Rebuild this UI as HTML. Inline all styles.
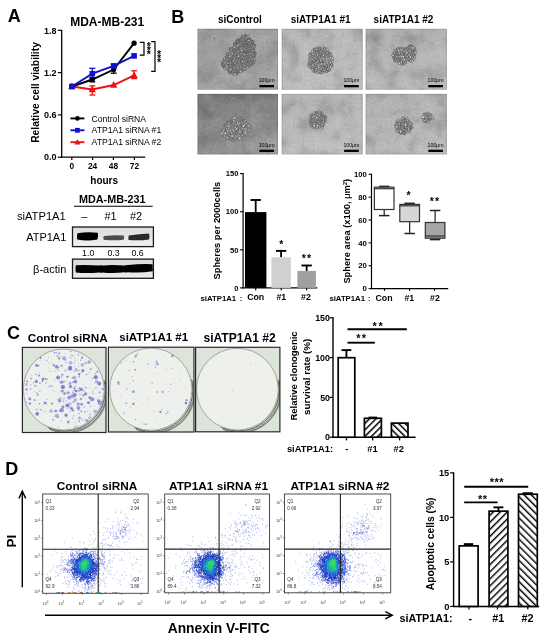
<!DOCTYPE html>
<html><head><meta charset="utf-8"><style>html,body{margin:0;padding:0;background:#fff}svg{display:block}text{font-family:"Liberation Sans",Arial,sans-serif}</style></head>
<body><svg width="550" height="642" viewBox="0 0 550 642">
<rect width="550" height="642" fill="#fff"/>
<defs>
<filter id="blur1" x="-30%" y="-60%" width="160%" height="220%"><feGaussianBlur stdDeviation="0.7"/></filter>
<linearGradient id="blotg" x1="0" y1="0" x2="0" y2="1"><stop offset="0" stop-color="#dedede"/><stop offset="0.5" stop-color="#e6e6e6"/><stop offset="1" stop-color="#f2f2f2"/></linearGradient>
<linearGradient id="blotg2" x1="0" y1="0" x2="0" y2="1"><stop offset="0" stop-color="#dadada"/><stop offset="0.5" stop-color="#e2e2e2"/><stop offset="1" stop-color="#eeeeee"/></linearGradient>
<filter id="blur05" x="-30%" y="-30%" width="160%" height="160%"><feGaussianBlur stdDeviation="1.2"/></filter>
<filter id="blur08" x="-30%" y="-60%" width="160%" height="220%"><feGaussianBlur stdDeviation="0.75"/></filter>
<filter id="blur03" x="-30%" y="-30%" width="160%" height="160%"><feGaussianBlur stdDeviation="0.5"/></filter>
<pattern id="hatchF" patternUnits="userSpaceOnUse" width="4.6" height="4.6" patternTransform="rotate(45)"><rect width="4.6" height="4.6" fill="#fff"/><rect x="0" y="0" width="1.5" height="4.6" fill="#000"/></pattern>
<pattern id="hatchB" patternUnits="userSpaceOnUse" width="4.6" height="4.6" patternTransform="rotate(-45)"><rect width="4.6" height="4.6" fill="#fff"/><rect x="0" y="0" width="1.5" height="4.6" fill="#000"/></pattern>
<pattern id="hatchF2" patternUnits="userSpaceOnUse" width="5.0" height="5.0" patternTransform="rotate(45)"><rect width="5" height="5" fill="#fff"/><rect x="0" y="0" width="1.45" height="5" fill="#000"/></pattern>
<pattern id="hatchB2" patternUnits="userSpaceOnUse" width="5.0" height="5.0" patternTransform="rotate(-45)"><rect width="5" height="5" fill="#fff"/><rect x="0" y="0" width="1.45" height="5" fill="#000"/></pattern>
<filter id="noise00" x="0" y="0" width="100%" height="100%"><feTurbulence type="fractalNoise" baseFrequency="0.06" numOctaves="3" seed="1" result="t"/><feColorMatrix in="t" type="matrix" values="0 0 0 0 1  0 0 0 0 1  0 0 0 0 1  0.4 0 0 0 -0.2" result="w"/><feColorMatrix in="t" type="matrix" values="0 0 0 0 0  0 0 0 0 0  0 0 0 0 0  -0.4 0 0 0 0.2" result="b"/><feMerge><feMergeNode in="w"/><feMergeNode in="b"/></feMerge><feComposite in2="SourceGraphic" operator="in"/></filter>
<filter id="noise01" x="0" y="0" width="100%" height="100%"><feTurbulence type="fractalNoise" baseFrequency="0.06" numOctaves="3" seed="2" result="t"/><feColorMatrix in="t" type="matrix" values="0 0 0 0 1  0 0 0 0 1  0 0 0 0 1  0.4 0 0 0 -0.2" result="w"/><feColorMatrix in="t" type="matrix" values="0 0 0 0 0  0 0 0 0 0  0 0 0 0 0  -0.4 0 0 0 0.2" result="b"/><feMerge><feMergeNode in="w"/><feMergeNode in="b"/></feMerge><feComposite in2="SourceGraphic" operator="in"/></filter>
<filter id="noise02" x="0" y="0" width="100%" height="100%"><feTurbulence type="fractalNoise" baseFrequency="0.06" numOctaves="3" seed="3" result="t"/><feColorMatrix in="t" type="matrix" values="0 0 0 0 1  0 0 0 0 1  0 0 0 0 1  0.4 0 0 0 -0.2" result="w"/><feColorMatrix in="t" type="matrix" values="0 0 0 0 0  0 0 0 0 0  0 0 0 0 0  -0.4 0 0 0 0.2" result="b"/><feMerge><feMergeNode in="w"/><feMergeNode in="b"/></feMerge><feComposite in2="SourceGraphic" operator="in"/></filter>
<filter id="noise10" x="0" y="0" width="100%" height="100%"><feTurbulence type="fractalNoise" baseFrequency="0.06" numOctaves="3" seed="4" result="t"/><feColorMatrix in="t" type="matrix" values="0 0 0 0 1  0 0 0 0 1  0 0 0 0 1  0.4 0 0 0 -0.2" result="w"/><feColorMatrix in="t" type="matrix" values="0 0 0 0 0  0 0 0 0 0  0 0 0 0 0  -0.4 0 0 0 0.2" result="b"/><feMerge><feMergeNode in="w"/><feMergeNode in="b"/></feMerge><feComposite in2="SourceGraphic" operator="in"/></filter>
<filter id="noise11" x="0" y="0" width="100%" height="100%"><feTurbulence type="fractalNoise" baseFrequency="0.06" numOctaves="3" seed="5" result="t"/><feColorMatrix in="t" type="matrix" values="0 0 0 0 1  0 0 0 0 1  0 0 0 0 1  0.4 0 0 0 -0.2" result="w"/><feColorMatrix in="t" type="matrix" values="0 0 0 0 0  0 0 0 0 0  0 0 0 0 0  -0.4 0 0 0 0.2" result="b"/><feMerge><feMergeNode in="w"/><feMergeNode in="b"/></feMerge><feComposite in2="SourceGraphic" operator="in"/></filter>
<filter id="noise12" x="0" y="0" width="100%" height="100%"><feTurbulence type="fractalNoise" baseFrequency="0.06" numOctaves="3" seed="6" result="t"/><feColorMatrix in="t" type="matrix" values="0 0 0 0 1  0 0 0 0 1  0 0 0 0 1  0.4 0 0 0 -0.2" result="w"/><feColorMatrix in="t" type="matrix" values="0 0 0 0 0  0 0 0 0 0  0 0 0 0 0  -0.4 0 0 0 0.2" result="b"/><feMerge><feMergeNode in="w"/><feMergeNode in="b"/></feMerge><feComposite in2="SourceGraphic" operator="in"/></filter>
<linearGradient id="grad00" x1="0" y1="0" x2="0.3" y2="1"><stop offset="0" stop-color="#fff" stop-opacity="0"/><stop offset="1" stop-color="#fff" stop-opacity="0.05"/></linearGradient>
<linearGradient id="grad01" x1="0" y1="0" x2="0.3" y2="1"><stop offset="0" stop-color="#000" stop-opacity="0.03"/><stop offset="1" stop-color="#fff" stop-opacity="0.03"/></linearGradient>
<linearGradient id="grad02" x1="0" y1="0" x2="0.3" y2="1"><stop offset="0" stop-color="#000" stop-opacity="0.05"/><stop offset="1" stop-color="#fff" stop-opacity="0.03"/></linearGradient>
<linearGradient id="grad10" x1="0" y1="0" x2="0.3" y2="1"><stop offset="0" stop-color="#000" stop-opacity="0.15"/><stop offset="0.55" stop-color="#000" stop-opacity="0.0"/><stop offset="1" stop-color="#fff" stop-opacity="0.12"/></linearGradient>
<linearGradient id="grad11" x1="0" y1="0" x2="0.3" y2="1"><stop offset="0" stop-color="#000" stop-opacity="0.02"/><stop offset="1" stop-color="#fff" stop-opacity="0.08"/></linearGradient>
<linearGradient id="grad12" x1="0" y1="0" x2="0.3" y2="1"><stop offset="0" stop-color="#000" stop-opacity="0.03"/><stop offset="1" stop-color="#fff" stop-opacity="0.06"/></linearGradient>
<filter id="grain" x="0" y="0" width="100%" height="100%"><feTurbulence type="fractalNoise" baseFrequency="0.45" numOctaves="2" seed="11" result="t"/><feColorMatrix in="t" type="matrix" values="0 0 0 0 1  0 0 0 0 1  0 0 0 0 1  0.18 0 0 0 -0.09" result="w"/><feColorMatrix in="t" type="matrix" values="0 0 0 0 0  0 0 0 0 0  0 0 0 0 0  -0.18 0 0 0 0.09" result="b"/><feMerge><feMergeNode in="w"/><feMergeNode in="b"/></feMerge><feComposite in2="SourceGraphic" operator="in"/></filter></defs>
<text x="7.7" y="21.9" font-size="18" font-weight="bold" text-anchor="start" fill="#000" >A</text>
<text x="107.2" y="25.5" font-size="12" font-weight="bold" text-anchor="middle" fill="#000" >MDA-MB-231</text>
<line x1="61.7" y1="29.75" x2="61.7" y2="157.8" stroke="#000" stroke-width="1.3" />
<line x1="61.1" y1="157.2" x2="145.2" y2="157.2" stroke="#000" stroke-width="1.3" />
<line x1="57.8" y1="157.2" x2="61.7" y2="157.2" stroke="#000" stroke-width="1.2" />
<text x="56.6" y="160.4" font-size="9" font-weight="bold" text-anchor="end" fill="#000" >0.0</text>
<line x1="57.8" y1="114.92" x2="61.7" y2="114.92" stroke="#000" stroke-width="1.2" />
<text x="56.6" y="118.12" font-size="9" font-weight="bold" text-anchor="end" fill="#000" >0.6</text>
<line x1="57.8" y1="72.64" x2="61.7" y2="72.64" stroke="#000" stroke-width="1.2" />
<text x="56.6" y="75.84" font-size="9" font-weight="bold" text-anchor="end" fill="#000" >1.2</text>
<line x1="57.8" y1="30.35" x2="61.7" y2="30.35" stroke="#000" stroke-width="1.2" />
<text x="56.6" y="33.55" font-size="9" font-weight="bold" text-anchor="end" fill="#000" >1.8</text>
<line x1="71.8" y1="157.2" x2="71.8" y2="160" stroke="#000" stroke-width="1.2" />
<text x="71.8" y="169.3" font-size="8.4" font-weight="bold" text-anchor="middle" fill="#000" >0</text>
<line x1="92.6" y1="157.2" x2="92.6" y2="160" stroke="#000" stroke-width="1.2" />
<text x="92.6" y="169.3" font-size="8.4" font-weight="bold" text-anchor="middle" fill="#000" >24</text>
<line x1="113.4" y1="157.2" x2="113.4" y2="160" stroke="#000" stroke-width="1.2" />
<text x="113.4" y="169.3" font-size="8.4" font-weight="bold" text-anchor="middle" fill="#000" >48</text>
<line x1="134.4" y1="157.2" x2="134.4" y2="160" stroke="#000" stroke-width="1.2" />
<text x="134.4" y="169.3" font-size="8.4" font-weight="bold" text-anchor="middle" fill="#000" >72</text>
<text x="104.2" y="183.7" font-size="10" font-weight="bold" text-anchor="middle" fill="#000" >hours</text>
<text transform="translate(39,92.5) rotate(-90)" font-size="10.3" font-weight="bold" text-anchor="middle" fill="#000">Relative cell viability</text>
<line x1="92.3" y1="77.7" x2="92.3" y2="81.9" stroke="#000" stroke-width="1.3" />
<line x1="89.3" y1="77.7" x2="95.3" y2="77.7" stroke="#000" stroke-width="1.3" />
<line x1="89.3" y1="81.9" x2="95.3" y2="81.9" stroke="#000" stroke-width="1.3" />
<line x1="113.7" y1="66.8" x2="113.7" y2="73.2" stroke="#000" stroke-width="1.3" />
<line x1="110.7" y1="66.8" x2="116.7" y2="66.8" stroke="#000" stroke-width="1.3" />
<line x1="110.7" y1="73.2" x2="116.7" y2="73.2" stroke="#000" stroke-width="1.3" />
<line x1="92.3" y1="68.3" x2="92.3" y2="78.6" stroke="#1010d0" stroke-width="1.3" />
<line x1="89.3" y1="68.3" x2="95.3" y2="68.3" stroke="#1010d0" stroke-width="1.3" />
<line x1="89.3" y1="78.6" x2="95.3" y2="78.6" stroke="#1010d0" stroke-width="1.3" />
<line x1="113.7" y1="64.2" x2="113.7" y2="67.6" stroke="#1010d0" stroke-width="1.3" />
<line x1="110.7" y1="64.2" x2="116.7" y2="64.2" stroke="#1010d0" stroke-width="1.3" />
<line x1="110.7" y1="67.6" x2="116.7" y2="67.6" stroke="#1010d0" stroke-width="1.3" />
<line x1="92.3" y1="85.9" x2="92.3" y2="95" stroke="#f01010" stroke-width="1.3" />
<line x1="89.3" y1="85.9" x2="95.3" y2="85.9" stroke="#f01010" stroke-width="1.3" />
<line x1="89.3" y1="95" x2="95.3" y2="95" stroke="#f01010" stroke-width="1.3" />
<line x1="134.1" y1="70.8" x2="134.1" y2="78.6" stroke="#f01010" stroke-width="1.3" />
<line x1="131.1" y1="70.8" x2="137.1" y2="70.8" stroke="#f01010" stroke-width="1.3" />
<line x1="131.1" y1="78.6" x2="137.1" y2="78.6" stroke="#f01010" stroke-width="1.3" />
<polyline points="71.9,86.5 92.3,89.5 113.7,85 134.1,75.4" stroke="#f01010" stroke-width="1.9" fill="none" />
<polyline points="71.9,86.5 92.3,79.5 113.7,69.5 134.1,43.2" stroke="#000" stroke-width="1.9" fill="none" />
<polyline points="71.9,86.5 92.3,73.7 113.7,65.9 134.1,55.9" stroke="#1010d0" stroke-width="1.9" fill="none" />
<polygon points="71.9,82.54 75.53,89.14 68.27,89.14" fill="#f01010"/>
<polygon points="92.3,85.54 95.93,92.14 88.67,92.14" fill="#f01010"/>
<polygon points="113.7,81.04 117.33,87.64 110.07,87.64" fill="#f01010"/>
<polygon points="134.1,71.44 137.73,78.04 130.47,78.04" fill="#f01010"/>
<circle cx="71.9" cy="86.5" r="2.6" fill="#000" stroke="none" stroke-width="1" />
<circle cx="92.3" cy="79.5" r="2.6" fill="#000" stroke="none" stroke-width="1" />
<circle cx="113.7" cy="69.5" r="2.6" fill="#000" stroke="none" stroke-width="1" />
<circle cx="134.1" cy="43.2" r="2.6" fill="#000" stroke="none" stroke-width="1" />
<rect x="69.1" y="83.7" width="5.6" height="5.6" fill="#1010d0" stroke="none" stroke-width="1" />
<rect x="89.5" y="70.9" width="5.6" height="5.6" fill="#1010d0" stroke="none" stroke-width="1" />
<rect x="110.9" y="63.1" width="5.6" height="5.6" fill="#1010d0" stroke="none" stroke-width="1" />
<rect x="131.3" y="53.1" width="5.6" height="5.6" fill="#1010d0" stroke="none" stroke-width="1" />
<polyline points="139.7,42.3 144,42.3 144,55.2 139.7,55.2" stroke="#000" stroke-width="1.2" fill="none" />
<polyline points="151.2,41.6 155,41.6 155,71.4 151.2,71.4" stroke="#000" stroke-width="1.2" fill="none" />
<text x="148.75" y="49.86" font-size="10.5" font-weight="bold" text-anchor="middle" fill="#000" >*</text>
<text x="148.75" y="53.75" font-size="10.5" font-weight="bold" text-anchor="middle" fill="#000" >*</text>
<text x="148.75" y="57.66" font-size="10.5" font-weight="bold" text-anchor="middle" fill="#000" >*</text>
<text x="159.05" y="57.81" font-size="10.5" font-weight="bold" text-anchor="middle" fill="#000" >*</text>
<text x="159.05" y="61.7" font-size="10.5" font-weight="bold" text-anchor="middle" fill="#000" >*</text>
<text x="159.05" y="65.61" font-size="10.5" font-weight="bold" text-anchor="middle" fill="#000" >*</text>
<line x1="70.4" y1="118.4" x2="84.4" y2="118.4" stroke="#000" stroke-width="1.9" />
<circle cx="77.4" cy="118.4" r="2.3" fill="#000" stroke="none" stroke-width="1" />
<text x="91.6" y="121.5" font-size="8.6" font-weight="normal" text-anchor="start" fill="#000" >Control siRNA</text>
<line x1="70.4" y1="130.3" x2="84.4" y2="130.3" stroke="#1010d0" stroke-width="1.9" />
<rect x="75" y="127.9" width="4.8" height="4.8" fill="#1010d0" stroke="none" stroke-width="1" />
<text x="91.6" y="133.4" font-size="8.6" font-weight="normal" text-anchor="start" fill="#000" >ATP1A1 siRNA #1</text>
<line x1="70.4" y1="142.2" x2="84.4" y2="142.2" stroke="#f01010" stroke-width="1.9" />
<polygon points="77.4,138.9 80.43,144.4 74.38,144.4" fill="#f01010"/>
<text x="91.6" y="145.3" font-size="8.6" font-weight="normal" text-anchor="start" fill="#000" >ATP1A1 siRNA #2</text>
<text x="112.3" y="203" font-size="10.8" font-weight="bold" text-anchor="middle" fill="#000" >MDA-MB-231</text>
<line x1="74" y1="206.2" x2="152.7" y2="206.2" stroke="#000" stroke-width="1.1" />
<text x="16.9" y="220" font-size="11.2" font-weight="normal" text-anchor="start" fill="#000" >siATP1A1</text>
<text x="84.3" y="220" font-size="11" font-weight="normal" text-anchor="middle" fill="#000" >–</text>
<text x="110.5" y="220" font-size="11" font-weight="normal" text-anchor="middle" fill="#000" >#1</text>
<text x="136" y="220" font-size="11" font-weight="normal" text-anchor="middle" fill="#000" >#2</text>
<text x="66.3" y="240.8" font-size="11" font-weight="normal" text-anchor="end" fill="#000" >ATP1A1</text>
<text x="66.3" y="272.7" font-size="11" font-weight="normal" text-anchor="end" fill="#000" >β-actin</text>
<text x="88.2" y="256.3" font-size="8.8" font-weight="normal" text-anchor="middle" fill="#000" >1.0</text>
<text x="113.6" y="256.3" font-size="8.8" font-weight="normal" text-anchor="middle" fill="#000" >0.3</text>
<text x="137.6" y="256.3" font-size="8.8" font-weight="normal" text-anchor="middle" fill="#000" >0.6</text>
<rect x="72.5" y="227" width="80.9" height="19.6" fill="url(#blotg)" stroke="none" stroke-width="1" />
<rect x="72.5" y="259.1" width="80.9" height="19.2" fill="url(#blotg2)" stroke="none" stroke-width="1" />
<g filter="url(#blur1)">
<path d="M77.5,233.2 Q87.5,231.6 97.8,232.8 Q98.6,236 97.4,239.6 Q87.5,241.6 77.2,239.6 Q76.4,236 77.5,233.2Z" fill="#050505"/>
<path d="M103.8,236.0 Q113.5,234.8 123.8,235.4 Q124.4,237.6 123.6,239.8 Q113.5,240.8 103.6,239.8 Q103.0,237.8 103.8,236.0Z" fill="#4e4e4e" filter="url(#blur08)"/>
<path d="M128.8,235.4 Q139,234.0 149.2,233.4 Q149.8,236.4 149,239.4 Q139,240.8 128.6,240.0 Q128.0,237.6 128.8,235.4Z" fill="#2a2a2a" filter="url(#blur03)"/>
<path d="M75.8,265.2 Q87,264.6 98.8,265.6 Q101,265 103,265.4 Q113,264.6 124.8,265.6 Q126.5,264.6 128,265.0 Q140,263.8 152.6,264.2 L152.8,271.2 Q140,273.4 127.5,272.2 Q126,272.8 124.5,272.2 Q113,273.6 102.5,272.4 Q101,273 99,272.4 Q87,273.6 75.8,272.4 Q75.2,268.8 75.8,265.2Z" fill="#050505"/>
</g>
<rect x="72.5" y="227" width="80.9" height="19.6" fill="none" stroke="#1a1a1a" stroke-width="1.3" />
<rect x="72.5" y="259.1" width="80.9" height="19.2" fill="none" stroke="#1a1a1a" stroke-width="1.3" />
<text x="171.2" y="23.2" font-size="18" font-weight="bold" text-anchor="start" fill="#000" >B</text>
<text x="239.85" y="23.2" font-size="10" font-weight="bold" text-anchor="middle" fill="#000" >siControl</text>
<text x="320.6" y="23.2" font-size="10" font-weight="bold" text-anchor="middle" fill="#000" >siATP1A1 #1</text>
<text x="403.5" y="23.2" font-size="10" font-weight="bold" text-anchor="middle" fill="#000" >siATP1A1 #2</text>
<rect x="197.5" y="28.8" width="80.5" height="60.9" fill="#9d9d9d" stroke="none" stroke-width="1" />
<rect x="197.5" y="28.8" width="80.5" height="60.9" fill="#fff" stroke="none" stroke-width="1" filter="url(#noise00)" opacity="1"/>
<rect x="197.5" y="28.8" width="80.5" height="60.9" fill="url(#grad00)" stroke="none" stroke-width="1" />
<rect x="197.5" y="28.8" width="80.5" height="60.9" fill="#fff" stroke="none" stroke-width="1" filter="url(#grain)"/>
<rect x="198" y="29.3" width="79.5" height="59.9" fill="none" stroke="#000" stroke-width="1" stroke-opacity="0.10"/>
<polygon points="246.4,34.6 254.8,42.3 255.5,54.5 254,65.2 241.8,71.3 232.6,75.9 223.5,68.2 221.2,62.9 226.5,54.5 232.6,46.8 237.2,39.2 241.8,36.2" fill="#858585" filter="url(#blur03)"/>
<circle cx="243.53" cy="37.59" r="1.09" fill="#b8b8b8" stroke="#4a4a4a" stroke-width="0.55"/>
<circle cx="235.54" cy="44.54" r="1.1" fill="#909090" stroke="#4a4a4a" stroke-width="0.55"/>
<circle cx="249.56" cy="39.71" r="0.92" fill="#909090" stroke="#4a4a4a" stroke-width="0.55"/>
<circle cx="240.99" cy="50.98" r="1.34" fill="#909090" stroke="#4a4a4a" stroke-width="0.55"/>
<circle cx="240.29" cy="40.1" r="1.03" fill="#909090" stroke="#4a4a4a" stroke-width="0.55"/>
<circle cx="240.78" cy="57.74" r="1.18" fill="#909090" stroke="#4a4a4a" stroke-width="0.55"/>
<circle cx="241.15" cy="60.99" r="1" fill="#909090" stroke="#4a4a4a" stroke-width="0.55"/>
<circle cx="240.56" cy="60.17" r="1.07" fill="#c8c8c8" stroke="#4a4a4a" stroke-width="0.55"/>
<circle cx="247.86" cy="53.83" r="1.31" fill="#b8b8b8" stroke="#4a4a4a" stroke-width="0.55"/>
<circle cx="231.48" cy="67.41" r="1.18" fill="#a4a4a4" stroke="#4a4a4a" stroke-width="0.55"/>
<circle cx="238.18" cy="48.79" r="1.05" fill="#909090" stroke="#4a4a4a" stroke-width="0.55"/>
<circle cx="247.17" cy="40.88" r="1.07" fill="#909090" stroke="#4a4a4a" stroke-width="0.55"/>
<circle cx="240.34" cy="67.19" r="1.25" fill="#b8b8b8" stroke="#4a4a4a" stroke-width="0.55"/>
<circle cx="245.05" cy="59.15" r="1.12" fill="#c8c8c8" stroke="#4a4a4a" stroke-width="0.55"/>
<circle cx="230.46" cy="63.39" r="0.84" fill="#b8b8b8" stroke="#4a4a4a" stroke-width="0.55"/>
<circle cx="249.39" cy="46.35" r="1.01" fill="#b8b8b8" stroke="#4a4a4a" stroke-width="0.55"/>
<circle cx="223.22" cy="66.33" r="0.87" fill="#a4a4a4" stroke="#4a4a4a" stroke-width="0.55"/>
<circle cx="234.85" cy="72.46" r="1.07" fill="#a4a4a4" stroke="#4a4a4a" stroke-width="0.55"/>
<circle cx="236.61" cy="57.29" r="1.29" fill="#c8c8c8" stroke="#4a4a4a" stroke-width="0.55"/>
<circle cx="250.83" cy="46.1" r="1.03" fill="#b8b8b8" stroke="#4a4a4a" stroke-width="0.55"/>
<circle cx="244.62" cy="50.31" r="0.93" fill="#909090" stroke="#4a4a4a" stroke-width="0.55"/>
<circle cx="229.2" cy="54.63" r="1.12" fill="#b8b8b8" stroke="#4a4a4a" stroke-width="0.55"/>
<circle cx="239.54" cy="59.79" r="0.98" fill="#a4a4a4" stroke="#4a4a4a" stroke-width="0.55"/>
<circle cx="244.88" cy="55.89" r="1.14" fill="#909090" stroke="#4a4a4a" stroke-width="0.55"/>
<circle cx="236.86" cy="70.57" r="1.32" fill="#c8c8c8" stroke="#4a4a4a" stroke-width="0.55"/>
<circle cx="234.85" cy="50.88" r="1.06" fill="#c8c8c8" stroke="#4a4a4a" stroke-width="0.55"/>
<circle cx="242.26" cy="40.74" r="0.94" fill="#b8b8b8" stroke="#4a4a4a" stroke-width="0.55"/>
<circle cx="241.86" cy="54.18" r="0.86" fill="#c8c8c8" stroke="#4a4a4a" stroke-width="0.55"/>
<circle cx="255.26" cy="53.85" r="1.07" fill="#909090" stroke="#4a4a4a" stroke-width="0.55"/>
<circle cx="226.14" cy="65.56" r="1.21" fill="#c8c8c8" stroke="#4a4a4a" stroke-width="0.55"/>
<circle cx="249.63" cy="41.27" r="0.81" fill="#b8b8b8" stroke="#4a4a4a" stroke-width="0.55"/>
<circle cx="226.23" cy="57.03" r="0.81" fill="#b8b8b8" stroke="#4a4a4a" stroke-width="0.55"/>
<circle cx="245.08" cy="45.38" r="1" fill="#a4a4a4" stroke="#4a4a4a" stroke-width="0.55"/>
<circle cx="239.78" cy="55.36" r="1.15" fill="#a4a4a4" stroke="#4a4a4a" stroke-width="0.55"/>
<circle cx="246.58" cy="43.96" r="1.08" fill="#b8b8b8" stroke="#4a4a4a" stroke-width="0.55"/>
<circle cx="248.3" cy="54.1" r="0.91" fill="#b8b8b8" stroke="#4a4a4a" stroke-width="0.55"/>
<circle cx="236.54" cy="73.3" r="1.34" fill="#b8b8b8" stroke="#4a4a4a" stroke-width="0.55"/>
<circle cx="237.32" cy="48.55" r="1.07" fill="#909090" stroke="#4a4a4a" stroke-width="0.55"/>
<circle cx="237.65" cy="61.57" r="1.24" fill="#909090" stroke="#4a4a4a" stroke-width="0.55"/>
<circle cx="249.83" cy="39.55" r="1.01" fill="#a4a4a4" stroke="#4a4a4a" stroke-width="0.55"/>
<circle cx="237.6" cy="41.97" r="1.23" fill="#b8b8b8" stroke="#4a4a4a" stroke-width="0.55"/>
<circle cx="245.96" cy="53.73" r="1.21" fill="#909090" stroke="#4a4a4a" stroke-width="0.55"/>
<circle cx="246.06" cy="41.62" r="0.87" fill="#a4a4a4" stroke="#4a4a4a" stroke-width="0.55"/>
<circle cx="241.46" cy="53.82" r="1.16" fill="#c8c8c8" stroke="#4a4a4a" stroke-width="0.55"/>
<circle cx="243.74" cy="49.07" r="1.1" fill="#a4a4a4" stroke="#4a4a4a" stroke-width="0.55"/>
<circle cx="246.11" cy="38.84" r="1.21" fill="#a4a4a4" stroke="#4a4a4a" stroke-width="0.55"/>
<circle cx="236.08" cy="70.6" r="1.25" fill="#a4a4a4" stroke="#4a4a4a" stroke-width="0.55"/>
<circle cx="238.39" cy="66.14" r="0.98" fill="#c8c8c8" stroke="#4a4a4a" stroke-width="0.55"/>
<circle cx="243.92" cy="68.26" r="1.08" fill="#a4a4a4" stroke="#4a4a4a" stroke-width="0.55"/>
<circle cx="239.44" cy="56.22" r="0.81" fill="#c8c8c8" stroke="#4a4a4a" stroke-width="0.55"/>
<circle cx="247.83" cy="59.73" r="1.23" fill="#a4a4a4" stroke="#4a4a4a" stroke-width="0.55"/>
<circle cx="227.11" cy="54.16" r="1.2" fill="#909090" stroke="#4a4a4a" stroke-width="0.55"/>
<circle cx="232.38" cy="56.01" r="1.11" fill="#909090" stroke="#4a4a4a" stroke-width="0.55"/>
<circle cx="254.59" cy="59.63" r="0.91" fill="#b8b8b8" stroke="#4a4a4a" stroke-width="0.55"/>
<circle cx="236.72" cy="56.62" r="1.06" fill="#a4a4a4" stroke="#4a4a4a" stroke-width="0.55"/>
<circle cx="253.52" cy="45.32" r="1.11" fill="#a4a4a4" stroke="#4a4a4a" stroke-width="0.55"/>
<circle cx="250.01" cy="40.26" r="0.87" fill="#c8c8c8" stroke="#4a4a4a" stroke-width="0.55"/>
<circle cx="232.04" cy="62.32" r="1.04" fill="#a4a4a4" stroke="#4a4a4a" stroke-width="0.55"/>
<circle cx="244.16" cy="66.98" r="1.29" fill="#a4a4a4" stroke="#4a4a4a" stroke-width="0.55"/>
<circle cx="253.43" cy="61.17" r="1" fill="#b8b8b8" stroke="#4a4a4a" stroke-width="0.55"/>
<circle cx="234.86" cy="54.72" r="1.34" fill="#a4a4a4" stroke="#4a4a4a" stroke-width="0.55"/>
<circle cx="238.89" cy="48.61" r="0.91" fill="#b8b8b8" stroke="#4a4a4a" stroke-width="0.55"/>
<circle cx="232.79" cy="53.54" r="1.19" fill="#c8c8c8" stroke="#4a4a4a" stroke-width="0.55"/>
<circle cx="232.57" cy="60.37" r="1.08" fill="#909090" stroke="#4a4a4a" stroke-width="0.55"/>
<circle cx="229.04" cy="70.79" r="0.85" fill="#b8b8b8" stroke="#4a4a4a" stroke-width="0.55"/>
<circle cx="235.68" cy="72.24" r="1.25" fill="#b8b8b8" stroke="#4a4a4a" stroke-width="0.55"/>
<circle cx="235.12" cy="56.76" r="1.08" fill="#c8c8c8" stroke="#4a4a4a" stroke-width="0.55"/>
<circle cx="245.22" cy="38.29" r="0.83" fill="#a4a4a4" stroke="#4a4a4a" stroke-width="0.55"/>
<circle cx="253.39" cy="60.8" r="1.24" fill="#909090" stroke="#4a4a4a" stroke-width="0.55"/>
<circle cx="242.06" cy="43.79" r="0.95" fill="#909090" stroke="#4a4a4a" stroke-width="0.55"/>
<circle cx="236.76" cy="48.61" r="1.1" fill="#b8b8b8" stroke="#4a4a4a" stroke-width="0.55"/>
<circle cx="242.52" cy="36.38" r="1.19" fill="#909090" stroke="#4a4a4a" stroke-width="0.55"/>
<circle cx="254.44" cy="45.42" r="0.9" fill="#b8b8b8" stroke="#4a4a4a" stroke-width="0.55"/>
<circle cx="242.76" cy="56.53" r="0.91" fill="#c8c8c8" stroke="#4a4a4a" stroke-width="0.55"/>
<circle cx="238.35" cy="41.95" r="0.99" fill="#909090" stroke="#4a4a4a" stroke-width="0.55"/>
<circle cx="254.75" cy="55.84" r="0.94" fill="#c8c8c8" stroke="#4a4a4a" stroke-width="0.55"/>
<circle cx="224.85" cy="68.42" r="1.04" fill="#c8c8c8" stroke="#4a4a4a" stroke-width="0.55"/>
<circle cx="239.92" cy="71.3" r="1.33" fill="#b8b8b8" stroke="#4a4a4a" stroke-width="0.55"/>
<circle cx="232.95" cy="68.97" r="1.19" fill="#a4a4a4" stroke="#4a4a4a" stroke-width="0.55"/>
<circle cx="235.08" cy="48.95" r="0.83" fill="#a4a4a4" stroke="#4a4a4a" stroke-width="0.55"/>
<circle cx="251.38" cy="52.39" r="0.83" fill="#c8c8c8" stroke="#4a4a4a" stroke-width="0.55"/>
<circle cx="251.06" cy="62.29" r="0.96" fill="#a4a4a4" stroke="#4a4a4a" stroke-width="0.55"/>
<circle cx="244.96" cy="36.47" r="0.9" fill="#b8b8b8" stroke="#4a4a4a" stroke-width="0.55"/>
<circle cx="236.49" cy="45.47" r="1.33" fill="#b8b8b8" stroke="#4a4a4a" stroke-width="0.55"/>
<circle cx="231.82" cy="49.33" r="0.8" fill="#c8c8c8" stroke="#4a4a4a" stroke-width="0.55"/>
<circle cx="243.7" cy="44.85" r="1.23" fill="#909090" stroke="#4a4a4a" stroke-width="0.55"/>
<circle cx="229.19" cy="58.78" r="1.09" fill="#a4a4a4" stroke="#4a4a4a" stroke-width="0.55"/>
<circle cx="243.75" cy="64.17" r="1.28" fill="#c8c8c8" stroke="#4a4a4a" stroke-width="0.55"/>
<circle cx="247.42" cy="64.36" r="1.07" fill="#b8b8b8" stroke="#4a4a4a" stroke-width="0.55"/>
<circle cx="246.04" cy="61.16" r="0.82" fill="#c8c8c8" stroke="#4a4a4a" stroke-width="0.55"/>
<circle cx="246.37" cy="68.14" r="0.88" fill="#909090" stroke="#4a4a4a" stroke-width="0.55"/>
<circle cx="249.55" cy="58.72" r="1.29" fill="#a4a4a4" stroke="#4a4a4a" stroke-width="0.55"/>
<circle cx="234.12" cy="53.24" r="0.83" fill="#909090" stroke="#4a4a4a" stroke-width="0.55"/>
<circle cx="242.68" cy="62.71" r="1.07" fill="#909090" stroke="#4a4a4a" stroke-width="0.55"/>
<circle cx="246.78" cy="54.17" r="1.25" fill="#b8b8b8" stroke="#4a4a4a" stroke-width="0.55"/>
<circle cx="229.25" cy="65.84" r="0.93" fill="#c8c8c8" stroke="#4a4a4a" stroke-width="0.55"/>
<circle cx="238.14" cy="50.4" r="1.06" fill="#b8b8b8" stroke="#4a4a4a" stroke-width="0.55"/>
<circle cx="247.51" cy="60.08" r="1.15" fill="#909090" stroke="#4a4a4a" stroke-width="0.55"/>
<circle cx="241.77" cy="48.3" r="1.16" fill="#b8b8b8" stroke="#4a4a4a" stroke-width="0.55"/>
<circle cx="242.51" cy="40.11" r="1.07" fill="#c8c8c8" stroke="#4a4a4a" stroke-width="0.55"/>
<circle cx="230.42" cy="62.35" r="1.18" fill="#c8c8c8" stroke="#4a4a4a" stroke-width="0.55"/>
<circle cx="231.18" cy="55.93" r="1.06" fill="#c8c8c8" stroke="#4a4a4a" stroke-width="0.55"/>
<circle cx="240.03" cy="47.47" r="0.85" fill="#c8c8c8" stroke="#4a4a4a" stroke-width="0.55"/>
<circle cx="236.62" cy="45.7" r="0.92" fill="#a4a4a4" stroke="#4a4a4a" stroke-width="0.55"/>
<circle cx="246.84" cy="45.41" r="1" fill="#b8b8b8" stroke="#4a4a4a" stroke-width="0.55"/>
<circle cx="251.62" cy="63.65" r="0.93" fill="#c8c8c8" stroke="#4a4a4a" stroke-width="0.55"/>
<circle cx="253.78" cy="62.75" r="1.02" fill="#a4a4a4" stroke="#4a4a4a" stroke-width="0.55"/>
<circle cx="235.48" cy="50.13" r="0.87" fill="#b8b8b8" stroke="#4a4a4a" stroke-width="0.55"/>
<circle cx="249.98" cy="39.56" r="1.31" fill="#909090" stroke="#4a4a4a" stroke-width="0.55"/>
<circle cx="252.12" cy="46.57" r="1" fill="#c8c8c8" stroke="#4a4a4a" stroke-width="0.55"/>
<circle cx="234.58" cy="70.53" r="0.84" fill="#c8c8c8" stroke="#4a4a4a" stroke-width="0.55"/>
<circle cx="243.91" cy="60.82" r="0.88" fill="#b8b8b8" stroke="#4a4a4a" stroke-width="0.55"/>
<circle cx="236.16" cy="47.63" r="1.23" fill="#c8c8c8" stroke="#4a4a4a" stroke-width="0.55"/>
<circle cx="253.47" cy="57.28" r="1.2" fill="#909090" stroke="#4a4a4a" stroke-width="0.55"/>
<circle cx="253.22" cy="51.57" r="1.14" fill="#a4a4a4" stroke="#4a4a4a" stroke-width="0.55"/>
<circle cx="243.31" cy="46.42" r="0.83" fill="#a4a4a4" stroke="#4a4a4a" stroke-width="0.55"/>
<circle cx="246.54" cy="61.56" r="1.02" fill="#a4a4a4" stroke="#4a4a4a" stroke-width="0.55"/>
<circle cx="231.52" cy="57.62" r="1.02" fill="#a4a4a4" stroke="#4a4a4a" stroke-width="0.55"/>
<circle cx="243.26" cy="37.7" r="1.08" fill="#c8c8c8" stroke="#4a4a4a" stroke-width="0.55"/>
<circle cx="240.08" cy="53.31" r="0.98" fill="#c8c8c8" stroke="#4a4a4a" stroke-width="0.55"/>
<circle cx="235.86" cy="57.22" r="0.93" fill="#a4a4a4" stroke="#4a4a4a" stroke-width="0.55"/>
<circle cx="240.74" cy="71.24" r="1.21" fill="#c8c8c8" stroke="#4a4a4a" stroke-width="0.55"/>
<circle cx="234.33" cy="65.4" r="0.92" fill="#b8b8b8" stroke="#4a4a4a" stroke-width="0.55"/>
<circle cx="242.8" cy="70.24" r="0.92" fill="#b8b8b8" stroke="#4a4a4a" stroke-width="0.55"/>
<circle cx="251.96" cy="50.48" r="1.16" fill="#c8c8c8" stroke="#4a4a4a" stroke-width="0.55"/>
<circle cx="222.31" cy="63.9" r="1.29" fill="#c8c8c8" stroke="#4a4a4a" stroke-width="0.55"/>
<circle cx="254.41" cy="54.83" r="0.84" fill="#c8c8c8" stroke="#4a4a4a" stroke-width="0.55"/>
<circle cx="254.55" cy="44.86" r="0.86" fill="#a4a4a4" stroke="#4a4a4a" stroke-width="0.55"/>
<circle cx="224.93" cy="68.69" r="1.19" fill="#c8c8c8" stroke="#4a4a4a" stroke-width="0.55"/>
<circle cx="224.12" cy="66.68" r="0.8" fill="#a4a4a4" stroke="#4a4a4a" stroke-width="0.55"/>
<circle cx="229.18" cy="72.59" r="1.16" fill="#b8b8b8" stroke="#4a4a4a" stroke-width="0.55"/>
<circle cx="254.21" cy="60.47" r="1.09" fill="#c8c8c8" stroke="#4a4a4a" stroke-width="0.55"/>
<circle cx="245.16" cy="39.23" r="0.84" fill="#a4a4a4" stroke="#4a4a4a" stroke-width="0.55"/>
<circle cx="234.51" cy="43.83" r="1.13" fill="#909090" stroke="#4a4a4a" stroke-width="0.55"/>
<circle cx="249.99" cy="44.61" r="1.09" fill="#a4a4a4" stroke="#4a4a4a" stroke-width="0.55"/>
<circle cx="243.48" cy="36.88" r="0.91" fill="#c8c8c8" stroke="#4a4a4a" stroke-width="0.55"/>
<circle cx="235.75" cy="49.89" r="1.07" fill="#b8b8b8" stroke="#4a4a4a" stroke-width="0.55"/>
<circle cx="245.84" cy="49.56" r="1.02" fill="#909090" stroke="#4a4a4a" stroke-width="0.55"/>
<circle cx="248.54" cy="65.13" r="1.08" fill="#a4a4a4" stroke="#4a4a4a" stroke-width="0.55"/>
<circle cx="238.2" cy="42.88" r="1.22" fill="#a4a4a4" stroke="#4a4a4a" stroke-width="0.55"/>
<circle cx="247.28" cy="46.78" r="1.32" fill="#c8c8c8" stroke="#4a4a4a" stroke-width="0.55"/>
<circle cx="237.84" cy="72.2" r="0.83" fill="#a4a4a4" stroke="#4a4a4a" stroke-width="0.55"/>
<circle cx="235.45" cy="63.92" r="0.9" fill="#c8c8c8" stroke="#4a4a4a" stroke-width="0.55"/>
<circle cx="253.15" cy="48.2" r="0.9" fill="#c8c8c8" stroke="#4a4a4a" stroke-width="0.55"/>
<circle cx="222.29" cy="62.04" r="1.01" fill="#b8b8b8" stroke="#4a4a4a" stroke-width="0.55"/>
<circle cx="254.98" cy="52.87" r="0.86" fill="#909090" stroke="#4a4a4a" stroke-width="0.55"/>
<circle cx="230.8" cy="49.12" r="1.33" fill="#909090" stroke="#4a4a4a" stroke-width="0.55"/>
<circle cx="240.45" cy="65.94" r="1.01" fill="#b8b8b8" stroke="#4a4a4a" stroke-width="0.55"/>
<circle cx="249.39" cy="52.46" r="0.83" fill="#c8c8c8" stroke="#4a4a4a" stroke-width="0.55"/>
<circle cx="227.91" cy="56.97" r="1.05" fill="#b8b8b8" stroke="#4a4a4a" stroke-width="0.55"/>
<circle cx="233.69" cy="71.65" r="0.82" fill="#c8c8c8" stroke="#4a4a4a" stroke-width="0.55"/>
<circle cx="229.71" cy="60.43" r="1.02" fill="#c8c8c8" stroke="#4a4a4a" stroke-width="0.55"/>
<circle cx="252.76" cy="45.21" r="1.21" fill="#b8b8b8" stroke="#4a4a4a" stroke-width="0.55"/>
<circle cx="233.65" cy="48.43" r="1.32" fill="#909090" stroke="#4a4a4a" stroke-width="0.55"/>
<circle cx="230.19" cy="64.2" r="0.97" fill="#b8b8b8" stroke="#4a4a4a" stroke-width="0.55"/>
<circle cx="231.4" cy="64.4" r="1.13" fill="#909090" stroke="#4a4a4a" stroke-width="0.55"/>
<circle cx="253.92" cy="50.56" r="0.94" fill="#c8c8c8" stroke="#4a4a4a" stroke-width="0.55"/>
<circle cx="249.15" cy="40.08" r="1.07" fill="#909090" stroke="#4a4a4a" stroke-width="0.55"/>
<circle cx="248.73" cy="65.1" r="1.25" fill="#a4a4a4" stroke="#4a4a4a" stroke-width="0.55"/>
<circle cx="242.03" cy="48.14" r="0.98" fill="#b8b8b8" stroke="#4a4a4a" stroke-width="0.55"/>
<circle cx="248.09" cy="59.2" r="1.08" fill="#c8c8c8" stroke="#4a4a4a" stroke-width="0.55"/>
<circle cx="247.02" cy="44.81" r="0.84" fill="#909090" stroke="#4a4a4a" stroke-width="0.55"/>
<circle cx="237.72" cy="57.09" r="0.89" fill="#c8c8c8" stroke="#4a4a4a" stroke-width="0.55"/>
<circle cx="245.55" cy="53.06" r="0.93" fill="#c8c8c8" stroke="#4a4a4a" stroke-width="0.55"/>
<circle cx="237.01" cy="71.41" r="0.93" fill="#909090" stroke="#4a4a4a" stroke-width="0.55"/>
<circle cx="247.95" cy="46.74" r="0.95" fill="#b8b8b8" stroke="#4a4a4a" stroke-width="0.55"/>
<circle cx="233.99" cy="65.08" r="0.91" fill="#a4a4a4" stroke="#4a4a4a" stroke-width="0.55"/>
<circle cx="230.85" cy="72.08" r="0.9" fill="#909090" stroke="#4a4a4a" stroke-width="0.55"/>
<circle cx="238.6" cy="44.16" r="1.24" fill="#c8c8c8" stroke="#4a4a4a" stroke-width="0.55"/>
<circle cx="237.48" cy="68.43" r="1.26" fill="#b8b8b8" stroke="#4a4a4a" stroke-width="0.55"/>
<circle cx="254.57" cy="58.69" r="1.31" fill="#b8b8b8" stroke="#4a4a4a" stroke-width="0.55"/>
<circle cx="238.78" cy="41.94" r="1.13" fill="#909090" stroke="#4a4a4a" stroke-width="0.55"/>
<circle cx="224.83" cy="59.22" r="1.14" fill="#a4a4a4" stroke="#4a4a4a" stroke-width="0.55"/>
<circle cx="222.51" cy="64.84" r="1.3" fill="#909090" stroke="#4a4a4a" stroke-width="0.55"/>
<circle cx="249.29" cy="51.49" r="1" fill="#b8b8b8" stroke="#4a4a4a" stroke-width="0.55"/>
<circle cx="238.2" cy="54.57" r="1.02" fill="#c8c8c8" stroke="#4a4a4a" stroke-width="0.55"/>
<circle cx="243.98" cy="40.98" r="1.09" fill="#a4a4a4" stroke="#4a4a4a" stroke-width="0.55"/>
<circle cx="234.84" cy="45.8" r="1.34" fill="#b8b8b8" stroke="#4a4a4a" stroke-width="0.55"/>
<circle cx="247.5" cy="67.73" r="1.15" fill="#c8c8c8" stroke="#4a4a4a" stroke-width="0.55"/>
<circle cx="246.17" cy="43.01" r="0.8" fill="#a4a4a4" stroke="#4a4a4a" stroke-width="0.55"/>
<circle cx="235.73" cy="68.48" r="1.02" fill="#b8b8b8" stroke="#4a4a4a" stroke-width="0.55"/>
<circle cx="237.01" cy="41.31" r="0.81" fill="#a4a4a4" stroke="#4a4a4a" stroke-width="0.55"/>
<circle cx="224.25" cy="60.3" r="1" fill="#a4a4a4" stroke="#4a4a4a" stroke-width="0.55"/>
<circle cx="252.97" cy="50.62" r="1.3" fill="#a4a4a4" stroke="#4a4a4a" stroke-width="0.55"/>
<circle cx="243.16" cy="69.98" r="1.14" fill="#a4a4a4" stroke="#4a4a4a" stroke-width="0.55"/>
<circle cx="249.64" cy="42.16" r="0.92" fill="#c8c8c8" stroke="#4a4a4a" stroke-width="0.55"/>
<circle cx="253.39" cy="41.06" r="1" fill="#a4a4a4" stroke="#4a4a4a" stroke-width="0.55"/>
<circle cx="229.67" cy="64.54" r="1.29" fill="#909090" stroke="#4a4a4a" stroke-width="0.55"/>
<circle cx="244.26" cy="62.18" r="0.98" fill="#c8c8c8" stroke="#4a4a4a" stroke-width="0.55"/>
<circle cx="241.76" cy="57.32" r="1.14" fill="#b8b8b8" stroke="#4a4a4a" stroke-width="0.55"/>
<circle cx="243.46" cy="47.33" r="0.94" fill="#c8c8c8" stroke="#4a4a4a" stroke-width="0.55"/>
<circle cx="243.8" cy="53.05" r="1.04" fill="#909090" stroke="#4a4a4a" stroke-width="0.55"/>
<circle cx="237.16" cy="53.05" r="1.14" fill="#c8c8c8" stroke="#4a4a4a" stroke-width="0.55"/>
<circle cx="233.5" cy="49.69" r="1.24" fill="#909090" stroke="#4a4a4a" stroke-width="0.55"/>
<circle cx="252.83" cy="47.56" r="1.2" fill="#909090" stroke="#4a4a4a" stroke-width="0.55"/>
<circle cx="234.16" cy="73.87" r="0.87" fill="#909090" stroke="#4a4a4a" stroke-width="0.55"/>
<circle cx="249.15" cy="42.6" r="1.34" fill="#c8c8c8" stroke="#4a4a4a" stroke-width="0.55"/>
<circle cx="231.07" cy="68.09" r="1.24" fill="#a4a4a4" stroke="#4a4a4a" stroke-width="0.55"/>
<circle cx="247.14" cy="41.16" r="1.29" fill="#b8b8b8" stroke="#4a4a4a" stroke-width="0.55"/>
<circle cx="252.24" cy="53.45" r="0.94" fill="#c8c8c8" stroke="#4a4a4a" stroke-width="0.55"/>
<circle cx="238.56" cy="47.78" r="0.82" fill="#a4a4a4" stroke="#4a4a4a" stroke-width="0.55"/>
<circle cx="235.04" cy="60.89" r="0.95" fill="#b8b8b8" stroke="#4a4a4a" stroke-width="0.55"/>
<circle cx="251.91" cy="41.57" r="1.23" fill="#909090" stroke="#4a4a4a" stroke-width="0.55"/>
<circle cx="247.55" cy="36.61" r="1.27" fill="#c8c8c8" stroke="#4a4a4a" stroke-width="0.55"/>
<circle cx="240.24" cy="58.56" r="1.29" fill="#909090" stroke="#4a4a4a" stroke-width="0.55"/>
<circle cx="229.84" cy="56.72" r="1.27" fill="#b8b8b8" stroke="#4a4a4a" stroke-width="0.55"/>
<circle cx="241" cy="49.48" r="1.22" fill="#c8c8c8" stroke="#4a4a4a" stroke-width="0.55"/>
<circle cx="229.09" cy="60.01" r="1.33" fill="#b8b8b8" stroke="#4a4a4a" stroke-width="0.55"/>
<circle cx="249.32" cy="45.08" r="1.15" fill="#b8b8b8" stroke="#4a4a4a" stroke-width="0.55"/>
<circle cx="246.34" cy="65.46" r="0.92" fill="#b8b8b8" stroke="#4a4a4a" stroke-width="0.55"/>
<circle cx="242.33" cy="52.45" r="1.08" fill="#909090" stroke="#4a4a4a" stroke-width="0.55"/>
<circle cx="228.89" cy="58.7" r="1.12" fill="#a4a4a4" stroke="#4a4a4a" stroke-width="0.55"/>
<circle cx="233.76" cy="68.82" r="0.89" fill="#909090" stroke="#4a4a4a" stroke-width="0.55"/>
<circle cx="253.33" cy="44.66" r="0.88" fill="#909090" stroke="#4a4a4a" stroke-width="0.55"/>
<circle cx="244.03" cy="45.74" r="1.25" fill="#909090" stroke="#4a4a4a" stroke-width="0.55"/>
<circle cx="251.82" cy="59.16" r="1.12" fill="#c8c8c8" stroke="#4a4a4a" stroke-width="0.55"/>
<circle cx="229.72" cy="71.91" r="0.82" fill="#909090" stroke="#4a4a4a" stroke-width="0.55"/>
<circle cx="235.13" cy="44.42" r="0.83" fill="#909090" stroke="#4a4a4a" stroke-width="0.55"/>
<circle cx="228.04" cy="59.71" r="1.08" fill="#c8c8c8" stroke="#4a4a4a" stroke-width="0.55"/>
<circle cx="249.1" cy="41.81" r="0.97" fill="#b8b8b8" stroke="#4a4a4a" stroke-width="0.55"/>
<circle cx="246.04" cy="54.34" r="1.1" fill="#c8c8c8" stroke="#4a4a4a" stroke-width="0.55"/>
<circle cx="250.16" cy="65.38" r="1.06" fill="#c8c8c8" stroke="#4a4a4a" stroke-width="0.55"/>
<circle cx="230.17" cy="61.2" r="0.87" fill="#b8b8b8" stroke="#4a4a4a" stroke-width="0.55"/>
<circle cx="245.61" cy="45.59" r="1.1" fill="#c8c8c8" stroke="#4a4a4a" stroke-width="0.55"/>
<circle cx="254.54" cy="46.81" r="1.31" fill="#a4a4a4" stroke="#4a4a4a" stroke-width="0.55"/>
<circle cx="250.07" cy="42.97" r="0.89" fill="#b8b8b8" stroke="#4a4a4a" stroke-width="0.55"/>
<circle cx="241.82" cy="50.27" r="1.27" fill="#c8c8c8" stroke="#4a4a4a" stroke-width="0.55"/>
<circle cx="237.39" cy="56.51" r="0.8" fill="#909090" stroke="#4a4a4a" stroke-width="0.55"/>
<circle cx="236.2" cy="64.53" r="1.11" fill="#b8b8b8" stroke="#4a4a4a" stroke-width="0.55"/>
<circle cx="248.27" cy="50.77" r="1.12" fill="#a4a4a4" stroke="#4a4a4a" stroke-width="0.55"/>
<circle cx="244.96" cy="60.78" r="1.18" fill="#909090" stroke="#4a4a4a" stroke-width="0.55"/>
<circle cx="233.66" cy="68.37" r="1.25" fill="#909090" stroke="#4a4a4a" stroke-width="0.55"/>
<circle cx="251.37" cy="65.81" r="1.19" fill="#c8c8c8" stroke="#4a4a4a" stroke-width="0.55"/>
<circle cx="242.95" cy="68.67" r="1.15" fill="#b8b8b8" stroke="#4a4a4a" stroke-width="0.55"/>
<circle cx="237.57" cy="40.08" r="1.24" fill="#a4a4a4" stroke="#4a4a4a" stroke-width="0.55"/>
<circle cx="231.3" cy="48.5" r="0.94" fill="#b8b8b8" stroke="#4a4a4a" stroke-width="0.55"/>
<circle cx="245.75" cy="49.8" r="0.98" fill="#c8c8c8" stroke="#4a4a4a" stroke-width="0.55"/>
<circle cx="250.4" cy="60.13" r="0.82" fill="#c8c8c8" stroke="#4a4a4a" stroke-width="0.55"/>
<circle cx="245.7" cy="68.79" r="1.12" fill="#b8b8b8" stroke="#4a4a4a" stroke-width="0.55"/>
<circle cx="228.13" cy="66.08" r="1.34" fill="#909090" stroke="#4a4a4a" stroke-width="0.55"/>
<circle cx="245.05" cy="68.69" r="1.33" fill="#b8b8b8" stroke="#4a4a4a" stroke-width="0.55"/>
<circle cx="254.03" cy="55.88" r="1.12" fill="#a4a4a4" stroke="#4a4a4a" stroke-width="0.55"/>
<circle cx="245.19" cy="55.18" r="0.86" fill="#909090" stroke="#4a4a4a" stroke-width="0.55"/>
<circle cx="240.45" cy="38.92" r="0.98" fill="#909090" stroke="#4a4a4a" stroke-width="0.55"/>
<circle cx="234.96" cy="50.9" r="1.29" fill="#909090" stroke="#4a4a4a" stroke-width="0.55"/>
<circle cx="235.68" cy="61.27" r="1" fill="#b8b8b8" stroke="#4a4a4a" stroke-width="0.55"/>
<circle cx="230.23" cy="71.82" r="1.08" fill="#c8c8c8" stroke="#4a4a4a" stroke-width="0.55"/>
<circle cx="241.58" cy="63.07" r="1.13" fill="#909090" stroke="#4a4a4a" stroke-width="0.55"/>
<circle cx="233.15" cy="48.09" r="0.89" fill="#c8c8c8" stroke="#4a4a4a" stroke-width="0.55"/>
<circle cx="243.91" cy="65.24" r="0.89" fill="#c8c8c8" stroke="#4a4a4a" stroke-width="0.55"/>
<circle cx="244.83" cy="45.22" r="0.93" fill="#b8b8b8" stroke="#4a4a4a" stroke-width="0.55"/>
<circle cx="237.05" cy="71.16" r="0.93" fill="#a4a4a4" stroke="#4a4a4a" stroke-width="0.55"/>
<circle cx="230.37" cy="65.77" r="1.25" fill="#a4a4a4" stroke="#4a4a4a" stroke-width="0.55"/>
<circle cx="246" cy="59.5" r="0.99" fill="#a4a4a4" stroke="#4a4a4a" stroke-width="0.55"/>
<circle cx="246.35" cy="52.56" r="0.91" fill="#909090" stroke="#4a4a4a" stroke-width="0.55"/>
<circle cx="230.83" cy="71.16" r="1.06" fill="#909090" stroke="#4a4a4a" stroke-width="0.55"/>
<circle cx="234.89" cy="67.27" r="1.18" fill="#b8b8b8" stroke="#4a4a4a" stroke-width="0.55"/>
<circle cx="237.09" cy="40.46" r="1.13" fill="#c8c8c8" stroke="#4a4a4a" stroke-width="0.55"/>
<circle cx="250.45" cy="63.56" r="1.12" fill="#c8c8c8" stroke="#4a4a4a" stroke-width="0.55"/>
<circle cx="250.22" cy="62.18" r="1.16" fill="#a4a4a4" stroke="#4a4a4a" stroke-width="0.55"/>
<circle cx="244.51" cy="61.1" r="1.05" fill="#b8b8b8" stroke="#4a4a4a" stroke-width="0.55"/>
<circle cx="230.11" cy="63.54" r="1.29" fill="#a4a4a4" stroke="#4a4a4a" stroke-width="0.55"/>
<circle cx="248.04" cy="64.05" r="1.15" fill="#b8b8b8" stroke="#4a4a4a" stroke-width="0.55"/>
<circle cx="250.34" cy="54.54" r="0.81" fill="#c8c8c8" stroke="#4a4a4a" stroke-width="0.55"/>
<circle cx="238.98" cy="61.9" r="1.28" fill="#b8b8b8" stroke="#4a4a4a" stroke-width="0.55"/>
<circle cx="247.89" cy="50.65" r="1.07" fill="#909090" stroke="#4a4a4a" stroke-width="0.55"/>
<circle cx="226.72" cy="66.89" r="1.32" fill="#b8b8b8" stroke="#4a4a4a" stroke-width="0.55"/>
<circle cx="224.67" cy="58.33" r="1.1" fill="#c8c8c8" stroke="#4a4a4a" stroke-width="0.55"/>
<circle cx="238.77" cy="61" r="1.26" fill="#b8b8b8" stroke="#4a4a4a" stroke-width="0.55"/>
<circle cx="235.27" cy="73.75" r="0.92" fill="#a4a4a4" stroke="#4a4a4a" stroke-width="0.55"/>
<circle cx="234.66" cy="66.1" r="0.87" fill="#b8b8b8" stroke="#4a4a4a" stroke-width="0.55"/>
<circle cx="243.07" cy="45.03" r="1.01" fill="#909090" stroke="#4a4a4a" stroke-width="0.55"/>
<circle cx="235.62" cy="63.44" r="0.99" fill="#b8b8b8" stroke="#4a4a4a" stroke-width="0.55"/>
<circle cx="234.94" cy="73.98" r="1.33" fill="#c8c8c8" stroke="#4a4a4a" stroke-width="0.55"/>
<circle cx="237.05" cy="41.4" r="1.31" fill="#909090" stroke="#4a4a4a" stroke-width="0.55"/>
<circle cx="248.97" cy="60.8" r="1.06" fill="#a4a4a4" stroke="#4a4a4a" stroke-width="0.55"/>
<circle cx="249.14" cy="40.64" r="1.17" fill="#c8c8c8" stroke="#4a4a4a" stroke-width="0.55"/>
<circle cx="237.26" cy="46.76" r="1.1" fill="#a4a4a4" stroke="#4a4a4a" stroke-width="0.55"/>
<circle cx="247.95" cy="53.99" r="1.23" fill="#a4a4a4" stroke="#4a4a4a" stroke-width="0.55"/>
<circle cx="230.37" cy="50.13" r="0.94" fill="#c8c8c8" stroke="#4a4a4a" stroke-width="0.55"/>
<circle cx="244.48" cy="54.49" r="1.24" fill="#b8b8b8" stroke="#4a4a4a" stroke-width="0.55"/>
<circle cx="233.48" cy="61.63" r="0.98" fill="#c8c8c8" stroke="#4a4a4a" stroke-width="0.55"/>
<circle cx="235.9" cy="60.92" r="1.16" fill="#b8b8b8" stroke="#4a4a4a" stroke-width="0.55"/>
<circle cx="240.57" cy="48.01" r="1.32" fill="#b8b8b8" stroke="#4a4a4a" stroke-width="0.55"/>
<circle cx="243.7" cy="44.93" r="0.86" fill="#a4a4a4" stroke="#4a4a4a" stroke-width="0.55"/>
<circle cx="250.5" cy="42.27" r="1.05" fill="#a4a4a4" stroke="#4a4a4a" stroke-width="0.55"/>
<circle cx="239.53" cy="59.77" r="1.18" fill="#909090" stroke="#4a4a4a" stroke-width="0.55"/>
<circle cx="227.97" cy="63.21" r="1.09" fill="#c8c8c8" stroke="#4a4a4a" stroke-width="0.55"/>
<circle cx="244.22" cy="39.43" r="0.87" fill="#c8c8c8" stroke="#4a4a4a" stroke-width="0.55"/>
<circle cx="237.22" cy="40.56" r="1.07" fill="#c8c8c8" stroke="#4a4a4a" stroke-width="0.55"/>
<circle cx="226.85" cy="59.36" r="1.2" fill="#a4a4a4" stroke="#4a4a4a" stroke-width="0.55"/>
<circle cx="250.04" cy="53.93" r="1.11" fill="#b8b8b8" stroke="#4a4a4a" stroke-width="0.55"/>
<circle cx="250.03" cy="50.09" r="1.03" fill="#909090" stroke="#4a4a4a" stroke-width="0.55"/>
<circle cx="222.77" cy="65.02" r="1.35" fill="#909090" stroke="#4a4a4a" stroke-width="0.55"/>
<circle cx="238.71" cy="54.62" r="1.29" fill="#909090" stroke="#4a4a4a" stroke-width="0.55"/>
<circle cx="243.8" cy="48.7" r="1.23" fill="#a4a4a4" stroke="#4a4a4a" stroke-width="0.55"/>
<circle cx="231.12" cy="49.27" r="1.07" fill="#b8b8b8" stroke="#4a4a4a" stroke-width="0.55"/>
<circle cx="238.48" cy="45.82" r="1.08" fill="#a4a4a4" stroke="#4a4a4a" stroke-width="0.55"/>
<circle cx="243.65" cy="67.31" r="0.98" fill="#b8b8b8" stroke="#4a4a4a" stroke-width="0.55"/>
<circle cx="245.66" cy="39.87" r="1.34" fill="#909090" stroke="#4a4a4a" stroke-width="0.55"/>
<circle cx="248.1" cy="36.25" r="1.2" fill="#c8c8c8" stroke="#4a4a4a" stroke-width="0.55"/>
<circle cx="242.08" cy="61.78" r="1.23" fill="#c8c8c8" stroke="#4a4a4a" stroke-width="0.55"/>
<circle cx="242.35" cy="60.49" r="1.18" fill="#909090" stroke="#4a4a4a" stroke-width="0.55"/>
<circle cx="228.49" cy="62.15" r="1.05" fill="#a4a4a4" stroke="#4a4a4a" stroke-width="0.55"/>
<circle cx="252.55" cy="61.68" r="1" fill="#a4a4a4" stroke="#4a4a4a" stroke-width="0.55"/>
<circle cx="248.18" cy="57.81" r="0.94" fill="#b8b8b8" stroke="#4a4a4a" stroke-width="0.55"/>
<circle cx="238.27" cy="56.16" r="1.25" fill="#c8c8c8" stroke="#4a4a4a" stroke-width="0.55"/>
<circle cx="234.48" cy="59.05" r="1.32" fill="#a4a4a4" stroke="#4a4a4a" stroke-width="0.55"/>
<circle cx="237.51" cy="51.63" r="0.86" fill="#c8c8c8" stroke="#4a4a4a" stroke-width="0.55"/>
<circle cx="244.65" cy="39.63" r="1.33" fill="#909090" stroke="#4a4a4a" stroke-width="0.55"/>
<circle cx="237.4" cy="45.98" r="1.11" fill="#c8c8c8" stroke="#4a4a4a" stroke-width="0.55"/>
<circle cx="246.36" cy="42.34" r="0.83" fill="#a4a4a4" stroke="#4a4a4a" stroke-width="0.55"/>
<circle cx="246.23" cy="38.08" r="1.15" fill="#c8c8c8" stroke="#4a4a4a" stroke-width="0.55"/>
<circle cx="237" cy="73.11" r="0.94" fill="#909090" stroke="#4a4a4a" stroke-width="0.55"/>
<circle cx="245.8" cy="35.07" r="0.81" fill="#909090" stroke="#4a4a4a" stroke-width="0.55"/>
<circle cx="234.54" cy="47.51" r="1.13" fill="#c8c8c8" stroke="#4a4a4a" stroke-width="0.55"/>
<circle cx="242.09" cy="47.66" r="1.32" fill="#c8c8c8" stroke="#4a4a4a" stroke-width="0.55"/>
<circle cx="237.31" cy="41.48" r="1.33" fill="#909090" stroke="#4a4a4a" stroke-width="0.55"/>
<circle cx="233.66" cy="61.23" r="1.15" fill="#c8c8c8" stroke="#4a4a4a" stroke-width="0.55"/>
<circle cx="237.56" cy="66.74" r="1.05" fill="#b8b8b8" stroke="#4a4a4a" stroke-width="0.55"/>
<circle cx="248.11" cy="58.01" r="0.96" fill="#909090" stroke="#4a4a4a" stroke-width="0.55"/>
<circle cx="242.53" cy="61.48" r="1.24" fill="#b8b8b8" stroke="#4a4a4a" stroke-width="0.55"/>
<circle cx="251.03" cy="64.57" r="0.81" fill="#a4a4a4" stroke="#4a4a4a" stroke-width="0.55"/>
<circle cx="241.82" cy="47.35" r="1.04" fill="#a4a4a4" stroke="#4a4a4a" stroke-width="0.55"/>
<circle cx="234.12" cy="62.88" r="1.13" fill="#a4a4a4" stroke="#4a4a4a" stroke-width="0.55"/>
<circle cx="248.9" cy="46.3" r="0.8" fill="#b8b8b8" stroke="#4a4a4a" stroke-width="0.55"/>
<circle cx="248.06" cy="46.52" r="0.88" fill="#a4a4a4" stroke="#4a4a4a" stroke-width="0.55"/>
<circle cx="230.59" cy="69.75" r="1.24" fill="#c8c8c8" stroke="#4a4a4a" stroke-width="0.55"/>
<circle cx="214.5" cy="38.6" r="1" fill="#666" stroke="none" stroke-width="1" opacity="0.8"/>
<rect x="259.4" y="85" width="14.6" height="2.3" fill="#000" stroke="none" stroke-width="1" />
<text x="266.7" y="82.3" font-size="5.2" font-weight="normal" text-anchor="middle" fill="#000" >100μm</text>
<rect x="281.7" y="28.8" width="81" height="60.9" fill="#bababa" stroke="none" stroke-width="1" />
<rect x="281.7" y="28.8" width="81" height="60.9" fill="#fff" stroke="none" stroke-width="1" filter="url(#noise01)" opacity="1"/>
<rect x="281.7" y="28.8" width="81" height="60.9" fill="url(#grad01)" stroke="none" stroke-width="1" />
<rect x="281.7" y="28.8" width="81" height="60.9" fill="#fff" stroke="none" stroke-width="1" filter="url(#grain)"/>
<rect x="282.2" y="29.3" width="80" height="59.9" fill="none" stroke="#000" stroke-width="1" stroke-opacity="0.10"/>
<polygon points="333.5,60.5 333.06,63.99 331.79,67.25 329.75,70.05 327.1,72.19 324.01,73.54 320.7,74 317.39,73.54 314.3,72.19 311.65,70.05 309.61,67.25 308.34,63.99 307.9,60.5 308.34,57.01 309.61,53.75 311.65,50.95 314.3,48.81 317.39,47.46 320.7,47 324.01,47.46 327.1,48.81 329.75,50.95 331.79,53.75 333.06,57.01" fill="#9a9a9a" filter="url(#blur03)"/>
<circle cx="316.78" cy="49.3" r="1.1" fill="#a8a8a8" stroke="#4a4a4a" stroke-width="0.55"/>
<circle cx="313.03" cy="67.25" r="1.31" fill="#d0d0d0" stroke="#4a4a4a" stroke-width="0.55"/>
<circle cx="315.82" cy="48.55" r="1.02" fill="#d0d0d0" stroke="#4a4a4a" stroke-width="0.55"/>
<circle cx="331.61" cy="62.83" r="0.81" fill="#a8a8a8" stroke="#4a4a4a" stroke-width="0.55"/>
<circle cx="319.67" cy="49.37" r="1.24" fill="#b8b8b8" stroke="#4a4a4a" stroke-width="0.55"/>
<circle cx="313.86" cy="62.65" r="1.29" fill="#e0e0e0" stroke="#4a4a4a" stroke-width="0.55"/>
<circle cx="320.1" cy="62.91" r="0.9" fill="#d0d0d0" stroke="#4a4a4a" stroke-width="0.55"/>
<circle cx="315.32" cy="62.6" r="1" fill="#d0d0d0" stroke="#4a4a4a" stroke-width="0.55"/>
<circle cx="314.21" cy="71.91" r="1.07" fill="#b8b8b8" stroke="#4a4a4a" stroke-width="0.55"/>
<circle cx="317.41" cy="59.51" r="0.84" fill="#e0e0e0" stroke="#4a4a4a" stroke-width="0.55"/>
<circle cx="323.19" cy="56.31" r="1.09" fill="#b8b8b8" stroke="#4a4a4a" stroke-width="0.55"/>
<circle cx="330.19" cy="62.27" r="1.12" fill="#d0d0d0" stroke="#4a4a4a" stroke-width="0.55"/>
<circle cx="314.6" cy="68.04" r="1.03" fill="#a8a8a8" stroke="#4a4a4a" stroke-width="0.55"/>
<circle cx="327.54" cy="69.11" r="1.33" fill="#e0e0e0" stroke="#4a4a4a" stroke-width="0.55"/>
<circle cx="329.5" cy="56.15" r="1.35" fill="#a8a8a8" stroke="#4a4a4a" stroke-width="0.55"/>
<circle cx="322.17" cy="70.51" r="1.05" fill="#b8b8b8" stroke="#4a4a4a" stroke-width="0.55"/>
<circle cx="329.99" cy="64.28" r="1.31" fill="#b8b8b8" stroke="#4a4a4a" stroke-width="0.55"/>
<circle cx="314.48" cy="62.24" r="1.15" fill="#a8a8a8" stroke="#4a4a4a" stroke-width="0.55"/>
<circle cx="312.58" cy="69.94" r="1" fill="#d0d0d0" stroke="#4a4a4a" stroke-width="0.55"/>
<circle cx="316.91" cy="71.37" r="1.3" fill="#b8b8b8" stroke="#4a4a4a" stroke-width="0.55"/>
<circle cx="314.5" cy="60.86" r="1.21" fill="#a8a8a8" stroke="#4a4a4a" stroke-width="0.55"/>
<circle cx="325.23" cy="55.07" r="1.13" fill="#b8b8b8" stroke="#4a4a4a" stroke-width="0.55"/>
<circle cx="319.95" cy="57.04" r="1.01" fill="#e0e0e0" stroke="#4a4a4a" stroke-width="0.55"/>
<circle cx="320.22" cy="51.55" r="0.93" fill="#d0d0d0" stroke="#4a4a4a" stroke-width="0.55"/>
<circle cx="319.88" cy="71.64" r="1.24" fill="#d0d0d0" stroke="#4a4a4a" stroke-width="0.55"/>
<circle cx="319.35" cy="49.62" r="1.31" fill="#b8b8b8" stroke="#4a4a4a" stroke-width="0.55"/>
<circle cx="323.99" cy="59.21" r="0.99" fill="#d0d0d0" stroke="#4a4a4a" stroke-width="0.55"/>
<circle cx="320.12" cy="63.96" r="0.88" fill="#d0d0d0" stroke="#4a4a4a" stroke-width="0.55"/>
<circle cx="326.74" cy="51.87" r="1.05" fill="#d0d0d0" stroke="#4a4a4a" stroke-width="0.55"/>
<circle cx="319.14" cy="51.03" r="1.03" fill="#d0d0d0" stroke="#4a4a4a" stroke-width="0.55"/>
<circle cx="311.89" cy="54.32" r="1.26" fill="#e0e0e0" stroke="#4a4a4a" stroke-width="0.55"/>
<circle cx="328.49" cy="54.04" r="0.86" fill="#a8a8a8" stroke="#4a4a4a" stroke-width="0.55"/>
<circle cx="330.81" cy="65.04" r="0.92" fill="#a8a8a8" stroke="#4a4a4a" stroke-width="0.55"/>
<circle cx="318.96" cy="54.06" r="0.93" fill="#d0d0d0" stroke="#4a4a4a" stroke-width="0.55"/>
<circle cx="310.4" cy="54.81" r="1.29" fill="#b8b8b8" stroke="#4a4a4a" stroke-width="0.55"/>
<circle cx="311.6" cy="64.27" r="1.04" fill="#e0e0e0" stroke="#4a4a4a" stroke-width="0.55"/>
<circle cx="320.98" cy="58.96" r="1.23" fill="#e0e0e0" stroke="#4a4a4a" stroke-width="0.55"/>
<circle cx="312.66" cy="58.75" r="1.3" fill="#d0d0d0" stroke="#4a4a4a" stroke-width="0.55"/>
<circle cx="314.99" cy="51.88" r="1.26" fill="#d0d0d0" stroke="#4a4a4a" stroke-width="0.55"/>
<circle cx="326.12" cy="52.31" r="0.84" fill="#b8b8b8" stroke="#4a4a4a" stroke-width="0.55"/>
<circle cx="330.67" cy="66.73" r="1.22" fill="#d0d0d0" stroke="#4a4a4a" stroke-width="0.55"/>
<circle cx="313.17" cy="63.54" r="1.19" fill="#d0d0d0" stroke="#4a4a4a" stroke-width="0.55"/>
<circle cx="322.82" cy="52.46" r="0.84" fill="#a8a8a8" stroke="#4a4a4a" stroke-width="0.55"/>
<circle cx="321.17" cy="56.39" r="0.95" fill="#a8a8a8" stroke="#4a4a4a" stroke-width="0.55"/>
<circle cx="310.21" cy="58.06" r="1.22" fill="#d0d0d0" stroke="#4a4a4a" stroke-width="0.55"/>
<circle cx="330.22" cy="54.19" r="0.9" fill="#e0e0e0" stroke="#4a4a4a" stroke-width="0.55"/>
<circle cx="322.62" cy="70.17" r="1" fill="#a8a8a8" stroke="#4a4a4a" stroke-width="0.55"/>
<circle cx="317.03" cy="53.61" r="1.26" fill="#e0e0e0" stroke="#4a4a4a" stroke-width="0.55"/>
<circle cx="327.85" cy="70.44" r="1.12" fill="#b8b8b8" stroke="#4a4a4a" stroke-width="0.55"/>
<circle cx="315.36" cy="49.91" r="1.2" fill="#a8a8a8" stroke="#4a4a4a" stroke-width="0.55"/>
<circle cx="321.04" cy="61.32" r="1.1" fill="#b8b8b8" stroke="#4a4a4a" stroke-width="0.55"/>
<circle cx="314.13" cy="49.39" r="1.14" fill="#d0d0d0" stroke="#4a4a4a" stroke-width="0.55"/>
<circle cx="310.53" cy="53.76" r="1.25" fill="#b8b8b8" stroke="#4a4a4a" stroke-width="0.55"/>
<circle cx="326.81" cy="54.06" r="1.26" fill="#a8a8a8" stroke="#4a4a4a" stroke-width="0.55"/>
<circle cx="321.29" cy="65.97" r="0.86" fill="#b8b8b8" stroke="#4a4a4a" stroke-width="0.55"/>
<circle cx="311.05" cy="60.33" r="1.08" fill="#e0e0e0" stroke="#4a4a4a" stroke-width="0.55"/>
<circle cx="330.54" cy="61.62" r="0.93" fill="#d0d0d0" stroke="#4a4a4a" stroke-width="0.55"/>
<circle cx="311.67" cy="62.47" r="1.21" fill="#d0d0d0" stroke="#4a4a4a" stroke-width="0.55"/>
<circle cx="324.16" cy="65.73" r="1.13" fill="#b8b8b8" stroke="#4a4a4a" stroke-width="0.55"/>
<circle cx="318.03" cy="72.41" r="1.23" fill="#e0e0e0" stroke="#4a4a4a" stroke-width="0.55"/>
<circle cx="318.16" cy="69.64" r="1.19" fill="#e0e0e0" stroke="#4a4a4a" stroke-width="0.55"/>
<circle cx="328.77" cy="69.89" r="0.83" fill="#d0d0d0" stroke="#4a4a4a" stroke-width="0.55"/>
<circle cx="314.28" cy="58.4" r="1.15" fill="#e0e0e0" stroke="#4a4a4a" stroke-width="0.55"/>
<circle cx="316.2" cy="52.42" r="1.17" fill="#d0d0d0" stroke="#4a4a4a" stroke-width="0.55"/>
<circle cx="324.11" cy="68.85" r="1.29" fill="#b8b8b8" stroke="#4a4a4a" stroke-width="0.55"/>
<circle cx="308.78" cy="64.32" r="0.95" fill="#e0e0e0" stroke="#4a4a4a" stroke-width="0.55"/>
<circle cx="323.98" cy="68.77" r="0.82" fill="#b8b8b8" stroke="#4a4a4a" stroke-width="0.55"/>
<circle cx="314.31" cy="61.05" r="1.04" fill="#b8b8b8" stroke="#4a4a4a" stroke-width="0.55"/>
<circle cx="315.26" cy="55.25" r="1.16" fill="#b8b8b8" stroke="#4a4a4a" stroke-width="0.55"/>
<circle cx="310.06" cy="62.94" r="1.31" fill="#a8a8a8" stroke="#4a4a4a" stroke-width="0.55"/>
<circle cx="315.42" cy="57.98" r="0.96" fill="#d0d0d0" stroke="#4a4a4a" stroke-width="0.55"/>
<circle cx="326.74" cy="66.99" r="0.96" fill="#a8a8a8" stroke="#4a4a4a" stroke-width="0.55"/>
<circle cx="323.51" cy="62.39" r="1.16" fill="#d0d0d0" stroke="#4a4a4a" stroke-width="0.55"/>
<circle cx="321.94" cy="56.9" r="1.29" fill="#e0e0e0" stroke="#4a4a4a" stroke-width="0.55"/>
<circle cx="323.59" cy="59.66" r="0.97" fill="#d0d0d0" stroke="#4a4a4a" stroke-width="0.55"/>
<circle cx="316.44" cy="52.1" r="1.1" fill="#a8a8a8" stroke="#4a4a4a" stroke-width="0.55"/>
<circle cx="329.96" cy="53.44" r="1.11" fill="#a8a8a8" stroke="#4a4a4a" stroke-width="0.55"/>
<circle cx="314.81" cy="70.72" r="0.92" fill="#b8b8b8" stroke="#4a4a4a" stroke-width="0.55"/>
<circle cx="327.67" cy="51.28" r="0.84" fill="#e0e0e0" stroke="#4a4a4a" stroke-width="0.55"/>
<circle cx="319.16" cy="48.67" r="1.01" fill="#a8a8a8" stroke="#4a4a4a" stroke-width="0.55"/>
<circle cx="316.97" cy="67.6" r="1.09" fill="#d0d0d0" stroke="#4a4a4a" stroke-width="0.55"/>
<circle cx="318.57" cy="65.04" r="0.88" fill="#d0d0d0" stroke="#4a4a4a" stroke-width="0.55"/>
<circle cx="323.68" cy="69.95" r="1.25" fill="#b8b8b8" stroke="#4a4a4a" stroke-width="0.55"/>
<circle cx="326.81" cy="67.07" r="1.22" fill="#a8a8a8" stroke="#4a4a4a" stroke-width="0.55"/>
<circle cx="314.78" cy="64.03" r="1.15" fill="#d0d0d0" stroke="#4a4a4a" stroke-width="0.55"/>
<circle cx="318.47" cy="49.79" r="1.03" fill="#b8b8b8" stroke="#4a4a4a" stroke-width="0.55"/>
<circle cx="320.65" cy="72.99" r="1.11" fill="#a8a8a8" stroke="#4a4a4a" stroke-width="0.55"/>
<circle cx="329.66" cy="54.54" r="1.14" fill="#b8b8b8" stroke="#4a4a4a" stroke-width="0.55"/>
<circle cx="317.62" cy="59.21" r="1.05" fill="#e0e0e0" stroke="#4a4a4a" stroke-width="0.55"/>
<circle cx="315.4" cy="57.55" r="1.11" fill="#a8a8a8" stroke="#4a4a4a" stroke-width="0.55"/>
<circle cx="317.65" cy="55.1" r="1.1" fill="#d0d0d0" stroke="#4a4a4a" stroke-width="0.55"/>
<circle cx="319.05" cy="57.18" r="0.93" fill="#e0e0e0" stroke="#4a4a4a" stroke-width="0.55"/>
<circle cx="316.19" cy="69.77" r="1.26" fill="#e0e0e0" stroke="#4a4a4a" stroke-width="0.55"/>
<circle cx="313.13" cy="58.51" r="1.3" fill="#b8b8b8" stroke="#4a4a4a" stroke-width="0.55"/>
<circle cx="330.83" cy="55.1" r="1.1" fill="#e0e0e0" stroke="#4a4a4a" stroke-width="0.55"/>
<circle cx="321.15" cy="60.97" r="1.18" fill="#a8a8a8" stroke="#4a4a4a" stroke-width="0.55"/>
<circle cx="319.78" cy="48.1" r="1.17" fill="#a8a8a8" stroke="#4a4a4a" stroke-width="0.55"/>
<circle cx="332.17" cy="65.26" r="1.09" fill="#b8b8b8" stroke="#4a4a4a" stroke-width="0.55"/>
<circle cx="318.38" cy="60.52" r="1.16" fill="#d0d0d0" stroke="#4a4a4a" stroke-width="0.55"/>
<circle cx="320.36" cy="58.88" r="1.14" fill="#e0e0e0" stroke="#4a4a4a" stroke-width="0.55"/>
<circle cx="325.6" cy="67.15" r="0.85" fill="#e0e0e0" stroke="#4a4a4a" stroke-width="0.55"/>
<circle cx="329.05" cy="60.84" r="0.86" fill="#e0e0e0" stroke="#4a4a4a" stroke-width="0.55"/>
<circle cx="325.56" cy="69.15" r="1.34" fill="#a8a8a8" stroke="#4a4a4a" stroke-width="0.55"/>
<circle cx="324.06" cy="61.15" r="1.25" fill="#d0d0d0" stroke="#4a4a4a" stroke-width="0.55"/>
<circle cx="320.83" cy="52.08" r="0.9" fill="#b8b8b8" stroke="#4a4a4a" stroke-width="0.55"/>
<circle cx="324.19" cy="48.14" r="1.03" fill="#b8b8b8" stroke="#4a4a4a" stroke-width="0.55"/>
<circle cx="315.75" cy="65.65" r="0.8" fill="#e0e0e0" stroke="#4a4a4a" stroke-width="0.55"/>
<circle cx="318.08" cy="49.66" r="0.81" fill="#b8b8b8" stroke="#4a4a4a" stroke-width="0.55"/>
<circle cx="312.93" cy="60.44" r="1.1" fill="#e0e0e0" stroke="#4a4a4a" stroke-width="0.55"/>
<circle cx="321.07" cy="50.88" r="0.91" fill="#b8b8b8" stroke="#4a4a4a" stroke-width="0.55"/>
<circle cx="311.62" cy="61" r="1.08" fill="#b8b8b8" stroke="#4a4a4a" stroke-width="0.55"/>
<circle cx="321.28" cy="69.22" r="1.14" fill="#b8b8b8" stroke="#4a4a4a" stroke-width="0.55"/>
<circle cx="324.54" cy="65.48" r="1.12" fill="#d0d0d0" stroke="#4a4a4a" stroke-width="0.55"/>
<circle cx="326.22" cy="56.55" r="0.89" fill="#e0e0e0" stroke="#4a4a4a" stroke-width="0.55"/>
<circle cx="323.99" cy="70.2" r="1.32" fill="#b8b8b8" stroke="#4a4a4a" stroke-width="0.55"/>
<circle cx="316.83" cy="59.15" r="1.01" fill="#b8b8b8" stroke="#4a4a4a" stroke-width="0.55"/>
<circle cx="313.53" cy="57.69" r="1.22" fill="#b8b8b8" stroke="#4a4a4a" stroke-width="0.55"/>
<circle cx="319.15" cy="63.74" r="0.94" fill="#b8b8b8" stroke="#4a4a4a" stroke-width="0.55"/>
<circle cx="311.98" cy="62.85" r="0.9" fill="#b8b8b8" stroke="#4a4a4a" stroke-width="0.55"/>
<circle cx="315.67" cy="63.27" r="1.33" fill="#a8a8a8" stroke="#4a4a4a" stroke-width="0.55"/>
<circle cx="325.24" cy="65.22" r="1.12" fill="#a8a8a8" stroke="#4a4a4a" stroke-width="0.55"/>
<circle cx="315.81" cy="70.63" r="1.07" fill="#d0d0d0" stroke="#4a4a4a" stroke-width="0.55"/>
<circle cx="330.49" cy="57.69" r="1" fill="#e0e0e0" stroke="#4a4a4a" stroke-width="0.55"/>
<circle cx="321.56" cy="57.41" r="1.02" fill="#b8b8b8" stroke="#4a4a4a" stroke-width="0.55"/>
<circle cx="332.51" cy="58.4" r="1.3" fill="#d0d0d0" stroke="#4a4a4a" stroke-width="0.55"/>
<circle cx="317.82" cy="59.61" r="0.99" fill="#a8a8a8" stroke="#4a4a4a" stroke-width="0.55"/>
<circle cx="308.79" cy="64.94" r="0.99" fill="#d0d0d0" stroke="#4a4a4a" stroke-width="0.55"/>
<circle cx="314.09" cy="50.51" r="0.91" fill="#d0d0d0" stroke="#4a4a4a" stroke-width="0.55"/>
<circle cx="322.11" cy="59.61" r="1.24" fill="#d0d0d0" stroke="#4a4a4a" stroke-width="0.55"/>
<circle cx="311.98" cy="56.53" r="1.2" fill="#a8a8a8" stroke="#4a4a4a" stroke-width="0.55"/>
<circle cx="324.01" cy="62.68" r="0.96" fill="#a8a8a8" stroke="#4a4a4a" stroke-width="0.55"/>
<circle cx="320.82" cy="53.14" r="1.05" fill="#d0d0d0" stroke="#4a4a4a" stroke-width="0.55"/>
<circle cx="323.16" cy="58.89" r="1.34" fill="#d0d0d0" stroke="#4a4a4a" stroke-width="0.55"/>
<circle cx="318.25" cy="60.78" r="0.87" fill="#b8b8b8" stroke="#4a4a4a" stroke-width="0.55"/>
<circle cx="325.25" cy="49.47" r="1.27" fill="#a8a8a8" stroke="#4a4a4a" stroke-width="0.55"/>
<circle cx="326.09" cy="65.76" r="1.23" fill="#d0d0d0" stroke="#4a4a4a" stroke-width="0.55"/>
<circle cx="316.12" cy="64.89" r="0.86" fill="#e0e0e0" stroke="#4a4a4a" stroke-width="0.55"/>
<circle cx="328.51" cy="67.48" r="0.91" fill="#e0e0e0" stroke="#4a4a4a" stroke-width="0.55"/>
<circle cx="310.15" cy="54.79" r="1.25" fill="#a8a8a8" stroke="#4a4a4a" stroke-width="0.55"/>
<circle cx="315.13" cy="57.89" r="1.3" fill="#d0d0d0" stroke="#4a4a4a" stroke-width="0.55"/>
<circle cx="317.28" cy="68.58" r="1.18" fill="#a8a8a8" stroke="#4a4a4a" stroke-width="0.55"/>
<circle cx="318.15" cy="71.46" r="0.85" fill="#e0e0e0" stroke="#4a4a4a" stroke-width="0.55"/>
<circle cx="326.69" cy="66.24" r="0.82" fill="#b8b8b8" stroke="#4a4a4a" stroke-width="0.55"/>
<circle cx="323.48" cy="58.63" r="1.22" fill="#d0d0d0" stroke="#4a4a4a" stroke-width="0.55"/>
<circle cx="317.65" cy="48.06" r="0.97" fill="#d0d0d0" stroke="#4a4a4a" stroke-width="0.55"/>
<circle cx="322.35" cy="53.15" r="1.07" fill="#e0e0e0" stroke="#4a4a4a" stroke-width="0.55"/>
<circle cx="331.6" cy="65.09" r="1.12" fill="#b8b8b8" stroke="#4a4a4a" stroke-width="0.55"/>
<circle cx="310.76" cy="67.62" r="1.16" fill="#b8b8b8" stroke="#4a4a4a" stroke-width="0.55"/>
<circle cx="330.3" cy="62.8" r="1.18" fill="#d0d0d0" stroke="#4a4a4a" stroke-width="0.55"/>
<circle cx="316.05" cy="67.98" r="0.99" fill="#b8b8b8" stroke="#4a4a4a" stroke-width="0.55"/>
<circle cx="318.58" cy="67.09" r="1.35" fill="#d0d0d0" stroke="#4a4a4a" stroke-width="0.55"/>
<circle cx="315.1" cy="49.43" r="1.32" fill="#a8a8a8" stroke="#4a4a4a" stroke-width="0.55"/>
<circle cx="319.23" cy="56.19" r="1.08" fill="#a8a8a8" stroke="#4a4a4a" stroke-width="0.55"/>
<circle cx="320.92" cy="65.27" r="0.91" fill="#d0d0d0" stroke="#4a4a4a" stroke-width="0.55"/>
<circle cx="320.43" cy="52.11" r="1.32" fill="#e0e0e0" stroke="#4a4a4a" stroke-width="0.55"/>
<circle cx="312.37" cy="51.42" r="1.23" fill="#d0d0d0" stroke="#4a4a4a" stroke-width="0.55"/>
<circle cx="321.82" cy="53.74" r="0.83" fill="#e0e0e0" stroke="#4a4a4a" stroke-width="0.55"/>
<circle cx="316.79" cy="49.5" r="1.15" fill="#d0d0d0" stroke="#4a4a4a" stroke-width="0.55"/>
<circle cx="311.4" cy="66.09" r="1.17" fill="#d0d0d0" stroke="#4a4a4a" stroke-width="0.55"/>
<circle cx="325.6" cy="50.59" r="1.15" fill="#e0e0e0" stroke="#4a4a4a" stroke-width="0.55"/>
<circle cx="311.32" cy="66.11" r="1.12" fill="#d0d0d0" stroke="#4a4a4a" stroke-width="0.55"/>
<circle cx="316.44" cy="69.02" r="1.1" fill="#d0d0d0" stroke="#4a4a4a" stroke-width="0.55"/>
<circle cx="325.23" cy="51.18" r="1.34" fill="#a8a8a8" stroke="#4a4a4a" stroke-width="0.55"/>
<circle cx="315.31" cy="56.73" r="0.91" fill="#b8b8b8" stroke="#4a4a4a" stroke-width="0.55"/>
<circle cx="330.83" cy="55.21" r="0.86" fill="#e0e0e0" stroke="#4a4a4a" stroke-width="0.55"/>
<circle cx="319.37" cy="50.05" r="0.98" fill="#a8a8a8" stroke="#4a4a4a" stroke-width="0.55"/>
<circle cx="322.47" cy="54.82" r="1.11" fill="#b8b8b8" stroke="#4a4a4a" stroke-width="0.55"/>
<circle cx="327.11" cy="49.27" r="1.19" fill="#e0e0e0" stroke="#4a4a4a" stroke-width="0.55"/>
<circle cx="310.69" cy="60.2" r="1.04" fill="#d0d0d0" stroke="#4a4a4a" stroke-width="0.55"/>
<circle cx="327.97" cy="55.69" r="1" fill="#b8b8b8" stroke="#4a4a4a" stroke-width="0.55"/>
<circle cx="324.4" cy="63.95" r="1.31" fill="#e0e0e0" stroke="#4a4a4a" stroke-width="0.55"/>
<circle cx="324.62" cy="49.11" r="1.21" fill="#b8b8b8" stroke="#4a4a4a" stroke-width="0.55"/>
<circle cx="327.73" cy="69.67" r="0.96" fill="#d0d0d0" stroke="#4a4a4a" stroke-width="0.55"/>
<circle cx="332.53" cy="61.19" r="1.29" fill="#d0d0d0" stroke="#4a4a4a" stroke-width="0.55"/>
<circle cx="310.52" cy="66.41" r="0.97" fill="#e0e0e0" stroke="#4a4a4a" stroke-width="0.55"/>
<circle cx="317.61" cy="64.48" r="1" fill="#d0d0d0" stroke="#4a4a4a" stroke-width="0.55"/>
<circle cx="317.33" cy="61.88" r="1" fill="#e0e0e0" stroke="#4a4a4a" stroke-width="0.55"/>
<circle cx="322.41" cy="63.96" r="1.25" fill="#a8a8a8" stroke="#4a4a4a" stroke-width="0.55"/>
<circle cx="320.56" cy="60.49" r="0.89" fill="#e0e0e0" stroke="#4a4a4a" stroke-width="0.55"/>
<circle cx="323.33" cy="63.92" r="0.88" fill="#d0d0d0" stroke="#4a4a4a" stroke-width="0.55"/>
<circle cx="312.09" cy="58.97" r="1.33" fill="#b8b8b8" stroke="#4a4a4a" stroke-width="0.55"/>
<circle cx="320.17" cy="52.89" r="1" fill="#b8b8b8" stroke="#4a4a4a" stroke-width="0.55"/>
<circle cx="329.43" cy="70.09" r="1.23" fill="#a8a8a8" stroke="#4a4a4a" stroke-width="0.55"/>
<circle cx="309.32" cy="66.19" r="1.29" fill="#b8b8b8" stroke="#4a4a4a" stroke-width="0.55"/>
<circle cx="319.13" cy="64.98" r="1.25" fill="#d0d0d0" stroke="#4a4a4a" stroke-width="0.55"/>
<circle cx="328.49" cy="65.23" r="1.11" fill="#a8a8a8" stroke="#4a4a4a" stroke-width="0.55"/>
<circle cx="310.08" cy="55.74" r="1.05" fill="#d0d0d0" stroke="#4a4a4a" stroke-width="0.55"/>
<circle cx="323.77" cy="68.9" r="0.83" fill="#e0e0e0" stroke="#4a4a4a" stroke-width="0.55"/>
<circle cx="323.49" cy="55.02" r="1.11" fill="#e0e0e0" stroke="#4a4a4a" stroke-width="0.55"/>
<circle cx="320.21" cy="64.48" r="0.96" fill="#e0e0e0" stroke="#4a4a4a" stroke-width="0.55"/>
<circle cx="321.48" cy="64.11" r="1.27" fill="#d0d0d0" stroke="#4a4a4a" stroke-width="0.55"/>
<circle cx="325.27" cy="59.08" r="0.85" fill="#e0e0e0" stroke="#4a4a4a" stroke-width="0.55"/>
<circle cx="322.1" cy="72.47" r="1" fill="#d0d0d0" stroke="#4a4a4a" stroke-width="0.55"/>
<circle cx="322.36" cy="57.7" r="0.86" fill="#d0d0d0" stroke="#4a4a4a" stroke-width="0.55"/>
<circle cx="327.1" cy="52.97" r="1.26" fill="#b8b8b8" stroke="#4a4a4a" stroke-width="0.55"/>
<circle cx="312.7" cy="65.1" r="1.19" fill="#d0d0d0" stroke="#4a4a4a" stroke-width="0.55"/>
<circle cx="322.08" cy="53.12" r="1.11" fill="#b8b8b8" stroke="#4a4a4a" stroke-width="0.55"/>
<circle cx="326.73" cy="71.55" r="1.11" fill="#a8a8a8" stroke="#4a4a4a" stroke-width="0.55"/>
<circle cx="325.3" cy="68.61" r="0.87" fill="#b8b8b8" stroke="#4a4a4a" stroke-width="0.55"/>
<rect x="344.1" y="85" width="14.6" height="2.3" fill="#000" stroke="none" stroke-width="1" />
<text x="351.4" y="82.3" font-size="5.2" font-weight="normal" text-anchor="middle" fill="#000" >100μm</text>
<rect x="365.6" y="28.8" width="81.3" height="60.9" fill="#b5b5b5" stroke="none" stroke-width="1" />
<rect x="365.6" y="28.8" width="81.3" height="60.9" fill="#fff" stroke="none" stroke-width="1" filter="url(#noise02)" opacity="1"/>
<rect x="365.6" y="28.8" width="81.3" height="60.9" fill="url(#grad02)" stroke="none" stroke-width="1" />
<rect x="365.6" y="28.8" width="81.3" height="60.9" fill="#fff" stroke="none" stroke-width="1" filter="url(#grain)"/>
<rect x="366.1" y="29.3" width="80.3" height="59.9" fill="none" stroke="#000" stroke-width="1" stroke-opacity="0.10"/>
<polygon points="409.2,55.8 408.92,58.13 408.1,60.3 406.8,62.16 405.1,63.59 403.12,64.49 401,64.8 398.88,64.49 396.9,63.59 395.2,62.16 393.9,60.3 393.08,58.13 392.8,55.8 393.08,53.47 393.9,51.3 395.2,49.44 396.9,48.01 398.88,47.11 401,46.8 403.12,47.11 405.1,48.01 406.8,49.44 408.1,51.3 408.92,53.47" fill="#9a9a9a" filter="url(#blur03)"/>
<circle cx="403.08" cy="64.09" r="1.08" fill="#a8a8a8" stroke="#4a4a4a" stroke-width="0.55"/>
<circle cx="406.42" cy="53.86" r="0.89" fill="#d0d0d0" stroke="#4a4a4a" stroke-width="0.55"/>
<circle cx="402.03" cy="60.75" r="0.88" fill="#b8b8b8" stroke="#4a4a4a" stroke-width="0.55"/>
<circle cx="399.43" cy="47.65" r="0.82" fill="#d0d0d0" stroke="#4a4a4a" stroke-width="0.55"/>
<circle cx="400.34" cy="48.97" r="0.87" fill="#b8b8b8" stroke="#4a4a4a" stroke-width="0.55"/>
<circle cx="402.99" cy="62.5" r="1.11" fill="#e0e0e0" stroke="#4a4a4a" stroke-width="0.55"/>
<circle cx="395.56" cy="60.22" r="0.99" fill="#b8b8b8" stroke="#4a4a4a" stroke-width="0.55"/>
<circle cx="398.92" cy="60.07" r="1.32" fill="#a8a8a8" stroke="#4a4a4a" stroke-width="0.55"/>
<circle cx="393.51" cy="57.67" r="0.85" fill="#e0e0e0" stroke="#4a4a4a" stroke-width="0.55"/>
<circle cx="405.97" cy="48.83" r="1.31" fill="#d0d0d0" stroke="#4a4a4a" stroke-width="0.55"/>
<circle cx="396.98" cy="50.28" r="1.05" fill="#a8a8a8" stroke="#4a4a4a" stroke-width="0.55"/>
<circle cx="394.61" cy="61.21" r="0.9" fill="#e0e0e0" stroke="#4a4a4a" stroke-width="0.55"/>
<circle cx="407.13" cy="58.85" r="1.26" fill="#e0e0e0" stroke="#4a4a4a" stroke-width="0.55"/>
<circle cx="401.63" cy="59.21" r="1.24" fill="#a8a8a8" stroke="#4a4a4a" stroke-width="0.55"/>
<circle cx="395.28" cy="55.83" r="1.28" fill="#b8b8b8" stroke="#4a4a4a" stroke-width="0.55"/>
<circle cx="394.02" cy="57.97" r="1.15" fill="#a8a8a8" stroke="#4a4a4a" stroke-width="0.55"/>
<circle cx="404.16" cy="54.87" r="0.93" fill="#b8b8b8" stroke="#4a4a4a" stroke-width="0.55"/>
<circle cx="398.72" cy="56.31" r="0.97" fill="#d0d0d0" stroke="#4a4a4a" stroke-width="0.55"/>
<circle cx="402.46" cy="47.59" r="0.89" fill="#e0e0e0" stroke="#4a4a4a" stroke-width="0.55"/>
<circle cx="404.73" cy="52.76" r="1.06" fill="#e0e0e0" stroke="#4a4a4a" stroke-width="0.55"/>
<circle cx="397.96" cy="52.84" r="1.07" fill="#d0d0d0" stroke="#4a4a4a" stroke-width="0.55"/>
<circle cx="393.14" cy="55.07" r="1.34" fill="#b8b8b8" stroke="#4a4a4a" stroke-width="0.55"/>
<circle cx="403.15" cy="59.89" r="0.88" fill="#a8a8a8" stroke="#4a4a4a" stroke-width="0.55"/>
<circle cx="397.28" cy="55.8" r="0.94" fill="#d0d0d0" stroke="#4a4a4a" stroke-width="0.55"/>
<circle cx="401.99" cy="60.68" r="1.28" fill="#a8a8a8" stroke="#4a4a4a" stroke-width="0.55"/>
<circle cx="403.18" cy="58.22" r="1" fill="#e0e0e0" stroke="#4a4a4a" stroke-width="0.55"/>
<circle cx="405.81" cy="51.08" r="1.24" fill="#d0d0d0" stroke="#4a4a4a" stroke-width="0.55"/>
<circle cx="403.97" cy="52.27" r="1.22" fill="#e0e0e0" stroke="#4a4a4a" stroke-width="0.55"/>
<circle cx="401.15" cy="58.23" r="0.99" fill="#a8a8a8" stroke="#4a4a4a" stroke-width="0.55"/>
<circle cx="398.28" cy="59.48" r="1.17" fill="#a8a8a8" stroke="#4a4a4a" stroke-width="0.55"/>
<circle cx="401.06" cy="62.9" r="1.25" fill="#e0e0e0" stroke="#4a4a4a" stroke-width="0.55"/>
<circle cx="395.27" cy="50.5" r="1.29" fill="#a8a8a8" stroke="#4a4a4a" stroke-width="0.55"/>
<circle cx="399.44" cy="53.93" r="1.22" fill="#d0d0d0" stroke="#4a4a4a" stroke-width="0.55"/>
<circle cx="402.42" cy="49.39" r="1.2" fill="#e0e0e0" stroke="#4a4a4a" stroke-width="0.55"/>
<circle cx="404.72" cy="56.72" r="1.32" fill="#e0e0e0" stroke="#4a4a4a" stroke-width="0.55"/>
<circle cx="407.97" cy="57.33" r="0.97" fill="#e0e0e0" stroke="#4a4a4a" stroke-width="0.55"/>
<circle cx="405.5" cy="54.51" r="1.28" fill="#b8b8b8" stroke="#4a4a4a" stroke-width="0.55"/>
<circle cx="406.55" cy="52.55" r="0.9" fill="#e0e0e0" stroke="#4a4a4a" stroke-width="0.55"/>
<circle cx="401.76" cy="60.45" r="1.14" fill="#d0d0d0" stroke="#4a4a4a" stroke-width="0.55"/>
<circle cx="404.35" cy="50.73" r="1.02" fill="#d0d0d0" stroke="#4a4a4a" stroke-width="0.55"/>
<circle cx="407.44" cy="51.89" r="1.08" fill="#b8b8b8" stroke="#4a4a4a" stroke-width="0.55"/>
<circle cx="396.03" cy="60.01" r="1.33" fill="#b8b8b8" stroke="#4a4a4a" stroke-width="0.55"/>
<circle cx="407.16" cy="52.94" r="0.88" fill="#d0d0d0" stroke="#4a4a4a" stroke-width="0.55"/>
<circle cx="397.24" cy="58.36" r="0.81" fill="#e0e0e0" stroke="#4a4a4a" stroke-width="0.55"/>
<circle cx="398.16" cy="60.29" r="1.16" fill="#a8a8a8" stroke="#4a4a4a" stroke-width="0.55"/>
<circle cx="402.8" cy="61.21" r="0.9" fill="#a8a8a8" stroke="#4a4a4a" stroke-width="0.55"/>
<circle cx="402.85" cy="60.77" r="1.34" fill="#a8a8a8" stroke="#4a4a4a" stroke-width="0.55"/>
<circle cx="397.02" cy="55.14" r="0.81" fill="#e0e0e0" stroke="#4a4a4a" stroke-width="0.55"/>
<circle cx="402.05" cy="64.58" r="0.83" fill="#e0e0e0" stroke="#4a4a4a" stroke-width="0.55"/>
<circle cx="396.25" cy="56.33" r="1.26" fill="#e0e0e0" stroke="#4a4a4a" stroke-width="0.55"/>
<circle cx="406.15" cy="54.42" r="1.1" fill="#d0d0d0" stroke="#4a4a4a" stroke-width="0.55"/>
<circle cx="403.58" cy="57.63" r="0.98" fill="#e0e0e0" stroke="#4a4a4a" stroke-width="0.55"/>
<circle cx="406.14" cy="55.4" r="0.82" fill="#e0e0e0" stroke="#4a4a4a" stroke-width="0.55"/>
<circle cx="403.49" cy="56.69" r="1.19" fill="#e0e0e0" stroke="#4a4a4a" stroke-width="0.55"/>
<circle cx="398.73" cy="56.33" r="0.95" fill="#e0e0e0" stroke="#4a4a4a" stroke-width="0.55"/>
<circle cx="392.95" cy="55.36" r="1.16" fill="#e0e0e0" stroke="#4a4a4a" stroke-width="0.55"/>
<circle cx="395.27" cy="58.12" r="1.02" fill="#b8b8b8" stroke="#4a4a4a" stroke-width="0.55"/>
<circle cx="408.17" cy="58.04" r="0.87" fill="#d0d0d0" stroke="#4a4a4a" stroke-width="0.55"/>
<circle cx="401.91" cy="50.07" r="1.32" fill="#e0e0e0" stroke="#4a4a4a" stroke-width="0.55"/>
<circle cx="404.9" cy="63.05" r="1.28" fill="#d0d0d0" stroke="#4a4a4a" stroke-width="0.55"/>
<circle cx="401.47" cy="53.11" r="1.19" fill="#a8a8a8" stroke="#4a4a4a" stroke-width="0.55"/>
<circle cx="408.91" cy="55.78" r="1.15" fill="#e0e0e0" stroke="#4a4a4a" stroke-width="0.55"/>
<circle cx="407.58" cy="53.8" r="0.92" fill="#b8b8b8" stroke="#4a4a4a" stroke-width="0.55"/>
<circle cx="394.57" cy="60" r="0.84" fill="#a8a8a8" stroke="#4a4a4a" stroke-width="0.55"/>
<circle cx="403.86" cy="53.11" r="0.93" fill="#a8a8a8" stroke="#4a4a4a" stroke-width="0.55"/>
<circle cx="399.52" cy="63.34" r="1.32" fill="#d0d0d0" stroke="#4a4a4a" stroke-width="0.55"/>
<circle cx="404.43" cy="51.15" r="0.99" fill="#e0e0e0" stroke="#4a4a4a" stroke-width="0.55"/>
<circle cx="405.25" cy="58.37" r="0.96" fill="#a8a8a8" stroke="#4a4a4a" stroke-width="0.55"/>
<circle cx="396.35" cy="57.05" r="0.89" fill="#e0e0e0" stroke="#4a4a4a" stroke-width="0.55"/>
<circle cx="397.72" cy="48.39" r="0.8" fill="#d0d0d0" stroke="#4a4a4a" stroke-width="0.55"/>
<circle cx="395.45" cy="59.09" r="1.13" fill="#a8a8a8" stroke="#4a4a4a" stroke-width="0.55"/>
<circle cx="405.63" cy="62.12" r="1.2" fill="#b8b8b8" stroke="#4a4a4a" stroke-width="0.55"/>
<circle cx="405.59" cy="62.34" r="0.9" fill="#d0d0d0" stroke="#4a4a4a" stroke-width="0.55"/>
<circle cx="404.87" cy="48.56" r="0.89" fill="#a8a8a8" stroke="#4a4a4a" stroke-width="0.55"/>
<circle cx="394.28" cy="52.91" r="1.31" fill="#a8a8a8" stroke="#4a4a4a" stroke-width="0.55"/>
<circle cx="405.79" cy="59.21" r="0.82" fill="#d0d0d0" stroke="#4a4a4a" stroke-width="0.55"/>
<circle cx="402.23" cy="59.37" r="1.2" fill="#b8b8b8" stroke="#4a4a4a" stroke-width="0.55"/>
<circle cx="400.79" cy="49.24" r="1.04" fill="#d0d0d0" stroke="#4a4a4a" stroke-width="0.55"/>
<circle cx="396.47" cy="56.53" r="1.15" fill="#b8b8b8" stroke="#4a4a4a" stroke-width="0.55"/>
<circle cx="401.49" cy="61.91" r="1.33" fill="#b8b8b8" stroke="#4a4a4a" stroke-width="0.55"/>
<circle cx="398.53" cy="50.67" r="1.33" fill="#d0d0d0" stroke="#4a4a4a" stroke-width="0.55"/>
<circle cx="404.79" cy="51.71" r="0.9" fill="#e0e0e0" stroke="#4a4a4a" stroke-width="0.55"/>
<circle cx="397.18" cy="52.66" r="0.82" fill="#a8a8a8" stroke="#4a4a4a" stroke-width="0.55"/>
<circle cx="401.72" cy="56.68" r="1.18" fill="#e0e0e0" stroke="#4a4a4a" stroke-width="0.55"/>
<circle cx="399.35" cy="52.53" r="1.03" fill="#d0d0d0" stroke="#4a4a4a" stroke-width="0.55"/>
<circle cx="399.15" cy="53.74" r="1.03" fill="#d0d0d0" stroke="#4a4a4a" stroke-width="0.55"/>
<circle cx="407.53" cy="58.23" r="0.93" fill="#e0e0e0" stroke="#4a4a4a" stroke-width="0.55"/>
<circle cx="404.18" cy="59.94" r="1.35" fill="#d0d0d0" stroke="#4a4a4a" stroke-width="0.55"/>
<polygon points="416,54 415.81,56.2 415.26,58.25 414.39,60.01 413.25,61.36 411.92,62.21 410.5,62.5 409.08,62.21 407.75,61.36 406.61,60.01 405.74,58.25 405.19,56.2 405,54 405.19,51.8 405.74,49.75 406.61,47.99 407.75,46.64 409.08,45.79 410.5,45.5 411.92,45.79 413.25,46.64 414.39,47.99 415.26,49.75 415.81,51.8" fill="#9a9a9a" filter="url(#blur03)"/>
<circle cx="412.3" cy="46.98" r="1.14" fill="#b8b8b8" stroke="#4a4a4a" stroke-width="0.55"/>
<circle cx="412.64" cy="51.01" r="1.16" fill="#e0e0e0" stroke="#4a4a4a" stroke-width="0.55"/>
<circle cx="410.01" cy="55.32" r="1.06" fill="#a8a8a8" stroke="#4a4a4a" stroke-width="0.55"/>
<circle cx="410.61" cy="55.57" r="1.35" fill="#d0d0d0" stroke="#4a4a4a" stroke-width="0.55"/>
<circle cx="414.07" cy="58.95" r="1.28" fill="#e0e0e0" stroke="#4a4a4a" stroke-width="0.55"/>
<circle cx="412.83" cy="52.19" r="1.09" fill="#e0e0e0" stroke="#4a4a4a" stroke-width="0.55"/>
<circle cx="412.31" cy="61.21" r="1.22" fill="#e0e0e0" stroke="#4a4a4a" stroke-width="0.55"/>
<circle cx="415" cy="53.55" r="1.2" fill="#a8a8a8" stroke="#4a4a4a" stroke-width="0.55"/>
<circle cx="409.01" cy="48.98" r="0.89" fill="#e0e0e0" stroke="#4a4a4a" stroke-width="0.55"/>
<circle cx="407.63" cy="48.43" r="1.25" fill="#a8a8a8" stroke="#4a4a4a" stroke-width="0.55"/>
<circle cx="414.41" cy="56.59" r="1.3" fill="#e0e0e0" stroke="#4a4a4a" stroke-width="0.55"/>
<circle cx="409.19" cy="59.65" r="1.25" fill="#b8b8b8" stroke="#4a4a4a" stroke-width="0.55"/>
<circle cx="409.51" cy="57.44" r="1.01" fill="#e0e0e0" stroke="#4a4a4a" stroke-width="0.55"/>
<circle cx="408.92" cy="59.15" r="1.09" fill="#a8a8a8" stroke="#4a4a4a" stroke-width="0.55"/>
<circle cx="412.28" cy="50.18" r="0.96" fill="#a8a8a8" stroke="#4a4a4a" stroke-width="0.55"/>
<circle cx="412.65" cy="53.14" r="1.06" fill="#d0d0d0" stroke="#4a4a4a" stroke-width="0.55"/>
<circle cx="413.35" cy="48.05" r="1.17" fill="#e0e0e0" stroke="#4a4a4a" stroke-width="0.55"/>
<circle cx="410.38" cy="56.72" r="1.14" fill="#e0e0e0" stroke="#4a4a4a" stroke-width="0.55"/>
<circle cx="413.82" cy="49.8" r="1.11" fill="#b8b8b8" stroke="#4a4a4a" stroke-width="0.55"/>
<circle cx="411.28" cy="46.48" r="0.9" fill="#e0e0e0" stroke="#4a4a4a" stroke-width="0.55"/>
<circle cx="415.09" cy="49.85" r="0.95" fill="#a8a8a8" stroke="#4a4a4a" stroke-width="0.55"/>
<circle cx="406" cy="56.31" r="1.27" fill="#d0d0d0" stroke="#4a4a4a" stroke-width="0.55"/>
<circle cx="408.19" cy="58.78" r="1.31" fill="#a8a8a8" stroke="#4a4a4a" stroke-width="0.55"/>
<circle cx="409.13" cy="46.21" r="1.21" fill="#a8a8a8" stroke="#4a4a4a" stroke-width="0.55"/>
<circle cx="409.74" cy="55.83" r="0.94" fill="#d0d0d0" stroke="#4a4a4a" stroke-width="0.55"/>
<circle cx="409.24" cy="55.34" r="1.31" fill="#d0d0d0" stroke="#4a4a4a" stroke-width="0.55"/>
<circle cx="411.38" cy="46.58" r="0.91" fill="#b8b8b8" stroke="#4a4a4a" stroke-width="0.55"/>
<circle cx="405.88" cy="53.07" r="1.02" fill="#a8a8a8" stroke="#4a4a4a" stroke-width="0.55"/>
<circle cx="410.46" cy="60.82" r="1.22" fill="#b8b8b8" stroke="#4a4a4a" stroke-width="0.55"/>
<circle cx="406.19" cy="55.08" r="1.31" fill="#a8a8a8" stroke="#4a4a4a" stroke-width="0.55"/>
<circle cx="409.56" cy="53.55" r="1.29" fill="#a8a8a8" stroke="#4a4a4a" stroke-width="0.55"/>
<circle cx="409.37" cy="47.8" r="1.21" fill="#b8b8b8" stroke="#4a4a4a" stroke-width="0.55"/>
<circle cx="412.37" cy="58.09" r="1.02" fill="#b8b8b8" stroke="#4a4a4a" stroke-width="0.55"/>
<circle cx="415.18" cy="50.5" r="0.98" fill="#a8a8a8" stroke="#4a4a4a" stroke-width="0.55"/>
<circle cx="413.47" cy="47.51" r="0.92" fill="#b8b8b8" stroke="#4a4a4a" stroke-width="0.55"/>
<circle cx="411.28" cy="45.76" r="1.07" fill="#d0d0d0" stroke="#4a4a4a" stroke-width="0.55"/>
<circle cx="411.21" cy="46.44" r="1.17" fill="#e0e0e0" stroke="#4a4a4a" stroke-width="0.55"/>
<circle cx="410.31" cy="46.43" r="1.18" fill="#a8a8a8" stroke="#4a4a4a" stroke-width="0.55"/>
<circle cx="414.28" cy="47.88" r="1.02" fill="#b8b8b8" stroke="#4a4a4a" stroke-width="0.55"/>
<circle cx="408.68" cy="54.31" r="0.8" fill="#e0e0e0" stroke="#4a4a4a" stroke-width="0.55"/>
<circle cx="410.72" cy="46.97" r="1.01" fill="#e0e0e0" stroke="#4a4a4a" stroke-width="0.55"/>
<circle cx="411.11" cy="54.19" r="1.03" fill="#b8b8b8" stroke="#4a4a4a" stroke-width="0.55"/>
<circle cx="408.38" cy="49.72" r="1.01" fill="#a8a8a8" stroke="#4a4a4a" stroke-width="0.55"/>
<circle cx="414.42" cy="49.87" r="0.91" fill="#b8b8b8" stroke="#4a4a4a" stroke-width="0.55"/>
<circle cx="407.28" cy="56.59" r="1.31" fill="#a8a8a8" stroke="#4a4a4a" stroke-width="0.55"/>
<circle cx="412.81" cy="47.9" r="1.31" fill="#e0e0e0" stroke="#4a4a4a" stroke-width="0.55"/>
<circle cx="411.12" cy="46.37" r="0.97" fill="#b8b8b8" stroke="#4a4a4a" stroke-width="0.55"/>
<circle cx="409.5" cy="55.1" r="0.98" fill="#e0e0e0" stroke="#4a4a4a" stroke-width="0.55"/>
<circle cx="407.42" cy="52.96" r="0.91" fill="#d0d0d0" stroke="#4a4a4a" stroke-width="0.55"/>
<circle cx="413.83" cy="55.57" r="1.05" fill="#a8a8a8" stroke="#4a4a4a" stroke-width="0.55"/>
<circle cx="407.24" cy="48.95" r="0.9" fill="#b8b8b8" stroke="#4a4a4a" stroke-width="0.55"/>
<circle cx="405.79" cy="55.64" r="0.9" fill="#d0d0d0" stroke="#4a4a4a" stroke-width="0.55"/>
<circle cx="410.48" cy="56.96" r="1.17" fill="#e0e0e0" stroke="#4a4a4a" stroke-width="0.55"/>
<circle cx="413.82" cy="54.59" r="0.89" fill="#d0d0d0" stroke="#4a4a4a" stroke-width="0.55"/>
<circle cx="410.68" cy="53.42" r="0.91" fill="#b8b8b8" stroke="#4a4a4a" stroke-width="0.55"/>
<circle cx="415.46" cy="52.55" r="1.16" fill="#e0e0e0" stroke="#4a4a4a" stroke-width="0.55"/>
<circle cx="412.77" cy="53.02" r="1.03" fill="#b8b8b8" stroke="#4a4a4a" stroke-width="0.55"/>
<circle cx="406.76" cy="53.09" r="1.22" fill="#e0e0e0" stroke="#4a4a4a" stroke-width="0.55"/>
<rect x="428.3" y="85" width="14.6" height="2.3" fill="#000" stroke="none" stroke-width="1" />
<text x="435.6" y="82.3" font-size="5.2" font-weight="normal" text-anchor="middle" fill="#000" >100μm</text>
<rect x="197.5" y="93.9" width="80.5" height="60.5" fill="#8a8a8a" stroke="none" stroke-width="1" />
<rect x="197.5" y="93.9" width="80.5" height="60.5" fill="#fff" stroke="none" stroke-width="1" filter="url(#noise10)" opacity="1"/>
<rect x="197.5" y="93.9" width="80.5" height="60.5" fill="url(#grad10)" stroke="none" stroke-width="1" />
<rect x="197.5" y="93.9" width="80.5" height="60.5" fill="#fff" stroke="none" stroke-width="1" filter="url(#grain)"/>
<rect x="198" y="94.4" width="79.5" height="59.5" fill="none" stroke="#000" stroke-width="1" stroke-opacity="0.10"/>
<polygon points="234.2,118 241.8,118.7 247.9,122.5 250.2,127.9 244.9,134 238.7,139.3 231.1,140.9 223.5,136.3 220.4,132.5 224.2,125.6 228.8,120.2" fill="#8a8a8a" filter="url(#blur03)"/>
<circle cx="241.47" cy="134.47" r="0.97" fill="#f0f0f0" stroke="#4a4a4a" stroke-width="0.55"/>
<circle cx="230.07" cy="137.27" r="0.88" fill="#e0e0e0" stroke="#4a4a4a" stroke-width="0.55"/>
<circle cx="231.72" cy="132.67" r="0.92" fill="#c8c8c8" stroke="#4a4a4a" stroke-width="0.55"/>
<circle cx="225.88" cy="125.63" r="1.02" fill="#c8c8c8" stroke="#4a4a4a" stroke-width="0.55"/>
<circle cx="245.09" cy="120.8" r="1.31" fill="#c8c8c8" stroke="#4a4a4a" stroke-width="0.55"/>
<circle cx="229.06" cy="125.97" r="1.21" fill="#a8a8a8" stroke="#4a4a4a" stroke-width="0.55"/>
<circle cx="226.38" cy="124.41" r="0.97" fill="#c8c8c8" stroke="#4a4a4a" stroke-width="0.55"/>
<circle cx="226.4" cy="128.77" r="1.22" fill="#e0e0e0" stroke="#4a4a4a" stroke-width="0.55"/>
<circle cx="237.65" cy="124.87" r="1.12" fill="#c8c8c8" stroke="#4a4a4a" stroke-width="0.55"/>
<circle cx="249.23" cy="125.88" r="1.32" fill="#f0f0f0" stroke="#4a4a4a" stroke-width="0.55"/>
<circle cx="233.8" cy="123.67" r="1.21" fill="#e0e0e0" stroke="#4a4a4a" stroke-width="0.55"/>
<circle cx="233.96" cy="135.11" r="0.86" fill="#e0e0e0" stroke="#4a4a4a" stroke-width="0.55"/>
<circle cx="238.15" cy="128.57" r="0.82" fill="#c8c8c8" stroke="#4a4a4a" stroke-width="0.55"/>
<circle cx="232.71" cy="133.95" r="1.03" fill="#f0f0f0" stroke="#4a4a4a" stroke-width="0.55"/>
<circle cx="222.67" cy="134.66" r="1.2" fill="#f0f0f0" stroke="#4a4a4a" stroke-width="0.55"/>
<circle cx="230.28" cy="137.29" r="1.28" fill="#a8a8a8" stroke="#4a4a4a" stroke-width="0.55"/>
<circle cx="229.44" cy="123.98" r="0.86" fill="#e0e0e0" stroke="#4a4a4a" stroke-width="0.55"/>
<circle cx="223.89" cy="129.36" r="1.09" fill="#c8c8c8" stroke="#4a4a4a" stroke-width="0.55"/>
<circle cx="230.06" cy="123.63" r="1.11" fill="#c8c8c8" stroke="#4a4a4a" stroke-width="0.55"/>
<circle cx="235.5" cy="126.4" r="0.91" fill="#a8a8a8" stroke="#4a4a4a" stroke-width="0.55"/>
<circle cx="236.34" cy="123.49" r="0.85" fill="#c8c8c8" stroke="#4a4a4a" stroke-width="0.55"/>
<circle cx="248.51" cy="129.18" r="1.24" fill="#e0e0e0" stroke="#4a4a4a" stroke-width="0.55"/>
<circle cx="240.93" cy="123.25" r="1.21" fill="#e0e0e0" stroke="#4a4a4a" stroke-width="0.55"/>
<circle cx="233.04" cy="132.3" r="0.86" fill="#c8c8c8" stroke="#4a4a4a" stroke-width="0.55"/>
<circle cx="222.91" cy="131.25" r="0.93" fill="#c8c8c8" stroke="#4a4a4a" stroke-width="0.55"/>
<circle cx="230.45" cy="120.25" r="0.92" fill="#e0e0e0" stroke="#4a4a4a" stroke-width="0.55"/>
<circle cx="244.68" cy="125.83" r="1.25" fill="#a8a8a8" stroke="#4a4a4a" stroke-width="0.55"/>
<circle cx="238.04" cy="122.19" r="0.97" fill="#a8a8a8" stroke="#4a4a4a" stroke-width="0.55"/>
<circle cx="243.9" cy="121.39" r="1.08" fill="#e0e0e0" stroke="#4a4a4a" stroke-width="0.55"/>
<circle cx="224.91" cy="125.88" r="0.88" fill="#e0e0e0" stroke="#4a4a4a" stroke-width="0.55"/>
<circle cx="241.52" cy="119.53" r="0.8" fill="#a8a8a8" stroke="#4a4a4a" stroke-width="0.55"/>
<circle cx="238.38" cy="119.43" r="1.28" fill="#c8c8c8" stroke="#4a4a4a" stroke-width="0.55"/>
<circle cx="223.15" cy="134.43" r="0.99" fill="#e0e0e0" stroke="#4a4a4a" stroke-width="0.55"/>
<circle cx="244.34" cy="129.28" r="1.22" fill="#a8a8a8" stroke="#4a4a4a" stroke-width="0.55"/>
<circle cx="244.3" cy="131.52" r="1.04" fill="#f0f0f0" stroke="#4a4a4a" stroke-width="0.55"/>
<circle cx="242.69" cy="131.59" r="1.16" fill="#c8c8c8" stroke="#4a4a4a" stroke-width="0.55"/>
<circle cx="245.65" cy="123.5" r="1.12" fill="#e0e0e0" stroke="#4a4a4a" stroke-width="0.55"/>
<circle cx="246.55" cy="131.17" r="1.31" fill="#c8c8c8" stroke="#4a4a4a" stroke-width="0.55"/>
<circle cx="232.08" cy="135.95" r="1.24" fill="#f0f0f0" stroke="#4a4a4a" stroke-width="0.55"/>
<circle cx="245.01" cy="127.3" r="0.85" fill="#f0f0f0" stroke="#4a4a4a" stroke-width="0.55"/>
<circle cx="233.11" cy="124.98" r="0.97" fill="#c8c8c8" stroke="#4a4a4a" stroke-width="0.55"/>
<circle cx="234.57" cy="127.41" r="0.96" fill="#e0e0e0" stroke="#4a4a4a" stroke-width="0.55"/>
<circle cx="230.4" cy="122.89" r="0.99" fill="#a8a8a8" stroke="#4a4a4a" stroke-width="0.55"/>
<circle cx="238.85" cy="124.69" r="0.85" fill="#f0f0f0" stroke="#4a4a4a" stroke-width="0.55"/>
<circle cx="232.54" cy="130.32" r="0.93" fill="#e0e0e0" stroke="#4a4a4a" stroke-width="0.55"/>
<circle cx="240.75" cy="118.95" r="1.25" fill="#e0e0e0" stroke="#4a4a4a" stroke-width="0.55"/>
<circle cx="232.01" cy="125.62" r="0.88" fill="#e0e0e0" stroke="#4a4a4a" stroke-width="0.55"/>
<circle cx="227.08" cy="138.38" r="1.14" fill="#a8a8a8" stroke="#4a4a4a" stroke-width="0.55"/>
<circle cx="229.6" cy="125.29" r="1.28" fill="#e0e0e0" stroke="#4a4a4a" stroke-width="0.55"/>
<circle cx="227.73" cy="130.94" r="1.16" fill="#f0f0f0" stroke="#4a4a4a" stroke-width="0.55"/>
<circle cx="242.29" cy="135.25" r="1.17" fill="#e0e0e0" stroke="#4a4a4a" stroke-width="0.55"/>
<circle cx="240.26" cy="119.74" r="1.14" fill="#a8a8a8" stroke="#4a4a4a" stroke-width="0.55"/>
<circle cx="228.34" cy="124.77" r="0.97" fill="#a8a8a8" stroke="#4a4a4a" stroke-width="0.55"/>
<circle cx="222.18" cy="132.99" r="1.07" fill="#c8c8c8" stroke="#4a4a4a" stroke-width="0.55"/>
<circle cx="240.77" cy="130.76" r="1.05" fill="#e0e0e0" stroke="#4a4a4a" stroke-width="0.55"/>
<circle cx="242.12" cy="135.17" r="0.82" fill="#f0f0f0" stroke="#4a4a4a" stroke-width="0.55"/>
<circle cx="234.78" cy="118.16" r="1.32" fill="#f0f0f0" stroke="#4a4a4a" stroke-width="0.55"/>
<circle cx="224.71" cy="131.45" r="1.12" fill="#c8c8c8" stroke="#4a4a4a" stroke-width="0.55"/>
<circle cx="239.09" cy="123.54" r="1.23" fill="#c8c8c8" stroke="#4a4a4a" stroke-width="0.55"/>
<circle cx="232.94" cy="140.4" r="1.16" fill="#a8a8a8" stroke="#4a4a4a" stroke-width="0.55"/>
<circle cx="231.14" cy="138.68" r="0.98" fill="#a8a8a8" stroke="#4a4a4a" stroke-width="0.55"/>
<circle cx="230.75" cy="121.2" r="1.08" fill="#c8c8c8" stroke="#4a4a4a" stroke-width="0.55"/>
<circle cx="225.23" cy="134.91" r="0.89" fill="#f0f0f0" stroke="#4a4a4a" stroke-width="0.55"/>
<circle cx="231.13" cy="133.88" r="0.95" fill="#a8a8a8" stroke="#4a4a4a" stroke-width="0.55"/>
<circle cx="226.28" cy="125.35" r="1.04" fill="#c8c8c8" stroke="#4a4a4a" stroke-width="0.55"/>
<circle cx="240.71" cy="126.29" r="0.98" fill="#a8a8a8" stroke="#4a4a4a" stroke-width="0.55"/>
<circle cx="228.35" cy="122.67" r="1.3" fill="#a8a8a8" stroke="#4a4a4a" stroke-width="0.55"/>
<circle cx="235.34" cy="127.35" r="0.89" fill="#f0f0f0" stroke="#4a4a4a" stroke-width="0.55"/>
<circle cx="236.36" cy="133.15" r="1.27" fill="#a8a8a8" stroke="#4a4a4a" stroke-width="0.55"/>
<circle cx="242.83" cy="124.31" r="1" fill="#a8a8a8" stroke="#4a4a4a" stroke-width="0.55"/>
<circle cx="236.17" cy="124.6" r="1.15" fill="#f0f0f0" stroke="#4a4a4a" stroke-width="0.55"/>
<circle cx="233.8" cy="118.27" r="1.09" fill="#f0f0f0" stroke="#4a4a4a" stroke-width="0.55"/>
<circle cx="230.94" cy="139.52" r="0.95" fill="#e0e0e0" stroke="#4a4a4a" stroke-width="0.55"/>
<circle cx="223.27" cy="131.8" r="1.26" fill="#c8c8c8" stroke="#4a4a4a" stroke-width="0.55"/>
<circle cx="225.66" cy="134.55" r="1.21" fill="#c8c8c8" stroke="#4a4a4a" stroke-width="0.55"/>
<circle cx="243.48" cy="127.03" r="1.32" fill="#f0f0f0" stroke="#4a4a4a" stroke-width="0.55"/>
<circle cx="232.32" cy="129.45" r="0.99" fill="#e0e0e0" stroke="#4a4a4a" stroke-width="0.55"/>
<circle cx="241.62" cy="121.28" r="1.2" fill="#a8a8a8" stroke="#4a4a4a" stroke-width="0.55"/>
<circle cx="224.38" cy="125.76" r="0.84" fill="#a8a8a8" stroke="#4a4a4a" stroke-width="0.55"/>
<circle cx="237.5" cy="123.39" r="1.04" fill="#e0e0e0" stroke="#4a4a4a" stroke-width="0.55"/>
<circle cx="237.5" cy="124.27" r="1.26" fill="#e0e0e0" stroke="#4a4a4a" stroke-width="0.55"/>
<circle cx="224.9" cy="133.38" r="1.21" fill="#c8c8c8" stroke="#4a4a4a" stroke-width="0.55"/>
<circle cx="239.74" cy="138.12" r="0.87" fill="#a8a8a8" stroke="#4a4a4a" stroke-width="0.55"/>
<circle cx="238.65" cy="124.3" r="0.84" fill="#f0f0f0" stroke="#4a4a4a" stroke-width="0.55"/>
<circle cx="238.51" cy="138.7" r="0.97" fill="#f0f0f0" stroke="#4a4a4a" stroke-width="0.55"/>
<circle cx="244.3" cy="126.24" r="1.18" fill="#c8c8c8" stroke="#4a4a4a" stroke-width="0.55"/>
<circle cx="226.91" cy="128.48" r="1.22" fill="#a8a8a8" stroke="#4a4a4a" stroke-width="0.55"/>
<circle cx="233.68" cy="130.71" r="1.24" fill="#c8c8c8" stroke="#4a4a4a" stroke-width="0.55"/>
<circle cx="236.43" cy="128.71" r="1.07" fill="#f0f0f0" stroke="#4a4a4a" stroke-width="0.55"/>
<circle cx="239.16" cy="125.79" r="0.98" fill="#e0e0e0" stroke="#4a4a4a" stroke-width="0.55"/>
<circle cx="226.89" cy="136.17" r="0.91" fill="#c8c8c8" stroke="#4a4a4a" stroke-width="0.55"/>
<circle cx="244.56" cy="124.14" r="1.01" fill="#f0f0f0" stroke="#4a4a4a" stroke-width="0.55"/>
<circle cx="241.99" cy="131.39" r="1.02" fill="#a8a8a8" stroke="#4a4a4a" stroke-width="0.55"/>
<circle cx="227.14" cy="137.87" r="1.35" fill="#f0f0f0" stroke="#4a4a4a" stroke-width="0.55"/>
<circle cx="249.05" cy="125.54" r="1.34" fill="#c8c8c8" stroke="#4a4a4a" stroke-width="0.55"/>
<circle cx="239.52" cy="131.18" r="1.04" fill="#a8a8a8" stroke="#4a4a4a" stroke-width="0.55"/>
<circle cx="226.08" cy="132.1" r="0.86" fill="#e0e0e0" stroke="#4a4a4a" stroke-width="0.55"/>
<circle cx="228.82" cy="122.45" r="1.2" fill="#c8c8c8" stroke="#4a4a4a" stroke-width="0.55"/>
<circle cx="233.47" cy="122.53" r="1.19" fill="#e0e0e0" stroke="#4a4a4a" stroke-width="0.55"/>
<circle cx="243.44" cy="122.61" r="1.22" fill="#f0f0f0" stroke="#4a4a4a" stroke-width="0.55"/>
<circle cx="241.84" cy="119.44" r="0.91" fill="#c8c8c8" stroke="#4a4a4a" stroke-width="0.55"/>
<circle cx="245.3" cy="132.69" r="1.21" fill="#f0f0f0" stroke="#4a4a4a" stroke-width="0.55"/>
<circle cx="237.02" cy="132.37" r="1.11" fill="#f0f0f0" stroke="#4a4a4a" stroke-width="0.55"/>
<circle cx="230.99" cy="138.59" r="1.24" fill="#a8a8a8" stroke="#4a4a4a" stroke-width="0.55"/>
<circle cx="243.43" cy="125.85" r="1.27" fill="#f0f0f0" stroke="#4a4a4a" stroke-width="0.55"/>
<circle cx="243.57" cy="128.79" r="1.34" fill="#f0f0f0" stroke="#4a4a4a" stroke-width="0.55"/>
<circle cx="244.08" cy="128.91" r="1.25" fill="#e0e0e0" stroke="#4a4a4a" stroke-width="0.55"/>
<circle cx="245.73" cy="130.1" r="0.94" fill="#a8a8a8" stroke="#4a4a4a" stroke-width="0.55"/>
<circle cx="226.64" cy="123.77" r="0.81" fill="#e0e0e0" stroke="#4a4a4a" stroke-width="0.55"/>
<circle cx="249.62" cy="128" r="1.2" fill="#a8a8a8" stroke="#4a4a4a" stroke-width="0.55"/>
<circle cx="233.41" cy="121.17" r="0.86" fill="#a8a8a8" stroke="#4a4a4a" stroke-width="0.55"/>
<circle cx="243.65" cy="122.67" r="1.12" fill="#c8c8c8" stroke="#4a4a4a" stroke-width="0.55"/>
<circle cx="245.98" cy="125.75" r="1.11" fill="#a8a8a8" stroke="#4a4a4a" stroke-width="0.55"/>
<circle cx="234.84" cy="132.64" r="0.91" fill="#e0e0e0" stroke="#4a4a4a" stroke-width="0.55"/>
<circle cx="226.49" cy="126.12" r="1.28" fill="#c8c8c8" stroke="#4a4a4a" stroke-width="0.55"/>
<circle cx="238.02" cy="120.89" r="0.91" fill="#a8a8a8" stroke="#4a4a4a" stroke-width="0.55"/>
<circle cx="237.45" cy="139.08" r="1.18" fill="#a8a8a8" stroke="#4a4a4a" stroke-width="0.55"/>
<circle cx="243.1" cy="131.06" r="1.2" fill="#a8a8a8" stroke="#4a4a4a" stroke-width="0.55"/>
<circle cx="225.44" cy="132.93" r="1.27" fill="#e0e0e0" stroke="#4a4a4a" stroke-width="0.55"/>
<circle cx="241.76" cy="128.75" r="1.28" fill="#e0e0e0" stroke="#4a4a4a" stroke-width="0.55"/>
<circle cx="223.93" cy="129.4" r="1.01" fill="#e0e0e0" stroke="#4a4a4a" stroke-width="0.55"/>
<circle cx="242.61" cy="123.13" r="1.21" fill="#c8c8c8" stroke="#4a4a4a" stroke-width="0.55"/>
<circle cx="227.63" cy="138.79" r="0.91" fill="#c8c8c8" stroke="#4a4a4a" stroke-width="0.55"/>
<circle cx="226.94" cy="133.39" r="1.31" fill="#a8a8a8" stroke="#4a4a4a" stroke-width="0.55"/>
<circle cx="228.24" cy="121.51" r="0.81" fill="#c8c8c8" stroke="#4a4a4a" stroke-width="0.55"/>
<circle cx="236.17" cy="132.1" r="0.98" fill="#a8a8a8" stroke="#4a4a4a" stroke-width="0.55"/>
<circle cx="245.77" cy="130.73" r="1.25" fill="#c8c8c8" stroke="#4a4a4a" stroke-width="0.55"/>
<circle cx="241.44" cy="133.15" r="1.14" fill="#a8a8a8" stroke="#4a4a4a" stroke-width="0.55"/>
<circle cx="234.05" cy="120.8" r="1.16" fill="#e0e0e0" stroke="#4a4a4a" stroke-width="0.55"/>
<circle cx="238.66" cy="119.98" r="1.09" fill="#c8c8c8" stroke="#4a4a4a" stroke-width="0.55"/>
<circle cx="229.61" cy="124.77" r="1.07" fill="#f0f0f0" stroke="#4a4a4a" stroke-width="0.55"/>
<circle cx="241.04" cy="131.71" r="1.09" fill="#a8a8a8" stroke="#4a4a4a" stroke-width="0.55"/>
<circle cx="237.52" cy="122.83" r="1.22" fill="#c8c8c8" stroke="#4a4a4a" stroke-width="0.55"/>
<circle cx="241.76" cy="118.7" r="1.17" fill="#a8a8a8" stroke="#4a4a4a" stroke-width="0.55"/>
<circle cx="238.84" cy="124.72" r="0.94" fill="#e0e0e0" stroke="#4a4a4a" stroke-width="0.55"/>
<circle cx="227.93" cy="124.88" r="0.99" fill="#f0f0f0" stroke="#4a4a4a" stroke-width="0.55"/>
<circle cx="231.79" cy="121.71" r="0.89" fill="#a8a8a8" stroke="#4a4a4a" stroke-width="0.55"/>
<circle cx="228.57" cy="123.72" r="1.03" fill="#c8c8c8" stroke="#4a4a4a" stroke-width="0.55"/>
<circle cx="230.55" cy="130.46" r="1" fill="#f0f0f0" stroke="#4a4a4a" stroke-width="0.55"/>
<circle cx="227.52" cy="125.85" r="0.84" fill="#e0e0e0" stroke="#4a4a4a" stroke-width="0.55"/>
<circle cx="229.75" cy="132.36" r="1" fill="#c8c8c8" stroke="#4a4a4a" stroke-width="0.55"/>
<circle cx="236.22" cy="132.88" r="1.1" fill="#a8a8a8" stroke="#4a4a4a" stroke-width="0.55"/>
<circle cx="248.16" cy="129.88" r="1.23" fill="#c8c8c8" stroke="#4a4a4a" stroke-width="0.55"/>
<circle cx="239.7" cy="122.99" r="1.22" fill="#c8c8c8" stroke="#4a4a4a" stroke-width="0.55"/>
<circle cx="241.69" cy="127.88" r="0.87" fill="#e0e0e0" stroke="#4a4a4a" stroke-width="0.55"/>
<circle cx="238.6" cy="132.07" r="0.89" fill="#f0f0f0" stroke="#4a4a4a" stroke-width="0.55"/>
<circle cx="242.84" cy="123.69" r="0.94" fill="#c8c8c8" stroke="#4a4a4a" stroke-width="0.55"/>
<circle cx="239.51" cy="132.16" r="1.16" fill="#e0e0e0" stroke="#4a4a4a" stroke-width="0.55"/>
<circle cx="239.95" cy="131.69" r="1.18" fill="#f0f0f0" stroke="#4a4a4a" stroke-width="0.55"/>
<circle cx="222.72" cy="134.71" r="1.09" fill="#c8c8c8" stroke="#4a4a4a" stroke-width="0.55"/>
<circle cx="231.17" cy="121.26" r="0.86" fill="#a8a8a8" stroke="#4a4a4a" stroke-width="0.55"/>
<circle cx="239.72" cy="129.69" r="1.28" fill="#a8a8a8" stroke="#4a4a4a" stroke-width="0.55"/>
<circle cx="229.43" cy="127.36" r="1.18" fill="#a8a8a8" stroke="#4a4a4a" stroke-width="0.55"/>
<circle cx="246.07" cy="128.55" r="0.98" fill="#e0e0e0" stroke="#4a4a4a" stroke-width="0.55"/>
<circle cx="227.14" cy="137.58" r="1.24" fill="#f0f0f0" stroke="#4a4a4a" stroke-width="0.55"/>
<circle cx="225.11" cy="133.1" r="1.12" fill="#f0f0f0" stroke="#4a4a4a" stroke-width="0.55"/>
<circle cx="231.81" cy="132.94" r="1.11" fill="#e0e0e0" stroke="#4a4a4a" stroke-width="0.55"/>
<circle cx="248.29" cy="126.14" r="1.1" fill="#e0e0e0" stroke="#4a4a4a" stroke-width="0.55"/>
<circle cx="224.52" cy="136.04" r="0.94" fill="#f0f0f0" stroke="#4a4a4a" stroke-width="0.55"/>
<circle cx="225.35" cy="133.19" r="1.28" fill="#e0e0e0" stroke="#4a4a4a" stroke-width="0.55"/>
<circle cx="228.9" cy="126.72" r="1.22" fill="#e0e0e0" stroke="#4a4a4a" stroke-width="0.55"/>
<circle cx="239.73" cy="138.3" r="1.22" fill="#f0f0f0" stroke="#4a4a4a" stroke-width="0.55"/>
<circle cx="227.58" cy="138.45" r="0.94" fill="#c8c8c8" stroke="#4a4a4a" stroke-width="0.55"/>
<circle cx="221.91" cy="133.2" r="1.26" fill="#e0e0e0" stroke="#4a4a4a" stroke-width="0.55"/>
<circle cx="228.8" cy="128.82" r="1.07" fill="#c8c8c8" stroke="#4a4a4a" stroke-width="0.55"/>
<circle cx="234.11" cy="134.29" r="0.85" fill="#c8c8c8" stroke="#4a4a4a" stroke-width="0.55"/>
<circle cx="234.85" cy="139.14" r="1.3" fill="#a8a8a8" stroke="#4a4a4a" stroke-width="0.55"/>
<circle cx="233.52" cy="120.71" r="0.84" fill="#f0f0f0" stroke="#4a4a4a" stroke-width="0.55"/>
<circle cx="233.63" cy="123.47" r="0.99" fill="#c8c8c8" stroke="#4a4a4a" stroke-width="0.55"/>
<rect x="259.4" y="149.7" width="14.6" height="2.3" fill="#000" stroke="none" stroke-width="1" />
<text x="266.7" y="147" font-size="5.2" font-weight="normal" text-anchor="middle" fill="#000" >100μm</text>
<rect x="281.7" y="93.9" width="81" height="60.5" fill="#b8b8b8" stroke="none" stroke-width="1" />
<rect x="281.7" y="93.9" width="81" height="60.5" fill="#fff" stroke="none" stroke-width="1" filter="url(#noise11)" opacity="1"/>
<rect x="281.7" y="93.9" width="81" height="60.5" fill="url(#grad11)" stroke="none" stroke-width="1" />
<rect x="281.7" y="93.9" width="81" height="60.5" fill="#fff" stroke="none" stroke-width="1" filter="url(#grain)"/>
<rect x="282.2" y="94.4" width="80" height="59.5" fill="none" stroke="#000" stroke-width="1" stroke-opacity="0.10"/>
<polygon points="326.5,120.2 326.19,122.37 325.29,124.4 323.86,126.14 322,127.47 319.83,128.31 317.5,128.6 315.17,128.31 313,127.47 311.14,126.14 309.71,124.4 308.81,122.37 308.5,120.2 308.81,118.03 309.71,116 311.14,114.26 313,112.93 315.17,112.09 317.5,111.8 319.83,112.09 322,112.93 323.86,114.26 325.29,116 326.19,118.03" fill="#989898" filter="url(#blur03)"/>
<circle cx="321.9" cy="121.26" r="1.28" fill="#a8a8a8" stroke="#4a4a4a" stroke-width="0.55"/>
<circle cx="317.95" cy="115.83" r="0.89" fill="#e0e0e0" stroke="#4a4a4a" stroke-width="0.55"/>
<circle cx="313.28" cy="127.32" r="1.05" fill="#d0d0d0" stroke="#4a4a4a" stroke-width="0.55"/>
<circle cx="309.84" cy="119.41" r="0.97" fill="#d0d0d0" stroke="#4a4a4a" stroke-width="0.55"/>
<circle cx="313.55" cy="125.06" r="0.84" fill="#a8a8a8" stroke="#4a4a4a" stroke-width="0.55"/>
<circle cx="317.17" cy="114.82" r="0.81" fill="#b8b8b8" stroke="#4a4a4a" stroke-width="0.55"/>
<circle cx="320.08" cy="123.34" r="0.82" fill="#d0d0d0" stroke="#4a4a4a" stroke-width="0.55"/>
<circle cx="322.41" cy="122.96" r="0.88" fill="#e0e0e0" stroke="#4a4a4a" stroke-width="0.55"/>
<circle cx="311.11" cy="125.3" r="1.32" fill="#b8b8b8" stroke="#4a4a4a" stroke-width="0.55"/>
<circle cx="323.93" cy="117.98" r="1.3" fill="#d0d0d0" stroke="#4a4a4a" stroke-width="0.55"/>
<circle cx="316.75" cy="123.96" r="1.05" fill="#b8b8b8" stroke="#4a4a4a" stroke-width="0.55"/>
<circle cx="323.61" cy="116.91" r="0.97" fill="#d0d0d0" stroke="#4a4a4a" stroke-width="0.55"/>
<circle cx="325.41" cy="118.55" r="1.17" fill="#b8b8b8" stroke="#4a4a4a" stroke-width="0.55"/>
<circle cx="314.98" cy="119.93" r="0.84" fill="#e0e0e0" stroke="#4a4a4a" stroke-width="0.55"/>
<circle cx="317.71" cy="127.73" r="1.07" fill="#d0d0d0" stroke="#4a4a4a" stroke-width="0.55"/>
<circle cx="319.68" cy="115.44" r="1.26" fill="#d0d0d0" stroke="#4a4a4a" stroke-width="0.55"/>
<circle cx="314.08" cy="124.98" r="0.95" fill="#e0e0e0" stroke="#4a4a4a" stroke-width="0.55"/>
<circle cx="315.94" cy="123.71" r="1.11" fill="#d0d0d0" stroke="#4a4a4a" stroke-width="0.55"/>
<circle cx="312.79" cy="125.86" r="0.89" fill="#e0e0e0" stroke="#4a4a4a" stroke-width="0.55"/>
<circle cx="319.42" cy="119.78" r="1.1" fill="#a8a8a8" stroke="#4a4a4a" stroke-width="0.55"/>
<circle cx="310.98" cy="115.84" r="0.87" fill="#a8a8a8" stroke="#4a4a4a" stroke-width="0.55"/>
<circle cx="317.9" cy="121.57" r="1.29" fill="#b8b8b8" stroke="#4a4a4a" stroke-width="0.55"/>
<circle cx="311.52" cy="118.9" r="0.84" fill="#a8a8a8" stroke="#4a4a4a" stroke-width="0.55"/>
<circle cx="322.72" cy="116.05" r="1.11" fill="#d0d0d0" stroke="#4a4a4a" stroke-width="0.55"/>
<circle cx="315.84" cy="112.67" r="1.3" fill="#b8b8b8" stroke="#4a4a4a" stroke-width="0.55"/>
<circle cx="309.77" cy="124.46" r="0.9" fill="#d0d0d0" stroke="#4a4a4a" stroke-width="0.55"/>
<circle cx="316.06" cy="120.69" r="1.27" fill="#b8b8b8" stroke="#4a4a4a" stroke-width="0.55"/>
<circle cx="316.53" cy="120.19" r="1.09" fill="#e0e0e0" stroke="#4a4a4a" stroke-width="0.55"/>
<circle cx="324.66" cy="121.38" r="0.9" fill="#e0e0e0" stroke="#4a4a4a" stroke-width="0.55"/>
<circle cx="320.08" cy="118.72" r="1.33" fill="#e0e0e0" stroke="#4a4a4a" stroke-width="0.55"/>
<circle cx="320.69" cy="113.03" r="1.21" fill="#a8a8a8" stroke="#4a4a4a" stroke-width="0.55"/>
<circle cx="312.32" cy="117.31" r="1.31" fill="#a8a8a8" stroke="#4a4a4a" stroke-width="0.55"/>
<circle cx="317.06" cy="123.19" r="1.19" fill="#d0d0d0" stroke="#4a4a4a" stroke-width="0.55"/>
<circle cx="316.88" cy="117.25" r="1.33" fill="#a8a8a8" stroke="#4a4a4a" stroke-width="0.55"/>
<circle cx="318.27" cy="118.54" r="0.87" fill="#d0d0d0" stroke="#4a4a4a" stroke-width="0.55"/>
<circle cx="315.17" cy="123.7" r="1.01" fill="#a8a8a8" stroke="#4a4a4a" stroke-width="0.55"/>
<circle cx="322.3" cy="113.94" r="0.92" fill="#d0d0d0" stroke="#4a4a4a" stroke-width="0.55"/>
<circle cx="317.68" cy="126.66" r="1.14" fill="#b8b8b8" stroke="#4a4a4a" stroke-width="0.55"/>
<circle cx="316.95" cy="119.43" r="0.98" fill="#e0e0e0" stroke="#4a4a4a" stroke-width="0.55"/>
<circle cx="314.71" cy="124.54" r="0.97" fill="#a8a8a8" stroke="#4a4a4a" stroke-width="0.55"/>
<circle cx="320.98" cy="123.16" r="1.23" fill="#a8a8a8" stroke="#4a4a4a" stroke-width="0.55"/>
<circle cx="315.15" cy="127.97" r="1.22" fill="#d0d0d0" stroke="#4a4a4a" stroke-width="0.55"/>
<circle cx="319.92" cy="123.64" r="1.33" fill="#d0d0d0" stroke="#4a4a4a" stroke-width="0.55"/>
<circle cx="315.15" cy="126.08" r="1.16" fill="#d0d0d0" stroke="#4a4a4a" stroke-width="0.55"/>
<circle cx="323.29" cy="121.9" r="1.27" fill="#b8b8b8" stroke="#4a4a4a" stroke-width="0.55"/>
<circle cx="318.13" cy="123.99" r="0.95" fill="#b8b8b8" stroke="#4a4a4a" stroke-width="0.55"/>
<circle cx="322.87" cy="125.86" r="0.85" fill="#d0d0d0" stroke="#4a4a4a" stroke-width="0.55"/>
<circle cx="313.27" cy="123.75" r="1.34" fill="#b8b8b8" stroke="#4a4a4a" stroke-width="0.55"/>
<circle cx="316.96" cy="113.03" r="0.99" fill="#e0e0e0" stroke="#4a4a4a" stroke-width="0.55"/>
<circle cx="316.01" cy="119.84" r="0.94" fill="#b8b8b8" stroke="#4a4a4a" stroke-width="0.55"/>
<circle cx="325.19" cy="116.23" r="0.95" fill="#b8b8b8" stroke="#4a4a4a" stroke-width="0.55"/>
<circle cx="319.73" cy="123.5" r="0.94" fill="#e0e0e0" stroke="#4a4a4a" stroke-width="0.55"/>
<circle cx="314.65" cy="120.06" r="0.9" fill="#b8b8b8" stroke="#4a4a4a" stroke-width="0.55"/>
<circle cx="322.02" cy="125.89" r="1.03" fill="#e0e0e0" stroke="#4a4a4a" stroke-width="0.55"/>
<circle cx="321.41" cy="115.65" r="1.24" fill="#a8a8a8" stroke="#4a4a4a" stroke-width="0.55"/>
<circle cx="310.2" cy="121.65" r="0.91" fill="#a8a8a8" stroke="#4a4a4a" stroke-width="0.55"/>
<circle cx="322.97" cy="125.09" r="0.93" fill="#b8b8b8" stroke="#4a4a4a" stroke-width="0.55"/>
<circle cx="323.35" cy="119.73" r="1.04" fill="#b8b8b8" stroke="#4a4a4a" stroke-width="0.55"/>
<circle cx="311.97" cy="121.59" r="0.86" fill="#a8a8a8" stroke="#4a4a4a" stroke-width="0.55"/>
<circle cx="312.84" cy="116.14" r="1.03" fill="#e0e0e0" stroke="#4a4a4a" stroke-width="0.55"/>
<circle cx="321.54" cy="115.51" r="0.96" fill="#a8a8a8" stroke="#4a4a4a" stroke-width="0.55"/>
<circle cx="319.56" cy="126.95" r="0.91" fill="#e0e0e0" stroke="#4a4a4a" stroke-width="0.55"/>
<circle cx="316.83" cy="117.49" r="1.19" fill="#e0e0e0" stroke="#4a4a4a" stroke-width="0.55"/>
<circle cx="315.64" cy="120.58" r="0.97" fill="#e0e0e0" stroke="#4a4a4a" stroke-width="0.55"/>
<circle cx="317.75" cy="114.34" r="1.31" fill="#d0d0d0" stroke="#4a4a4a" stroke-width="0.55"/>
<circle cx="316.81" cy="115.12" r="0.87" fill="#e0e0e0" stroke="#4a4a4a" stroke-width="0.55"/>
<circle cx="320.84" cy="119.8" r="0.97" fill="#b8b8b8" stroke="#4a4a4a" stroke-width="0.55"/>
<circle cx="315.47" cy="119.92" r="0.94" fill="#d0d0d0" stroke="#4a4a4a" stroke-width="0.55"/>
<circle cx="316.59" cy="126.12" r="1.32" fill="#a8a8a8" stroke="#4a4a4a" stroke-width="0.55"/>
<circle cx="322.37" cy="118.04" r="1.05" fill="#e0e0e0" stroke="#4a4a4a" stroke-width="0.55"/>
<circle cx="319.64" cy="113.56" r="1.05" fill="#e0e0e0" stroke="#4a4a4a" stroke-width="0.55"/>
<circle cx="325.48" cy="121.17" r="0.83" fill="#b8b8b8" stroke="#4a4a4a" stroke-width="0.55"/>
<circle cx="313.9" cy="112.95" r="1.21" fill="#e0e0e0" stroke="#4a4a4a" stroke-width="0.55"/>
<circle cx="316.37" cy="113.24" r="1.02" fill="#b8b8b8" stroke="#4a4a4a" stroke-width="0.55"/>
<circle cx="321.39" cy="124.16" r="0.82" fill="#d0d0d0" stroke="#4a4a4a" stroke-width="0.55"/>
<circle cx="318.04" cy="123.56" r="0.97" fill="#a8a8a8" stroke="#4a4a4a" stroke-width="0.55"/>
<circle cx="311.54" cy="114.72" r="1.22" fill="#a8a8a8" stroke="#4a4a4a" stroke-width="0.55"/>
<circle cx="321.24" cy="117.89" r="1.29" fill="#a8a8a8" stroke="#4a4a4a" stroke-width="0.55"/>
<circle cx="313.17" cy="124.24" r="1.29" fill="#a8a8a8" stroke="#4a4a4a" stroke-width="0.55"/>
<circle cx="317.01" cy="127.87" r="1.13" fill="#e0e0e0" stroke="#4a4a4a" stroke-width="0.55"/>
<circle cx="322.16" cy="118.41" r="0.91" fill="#d0d0d0" stroke="#4a4a4a" stroke-width="0.55"/>
<circle cx="321.98" cy="127.18" r="1.07" fill="#e0e0e0" stroke="#4a4a4a" stroke-width="0.55"/>
<circle cx="317.73" cy="125.48" r="1.18" fill="#e0e0e0" stroke="#4a4a4a" stroke-width="0.55"/>
<circle cx="314.14" cy="124.05" r="1.27" fill="#d0d0d0" stroke="#4a4a4a" stroke-width="0.55"/>
<circle cx="320.37" cy="112.75" r="0.8" fill="#d0d0d0" stroke="#4a4a4a" stroke-width="0.55"/>
<circle cx="318.85" cy="111.97" r="1.22" fill="#b8b8b8" stroke="#4a4a4a" stroke-width="0.55"/>
<circle cx="314.39" cy="126.05" r="1.25" fill="#e0e0e0" stroke="#4a4a4a" stroke-width="0.55"/>
<circle cx="325.59" cy="116.87" r="1.14" fill="#a8a8a8" stroke="#4a4a4a" stroke-width="0.55"/>
<circle cx="315.31" cy="113.65" r="0.92" fill="#a8a8a8" stroke="#4a4a4a" stroke-width="0.55"/>
<circle cx="322.11" cy="124.73" r="1.11" fill="#d0d0d0" stroke="#4a4a4a" stroke-width="0.55"/>
<rect x="344.1" y="149.7" width="14.6" height="2.3" fill="#000" stroke="none" stroke-width="1" />
<text x="351.4" y="147" font-size="5.2" font-weight="normal" text-anchor="middle" fill="#000" >100μm</text>
<rect x="365.6" y="93.9" width="81.3" height="60.5" fill="#b6b6b6" stroke="none" stroke-width="1" />
<rect x="365.6" y="93.9" width="81.3" height="60.5" fill="#fff" stroke="none" stroke-width="1" filter="url(#noise12)" opacity="1"/>
<rect x="365.6" y="93.9" width="81.3" height="60.5" fill="url(#grad12)" stroke="none" stroke-width="1" />
<rect x="365.6" y="93.9" width="81.3" height="60.5" fill="#fff" stroke="none" stroke-width="1" filter="url(#grain)"/>
<rect x="366.1" y="94.4" width="80.3" height="59.5" fill="none" stroke="#000" stroke-width="1" stroke-opacity="0.10"/>
<polygon points="413,126 412.68,128.07 411.73,130 410.22,131.66 408.25,132.93 405.96,133.73 403.5,134 401.04,133.73 398.75,132.93 396.78,131.66 395.27,130 394.32,128.07 394,126 394.32,123.93 395.27,122 396.78,120.34 398.75,119.07 401.04,118.27 403.5,118 405.96,118.27 408.25,119.07 410.22,120.34 411.73,122 412.68,123.93" fill="#989898" filter="url(#blur03)"/>
<circle cx="409.52" cy="128.31" r="0.83" fill="#d0d0d0" stroke="#4a4a4a" stroke-width="0.55"/>
<circle cx="408.34" cy="131.01" r="0.94" fill="#e0e0e0" stroke="#4a4a4a" stroke-width="0.55"/>
<circle cx="401.23" cy="131.44" r="0.87" fill="#e0e0e0" stroke="#4a4a4a" stroke-width="0.55"/>
<circle cx="406.75" cy="118.88" r="1.29" fill="#d0d0d0" stroke="#4a4a4a" stroke-width="0.55"/>
<circle cx="408.14" cy="128.83" r="1.16" fill="#b8b8b8" stroke="#4a4a4a" stroke-width="0.55"/>
<circle cx="409.08" cy="131.48" r="1.34" fill="#e0e0e0" stroke="#4a4a4a" stroke-width="0.55"/>
<circle cx="402.93" cy="125.39" r="1.21" fill="#d0d0d0" stroke="#4a4a4a" stroke-width="0.55"/>
<circle cx="407.86" cy="123.77" r="0.84" fill="#b8b8b8" stroke="#4a4a4a" stroke-width="0.55"/>
<circle cx="409.13" cy="121.63" r="0.84" fill="#b8b8b8" stroke="#4a4a4a" stroke-width="0.55"/>
<circle cx="403.46" cy="118.84" r="1.27" fill="#a8a8a8" stroke="#4a4a4a" stroke-width="0.55"/>
<circle cx="399.91" cy="125.63" r="1.01" fill="#a8a8a8" stroke="#4a4a4a" stroke-width="0.55"/>
<circle cx="400.05" cy="123.52" r="1.26" fill="#e0e0e0" stroke="#4a4a4a" stroke-width="0.55"/>
<circle cx="404.89" cy="119.69" r="1.12" fill="#b8b8b8" stroke="#4a4a4a" stroke-width="0.55"/>
<circle cx="403.2" cy="124.66" r="1.28" fill="#d0d0d0" stroke="#4a4a4a" stroke-width="0.55"/>
<circle cx="397.95" cy="123.8" r="1" fill="#b8b8b8" stroke="#4a4a4a" stroke-width="0.55"/>
<circle cx="406.44" cy="127.09" r="1.05" fill="#a8a8a8" stroke="#4a4a4a" stroke-width="0.55"/>
<circle cx="399.53" cy="126.24" r="1.21" fill="#b8b8b8" stroke="#4a4a4a" stroke-width="0.55"/>
<circle cx="398.22" cy="129.92" r="1.24" fill="#d0d0d0" stroke="#4a4a4a" stroke-width="0.55"/>
<circle cx="400.97" cy="133.07" r="1.21" fill="#d0d0d0" stroke="#4a4a4a" stroke-width="0.55"/>
<circle cx="401.23" cy="129.36" r="1.31" fill="#d0d0d0" stroke="#4a4a4a" stroke-width="0.55"/>
<circle cx="403.8" cy="133.56" r="1.07" fill="#b8b8b8" stroke="#4a4a4a" stroke-width="0.55"/>
<circle cx="406.7" cy="120.29" r="1.33" fill="#d0d0d0" stroke="#4a4a4a" stroke-width="0.55"/>
<circle cx="404.48" cy="130.15" r="1.28" fill="#e0e0e0" stroke="#4a4a4a" stroke-width="0.55"/>
<circle cx="403.59" cy="132.42" r="1.27" fill="#d0d0d0" stroke="#4a4a4a" stroke-width="0.55"/>
<circle cx="403.71" cy="132.92" r="1.11" fill="#d0d0d0" stroke="#4a4a4a" stroke-width="0.55"/>
<circle cx="396.91" cy="125.01" r="0.82" fill="#d0d0d0" stroke="#4a4a4a" stroke-width="0.55"/>
<circle cx="405.44" cy="122.15" r="0.95" fill="#a8a8a8" stroke="#4a4a4a" stroke-width="0.55"/>
<circle cx="398.11" cy="128.06" r="0.83" fill="#b8b8b8" stroke="#4a4a4a" stroke-width="0.55"/>
<circle cx="397.14" cy="130.52" r="1.1" fill="#d0d0d0" stroke="#4a4a4a" stroke-width="0.55"/>
<circle cx="403.82" cy="120.81" r="1.13" fill="#d0d0d0" stroke="#4a4a4a" stroke-width="0.55"/>
<circle cx="396.09" cy="125.4" r="1.13" fill="#d0d0d0" stroke="#4a4a4a" stroke-width="0.55"/>
<circle cx="399.18" cy="131.41" r="1.31" fill="#b8b8b8" stroke="#4a4a4a" stroke-width="0.55"/>
<circle cx="403.28" cy="118.03" r="1.28" fill="#b8b8b8" stroke="#4a4a4a" stroke-width="0.55"/>
<circle cx="411.06" cy="126.95" r="1.03" fill="#e0e0e0" stroke="#4a4a4a" stroke-width="0.55"/>
<circle cx="402.74" cy="128.22" r="1.35" fill="#e0e0e0" stroke="#4a4a4a" stroke-width="0.55"/>
<circle cx="401.76" cy="129.55" r="1.35" fill="#d0d0d0" stroke="#4a4a4a" stroke-width="0.55"/>
<circle cx="397.06" cy="124.56" r="1.14" fill="#e0e0e0" stroke="#4a4a4a" stroke-width="0.55"/>
<circle cx="399.89" cy="128.16" r="1.05" fill="#d0d0d0" stroke="#4a4a4a" stroke-width="0.55"/>
<circle cx="397.67" cy="123.05" r="1.08" fill="#d0d0d0" stroke="#4a4a4a" stroke-width="0.55"/>
<circle cx="401.94" cy="131.44" r="1.22" fill="#a8a8a8" stroke="#4a4a4a" stroke-width="0.55"/>
<circle cx="402.99" cy="122.43" r="1.09" fill="#a8a8a8" stroke="#4a4a4a" stroke-width="0.55"/>
<circle cx="405.25" cy="120.31" r="0.89" fill="#b8b8b8" stroke="#4a4a4a" stroke-width="0.55"/>
<circle cx="400.68" cy="124.14" r="0.84" fill="#b8b8b8" stroke="#4a4a4a" stroke-width="0.55"/>
<circle cx="400.73" cy="124.8" r="0.99" fill="#a8a8a8" stroke="#4a4a4a" stroke-width="0.55"/>
<circle cx="406.26" cy="125.44" r="1.26" fill="#b8b8b8" stroke="#4a4a4a" stroke-width="0.55"/>
<circle cx="403.06" cy="126.14" r="1.19" fill="#a8a8a8" stroke="#4a4a4a" stroke-width="0.55"/>
<circle cx="412.09" cy="127.92" r="0.89" fill="#b8b8b8" stroke="#4a4a4a" stroke-width="0.55"/>
<circle cx="400.95" cy="131.63" r="1.24" fill="#d0d0d0" stroke="#4a4a4a" stroke-width="0.55"/>
<circle cx="400.46" cy="133.12" r="1.1" fill="#a8a8a8" stroke="#4a4a4a" stroke-width="0.55"/>
<circle cx="406.37" cy="122.57" r="0.87" fill="#b8b8b8" stroke="#4a4a4a" stroke-width="0.55"/>
<circle cx="405.71" cy="130.9" r="1.04" fill="#e0e0e0" stroke="#4a4a4a" stroke-width="0.55"/>
<circle cx="400.91" cy="132.32" r="0.99" fill="#e0e0e0" stroke="#4a4a4a" stroke-width="0.55"/>
<circle cx="406.14" cy="125.63" r="0.98" fill="#a8a8a8" stroke="#4a4a4a" stroke-width="0.55"/>
<circle cx="405.58" cy="127.04" r="1.27" fill="#b8b8b8" stroke="#4a4a4a" stroke-width="0.55"/>
<circle cx="401.04" cy="124.2" r="1" fill="#b8b8b8" stroke="#4a4a4a" stroke-width="0.55"/>
<circle cx="399.24" cy="123.32" r="1.25" fill="#d0d0d0" stroke="#4a4a4a" stroke-width="0.55"/>
<circle cx="411.85" cy="124.04" r="0.84" fill="#d0d0d0" stroke="#4a4a4a" stroke-width="0.55"/>
<circle cx="396.79" cy="121.65" r="0.83" fill="#e0e0e0" stroke="#4a4a4a" stroke-width="0.55"/>
<circle cx="396.73" cy="126.81" r="1.34" fill="#d0d0d0" stroke="#4a4a4a" stroke-width="0.55"/>
<circle cx="402.25" cy="121.09" r="1.21" fill="#a8a8a8" stroke="#4a4a4a" stroke-width="0.55"/>
<circle cx="402.02" cy="128.07" r="1.19" fill="#d0d0d0" stroke="#4a4a4a" stroke-width="0.55"/>
<circle cx="405.34" cy="133.63" r="0.82" fill="#b8b8b8" stroke="#4a4a4a" stroke-width="0.55"/>
<circle cx="400.23" cy="129.11" r="0.89" fill="#a8a8a8" stroke="#4a4a4a" stroke-width="0.55"/>
<circle cx="397.08" cy="120.89" r="1.14" fill="#d0d0d0" stroke="#4a4a4a" stroke-width="0.55"/>
<circle cx="402.25" cy="124.25" r="0.94" fill="#d0d0d0" stroke="#4a4a4a" stroke-width="0.55"/>
<circle cx="403.18" cy="118.39" r="1.17" fill="#d0d0d0" stroke="#4a4a4a" stroke-width="0.55"/>
<circle cx="409.08" cy="128.02" r="1.16" fill="#a8a8a8" stroke="#4a4a4a" stroke-width="0.55"/>
<circle cx="404.07" cy="128.89" r="0.82" fill="#a8a8a8" stroke="#4a4a4a" stroke-width="0.55"/>
<circle cx="404.4" cy="132.15" r="0.81" fill="#a8a8a8" stroke="#4a4a4a" stroke-width="0.55"/>
<circle cx="410.75" cy="127.62" r="0.99" fill="#a8a8a8" stroke="#4a4a4a" stroke-width="0.55"/>
<circle cx="403.72" cy="120.36" r="0.83" fill="#d0d0d0" stroke="#4a4a4a" stroke-width="0.55"/>
<circle cx="403.44" cy="129.01" r="0.89" fill="#b8b8b8" stroke="#4a4a4a" stroke-width="0.55"/>
<circle cx="403.51" cy="132.76" r="1.19" fill="#b8b8b8" stroke="#4a4a4a" stroke-width="0.55"/>
<circle cx="410.04" cy="123.79" r="1.19" fill="#d0d0d0" stroke="#4a4a4a" stroke-width="0.55"/>
<circle cx="404.83" cy="129.65" r="1.02" fill="#a8a8a8" stroke="#4a4a4a" stroke-width="0.55"/>
<circle cx="405.69" cy="123.06" r="1.01" fill="#e0e0e0" stroke="#4a4a4a" stroke-width="0.55"/>
<circle cx="406.62" cy="127.83" r="0.8" fill="#e0e0e0" stroke="#4a4a4a" stroke-width="0.55"/>
<circle cx="400.05" cy="130.12" r="0.94" fill="#e0e0e0" stroke="#4a4a4a" stroke-width="0.55"/>
<circle cx="397.01" cy="131.72" r="1.07" fill="#e0e0e0" stroke="#4a4a4a" stroke-width="0.55"/>
<circle cx="403.35" cy="131.26" r="0.83" fill="#a8a8a8" stroke="#4a4a4a" stroke-width="0.55"/>
<circle cx="408.46" cy="127.17" r="1.3" fill="#a8a8a8" stroke="#4a4a4a" stroke-width="0.55"/>
<circle cx="405.19" cy="120.14" r="1.01" fill="#b8b8b8" stroke="#4a4a4a" stroke-width="0.55"/>
<circle cx="405.52" cy="124.97" r="1.29" fill="#e0e0e0" stroke="#4a4a4a" stroke-width="0.55"/>
<circle cx="395.55" cy="125.18" r="1" fill="#b8b8b8" stroke="#4a4a4a" stroke-width="0.55"/>
<circle cx="403.38" cy="129.55" r="0.92" fill="#e0e0e0" stroke="#4a4a4a" stroke-width="0.55"/>
<circle cx="399.28" cy="123.93" r="1.31" fill="#a8a8a8" stroke="#4a4a4a" stroke-width="0.55"/>
<circle cx="408.61" cy="129.08" r="1.16" fill="#e0e0e0" stroke="#4a4a4a" stroke-width="0.55"/>
<circle cx="402.67" cy="131.82" r="1.02" fill="#a8a8a8" stroke="#4a4a4a" stroke-width="0.55"/>
<circle cx="409.89" cy="130.98" r="0.96" fill="#d0d0d0" stroke="#4a4a4a" stroke-width="0.55"/>
<circle cx="400.68" cy="131.62" r="1.27" fill="#e0e0e0" stroke="#4a4a4a" stroke-width="0.55"/>
<polygon points="433.1,117.2 432.91,118.39 432.36,119.5 431.49,120.45 430.35,121.18 429.02,121.64 427.6,121.8 426.18,121.64 424.85,121.18 423.71,120.45 422.84,119.5 422.29,118.39 422.1,117.2 422.29,116.01 422.84,114.9 423.71,113.95 424.85,113.22 426.18,112.76 427.6,112.6 429.02,112.76 430.35,113.22 431.49,113.95 432.36,114.9 432.91,116.01" fill="#989898" filter="url(#blur03)"/>
<circle cx="427.36" cy="113.4" r="1.27" fill="#b8b8b8" stroke="#4a4a4a" stroke-width="0.55"/>
<circle cx="424.47" cy="118.13" r="1.28" fill="#b8b8b8" stroke="#4a4a4a" stroke-width="0.55"/>
<circle cx="430.12" cy="115.76" r="1.31" fill="#d0d0d0" stroke="#4a4a4a" stroke-width="0.55"/>
<circle cx="432.62" cy="118.54" r="1.22" fill="#d0d0d0" stroke="#4a4a4a" stroke-width="0.55"/>
<circle cx="431.32" cy="114.99" r="0.89" fill="#d0d0d0" stroke="#4a4a4a" stroke-width="0.55"/>
<circle cx="427.31" cy="119.83" r="0.94" fill="#b8b8b8" stroke="#4a4a4a" stroke-width="0.55"/>
<circle cx="424.53" cy="120.94" r="1.14" fill="#b8b8b8" stroke="#4a4a4a" stroke-width="0.55"/>
<circle cx="429.04" cy="117.5" r="1.27" fill="#a8a8a8" stroke="#4a4a4a" stroke-width="0.55"/>
<circle cx="424.43" cy="116.43" r="1.06" fill="#e0e0e0" stroke="#4a4a4a" stroke-width="0.55"/>
<circle cx="429.6" cy="119.45" r="0.93" fill="#a8a8a8" stroke="#4a4a4a" stroke-width="0.55"/>
<circle cx="427.39" cy="117.48" r="0.91" fill="#e0e0e0" stroke="#4a4a4a" stroke-width="0.55"/>
<circle cx="423.87" cy="118.89" r="1.1" fill="#a8a8a8" stroke="#4a4a4a" stroke-width="0.55"/>
<circle cx="431.99" cy="116.92" r="1.31" fill="#e0e0e0" stroke="#4a4a4a" stroke-width="0.55"/>
<circle cx="423.19" cy="117.18" r="1.34" fill="#e0e0e0" stroke="#4a4a4a" stroke-width="0.55"/>
<circle cx="426.14" cy="121.43" r="1.34" fill="#d0d0d0" stroke="#4a4a4a" stroke-width="0.55"/>
<circle cx="427.59" cy="115.2" r="0.98" fill="#d0d0d0" stroke="#4a4a4a" stroke-width="0.55"/>
<circle cx="424.35" cy="113.74" r="0.96" fill="#e0e0e0" stroke="#4a4a4a" stroke-width="0.55"/>
<circle cx="428.29" cy="121.32" r="1.18" fill="#e0e0e0" stroke="#4a4a4a" stroke-width="0.55"/>
<circle cx="427.39" cy="121.15" r="0.91" fill="#d0d0d0" stroke="#4a4a4a" stroke-width="0.55"/>
<circle cx="426.06" cy="118.16" r="0.97" fill="#d0d0d0" stroke="#4a4a4a" stroke-width="0.55"/>
<circle cx="429.9" cy="118" r="1.03" fill="#d0d0d0" stroke="#4a4a4a" stroke-width="0.55"/>
<circle cx="428.18" cy="114.49" r="1.08" fill="#b8b8b8" stroke="#4a4a4a" stroke-width="0.55"/>
<circle cx="430.39" cy="114.78" r="0.86" fill="#e0e0e0" stroke="#4a4a4a" stroke-width="0.55"/>
<circle cx="429.56" cy="119.16" r="0.8" fill="#b8b8b8" stroke="#4a4a4a" stroke-width="0.55"/>
<circle cx="425.19" cy="120.84" r="1.18" fill="#a8a8a8" stroke="#4a4a4a" stroke-width="0.55"/>
<circle cx="425.95" cy="119.13" r="1.09" fill="#d0d0d0" stroke="#4a4a4a" stroke-width="0.55"/>
<circle cx="424.07" cy="120.26" r="0.86" fill="#b8b8b8" stroke="#4a4a4a" stroke-width="0.55"/>
<circle cx="425.04" cy="120.7" r="1.08" fill="#e0e0e0" stroke="#4a4a4a" stroke-width="0.55"/>
<circle cx="429.52" cy="116.13" r="1.35" fill="#b8b8b8" stroke="#4a4a4a" stroke-width="0.55"/>
<circle cx="430.31" cy="115.09" r="0.88" fill="#e0e0e0" stroke="#4a4a4a" stroke-width="0.55"/>
<circle cx="426.8" cy="117.49" r="1.01" fill="#e0e0e0" stroke="#4a4a4a" stroke-width="0.55"/>
<circle cx="430.09" cy="117.67" r="1" fill="#e0e0e0" stroke="#4a4a4a" stroke-width="0.55"/>
<circle cx="424.91" cy="113.9" r="0.89" fill="#d0d0d0" stroke="#4a4a4a" stroke-width="0.55"/>
<circle cx="423.31" cy="119.93" r="0.87" fill="#e0e0e0" stroke="#4a4a4a" stroke-width="0.55"/>
<rect x="428.3" y="149.7" width="14.6" height="2.3" fill="#000" stroke="none" stroke-width="1" />
<text x="435.6" y="147" font-size="5.2" font-weight="normal" text-anchor="middle" fill="#000" >100μm</text>
<line x1="243.1" y1="173" x2="243.1" y2="288.5" stroke="#000" stroke-width="1.2" />
<line x1="242.5" y1="287.9" x2="317.3" y2="287.9" stroke="#000" stroke-width="1.2" />
<line x1="240" y1="287.9" x2="243.1" y2="287.9" stroke="#000" stroke-width="1.1" />
<text x="238.4" y="290.6" font-size="7.6" font-weight="bold" text-anchor="end" fill="#000" >0</text>
<line x1="240" y1="249.8" x2="243.1" y2="249.8" stroke="#000" stroke-width="1.1" />
<text x="238.4" y="252.5" font-size="7.6" font-weight="bold" text-anchor="end" fill="#000" >50</text>
<line x1="240" y1="211.7" x2="243.1" y2="211.7" stroke="#000" stroke-width="1.1" />
<text x="238.4" y="214.4" font-size="7.6" font-weight="bold" text-anchor="end" fill="#000" >100</text>
<line x1="240" y1="173.6" x2="243.1" y2="173.6" stroke="#000" stroke-width="1.1" />
<text x="238.4" y="176.3" font-size="7.6" font-weight="bold" text-anchor="end" fill="#000" >150</text>
<line x1="255.7" y1="287.9" x2="255.7" y2="290.6" stroke="#000" stroke-width="1.1" />
<line x1="281.2" y1="287.9" x2="281.2" y2="290.6" stroke="#000" stroke-width="1.1" />
<line x1="306.7" y1="287.9" x2="306.7" y2="290.6" stroke="#000" stroke-width="1.1" />
<line x1="255.7" y1="212.1" x2="255.7" y2="200" stroke="#000" stroke-width="1.8" />
<line x1="250.5" y1="200" x2="260.9" y2="200" stroke="#000" stroke-width="1.9" />
<rect x="245" y="212.1" width="21.4" height="75.8" fill="#000" stroke="none" stroke-width="1" />
<line x1="281.1" y1="257.3" x2="281.1" y2="250.9" stroke="#000" stroke-width="1.8" />
<line x1="275.9" y1="250.9" x2="286.3" y2="250.9" stroke="#000" stroke-width="1.9" />
<rect x="271.4" y="257.3" width="19.4" height="30.6" fill="#d0d0d0" stroke="none" stroke-width="1" />
<line x1="306.65" y1="270.9" x2="306.65" y2="265.5" stroke="#000" stroke-width="1.8" />
<line x1="301.45" y1="265.5" x2="311.85" y2="265.5" stroke="#000" stroke-width="1.9" />
<rect x="297.4" y="270.9" width="18.5" height="17" fill="#a0a0a0" stroke="none" stroke-width="1" />
<text x="281.4" y="247.66" font-size="10.5" font-weight="bold" text-anchor="middle" fill="#000" >*</text>
<text x="303.85" y="262.36" font-size="10.5" font-weight="bold" text-anchor="middle" fill="#000" >*</text>
<text x="308.95" y="262.36" font-size="10.5" font-weight="bold" text-anchor="middle" fill="#000" >*</text>
<text transform="translate(220.2,230.6) rotate(-90)" font-size="9.3" font-weight="bold" text-anchor="middle" fill="#000">Spheres per 2000cells</text>
<text x="200.5" y="300.5" font-size="7.75" font-weight="bold" text-anchor="start" fill="#000" >siATP1A1</text>
<text x="239.7" y="300.5" font-size="7.45" font-weight="bold" text-anchor="start" fill="#000" >:</text>
<text x="255.7" y="300.4" font-size="8.8" font-weight="bold" text-anchor="middle" fill="#000" >Con</text>
<text x="281.3" y="300.4" font-size="8.8" font-weight="bold" text-anchor="middle" fill="#000" >#1</text>
<text x="305.9" y="300.4" font-size="8.8" font-weight="bold" text-anchor="middle" fill="#000" >#2</text>
<line x1="371.5" y1="173.7" x2="371.5" y2="289.2" stroke="#000" stroke-width="1.2" />
<line x1="370.9" y1="288.6" x2="448.2" y2="288.6" stroke="#000" stroke-width="1.2" />
<line x1="368.6" y1="288.6" x2="371.5" y2="288.6" stroke="#000" stroke-width="1.1" />
<text x="366.8" y="291.3" font-size="7.7" font-weight="bold" text-anchor="end" fill="#000" >0</text>
<line x1="368.6" y1="265.74" x2="371.5" y2="265.74" stroke="#000" stroke-width="1.1" />
<text x="366.8" y="268.44" font-size="7.7" font-weight="bold" text-anchor="end" fill="#000" >20</text>
<line x1="368.6" y1="242.88" x2="371.5" y2="242.88" stroke="#000" stroke-width="1.1" />
<text x="366.8" y="245.58" font-size="7.7" font-weight="bold" text-anchor="end" fill="#000" >40</text>
<line x1="368.6" y1="220.02" x2="371.5" y2="220.02" stroke="#000" stroke-width="1.1" />
<text x="366.8" y="222.72" font-size="7.7" font-weight="bold" text-anchor="end" fill="#000" >60</text>
<line x1="368.6" y1="197.16" x2="371.5" y2="197.16" stroke="#000" stroke-width="1.1" />
<text x="366.8" y="199.86" font-size="7.7" font-weight="bold" text-anchor="end" fill="#000" >80</text>
<line x1="368.6" y1="174.3" x2="371.5" y2="174.3" stroke="#000" stroke-width="1.1" />
<text x="366.8" y="177" font-size="7.7" font-weight="bold" text-anchor="end" fill="#000" >100</text>
<line x1="384.5" y1="288.6" x2="384.5" y2="290.9" stroke="#000" stroke-width="1.1" />
<line x1="409.6" y1="288.6" x2="409.6" y2="290.9" stroke="#000" stroke-width="1.1" />
<line x1="434.5" y1="288.6" x2="434.5" y2="290.9" stroke="#000" stroke-width="1.1" />
<line x1="384.2" y1="186.4" x2="384.2" y2="187.2" stroke="#222" stroke-width="1.2" />
<line x1="384.2" y1="209.5" x2="384.2" y2="215.6" stroke="#222" stroke-width="1.2" />
<line x1="379" y1="186.4" x2="389.4" y2="186.4" stroke="#222" stroke-width="1.5" />
<line x1="379" y1="215.6" x2="389.4" y2="215.6" stroke="#222" stroke-width="1.5" />
<rect x="374.4" y="187.2" width="19.6" height="22.3" fill="#fff" stroke="#333" stroke-width="1.2" />
<line x1="374.4" y1="188.7" x2="394" y2="188.7" stroke="#333" stroke-width="1.2" />
<line x1="409.65" y1="203.3" x2="409.65" y2="204.4" stroke="#222" stroke-width="1.2" />
<line x1="409.65" y1="221.7" x2="409.65" y2="233.5" stroke="#222" stroke-width="1.2" />
<line x1="404.45" y1="203.3" x2="414.85" y2="203.3" stroke="#222" stroke-width="1.5" />
<line x1="404.45" y1="233.5" x2="414.85" y2="233.5" stroke="#222" stroke-width="1.5" />
<rect x="399.8" y="204.4" width="19.7" height="17.3" fill="#d6d6d6" stroke="#333" stroke-width="1.2" />
<line x1="399.8" y1="205.8" x2="419.5" y2="205.8" stroke="#333" stroke-width="1.2" />
<line x1="435.1" y1="210.5" x2="435.1" y2="222.5" stroke="#222" stroke-width="1.2" />
<line x1="435.1" y1="238.2" x2="435.1" y2="239.6" stroke="#222" stroke-width="1.2" />
<line x1="429.9" y1="210.5" x2="440.3" y2="210.5" stroke="#222" stroke-width="1.5" />
<line x1="429.9" y1="239.6" x2="440.3" y2="239.6" stroke="#222" stroke-width="1.5" />
<rect x="425.3" y="222.5" width="19.6" height="15.7" fill="#a6a6a6" stroke="#333" stroke-width="1.2" />
<line x1="425.3" y1="236" x2="444.9" y2="236" stroke="#333" stroke-width="1.2" />
<text x="408.5" y="198.75" font-size="10.5" font-weight="bold" text-anchor="middle" fill="#000" >*</text>
<text x="431.85" y="204.66" font-size="10.5" font-weight="bold" text-anchor="middle" fill="#000" >*</text>
<text x="436.95" y="204.66" font-size="10.5" font-weight="bold" text-anchor="middle" fill="#000" >*</text>
<text transform="translate(350,231.2) rotate(-90)" font-size="9.3" font-weight="bold" text-anchor="middle">Sphere area (x100, <tspan font-weight="normal">μ</tspan>m<tspan font-size="6" dy="-3.5">2</tspan><tspan dy="3.5">)</tspan></text>
<text x="329.4" y="300.5" font-size="7.75" font-weight="bold" text-anchor="start" fill="#000" >siATP1A1</text>
<text x="367.9" y="300.5" font-size="7.45" font-weight="bold" text-anchor="start" fill="#000" >:</text>
<text x="384" y="300.5" font-size="8.8" font-weight="bold" text-anchor="middle" fill="#000" >Con</text>
<text x="409.3" y="300.5" font-size="8.8" font-weight="bold" text-anchor="middle" fill="#000" >#1</text>
<text x="435" y="300.5" font-size="8.8" font-weight="bold" text-anchor="middle" fill="#000" >#2</text>
<text x="7" y="338.6" font-size="18" font-weight="bold" text-anchor="start" fill="#000" >C</text>
<text x="67.7" y="341.8" font-size="11.7" font-weight="bold" text-anchor="middle" fill="#000" >Control siRNA</text>
<text x="153.7" y="341.3" font-size="11.5" font-weight="bold" text-anchor="middle" fill="#000" >siATP1A1 #1</text>
<text x="239.6" y="341.6" font-size="12.1" font-weight="bold" text-anchor="middle" fill="#000" >siATP1A1 #2</text>
<clipPath id="pc0"><rect x="22.4" y="347.4" width="83.6" height="85.1"/></clipPath><g clip-path="url(#pc0)">
<rect x="22.4" y="347.4" width="83.6" height="85.1" fill="#dde4da" stroke="none" stroke-width="1" />
<path d="M105.89,382.04 A40.5,40.5 0 0 1 49.65,429.22" fill="none" stroke="#7a827a" stroke-width="0.9"/>
<path d="M105.25,381.4 A40.5,40.5 0 0 1 49.02,428.59" fill="none" stroke="#5a625a" stroke-width="0.9"/>
<path d="M104.55,380.69 A40.5,40.5 0 0 1 48.31,427.88" fill="none" stroke="#98a298" stroke-width="0.8"/>
<path d="M103.84,379.99 A40.5,40.5 0 0 1 47.6,427.17" fill="none" stroke="#5e665e" stroke-width="1.0"/>
<circle cx="63.8" cy="389.55" r="40.5" fill="#edf0eb" stroke="#858d85" stroke-width="0.7" />
<circle cx="35.1" cy="385.9" r="1.05" fill="#a8a8e2" stroke="none" stroke-width="1" opacity="0.8"/>
<circle cx="76.66" cy="401.5" r="0.46" fill="#7a78d2" stroke="none" stroke-width="1" opacity="0.8"/>
<circle cx="74.03" cy="427.08" r="0.47" fill="#6262c6" stroke="none" stroke-width="1" opacity="0.8"/>
<circle cx="68.29" cy="422.04" r="1.38" fill="#7a78d2" stroke="none" stroke-width="1" opacity="0.8"/>
<circle cx="92.68" cy="400.76" r="0.46" fill="#9a9ade" stroke="none" stroke-width="1" opacity="0.8"/>
<circle cx="55.34" cy="411.7" r="0.46" fill="#6f6fd0" stroke="none" stroke-width="1" opacity="0.8"/>
<circle cx="59.6" cy="400.71" r="1.7" fill="#7a78d2" stroke="none" stroke-width="1" opacity="0.8"/>
<circle cx="73.83" cy="410.36" r="0.45" fill="#7a78d2" stroke="none" stroke-width="1" opacity="0.8"/>
<circle cx="81.4" cy="411.82" r="0.67" fill="#8686d8" stroke="none" stroke-width="1" opacity="0.8"/>
<circle cx="79.17" cy="376.49" r="0.99" fill="#9a9ade" stroke="none" stroke-width="1" opacity="0.8"/>
<circle cx="92.49" cy="378.45" r="0.64" fill="#6f6fd0" stroke="none" stroke-width="1" opacity="0.8"/>
<circle cx="76.07" cy="369.51" r="1.48" fill="#a8a8e2" stroke="none" stroke-width="1" opacity="0.8"/>
<circle cx="81.19" cy="411.17" r="0.68" fill="#6262c6" stroke="none" stroke-width="1" opacity="0.8"/>
<circle cx="96.34" cy="369.64" r="0.45" fill="#9a9ade" stroke="none" stroke-width="1" opacity="0.8"/>
<circle cx="84.36" cy="406.25" r="0.45" fill="#6f6fd0" stroke="none" stroke-width="1" opacity="0.8"/>
<circle cx="86.65" cy="420.85" r="1.63" fill="#9a9ade" stroke="none" stroke-width="1" opacity="0.8"/>
<circle cx="73.62" cy="401.77" r="1.16" fill="#9a9ade" stroke="none" stroke-width="1" opacity="0.8"/>
<circle cx="52.24" cy="385.96" r="0.63" fill="#9a9ade" stroke="none" stroke-width="1" opacity="0.8"/>
<circle cx="82.01" cy="357.48" r="0.98" fill="#7a78d2" stroke="none" stroke-width="1" opacity="0.8"/>
<circle cx="73.4" cy="402.49" r="0.63" fill="#9a9ade" stroke="none" stroke-width="1" opacity="0.8"/>
<circle cx="61.68" cy="410.22" r="2.13" fill="#7a78d2" stroke="none" stroke-width="1" opacity="0.8"/>
<circle cx="43.68" cy="404.74" r="0.45" fill="#6262c6" stroke="none" stroke-width="1" opacity="0.8"/>
<circle cx="61.7" cy="376.89" r="0.61" fill="#7a78d2" stroke="none" stroke-width="1" opacity="0.8"/>
<circle cx="72.42" cy="418.46" r="0.57" fill="#7a78d2" stroke="none" stroke-width="1" opacity="0.8"/>
<circle cx="47.16" cy="381.67" r="0.47" fill="#a8a8e2" stroke="none" stroke-width="1" opacity="0.8"/>
<circle cx="75.36" cy="399.79" r="1.51" fill="#9a9ade" stroke="none" stroke-width="1" opacity="0.8"/>
<circle cx="51.86" cy="403.63" r="1.11" fill="#7a78d2" stroke="none" stroke-width="1" opacity="0.8"/>
<circle cx="79.43" cy="418.1" r="1.48" fill="#9a9ade" stroke="none" stroke-width="1" opacity="0.8"/>
<circle cx="80.28" cy="390.15" r="0.46" fill="#6262c6" stroke="none" stroke-width="1" opacity="0.8"/>
<circle cx="82.3" cy="364.88" r="1.73" fill="#9a9ade" stroke="none" stroke-width="1" opacity="0.8"/>
<circle cx="91.54" cy="393.57" r="0.48" fill="#a8a8e2" stroke="none" stroke-width="1" opacity="0.8"/>
<circle cx="60.36" cy="409.49" r="0.59" fill="#9a9ade" stroke="none" stroke-width="1" opacity="0.8"/>
<circle cx="64.16" cy="401.82" r="0.45" fill="#6f6fd0" stroke="none" stroke-width="1" opacity="0.8"/>
<circle cx="70.2" cy="367.12" r="0.55" fill="#6262c6" stroke="none" stroke-width="1" opacity="0.8"/>
<circle cx="58.13" cy="377.52" r="1.99" fill="#6f6fd0" stroke="none" stroke-width="1" opacity="0.8"/>
<circle cx="69.2" cy="427.31" r="0.45" fill="#9a9ade" stroke="none" stroke-width="1" opacity="0.8"/>
<circle cx="70.62" cy="362.84" r="1.91" fill="#a8a8e2" stroke="none" stroke-width="1" opacity="0.8"/>
<circle cx="69.12" cy="407" r="1.11" fill="#a8a8e2" stroke="none" stroke-width="1" opacity="0.8"/>
<circle cx="90.83" cy="417.29" r="0.45" fill="#6262c6" stroke="none" stroke-width="1" opacity="0.8"/>
<circle cx="97.38" cy="371.85" r="1.13" fill="#8686d8" stroke="none" stroke-width="1" opacity="0.8"/>
<circle cx="61.32" cy="420.78" r="0.52" fill="#6262c6" stroke="none" stroke-width="1" opacity="0.8"/>
<circle cx="70.94" cy="351.43" r="0.7" fill="#6f6fd0" stroke="none" stroke-width="1" opacity="0.8"/>
<circle cx="70.15" cy="367.9" r="2.08" fill="#6f6fd0" stroke="none" stroke-width="1" opacity="0.8"/>
<circle cx="74.11" cy="357.45" r="0.5" fill="#a8a8e2" stroke="none" stroke-width="1" opacity="0.8"/>
<circle cx="58.75" cy="399.32" r="0.51" fill="#7a78d2" stroke="none" stroke-width="1" opacity="0.8"/>
<circle cx="51.1" cy="411.11" r="1.84" fill="#a8a8e2" stroke="none" stroke-width="1" opacity="0.8"/>
<circle cx="57.63" cy="356.14" r="0.82" fill="#8686d8" stroke="none" stroke-width="1" opacity="0.8"/>
<circle cx="44.98" cy="403.04" r="1.19" fill="#6f6fd0" stroke="none" stroke-width="1" opacity="0.8"/>
<circle cx="39.87" cy="391.11" r="0.82" fill="#a8a8e2" stroke="none" stroke-width="1" opacity="0.8"/>
<circle cx="26.72" cy="392.98" r="0.45" fill="#6262c6" stroke="none" stroke-width="1" opacity="0.8"/>
<circle cx="65.37" cy="353.3" r="0.57" fill="#a8a8e2" stroke="none" stroke-width="1" opacity="0.8"/>
<circle cx="51.85" cy="362.78" r="0.54" fill="#a8a8e2" stroke="none" stroke-width="1" opacity="0.8"/>
<circle cx="65.27" cy="381.76" r="0.45" fill="#8686d8" stroke="none" stroke-width="1" opacity="0.8"/>
<circle cx="26.46" cy="389.46" r="1.29" fill="#8686d8" stroke="none" stroke-width="1" opacity="0.8"/>
<circle cx="26.66" cy="402.19" r="0.61" fill="#9a9ade" stroke="none" stroke-width="1" opacity="0.8"/>
<circle cx="81.7" cy="372.43" r="0.56" fill="#8686d8" stroke="none" stroke-width="1" opacity="0.8"/>
<circle cx="56.4" cy="410.98" r="1.15" fill="#9a9ade" stroke="none" stroke-width="1" opacity="0.8"/>
<circle cx="29.84" cy="398.9" r="1.44" fill="#7a78d2" stroke="none" stroke-width="1" opacity="0.8"/>
<circle cx="56.24" cy="352.73" r="0.48" fill="#8686d8" stroke="none" stroke-width="1" opacity="0.8"/>
<circle cx="79.15" cy="421.21" r="1.02" fill="#9a9ade" stroke="none" stroke-width="1" opacity="0.8"/>
<circle cx="48.32" cy="367.96" r="0.45" fill="#8686d8" stroke="none" stroke-width="1" opacity="0.8"/>
<circle cx="99.65" cy="392.41" r="1.17" fill="#a8a8e2" stroke="none" stroke-width="1" opacity="0.8"/>
<circle cx="45.61" cy="383.35" r="0.71" fill="#a8a8e2" stroke="none" stroke-width="1" opacity="0.8"/>
<circle cx="85.65" cy="393.84" r="1.58" fill="#6f6fd0" stroke="none" stroke-width="1" opacity="0.8"/>
<circle cx="63.46" cy="400.06" r="0.5" fill="#6f6fd0" stroke="none" stroke-width="1" opacity="0.8"/>
<circle cx="30.65" cy="388.79" r="0.88" fill="#9a9ade" stroke="none" stroke-width="1" opacity="0.8"/>
<circle cx="56.19" cy="352.26" r="0.51" fill="#6262c6" stroke="none" stroke-width="1" opacity="0.8"/>
<circle cx="37.68" cy="394.63" r="1.29" fill="#a8a8e2" stroke="none" stroke-width="1" opacity="0.8"/>
<circle cx="72.14" cy="355.56" r="0.53" fill="#6f6fd0" stroke="none" stroke-width="1" opacity="0.8"/>
<circle cx="89.76" cy="397.65" r="1.36" fill="#6262c6" stroke="none" stroke-width="1" opacity="0.8"/>
<circle cx="62.93" cy="406.92" r="1.48" fill="#7a78d2" stroke="none" stroke-width="1" opacity="0.8"/>
<circle cx="61.59" cy="365.66" r="0.9" fill="#6262c6" stroke="none" stroke-width="1" opacity="0.8"/>
<circle cx="95.19" cy="411.47" r="2.02" fill="#a8a8e2" stroke="none" stroke-width="1" opacity="0.8"/>
<circle cx="70.05" cy="368.73" r="1.9" fill="#7a78d2" stroke="none" stroke-width="1" opacity="0.8"/>
<circle cx="90.44" cy="416.84" r="0.57" fill="#8686d8" stroke="none" stroke-width="1" opacity="0.8"/>
<circle cx="65.78" cy="380.52" r="0.55" fill="#a8a8e2" stroke="none" stroke-width="1" opacity="0.8"/>
<circle cx="86.34" cy="387.45" r="0.75" fill="#7a78d2" stroke="none" stroke-width="1" opacity="0.8"/>
<circle cx="77.58" cy="370.69" r="0.69" fill="#7a78d2" stroke="none" stroke-width="1" opacity="0.8"/>
<circle cx="95.76" cy="387.74" r="0.84" fill="#9a9ade" stroke="none" stroke-width="1" opacity="0.8"/>
<circle cx="45.85" cy="383.25" r="0.55" fill="#8686d8" stroke="none" stroke-width="1" opacity="0.8"/>
<circle cx="53.49" cy="416.81" r="0.48" fill="#7a78d2" stroke="none" stroke-width="1" opacity="0.8"/>
<circle cx="102.8" cy="389.1" r="1.2" fill="#8686d8" stroke="none" stroke-width="1" opacity="0.8"/>
<circle cx="87.72" cy="420.53" r="0.94" fill="#8686d8" stroke="none" stroke-width="1" opacity="0.8"/>
<circle cx="66.04" cy="415.14" r="1.54" fill="#6262c6" stroke="none" stroke-width="1" opacity="0.8"/>
<circle cx="95.87" cy="377.25" r="2.13" fill="#7a78d2" stroke="none" stroke-width="1" opacity="0.8"/>
<circle cx="89.14" cy="417.85" r="1.16" fill="#9a9ade" stroke="none" stroke-width="1" opacity="0.8"/>
<circle cx="47.21" cy="399.43" r="0.5" fill="#8686d8" stroke="none" stroke-width="1" opacity="0.8"/>
<circle cx="36" cy="374.21" r="0.67" fill="#7a78d2" stroke="none" stroke-width="1" opacity="0.8"/>
<circle cx="61.22" cy="381.69" r="0.94" fill="#a8a8e2" stroke="none" stroke-width="1" opacity="0.8"/>
<circle cx="74.58" cy="399.28" r="0.47" fill="#8686d8" stroke="none" stroke-width="1" opacity="0.8"/>
<circle cx="68.77" cy="396.85" r="0.78" fill="#8686d8" stroke="none" stroke-width="1" opacity="0.8"/>
<circle cx="57.8" cy="416.9" r="1.09" fill="#6f6fd0" stroke="none" stroke-width="1" opacity="0.8"/>
<circle cx="49.88" cy="371.47" r="0.58" fill="#9a9ade" stroke="none" stroke-width="1" opacity="0.8"/>
<circle cx="38.1" cy="408.98" r="0.45" fill="#7a78d2" stroke="none" stroke-width="1" opacity="0.8"/>
<circle cx="81" cy="393.66" r="0.61" fill="#a8a8e2" stroke="none" stroke-width="1" opacity="0.8"/>
<circle cx="71.28" cy="354.85" r="0.45" fill="#6262c6" stroke="none" stroke-width="1" opacity="0.8"/>
<circle cx="75.48" cy="386.19" r="0.78" fill="#9a9ade" stroke="none" stroke-width="1" opacity="0.8"/>
<circle cx="82.39" cy="420.02" r="0.76" fill="#a8a8e2" stroke="none" stroke-width="1" opacity="0.8"/>
<circle cx="83.45" cy="395.31" r="1.14" fill="#6f6fd0" stroke="none" stroke-width="1" opacity="0.8"/>
<circle cx="69.81" cy="404.04" r="1.81" fill="#a8a8e2" stroke="none" stroke-width="1" opacity="0.8"/>
<circle cx="81.92" cy="418.4" r="0.49" fill="#9a9ade" stroke="none" stroke-width="1" opacity="0.8"/>
<circle cx="50.82" cy="386.02" r="1.12" fill="#a8a8e2" stroke="none" stroke-width="1" opacity="0.8"/>
<circle cx="75.4" cy="426.79" r="0.72" fill="#9a9ade" stroke="none" stroke-width="1" opacity="0.8"/>
<circle cx="50.68" cy="370.06" r="0.45" fill="#a8a8e2" stroke="none" stroke-width="1" opacity="0.8"/>
<circle cx="60.22" cy="398.64" r="1.43" fill="#a8a8e2" stroke="none" stroke-width="1" opacity="0.8"/>
<circle cx="88.88" cy="362.13" r="1.72" fill="#9a9ade" stroke="none" stroke-width="1" opacity="0.8"/>
<circle cx="64.52" cy="393.62" r="1.27" fill="#6f6fd0" stroke="none" stroke-width="1" opacity="0.8"/>
<circle cx="90.43" cy="406.56" r="0.79" fill="#9a9ade" stroke="none" stroke-width="1" opacity="0.8"/>
<circle cx="75.51" cy="425.09" r="0.46" fill="#a8a8e2" stroke="none" stroke-width="1" opacity="0.8"/>
<circle cx="102.36" cy="396.26" r="0.51" fill="#6f6fd0" stroke="none" stroke-width="1" opacity="0.8"/>
<circle cx="96.48" cy="381.56" r="1.59" fill="#9a9ade" stroke="none" stroke-width="1" opacity="0.8"/>
<circle cx="71.48" cy="408.27" r="1.57" fill="#8686d8" stroke="none" stroke-width="1" opacity="0.8"/>
<circle cx="37.19" cy="413.9" r="1.78" fill="#6262c6" stroke="none" stroke-width="1" opacity="0.8"/>
<circle cx="77.2" cy="407.03" r="0.7" fill="#9a9ade" stroke="none" stroke-width="1" opacity="0.8"/>
<circle cx="84.12" cy="391.11" r="0.9" fill="#9a9ade" stroke="none" stroke-width="1" opacity="0.8"/>
<circle cx="95.27" cy="373.39" r="0.65" fill="#7a78d2" stroke="none" stroke-width="1" opacity="0.8"/>
<circle cx="74.36" cy="353.94" r="0.47" fill="#a8a8e2" stroke="none" stroke-width="1" opacity="0.8"/>
<circle cx="40.62" cy="357.88" r="0.87" fill="#6262c6" stroke="none" stroke-width="1" opacity="0.8"/>
<circle cx="90.2" cy="361.82" r="0.58" fill="#6262c6" stroke="none" stroke-width="1" opacity="0.8"/>
<circle cx="79.73" cy="388.41" r="1.18" fill="#8686d8" stroke="none" stroke-width="1" opacity="0.8"/>
<circle cx="78.2" cy="354.4" r="0.54" fill="#7a78d2" stroke="none" stroke-width="1" opacity="0.8"/>
<circle cx="27.16" cy="381.39" r="0.87" fill="#6f6fd0" stroke="none" stroke-width="1" opacity="0.8"/>
<circle cx="44.29" cy="377.61" r="0.45" fill="#6f6fd0" stroke="none" stroke-width="1" opacity="0.8"/>
<circle cx="48.78" cy="363.2" r="0.45" fill="#6262c6" stroke="none" stroke-width="1" opacity="0.8"/>
<circle cx="45.83" cy="402.71" r="0.87" fill="#7a78d2" stroke="none" stroke-width="1" opacity="0.8"/>
<circle cx="66.37" cy="400.61" r="0.49" fill="#7a78d2" stroke="none" stroke-width="1" opacity="0.8"/>
<circle cx="71.71" cy="408.87" r="0.83" fill="#6262c6" stroke="none" stroke-width="1" opacity="0.8"/>
<circle cx="92.24" cy="399.25" r="2.03" fill="#7a78d2" stroke="none" stroke-width="1" opacity="0.8"/>
<circle cx="90.01" cy="398.17" r="0.59" fill="#a8a8e2" stroke="none" stroke-width="1" opacity="0.8"/>
<circle cx="78.89" cy="410.21" r="0.47" fill="#9a9ade" stroke="none" stroke-width="1" opacity="0.8"/>
<circle cx="26.39" cy="380.67" r="0.46" fill="#8686d8" stroke="none" stroke-width="1" opacity="0.8"/>
<circle cx="46.93" cy="404.79" r="0.65" fill="#a8a8e2" stroke="none" stroke-width="1" opacity="0.8"/>
<circle cx="52.83" cy="390.31" r="0.48" fill="#8686d8" stroke="none" stroke-width="1" opacity="0.8"/>
<circle cx="99.19" cy="383.45" r="2.05" fill="#6f6fd0" stroke="none" stroke-width="1" opacity="0.8"/>
<circle cx="67.25" cy="418.77" r="0.45" fill="#6f6fd0" stroke="none" stroke-width="1" opacity="0.8"/>
<circle cx="78.89" cy="390.82" r="1.16" fill="#9a9ade" stroke="none" stroke-width="1" opacity="0.8"/>
<circle cx="54.17" cy="391.66" r="0.47" fill="#6262c6" stroke="none" stroke-width="1" opacity="0.8"/>
<circle cx="54.33" cy="364.34" r="0.46" fill="#7a78d2" stroke="none" stroke-width="1" opacity="0.8"/>
<circle cx="74.27" cy="362.86" r="0.58" fill="#6f6fd0" stroke="none" stroke-width="1" opacity="0.8"/>
<circle cx="59.71" cy="381.85" r="0.57" fill="#7a78d2" stroke="none" stroke-width="1" opacity="0.8"/>
<circle cx="39.88" cy="383.13" r="0.91" fill="#9a9ade" stroke="none" stroke-width="1" opacity="0.8"/>
<circle cx="67.28" cy="392.89" r="0.68" fill="#a8a8e2" stroke="none" stroke-width="1" opacity="0.8"/>
<circle cx="64.09" cy="398.18" r="0.7" fill="#9a9ade" stroke="none" stroke-width="1" opacity="0.8"/>
<circle cx="90.69" cy="411.78" r="0.45" fill="#6262c6" stroke="none" stroke-width="1" opacity="0.8"/>
<circle cx="99.98" cy="396.42" r="0.48" fill="#a8a8e2" stroke="none" stroke-width="1" opacity="0.8"/>
<circle cx="71.79" cy="396.38" r="2.08" fill="#9a9ade" stroke="none" stroke-width="1" opacity="0.8"/>
<circle cx="82.4" cy="358.35" r="0.74" fill="#7a78d2" stroke="none" stroke-width="1" opacity="0.8"/>
<circle cx="89.04" cy="372.72" r="0.48" fill="#6f6fd0" stroke="none" stroke-width="1" opacity="0.8"/>
<circle cx="67.21" cy="405.77" r="1.65" fill="#9a9ade" stroke="none" stroke-width="1" opacity="0.8"/>
<circle cx="83.3" cy="394.2" r="0.47" fill="#a8a8e2" stroke="none" stroke-width="1" opacity="0.8"/>
<circle cx="56.55" cy="410.89" r="0.45" fill="#8686d8" stroke="none" stroke-width="1" opacity="0.8"/>
<circle cx="42.56" cy="380.89" r="0.87" fill="#6262c6" stroke="none" stroke-width="1" opacity="0.8"/>
<circle cx="38.94" cy="375.55" r="1.15" fill="#7a78d2" stroke="none" stroke-width="1" opacity="0.8"/>
<circle cx="73.96" cy="387.05" r="0.47" fill="#8686d8" stroke="none" stroke-width="1" opacity="0.8"/>
<circle cx="38.31" cy="365.72" r="1.02" fill="#8686d8" stroke="none" stroke-width="1" opacity="0.8"/>
<circle cx="61.71" cy="382.21" r="1.61" fill="#8686d8" stroke="none" stroke-width="1" opacity="0.8"/>
<circle cx="84.73" cy="412.14" r="0.81" fill="#7a78d2" stroke="none" stroke-width="1" opacity="0.8"/>
<circle cx="26.53" cy="384.53" r="1.46" fill="#a8a8e2" stroke="none" stroke-width="1" opacity="0.8"/>
<circle cx="89.75" cy="387.21" r="0.45" fill="#9a9ade" stroke="none" stroke-width="1" opacity="0.8"/>
<circle cx="31.2" cy="375.34" r="0.56" fill="#a8a8e2" stroke="none" stroke-width="1" opacity="0.8"/>
<circle cx="81.29" cy="410.79" r="0.47" fill="#9a9ade" stroke="none" stroke-width="1" opacity="0.8"/>
<circle cx="41.69" cy="382.42" r="0.45" fill="#9a9ade" stroke="none" stroke-width="1" opacity="0.8"/>
<circle cx="94.72" cy="383.37" r="0.47" fill="#8686d8" stroke="none" stroke-width="1" opacity="0.8"/>
<circle cx="66.32" cy="362.43" r="0.68" fill="#6f6fd0" stroke="none" stroke-width="1" opacity="0.8"/>
<circle cx="88.49" cy="402.59" r="1.61" fill="#7a78d2" stroke="none" stroke-width="1" opacity="0.8"/>
<circle cx="39.45" cy="372.62" r="0.45" fill="#6262c6" stroke="none" stroke-width="1" opacity="0.8"/>
<circle cx="62.37" cy="391.17" r="1.48" fill="#8686d8" stroke="none" stroke-width="1" opacity="0.8"/>
<circle cx="85.73" cy="359.91" r="0.51" fill="#a8a8e2" stroke="none" stroke-width="1" opacity="0.8"/>
<circle cx="45.47" cy="379.08" r="0.95" fill="#6262c6" stroke="none" stroke-width="1" opacity="0.8"/>
<circle cx="75.56" cy="390.54" r="0.61" fill="#6f6fd0" stroke="none" stroke-width="1" opacity="0.8"/>
<circle cx="58.87" cy="358.39" r="1.23" fill="#8686d8" stroke="none" stroke-width="1" opacity="0.8"/>
<circle cx="69.11" cy="397.56" r="1.87" fill="#8686d8" stroke="none" stroke-width="1" opacity="0.8"/>
<circle cx="83.14" cy="384" r="0.46" fill="#6262c6" stroke="none" stroke-width="1" opacity="0.8"/>
<circle cx="70.18" cy="411.32" r="0.67" fill="#8686d8" stroke="none" stroke-width="1" opacity="0.8"/>
<circle cx="100.48" cy="403.03" r="2.08" fill="#6262c6" stroke="none" stroke-width="1" opacity="0.8"/>
<circle cx="70.45" cy="397.75" r="0.45" fill="#9a9ade" stroke="none" stroke-width="1" opacity="0.8"/>
<circle cx="79.79" cy="394.57" r="0.64" fill="#9a9ade" stroke="none" stroke-width="1" opacity="0.8"/>
<circle cx="46.51" cy="360.46" r="0.65" fill="#8686d8" stroke="none" stroke-width="1" opacity="0.8"/>
<circle cx="98.82" cy="401.08" r="1.76" fill="#6f6fd0" stroke="none" stroke-width="1" opacity="0.8"/>
<circle cx="74.57" cy="388.43" r="1.08" fill="#7a78d2" stroke="none" stroke-width="1" opacity="0.8"/>
<circle cx="70.05" cy="383.55" r="1.62" fill="#a8a8e2" stroke="none" stroke-width="1" opacity="0.8"/>
<circle cx="54.57" cy="352.66" r="0.75" fill="#6262c6" stroke="none" stroke-width="1" opacity="0.8"/>
<circle cx="78.34" cy="362.94" r="0.45" fill="#6f6fd0" stroke="none" stroke-width="1" opacity="0.8"/>
<circle cx="65.04" cy="370.65" r="0.78" fill="#9a9ade" stroke="none" stroke-width="1" opacity="0.8"/>
<circle cx="96.09" cy="398.7" r="0.45" fill="#6f6fd0" stroke="none" stroke-width="1" opacity="0.8"/>
<circle cx="42.24" cy="370.68" r="0.45" fill="#a8a8e2" stroke="none" stroke-width="1" opacity="0.8"/>
<circle cx="59.17" cy="353.29" r="0.88" fill="#6262c6" stroke="none" stroke-width="1" opacity="0.8"/>
<circle cx="87.68" cy="410.85" r="0.53" fill="#8686d8" stroke="none" stroke-width="1" opacity="0.8"/>
<circle cx="78.32" cy="409.61" r="1.01" fill="#9a9ade" stroke="none" stroke-width="1" opacity="0.8"/>
<circle cx="81.66" cy="404.27" r="1.49" fill="#8686d8" stroke="none" stroke-width="1" opacity="0.8"/>
<circle cx="62.3" cy="374.85" r="1.01" fill="#6f6fd0" stroke="none" stroke-width="1" opacity="0.8"/>
<circle cx="78.48" cy="407.93" r="1.82" fill="#8686d8" stroke="none" stroke-width="1" opacity="0.8"/>
<circle cx="95.18" cy="377.06" r="1.1" fill="#6f6fd0" stroke="none" stroke-width="1" opacity="0.8"/>
<circle cx="29.97" cy="403.46" r="1.19" fill="#7a78d2" stroke="none" stroke-width="1" opacity="0.8"/>
<circle cx="64.21" cy="358.27" r="2.05" fill="#9a9ade" stroke="none" stroke-width="1" opacity="0.8"/>
<circle cx="58.72" cy="393.28" r="0.46" fill="#7a78d2" stroke="none" stroke-width="1" opacity="0.8"/>
<circle cx="78.15" cy="404.09" r="1.57" fill="#8686d8" stroke="none" stroke-width="1" opacity="0.8"/>
<circle cx="96.12" cy="375.77" r="0.48" fill="#9a9ade" stroke="none" stroke-width="1" opacity="0.8"/>
<circle cx="82.92" cy="370.62" r="1.55" fill="#6f6fd0" stroke="none" stroke-width="1" opacity="0.8"/>
<circle cx="56.7" cy="366.82" r="1.85" fill="#6f6fd0" stroke="none" stroke-width="1" opacity="0.8"/>
<circle cx="36.76" cy="392.54" r="0.75" fill="#9a9ade" stroke="none" stroke-width="1" opacity="0.8"/>
<circle cx="73.64" cy="415.77" r="0.45" fill="#6262c6" stroke="none" stroke-width="1" opacity="0.8"/>
<circle cx="67.63" cy="408.45" r="0.72" fill="#a8a8e2" stroke="none" stroke-width="1" opacity="0.8"/>
<circle cx="48.79" cy="357.49" r="0.46" fill="#7a78d2" stroke="none" stroke-width="1" opacity="0.8"/>
<circle cx="77.38" cy="425.78" r="0.65" fill="#a8a8e2" stroke="none" stroke-width="1" opacity="0.8"/>
<circle cx="75.11" cy="422.18" r="0.5" fill="#6262c6" stroke="none" stroke-width="1" opacity="0.8"/>
<circle cx="85.74" cy="398.62" r="0.45" fill="#6262c6" stroke="none" stroke-width="1" opacity="0.8"/>
<circle cx="68.08" cy="392.77" r="1.54" fill="#8686d8" stroke="none" stroke-width="1" opacity="0.8"/>
<circle cx="81.45" cy="389.44" r="1.7" fill="#7a78d2" stroke="none" stroke-width="1" opacity="0.8"/>
<circle cx="98.53" cy="403.99" r="0.62" fill="#6262c6" stroke="none" stroke-width="1" opacity="0.8"/>
<circle cx="42.94" cy="379.01" r="1.28" fill="#6262c6" stroke="none" stroke-width="1" opacity="0.8"/>
<circle cx="58.9" cy="367.56" r="0.54" fill="#6262c6" stroke="none" stroke-width="1" opacity="0.8"/>
<circle cx="90.03" cy="414.45" r="0.9" fill="#a8a8e2" stroke="none" stroke-width="1" opacity="0.8"/>
<circle cx="63.9" cy="381.69" r="0.81" fill="#6f6fd0" stroke="none" stroke-width="1" opacity="0.8"/>
<circle cx="34.69" cy="400.02" r="1.09" fill="#9a9ade" stroke="none" stroke-width="1" opacity="0.8"/>
<circle cx="41.1" cy="409.76" r="1.12" fill="#a8a8e2" stroke="none" stroke-width="1" opacity="0.8"/>
<circle cx="85.04" cy="419.04" r="0.45" fill="#a8a8e2" stroke="none" stroke-width="1" opacity="0.8"/>
<circle cx="75.54" cy="360.08" r="0.7" fill="#9a9ade" stroke="none" stroke-width="1" opacity="0.8"/>
<circle cx="57.31" cy="377.99" r="0.45" fill="#6262c6" stroke="none" stroke-width="1" opacity="0.8"/>
<circle cx="73.21" cy="377.8" r="1.13" fill="#6f6fd0" stroke="none" stroke-width="1" opacity="0.8"/>
<circle cx="73.03" cy="370.45" r="0.46" fill="#a8a8e2" stroke="none" stroke-width="1" opacity="0.8"/>
<circle cx="74.52" cy="366.66" r="0.48" fill="#6262c6" stroke="none" stroke-width="1" opacity="0.8"/>
<circle cx="93" cy="392.96" r="0.52" fill="#6262c6" stroke="none" stroke-width="1" opacity="0.8"/>
<circle cx="60.3" cy="357.13" r="0.57" fill="#6262c6" stroke="none" stroke-width="1" opacity="0.8"/>
<circle cx="86.59" cy="374.59" r="0.76" fill="#8686d8" stroke="none" stroke-width="1" opacity="0.8"/>
<circle cx="79.17" cy="374.21" r="1.12" fill="#6262c6" stroke="none" stroke-width="1" opacity="0.8"/>
<circle cx="39.54" cy="403.77" r="0.7" fill="#6262c6" stroke="none" stroke-width="1" opacity="0.8"/>
<circle cx="39.05" cy="365.24" r="0.49" fill="#9a9ade" stroke="none" stroke-width="1" opacity="0.8"/>
<circle cx="53.67" cy="365.27" r="1.14" fill="#6f6fd0" stroke="none" stroke-width="1" opacity="0.8"/>
<circle cx="72.87" cy="410.44" r="1.1" fill="#6f6fd0" stroke="none" stroke-width="1" opacity="0.8"/>
<circle cx="92.06" cy="390.83" r="0.45" fill="#a8a8e2" stroke="none" stroke-width="1" opacity="0.8"/>
<circle cx="36.43" cy="409.71" r="0.59" fill="#6262c6" stroke="none" stroke-width="1" opacity="0.8"/>
<circle cx="74.55" cy="395.07" r="2.1" fill="#6f6fd0" stroke="none" stroke-width="1" opacity="0.8"/>
<circle cx="58.35" cy="427.27" r="0.56" fill="#6262c6" stroke="none" stroke-width="1" opacity="0.8"/>
<circle cx="92.88" cy="391.53" r="0.55" fill="#a8a8e2" stroke="none" stroke-width="1" opacity="0.8"/>
<circle cx="67.51" cy="376.85" r="1.08" fill="#6262c6" stroke="none" stroke-width="1" opacity="0.8"/>
<circle cx="69.32" cy="420.98" r="0.45" fill="#8686d8" stroke="none" stroke-width="1" opacity="0.8"/>
<circle cx="66.99" cy="406.47" r="0.52" fill="#a8a8e2" stroke="none" stroke-width="1" opacity="0.8"/>
<circle cx="71.13" cy="358.06" r="0.59" fill="#9a9ade" stroke="none" stroke-width="1" opacity="0.8"/>
<circle cx="58.34" cy="369.88" r="0.6" fill="#7a78d2" stroke="none" stroke-width="1" opacity="0.8"/>
<circle cx="83.84" cy="407.04" r="0.51" fill="#7a78d2" stroke="none" stroke-width="1" opacity="0.8"/>
<circle cx="78.83" cy="413.81" r="0.52" fill="#7a78d2" stroke="none" stroke-width="1" opacity="0.8"/>
<circle cx="36.36" cy="381.39" r="1.56" fill="#6f6fd0" stroke="none" stroke-width="1" opacity="0.8"/>
<circle cx="31.18" cy="378.57" r="1.02" fill="#9a9ade" stroke="none" stroke-width="1" opacity="0.8"/>
<circle cx="93.48" cy="389.86" r="0.45" fill="#6f6fd0" stroke="none" stroke-width="1" opacity="0.8"/>
<circle cx="78.9" cy="366.01" r="0.48" fill="#7a78d2" stroke="none" stroke-width="1" opacity="0.8"/>
<circle cx="79.63" cy="413.61" r="0.51" fill="#8686d8" stroke="none" stroke-width="1" opacity="0.8"/>
<circle cx="92.46" cy="399.74" r="0.5" fill="#8686d8" stroke="none" stroke-width="1" opacity="0.8"/>
<circle cx="85.43" cy="363.21" r="1.16" fill="#9a9ade" stroke="none" stroke-width="1" opacity="0.8"/>
<circle cx="47.11" cy="379.11" r="1.09" fill="#a8a8e2" stroke="none" stroke-width="1" opacity="0.8"/>
<circle cx="73.22" cy="382.04" r="0.84" fill="#6262c6" stroke="none" stroke-width="1" opacity="0.8"/>
<circle cx="30.89" cy="384.66" r="0.5" fill="#6f6fd0" stroke="none" stroke-width="1" opacity="0.8"/>
<circle cx="60.11" cy="410.8" r="0.9" fill="#6f6fd0" stroke="none" stroke-width="1" opacity="0.8"/>
<circle cx="56.77" cy="415.69" r="2" fill="#9a9ade" stroke="none" stroke-width="1" opacity="0.8"/>
<circle cx="34.33" cy="391.41" r="0.45" fill="#9a9ade" stroke="none" stroke-width="1" opacity="0.8"/>
<circle cx="36.45" cy="365.29" r="1.38" fill="#6f6fd0" stroke="none" stroke-width="1" opacity="0.8"/>
<circle cx="80.56" cy="404.16" r="0.46" fill="#6f6fd0" stroke="none" stroke-width="1" opacity="0.8"/>
<circle cx="69.12" cy="399.5" r="0.45" fill="#6f6fd0" stroke="none" stroke-width="1" opacity="0.8"/>
<circle cx="78.23" cy="355.8" r="0.49" fill="#6262c6" stroke="none" stroke-width="1" opacity="0.8"/>
<circle cx="65.16" cy="360.07" r="0.72" fill="#6f6fd0" stroke="none" stroke-width="1" opacity="0.8"/>
<circle cx="75.47" cy="381.63" r="1.83" fill="#7a78d2" stroke="none" stroke-width="1" opacity="0.8"/>
<circle cx="48.6" cy="386.61" r="0.77" fill="#a8a8e2" stroke="none" stroke-width="1" opacity="0.8"/>
<circle cx="66.83" cy="369.79" r="0.59" fill="#9a9ade" stroke="none" stroke-width="1" opacity="0.8"/>
<circle cx="100.63" cy="403.2" r="1.92" fill="#a8a8e2" stroke="none" stroke-width="1" opacity="0.8"/>
<circle cx="34.26" cy="400.98" r="0.48" fill="#a8a8e2" stroke="none" stroke-width="1" opacity="0.8"/>
<circle cx="67.21" cy="405.3" r="1.8" fill="#6f6fd0" stroke="none" stroke-width="1" opacity="0.8"/>
<circle cx="40.51" cy="360.58" r="0.45" fill="#a8a8e2" stroke="none" stroke-width="1" opacity="0.8"/>
<circle cx="60.39" cy="391.21" r="0.51" fill="#9a9ade" stroke="none" stroke-width="1" opacity="0.8"/>
<circle cx="72.79" cy="392.22" r="0.98" fill="#9a9ade" stroke="none" stroke-width="1" opacity="0.8"/>
<circle cx="84.45" cy="419.61" r="0.48" fill="#6f6fd0" stroke="none" stroke-width="1" opacity="0.8"/>
<circle cx="74.33" cy="390.39" r="0.6" fill="#8686d8" stroke="none" stroke-width="1" opacity="0.8"/>
<circle cx="51.97" cy="386.18" r="0.45" fill="#a8a8e2" stroke="none" stroke-width="1" opacity="0.8"/>
<circle cx="55.3" cy="410.91" r="1.27" fill="#8686d8" stroke="none" stroke-width="1" opacity="0.8"/>
<circle cx="36.82" cy="386.27" r="0.45" fill="#6f6fd0" stroke="none" stroke-width="1" opacity="0.8"/>
<circle cx="53.05" cy="419.84" r="0.8" fill="#6262c6" stroke="none" stroke-width="1" opacity="0.8"/>
<circle cx="54.46" cy="379.78" r="0.5" fill="#8686d8" stroke="none" stroke-width="1" opacity="0.8"/>
<circle cx="56.83" cy="355.02" r="0.52" fill="#9a9ade" stroke="none" stroke-width="1" opacity="0.8"/>
<circle cx="62.89" cy="387.03" r="2.15" fill="#6262c6" stroke="none" stroke-width="1" opacity="0.8"/>
<circle cx="76.14" cy="391.12" r="1.3" fill="#6262c6" stroke="none" stroke-width="1" opacity="0.8"/>
<circle cx="100.53" cy="385.06" r="0.56" fill="#a8a8e2" stroke="none" stroke-width="1" opacity="0.8"/>
<circle cx="84.78" cy="387.76" r="0.46" fill="#7a78d2" stroke="none" stroke-width="1" opacity="0.8"/>
<circle cx="74.7" cy="377.48" r="1.71" fill="#a8a8e2" stroke="none" stroke-width="1" opacity="0.8"/>
<circle cx="57.05" cy="399.22" r="0.61" fill="#a8a8e2" stroke="none" stroke-width="1" opacity="0.8"/>
<circle cx="88.98" cy="361.07" r="0.83" fill="#9a9ade" stroke="none" stroke-width="1" opacity="0.8"/>
<circle cx="73.52" cy="415.92" r="0.5" fill="#7a78d2" stroke="none" stroke-width="1" opacity="0.8"/>
<circle cx="80.79" cy="360.22" r="0.62" fill="#6f6fd0" stroke="none" stroke-width="1" opacity="0.8"/>
<circle cx="80.95" cy="399.07" r="1.27" fill="#8686d8" stroke="none" stroke-width="1" opacity="0.8"/>
<circle cx="79.61" cy="370.55" r="0.62" fill="#7a78d2" stroke="none" stroke-width="1" opacity="0.8"/>
<circle cx="63.5" cy="401.73" r="0.64" fill="#8686d8" stroke="none" stroke-width="1" opacity="0.8"/>
<circle cx="44.96" cy="411.54" r="0.51" fill="#6f6fd0" stroke="none" stroke-width="1" opacity="0.8"/>
<circle cx="70.42" cy="386.54" r="1.62" fill="#6f6fd0" stroke="none" stroke-width="1" opacity="0.8"/>
<circle cx="33.52" cy="382.62" r="0.52" fill="#6262c6" stroke="none" stroke-width="1" opacity="0.8"/>
<circle cx="73.51" cy="397.65" r="0.47" fill="#9a9ade" stroke="none" stroke-width="1" opacity="0.8"/>
<circle cx="90.76" cy="369.11" r="1.12" fill="#9a9ade" stroke="none" stroke-width="1" opacity="0.8"/>
<circle cx="72.87" cy="355.98" r="0.52" fill="#9a9ade" stroke="none" stroke-width="1" opacity="0.8"/>
<circle cx="74.8" cy="371.28" r="1.04" fill="#a8a8e2" stroke="none" stroke-width="1" opacity="0.8"/>
<circle cx="69.92" cy="382.43" r="0.78" fill="#8686d8" stroke="none" stroke-width="1" opacity="0.8"/>
<circle cx="54.83" cy="370.91" r="0.52" fill="#6262c6" stroke="none" stroke-width="1" opacity="0.8"/>
<circle cx="50.62" cy="386.32" r="0.6" fill="#9a9ade" stroke="none" stroke-width="1" opacity="0.8"/>
<circle cx="70.2" cy="356.71" r="0.73" fill="#a8a8e2" stroke="none" stroke-width="1" opacity="0.8"/>
</g>
<rect x="22.4" y="347.4" width="83.6" height="85.1" fill="none" stroke="#2a2a2a" stroke-width="1.2" />
<clipPath id="pc1"><rect x="108.4" y="347.2" width="85.6" height="84.8"/></clipPath><g clip-path="url(#pc1)">
<rect x="108.4" y="347.2" width="85.6" height="84.8" fill="#dde4da" stroke="none" stroke-width="1" />
<path d="M193.47,381.53 A41.1,41.1 0 0 1 136.4,429.42" fill="none" stroke="#7a827a" stroke-width="0.9"/>
<path d="M192.83,380.9 A41.1,41.1 0 0 1 135.76,428.78" fill="none" stroke="#5a625a" stroke-width="0.9"/>
<path d="M192.13,380.19 A41.1,41.1 0 0 1 135.06,428.08" fill="none" stroke="#98a298" stroke-width="0.8"/>
<path d="M191.42,379.48 A41.1,41.1 0 0 1 134.35,427.37" fill="none" stroke="#5e665e" stroke-width="1.0"/>
<circle cx="150.8" cy="389.2" r="41.1" fill="#edf0eb" stroke="#858d85" stroke-width="0.7" />
<circle cx="157.47" cy="364.11" r="1.3" fill="#8686d8" stroke="none" stroke-width="1" opacity="0.8"/>
<circle cx="148.1" cy="402.64" r="0.41" fill="#7a78d2" stroke="none" stroke-width="1" opacity="0.8"/>
<circle cx="185.12" cy="388.01" r="0.44" fill="#6262c6" stroke="none" stroke-width="1" opacity="0.8"/>
<circle cx="139.83" cy="386.87" r="0.43" fill="#a8a8e2" stroke="none" stroke-width="1" opacity="0.8"/>
<circle cx="174.74" cy="382.81" r="0.4" fill="#6262c6" stroke="none" stroke-width="1" opacity="0.8"/>
<circle cx="134.71" cy="357.21" r="0.71" fill="#a8a8e2" stroke="none" stroke-width="1" opacity="0.8"/>
<circle cx="180.3" cy="370.07" r="0.41" fill="#6f6fd0" stroke="none" stroke-width="1" opacity="0.8"/>
<circle cx="142.95" cy="403.09" r="0.4" fill="#6262c6" stroke="none" stroke-width="1" opacity="0.8"/>
<circle cx="175.1" cy="378.59" r="0.45" fill="#8686d8" stroke="none" stroke-width="1" opacity="0.8"/>
<circle cx="156.09" cy="360.71" r="0.4" fill="#7a78d2" stroke="none" stroke-width="1" opacity="0.8"/>
<circle cx="132.53" cy="410.87" r="0.47" fill="#a8a8e2" stroke="none" stroke-width="1" opacity="0.8"/>
<circle cx="156.48" cy="361.77" r="1" fill="#9a9ade" stroke="none" stroke-width="1" opacity="0.8"/>
<circle cx="135.29" cy="419.61" r="0.72" fill="#6f6fd0" stroke="none" stroke-width="1" opacity="0.8"/>
<circle cx="157.02" cy="392.01" r="0.75" fill="#6262c6" stroke="none" stroke-width="1" opacity="0.8"/>
<circle cx="167.71" cy="411.76" r="0.93" fill="#a8a8e2" stroke="none" stroke-width="1" opacity="0.8"/>
<circle cx="121.23" cy="362.8" r="0.8" fill="#9a9ade" stroke="none" stroke-width="1" opacity="0.8"/>
<circle cx="137.45" cy="353.65" r="0.73" fill="#8686d8" stroke="none" stroke-width="1" opacity="0.8"/>
<circle cx="147.76" cy="363.92" r="0.71" fill="#8686d8" stroke="none" stroke-width="1" opacity="0.8"/>
<circle cx="135.93" cy="355.96" r="1.1" fill="#6f6fd0" stroke="none" stroke-width="1" opacity="0.8"/>
<circle cx="160.09" cy="402.02" r="0.4" fill="#8686d8" stroke="none" stroke-width="1" opacity="0.8"/>
<circle cx="129.31" cy="370.56" r="0.69" fill="#9a9ade" stroke="none" stroke-width="1" opacity="0.8"/>
<circle cx="158.45" cy="374.02" r="0.4" fill="#7a78d2" stroke="none" stroke-width="1" opacity="0.8"/>
<circle cx="133.39" cy="403.9" r="1.11" fill="#6262c6" stroke="none" stroke-width="1" opacity="0.8"/>
<circle cx="162.17" cy="409.34" r="0.54" fill="#7a78d2" stroke="none" stroke-width="1" opacity="0.8"/>
<circle cx="137.85" cy="378.51" r="0.49" fill="#a8a8e2" stroke="none" stroke-width="1" opacity="0.8"/>
<circle cx="126.34" cy="403.28" r="0.96" fill="#9a9ade" stroke="none" stroke-width="1" opacity="0.8"/>
<circle cx="164.19" cy="393.29" r="0.4" fill="#9a9ade" stroke="none" stroke-width="1" opacity="0.8"/>
<circle cx="155.41" cy="372.78" r="0.43" fill="#8686d8" stroke="none" stroke-width="1" opacity="0.8"/>
<circle cx="129.49" cy="383.87" r="0.49" fill="#8686d8" stroke="none" stroke-width="1" opacity="0.8"/>
<circle cx="171.46" cy="368.33" r="0.59" fill="#8686d8" stroke="none" stroke-width="1" opacity="0.8"/>
<circle cx="170.52" cy="384.17" r="0.7" fill="#8686d8" stroke="none" stroke-width="1" opacity="0.8"/>
<circle cx="155.14" cy="364.91" r="0.4" fill="#6262c6" stroke="none" stroke-width="1" opacity="0.8"/>
<circle cx="185.94" cy="402.95" r="1.27" fill="#6262c6" stroke="none" stroke-width="1" opacity="0.8"/>
<circle cx="166.59" cy="369.96" r="0.66" fill="#a8a8e2" stroke="none" stroke-width="1" opacity="0.8"/>
<circle cx="162.66" cy="391.8" r="1.35" fill="#a8a8e2" stroke="none" stroke-width="1" opacity="0.8"/>
<circle cx="125.51" cy="361.09" r="0.6" fill="#a8a8e2" stroke="none" stroke-width="1" opacity="0.8"/>
<circle cx="156.61" cy="419.89" r="0.4" fill="#8686d8" stroke="none" stroke-width="1" opacity="0.8"/>
<circle cx="133.39" cy="391.73" r="1.36" fill="#8686d8" stroke="none" stroke-width="1" opacity="0.8"/>
<circle cx="133.39" cy="361.73" r="0.68" fill="#6262c6" stroke="none" stroke-width="1" opacity="0.8"/>
<circle cx="145.79" cy="424.2" r="0.84" fill="#7a78d2" stroke="none" stroke-width="1" opacity="0.8"/>
<circle cx="135.32" cy="369.8" r="0.83" fill="#6262c6" stroke="none" stroke-width="1" opacity="0.8"/>
<circle cx="120.26" cy="396.82" r="0.67" fill="#a8a8e2" stroke="none" stroke-width="1" opacity="0.8"/>
<circle cx="160.4" cy="411.8" r="1.13" fill="#6262c6" stroke="none" stroke-width="1" opacity="0.8"/>
<circle cx="164.91" cy="355.62" r="0.45" fill="#6f6fd0" stroke="none" stroke-width="1" opacity="0.8"/>
<circle cx="179.75" cy="379.69" r="0.44" fill="#7a78d2" stroke="none" stroke-width="1" opacity="0.8"/>
<circle cx="166.23" cy="413.47" r="0.78" fill="#8686d8" stroke="none" stroke-width="1" opacity="0.8"/>
<circle cx="140.03" cy="415.62" r="0.41" fill="#9a9ade" stroke="none" stroke-width="1" opacity="0.8"/>
<circle cx="133.09" cy="380.76" r="0.84" fill="#9a9ade" stroke="none" stroke-width="1" opacity="0.8"/>
<circle cx="164.25" cy="372.53" r="0.41" fill="#9a9ade" stroke="none" stroke-width="1" opacity="0.8"/>
<circle cx="113.54" cy="391.7" r="0.4" fill="#a8a8e2" stroke="none" stroke-width="1" opacity="0.8"/>
<circle cx="149.97" cy="385.66" r="0.45" fill="#8686d8" stroke="none" stroke-width="1" opacity="0.8"/>
<circle cx="172.3" cy="356.12" r="1.09" fill="#6262c6" stroke="none" stroke-width="1" opacity="0.8"/>
<circle cx="132.06" cy="376.52" r="0.46" fill="#6f6fd0" stroke="none" stroke-width="1" opacity="0.8"/>
<circle cx="155.3" cy="367.31" r="0.83" fill="#a8a8e2" stroke="none" stroke-width="1" opacity="0.8"/>
<circle cx="153.99" cy="411.07" r="0.47" fill="#6262c6" stroke="none" stroke-width="1" opacity="0.8"/>
<circle cx="130.69" cy="406.96" r="0.55" fill="#9a9ade" stroke="none" stroke-width="1" opacity="0.8"/>
<circle cx="169.05" cy="391.59" r="0.6" fill="#a8a8e2" stroke="none" stroke-width="1" opacity="0.8"/>
<circle cx="190.25" cy="393.5" r="0.4" fill="#7a78d2" stroke="none" stroke-width="1" opacity="0.8"/>
<circle cx="148.85" cy="397.92" r="0.51" fill="#8686d8" stroke="none" stroke-width="1" opacity="0.8"/>
<circle cx="186.55" cy="400.18" r="1.04" fill="#6262c6" stroke="none" stroke-width="1" opacity="0.8"/>
<circle cx="173.22" cy="395.85" r="0.44" fill="#a8a8e2" stroke="none" stroke-width="1" opacity="0.8"/>
<circle cx="141.31" cy="366.68" r="0.43" fill="#8686d8" stroke="none" stroke-width="1" opacity="0.8"/>
<circle cx="152.14" cy="382.81" r="0.89" fill="#a8a8e2" stroke="none" stroke-width="1" opacity="0.8"/>
<circle cx="118.6" cy="383.92" r="1.07" fill="#8686d8" stroke="none" stroke-width="1" opacity="0.8"/>
<circle cx="127.11" cy="388.66" r="0.59" fill="#7a78d2" stroke="none" stroke-width="1" opacity="0.8"/>
<circle cx="118.3" cy="382.21" r="1.06" fill="#6f6fd0" stroke="none" stroke-width="1" opacity="0.8"/>
<circle cx="134.62" cy="398.91" r="0.53" fill="#a8a8e2" stroke="none" stroke-width="1" opacity="0.8"/>
<circle cx="143.06" cy="423.92" r="0.63" fill="#a8a8e2" stroke="none" stroke-width="1" opacity="0.8"/>
<circle cx="124.25" cy="412.94" r="0.7" fill="#8686d8" stroke="none" stroke-width="1" opacity="0.8"/>
<circle cx="139.7" cy="407.03" r="0.41" fill="#a8a8e2" stroke="none" stroke-width="1" opacity="0.8"/>
</g>
<rect x="108.4" y="347.2" width="85.6" height="84.8" fill="none" stroke="#2a2a2a" stroke-width="1.2" />
<clipPath id="pc2"><rect x="195.6" y="347.3" width="84.3" height="84.5"/></clipPath><g clip-path="url(#pc2)">
<rect x="195.6" y="347.3" width="84.3" height="84.5" fill="#dde4da" stroke="none" stroke-width="1" />
<path d="M279.78,381.55 A40.85,40.85 0 0 1 223.06,429.14" fill="none" stroke="#7a827a" stroke-width="0.9"/>
<path d="M279.14,380.91 A40.85,40.85 0 0 1 222.42,428.51" fill="none" stroke="#5a625a" stroke-width="0.9"/>
<path d="M278.43,380.2 A40.85,40.85 0 0 1 221.71,427.8" fill="none" stroke="#98a298" stroke-width="0.8"/>
<path d="M277.73,379.5 A40.85,40.85 0 0 1 221.01,427.09" fill="none" stroke="#5e665e" stroke-width="1.0"/>
<circle cx="237.35" cy="389.15" r="40.85" fill="#edf0eb" stroke="#858d85" stroke-width="0.7" />
<circle cx="208.61" cy="398.62" r="0.45" fill="#a8a8e2" stroke="none" stroke-width="1" opacity="0.8"/>
<circle cx="250.5" cy="363.21" r="0.45" fill="#6262c6" stroke="none" stroke-width="1" opacity="0.8"/>
<circle cx="242.76" cy="351.83" r="0.45" fill="#9a9ade" stroke="none" stroke-width="1" opacity="0.8"/>
<circle cx="257.48" cy="420.6" r="0.45" fill="#6262c6" stroke="none" stroke-width="1" opacity="0.8"/>
<circle cx="232.57" cy="389.97" r="0.45" fill="#6f6fd0" stroke="none" stroke-width="1" opacity="0.8"/>
<circle cx="252.86" cy="398.08" r="0.45" fill="#9a9ade" stroke="none" stroke-width="1" opacity="0.8"/>
</g>
<rect x="195.6" y="347.3" width="84.3" height="84.5" fill="none" stroke="#2a2a2a" stroke-width="1.2" />
<line x1="333" y1="317.1" x2="333" y2="437.9" stroke="#000" stroke-width="1.4" />
<line x1="332.3" y1="437.2" x2="415.6" y2="437.2" stroke="#000" stroke-width="1.5" />
<line x1="329.5" y1="437.2" x2="333" y2="437.2" stroke="#000" stroke-width="1.2" />
<text x="330" y="440.4" font-size="8.9" font-weight="bold" text-anchor="end" fill="#000" >0</text>
<line x1="329.5" y1="397.4" x2="333" y2="397.4" stroke="#000" stroke-width="1.2" />
<text x="330" y="400.6" font-size="8.9" font-weight="bold" text-anchor="end" fill="#000" >50</text>
<line x1="329.5" y1="357.6" x2="333" y2="357.6" stroke="#000" stroke-width="1.2" />
<text x="330" y="360.8" font-size="8.9" font-weight="bold" text-anchor="end" fill="#000" >100</text>
<line x1="329.5" y1="317.8" x2="333" y2="317.8" stroke="#000" stroke-width="1.2" />
<text x="330" y="321" font-size="8.9" font-weight="bold" text-anchor="end" fill="#000" >150</text>
<line x1="346.5" y1="437.2" x2="346.5" y2="440.4" stroke="#000" stroke-width="1.3" />
<line x1="372.6" y1="437.2" x2="372.6" y2="440.4" stroke="#000" stroke-width="1.3" />
<line x1="399.6" y1="437.2" x2="399.6" y2="440.4" stroke="#000" stroke-width="1.3" />
<line x1="346.4" y1="357.7" x2="346.4" y2="350.1" stroke="#000" stroke-width="1.9" />
<line x1="341.5" y1="350.1" x2="351.3" y2="350.1" stroke="#000" stroke-width="1.9" />
<rect x="338.2" y="357.7" width="16.6" height="79.5" fill="#fff" stroke="#000" stroke-width="1.7" />
<line x1="372.8" y1="418.2" x2="372.8" y2="417.4" stroke="#000" stroke-width="1.6" />
<line x1="368.5" y1="417.4" x2="377.1" y2="417.4" stroke="#000" stroke-width="1.6" />
<rect x="364.4" y="418.3" width="17" height="18.9" fill="url(#hatchF)" stroke="#000" stroke-width="1.7" />
<rect x="391.4" y="423.1" width="16.6" height="14.1" fill="url(#hatchB)" stroke="#000" stroke-width="1.7" />
<line x1="347.5" y1="329.3" x2="406.8" y2="329.3" stroke="#000" stroke-width="1.9" />
<line x1="347.5" y1="342.7" x2="374.8" y2="342.7" stroke="#000" stroke-width="1.9" />
<text x="374.7" y="329.51" font-size="11" font-weight="bold" text-anchor="middle" fill="#000" >*</text>
<text x="380.7" y="329.51" font-size="11" font-weight="bold" text-anchor="middle" fill="#000" >*</text>
<text x="358.35" y="342.41" font-size="11" font-weight="bold" text-anchor="middle" fill="#000" >*</text>
<text x="363.85" y="342.41" font-size="11" font-weight="bold" text-anchor="middle" fill="#000" >*</text>
<text transform="translate(297.2,376) rotate(-90)" font-size="9.5" font-weight="bold" text-anchor="middle" fill="#000">Relative clonogenic</text>
<text transform="translate(309.6,376.8) rotate(-90)" font-size="9.9" font-weight="bold" text-anchor="middle" fill="#000">survival rate (%)</text>
<text x="286.9" y="451.5" font-size="9.4" font-weight="bold" text-anchor="start" fill="#000" >siATP1A1:</text>
<text x="346.9" y="451.5" font-size="9.4" font-weight="bold" text-anchor="middle" fill="#000" >-</text>
<text x="372.4" y="451.5" font-size="9.4" font-weight="bold" text-anchor="middle" fill="#000" >#1</text>
<text x="398.8" y="451.5" font-size="9.4" font-weight="bold" text-anchor="middle" fill="#000" >#2</text>
<text x="5.3" y="475" font-size="18" font-weight="bold" text-anchor="start" fill="#000" >D</text>
<text x="97" y="490.2" font-size="11.8" font-weight="bold" text-anchor="middle" fill="#000" >Control siRNA</text>
<text x="218.5" y="490.4" font-size="11.8" font-weight="bold" text-anchor="middle" fill="#000" >ATP1A1 siRNA #1</text>
<text x="339.9" y="490.4" font-size="11.8" font-weight="bold" text-anchor="middle" fill="#000" >ATP1A1 siRNA #2</text>
<line x1="22.3" y1="491.2" x2="22.3" y2="587.3" stroke="#000" stroke-width="1.4" />
<polyline points="18.9,498.4 22.3,491.2 25.7,498.4" stroke="#000" stroke-width="1.4" fill="none" />
<text transform="translate(16.2,541.1) rotate(-90)" font-size="13.6" font-weight="bold" text-anchor="middle" fill="#000">PI</text>
<line x1="45" y1="615.2" x2="391.8" y2="615.2" stroke="#000" stroke-width="1.4" />
<polyline points="385.3,611.6 392.3,615.2 385.3,618.9" stroke="#000" stroke-width="1.4" fill="none" />
<text x="218.7" y="632.5" font-size="13.8" font-weight="bold" text-anchor="middle" fill="#000" >Annexin V-FITC</text>
<rect x="42.7" y="494" width="105.5" height="99.3" fill="#fff" stroke="none" stroke-width="1" />
<path d="M102.4 573.4h.9M108.1 562.9h.9M79.5 542.0h.9M72.4 550.6h.9M61.8 570.6h.9M69.7 547.9h.9M97.1 552.3h.9M93.9 548.1h.9M62.2 556.9h.9M57.0 567.8h.9M82.4 548.5h.9M59.5 560.1h.9M75.0 551.3h.9M71.4 579.6h.9M100.4 583.3h.9M105.1 577.8h.9M104.7 568.6h.9M108.9 571.5h.9M71.2 550.8h.9M101.2 580.3h.9M104.1 567.4h.9M60.0 569.4h.9M104.2 568.5h.9M71.1 547.2h.9M62.5 560.6h.9M104.5 561.5h.9M105.9 568.0h.9M76.5 586.6h.9M101.9 575.8h.9M104.0 559.2h.9M102.9 566.1h.9M99.6 549.9h.9M95.3 550.4h.9M63.8 565.2h.9M106.6 566.6h.9M83.8 543.0h.9M69.2 581.4h.9M99.2 582.1h.9M106.6 565.0h.9M65.5 552.1h.9M97.1 581.4h.9M98.6 577.5h.9M67.4 580.6h.9M107.6 571.8h.9M62.4 566.0h.9M83.9 548.0h.9M75.8 548.3h.9M109.4 551.0h.9M73.4 549.5h.9M102.0 542.7h.9M73.5 582.0h.9M97.0 553.0h.9M114.1 575.0h.9M68.6 584.5h.9M103.4 574.3h.9M101.9 545.5h.9M103.3 559.5h.9M109.5 559.8h.9M73.4 549.3h.9M99.0 578.4h.9M103.0 581.3h.9M63.7 562.7h.9M103.3 574.6h.9M110.1 567.0h.9M76.8 550.9h.9M65.7 560.7h.9M73.9 588.8h.9M105.7 577.5h.9M77.8 585.8h.9M67.9 556.5h.9M64.5 559.4h.9M64.6 559.5h.9M73.1 587.3h.9M64.0 577.1h.9M46.0 579.0h.9M58.1 574.9h.9M69.4 576.3h.9M60.3 565.0h.9M57.4 565.7h.9M55.2 550.1h.9M81.3 584.5h.9M56.1 566.9h.9M49.8 571.8h.9M55.2 571.1h.9M84.7 589.5h.9M74.5 585.0h.9M110.0 570.5h.9M71.7 590.7h.9M100.7 569.8h.9M67.8 573.9h.9M104.5 556.7h.9M79.1 549.5h.9M100.9 549.7h.9M59.5 573.6h.9M64.1 542.4h.9M67.2 587.9h.9M66.1 560.2h.9M80.5 549.8h.9M98.5 580.1h.9M65.8 584.2h.9M65.2 582.3h.9M98.4 586.3h.9M101.8 551.2h.9M75.7 584.4h.9M57.4 576.0h.9M94.5 540.0h.9M64.1 577.7h.9M120.8 574.9h.9M105.4 587.4h.9M84.1 591.2h.9M103.1 572.7h.9M98.7 546.1h.9M61.3 569.6h.9M61.3 553.5h.9M104.9 570.7h.9M98.5 590.3h.9M67.5 577.7h.9M57.7 575.3h.9M86.9 548.0h.9M104.2 585.5h.9M60.6 557.2h.9M74.2 584.7h.9M62.8 561.2h.9M107.3 573.0h.9M93.1 531.5h.9M66.5 576.9h.9M100.0 579.9h.9M71.9 538.4h.9M86.9 589.4h.9M104.2 580.1h.9M56.9 572.5h.9M59.2 565.9h.9M102.6 566.8h.9M77.4 584.6h.9M64.9 580.3h.9M82.0 588.3h.9M78.6 590.7h.9M78.3 591.5h.9M51.6 569.3h.9M68.1 586.2h.9M60.4 565.5h.9M68.9 583.1h.9M53.3 566.8h.9M60.6 571.9h.9M92.4 544.0h.9M52.3 585.0h.9M73.3 589.2h.9M104.8 569.9h.9M61.5 568.3h.9M63.1 572.5h.9M56.6 552.4h.9M68.2 581.3h.9M61.3 562.2h.9M72.2 591.6h.9M62.6 583.4h.9M60.7 562.6h.9M104.1 582.8h.9M66.2 583.7h.9M79.5 586.3h.9M93.5 591.2h.9M92.4 588.6h.9M81.1 591.8h.9M94.4 587.5h.9M84.5 588.1h.9M74.2 582.5h.9M81.8 586.5h.9M97.0 581.7h.9M83.9 587.9h.9M88.8 590.2h.9M87.1 591.1h.9M85.6 590.1h.9M91.0 588.3h.9M94.6 584.0h.9M90.7 592.0h.9M91.0 591.2h.9M98.9 590.4h.9M98.7 585.7h.9M93.5 585.7h.9M136.2 522.8h.9M128.2 524.5h.9M116.5 528.9h.9M125.8 533.9h.9M121.4 528.2h.9M137.6 522.7h.9M119.7 534.1h.9M110.1 528.4h.9M115.9 532.7h.9M117.2 539.2h.9M122.0 536.8h.9M123.9 542.4h.9M117.2 522.0h.9M125.7 517.1h.9M117.2 522.5h.9M119.2 524.7h.9M107.5 519.1h.9M126.2 536.0h.9M112.3 527.1h.9M127.9 530.7h.9M135.0 537.1h.9M110.2 535.1h.9M125.7 533.0h.9M132.4 538.0h.9M121.8 539.0h.9M123.9 525.3h.9M118.7 537.9h.9M132.9 519.4h.9M103.6 533.3h.9M119.2 522.8h.9M108.5 532.2h.9M106.3 531.5h.9M118.8 527.8h.9M115.0 512.4h.9M120.0 521.1h.9M111.7 525.7h.9M121.7 526.9h.9M117.6 530.9h.9M105.4 521.6h.9M132.1 522.8h.9M115.4 534.3h.9M129.8 530.6h.9M117.7 524.7h.9M143.4 541.4h.9M124.8 514.4h.9M122.2 520.3h.9M129.4 532.0h.9M123.5 537.9h.9M107.6 537.6h.9M124.4 521.2h.9M128.9 533.1h.9M129.7 529.2h.9M118.6 524.9h.9M136.7 532.7h.9M124.7 524.5h.9M129.3 536.3h.9M105.1 539.3h.9M97.7 522.3h.9M128.9 523.9h.9M127.3 524.7h.9M120.6 511.8h.9M127.3 521.8h.9M125.0 534.1h.9M117.0 518.2h.9M122.2 536.9h.9M126.4 526.4h.9M129.5 526.4h.9M125.6 517.8h.9M115.4 510.2h.9M140.8 534.9h.9M132.7 530.0h.9M112.0 528.7h.9M125.1 522.2h.9M126.3 530.9h.9M115.7 526.1h.9M127.2 518.7h.9M127.9 539.0h.9M118.0 538.1h.9M117.2 555.3h.9M108.8 554.1h.9M112.1 542.0h.9M112.6 536.3h.9M105.2 528.2h.9M101.8 540.2h.9M94.5 533.8h.9M120.5 534.9h.9M115.0 538.5h.9M115.1 539.1h.9M107.8 530.1h.9M129.6 538.7h.9M99.3 532.5h.9M110.3 533.1h.9M108.0 549.5h.9M99.2 543.8h.9M95.1 538.6h.9M110.1 534.5h.9M126.4 549.9h.9M116.5 544.7h.9M99.0 548.0h.9M113.1 534.2h.9M119.3 547.3h.9M115.9 534.2h.9M100.7 543.4h.9M95.8 546.9h.9M82.8 542.3h.9M89.3 545.1h.9M109.8 532.3h.9M118.4 537.5h.9M117.8 530.4h.9M107.0 528.4h.9M102.0 547.0h.9M122.6 536.0h.9M109.9 546.8h.9M112.8 532.3h.9M101.6 543.4h.9M103.5 544.7h.9M107.5 545.3h.9M102.8 535.4h.9M93.8 541.8h.9M102.3 546.5h.9M92.7 539.6h.9M108.9 545.5h.9M127.5 526.3h.9M105.5 539.3h.9M113.0 558.1h.9M121.7 551.4h.9M124.3 535.7h.9M116.7 546.5h.9M119.0 541.0h.9M112.9 536.3h.9M103.4 539.6h.9M101.7 547.9h.9M110.1 545.7h.9M97.2 550.3h.9M108.2 544.7h.9M111.8 543.2h.9M110.9 546.0h.9M107.7 548.8h.9M104.2 552.5h.9M118.3 529.3h.9M112.6 549.3h.9M115.6 534.3h.9M111.4 532.6h.9M110.9 544.7h.9M105.0 550.3h.9M120.3 512.5h.9M104.5 555.0h.9M98.3 545.6h.9M114.9 532.0h.9M112.8 538.6h.9M112.2 546.8h.9M112.9 521.4h.9M113.4 535.0h.9M99.7 549.2h.9M105.4 543.8h.9M126.2 541.5h.9M112.3 527.1h.9M104.7 545.2h.9M100.8 551.8h.9M92.6 548.1h.9M90.2 535.0h.9M108.9 563.6h.9M108.0 545.2h.9M113.8 538.8h.9M89.4 541.2h.9M108.0 537.5h.9M103.4 527.5h.9M122.8 537.3h.9M107.5 569.7h.9M141.4 556.5h.9M110.3 561.9h.9M129.3 558.4h.9M130.6 563.3h.9M96.6 582.9h.9M123.6 578.9h.9M118.2 582.9h.9M139.9 578.4h.9M128.4 583.9h.9M111.9 561.1h.9M113.7 558.2h.9M129.0 552.8h.9M109.4 574.7h.9M109.3 560.7h.9M112.5 578.4h.9M129.5 584.4h.9M119.4 580.4h.9M130.8 576.1h.9M132.8 564.1h.9M125.8 575.6h.9M119.9 580.5h.9M105.3 583.6h.9M119.5 560.3h.9M101.3 553.6h.9M133.3 557.2h.9M141.0 583.3h.9M123.1 560.6h.9M119.9 584.6h.9M139.8 571.1h.9M115.8 572.1h.9M134.9 578.9h.9M124.2 572.0h.9M136.1 562.6h.9M132.6 569.1h.9M111.7 567.4h.9M99.9 584.8h.9M104.1 562.0h.9M131.6 565.3h.9M114.1 554.7h.9M120.8 559.8h.9M121.2 558.6h.9M132.0 581.5h.9M116.3 579.1h.9M135.1 563.0h.9M140.7 559.7h.9M109.8 555.4h.9M132.1 579.2h.9M131.6 580.5h.9M140.8 564.9h.9M137.1 559.0h.9M110.3 574.2h.9M102.7 578.9h.9M101.0 552.7h.9M124.3 553.4h.9M142.1 578.2h.9M137.1 579.9h.9M107.9 561.0h.9M136.8 534.1h.9M46.9 574.3h.9M122.0 574.9h.9M136.0 559.6h.9M60.4 565.8h.9M137.8 549.9h.9M54.7 576.7h.9M93.5 587.7h.9M61.5 559.8h.9M52.0 555.0h.9" stroke="#a4aee6" stroke-width=".9" fill="none"/>
<path d="M77.7 553.8h.9M76.6 555.0h.9M84.6 551.8h.9M70.6 555.2h.9M97.7 559.6h.9M79.0 553.4h.9M67.8 562.8h.9M94.1 557.9h.9M68.6 564.4h.9M82.6 550.8h.9M68.5 565.6h.9M78.6 551.0h.9M82.7 550.1h.9M92.2 586.6h.9M102.4 564.0h.9M92.8 552.4h.9M90.1 553.6h.9M75.1 555.8h.9M99.2 566.6h.9M73.4 578.2h.9M93.0 554.2h.9M68.2 560.8h.9M66.6 572.7h.9M99.1 568.8h.9M78.1 582.3h.9M83.8 581.2h.9M101.1 563.9h.9M76.2 552.4h.9M98.6 563.4h.9M97.3 559.4h.9M83.2 551.6h.9M73.0 579.5h.9M95.7 555.7h.9M70.9 555.3h.9M101.9 561.6h.9M74.9 580.0h.9M97.5 562.3h.9M98.9 557.5h.9M69.5 570.1h.9M76.7 553.8h.9M95.6 554.2h.9M95.4 558.2h.9M71.7 558.2h.9M69.1 569.2h.9M85.6 550.5h.9M98.8 569.1h.9M101.4 559.5h.9M98.3 570.2h.9M69.4 565.1h.9M69.2 565.8h.9M67.6 571.8h.9M94.9 552.1h.9M68.2 569.7h.9M103.3 563.4h.9M92.2 554.5h.9M74.5 578.9h.9M70.0 563.4h.9M68.9 562.0h.9M69.8 568.1h.9M97.3 577.3h.9M99.0 558.4h.9M67.3 570.7h.9M94.4 551.1h.9M66.9 565.3h.9M97.8 561.7h.9M94.7 553.6h.9M102.6 564.2h.9M91.8 551.2h.9M100.5 562.3h.9M102.0 560.2h.9M102.4 563.4h.9M77.7 583.3h.9M98.3 575.3h.9M63.4 570.3h.9M96.6 558.6h.9M73.2 557.3h.9M70.1 556.2h.9M70.8 554.8h.9M70.8 575.0h.9M79.5 553.0h.9M103.9 562.5h.9M69.3 572.6h.9M98.3 568.8h.9M67.7 570.5h.9M69.2 560.9h.9M96.7 577.6h.9M88.9 552.6h.9M99.3 564.4h.9M86.1 549.6h.9M69.6 560.8h.9M66.9 563.7h.9M75.8 579.1h.9M88.9 583.0h.9M90.7 585.9h.9M65.1 571.1h.9M71.5 576.1h.9M72.7 556.7h.9M72.1 552.8h.9M71.9 578.3h.9M99.6 562.4h.9M72.0 554.4h.9M77.3 552.1h.9M93.4 583.4h.9M70.1 558.9h.9M66.1 569.6h.9M74.4 554.4h.9M72.3 555.9h.9M74.1 577.4h.9M68.1 560.1h.9M63.4 570.0h.9M85.1 548.5h.9M76.2 583.3h.9M75.8 579.1h.9M94.5 557.3h.9M103.5 564.8h.9M68.4 562.2h.9M99.7 559.3h.9M99.3 566.7h.9M99.7 558.8h.9M72.3 553.2h.9M97.6 558.1h.9M101.5 553.9h.9M69.1 571.2h.9M91.4 553.9h.9M74.6 578.2h.9M86.6 548.8h.9M82.2 550.9h.9M71.9 555.8h.9M66.7 562.3h.9M97.0 555.5h.9M62.8 568.1h.9M99.3 559.4h.9M86.8 549.4h.9M64.6 568.9h.9M98.9 566.5h.9M84.6 548.9h.9M93.3 555.7h.9M94.3 556.7h.9M64.0 569.2h.9M67.1 570.8h.9M93.7 581.5h.9M74.2 555.4h.9M103.8 557.3h.9M72.3 576.5h.9M64.0 567.8h.9M63.9 569.1h.9M93.2 551.5h.9M93.8 583.9h.9M68.2 559.4h.9M66.8 568.4h.9M97.3 576.8h.9M87.8 584.3h.9M100.3 560.5h.9M65.2 568.1h.9M94.0 555.6h.9M66.6 564.7h.9M87.9 587.2h.9M101.5 554.9h.9M80.8 552.9h.9M67.4 572.5h.9M66.0 569.3h.9M97.0 555.8h.9M69.8 554.3h.9M67.9 565.6h.9M70.5 553.2h.9M64.4 569.8h.9M102.6 555.8h.9M84.3 584.2h.9M73.1 553.8h.9M95.7 579.0h.9M79.5 581.2h.9M69.6 574.2h.9M97.3 575.1h.9M65.4 568.9h.9M73.6 577.7h.9M87.8 584.5h.9M75.9 579.6h.9M89.4 584.1h.9M77.1 581.2h.9M85.2 550.4h.9M65.7 564.2h.9M94.6 579.1h.9M86.4 551.2h.9M98.0 571.2h.9M90.8 551.7h.9M98.4 574.6h.9M85.1 548.5h.9M103.2 556.8h.9M84.6 584.3h.9M70.8 572.2h.9M79.4 550.7h.9M70.9 556.4h.9M67.1 571.0h.9M101.2 564.9h.9M72.4 555.4h.9M91.3 584.1h.9M68.3 563.0h.9M98.7 570.3h.9M67.3 563.9h.9M71.5 555.5h.9M76.4 552.0h.9M71.0 555.9h.9M88.2 587.5h.9M93.6 580.7h.9M76.6 553.6h.9M75.8 580.4h.9M84.9 584.2h.9M79.8 581.4h.9M94.1 581.0h.9M80.6 581.2h.9M76.2 581.8h.9M94.7 580.3h.9M89.9 588.1h.9M88.8 588.4h.9M87.4 585.0h.9M85.5 587.6h.9M88.1 586.6h.9M90.6 586.6h.9M76.0 578.4h.9M84.4 583.1h.9M91.9 585.4h.9M88.7 583.3h.9M90.1 582.8h.9M91.5 581.4h.9M84.9 585.9h.9M97.9 574.0h.9M93.4 581.0h.9M87.9 589.2h.9M88.2 586.6h.9M97.8 579.9h.9M84.8 584.0h.9M90.8 583.7h.9M125.7 527.4h.9M120.3 533.7h.9M125.0 527.9h.9M119.7 532.8h.9M123.6 532.2h.9M123.3 527.7h.9M122.2 536.4h.9M121.8 530.9h.9M121.4 530.2h.9M121.7 529.7h.9M124.5 529.8h.9M123.4 526.9h.9M114.5 536.8h.9M120.6 531.5h.9M125.1 530.7h.9M116.2 538.2h.9M123.8 531.9h.9M124.7 529.3h.9M122.8 527.3h.9M119.9 531.0h.9M119.9 533.7h.9M93.1 553.1h.9M116.8 536.5h.9M102.6 555.8h.9M102.2 554.3h.9M95.5 558.2h.9M89.9 552.1h.9M123.8 529.5h.9M119.5 531.1h.9M122.3 532.5h.9M116.1 536.2h.9M97.1 559.7h.9M86.8 550.0h.9M90.6 551.7h.9M95.6 554.3h.9M117.3 537.0h.9M124.7 528.2h.9M98.7 573.5h.9M96.6 558.6h.9M101.9 555.8h.9M100.2 563.1h.9M103.4 557.9h.9M93.2 553.5h.9" stroke="#6e82dc" stroke-width=".9" fill="none"/>
<path d="M86.5 554.9h.9M87.9 553.4h.9M90.5 556.4h.9M93.1 559.8h.9M72.3 560.9h.9M70.3 560.8h.9M80.9 555.4h.9M78.8 556.3h.9M83.2 554.7h.9M91.7 557.4h.9M86.4 554.4h.9M78.8 554.9h.9M74.5 559.2h.9M90.6 556.5h.9M82.4 553.2h.9M72.6 561.9h.9M88.9 556.0h.9M93.2 559.2h.9M82.1 553.7h.9M79.6 553.9h.9M85.5 554.2h.9M77.2 557.0h.9M78.9 555.2h.9M71.6 565.4h.9M80.4 553.3h.9M94.9 562.7h.9M91.2 556.8h.9M74.0 566.9h.9M95.2 562.5h.9M73.6 559.4h.9M88.9 555.8h.9M87.0 555.1h.9M73.4 569.9h.9M73.6 572.9h.9M85.4 552.6h.9M87.7 554.5h.9M90.9 554.4h.9M95.9 568.5h.9M96.4 568.3h.9M86.9 579.3h.9M93.1 578.5h.9M73.7 563.3h.9M77.3 574.4h.9M94.7 560.0h.9M96.7 564.4h.9M93.0 559.3h.9M92.9 556.4h.9M80.5 556.1h.9M72.6 566.1h.9M91.4 577.7h.9M96.1 566.6h.9M95.2 569.5h.9M96.2 570.9h.9M72.4 568.6h.9M73.9 558.1h.9M70.9 563.6h.9M90.8 579.9h.9M94.0 575.4h.9M94.4 575.1h.9M90.6 556.9h.9M90.2 556.9h.9M76.3 559.1h.9M74.6 560.3h.9M82.8 553.7h.9M74.1 572.8h.9M75.8 557.8h.9M74.1 564.0h.9M71.8 559.4h.9M97.1 566.8h.9M95.8 564.2h.9M72.4 572.4h.9M97.5 564.0h.9M72.8 569.1h.9M74.4 559.3h.9M76.4 577.7h.9M76.5 574.1h.9M79.9 575.1h.9M95.9 566.4h.9M73.9 566.6h.9M73.1 573.5h.9M74.6 573.7h.9M96.0 571.0h.9M80.1 577.7h.9M75.7 575.2h.9M92.3 575.8h.9M89.7 580.4h.9M79.8 579.4h.9M94.5 573.4h.9M72.6 574.0h.9M79.2 554.2h.9M74.9 575.5h.9M79.6 554.5h.9M96.1 574.8h.9M77.0 556.3h.9M97.3 564.6h.9M86.5 581.0h.9M98.3 564.7h.9M78.0 555.3h.9M71.4 567.3h.9M74.9 560.2h.9M74.0 565.3h.9M78.4 576.6h.9M79.9 579.7h.9M84.2 554.3h.9M86.3 552.7h.9M75.0 574.4h.9M73.1 570.2h.9M73.2 568.9h.9M87.9 553.4h.9M95.9 564.3h.9M95.3 563.8h.9M73.2 572.5h.9M72.7 560.7h.9M92.3 579.3h.9M89.8 578.5h.9M73.1 562.7h.9M95.5 564.3h.9M95.7 563.3h.9M95.7 560.7h.9M73.4 566.6h.9M70.9 560.8h.9M73.0 560.8h.9M89.7 578.0h.9M79.0 579.4h.9M94.8 574.6h.9M73.5 564.9h.9M73.7 559.1h.9M95.6 565.7h.9M93.1 559.3h.9M75.8 575.1h.9M92.7 578.4h.9M79.1 556.8h.9M91.2 578.0h.9M90.3 555.6h.9M95.8 573.8h.9M96.3 561.8h.9M77.2 575.7h.9M74.4 559.2h.9M92.7 580.0h.9M95.8 571.8h.9M75.3 577.2h.9M72.7 564.8h.9M80.1 580.9h.9M71.1 559.4h.9M76.9 574.5h.9M71.1 570.0h.9M82.3 579.4h.9M86.1 553.6h.9M70.4 570.3h.9M74.3 562.1h.9M71.6 562.0h.9M95.6 573.5h.9M97.2 563.2h.9M80.7 578.8h.9M73.1 575.4h.9M73.8 562.2h.9M72.7 563.5h.9M96.3 567.3h.9M71.8 563.8h.9M86.8 555.1h.9M81.7 579.5h.9M79.5 580.4h.9M77.2 577.5h.9M71.5 562.2h.9M79.3 576.2h.9M95.4 565.0h.9M73.9 559.5h.9M81.9 553.2h.9M97.1 566.4h.9M70.4 561.5h.9M94.4 573.7h.9M73.3 569.4h.9M71.2 569.4h.9M74.0 572.8h.9M74.3 575.2h.9M72.4 573.7h.9M90.9 555.9h.9M72.6 569.9h.9M71.7 559.7h.9M98.1 565.2h.9M89.1 555.2h.9M94.9 570.4h.9M80.3 553.7h.9M91.4 555.2h.9M96.0 566.0h.9M74.0 564.3h.9M94.2 578.6h.9M86.5 581.4h.9M82.9 553.3h.9M97.4 565.8h.9M89.9 554.5h.9M77.1 577.5h.9M72.0 571.6h.9M79.4 579.4h.9M79.9 579.3h.9M91.1 556.2h.9M86.8 580.7h.9M73.5 560.3h.9M71.4 559.6h.9M90.6 554.6h.9M86.4 582.5h.9M85.6 579.6h.9M74.0 574.6h.9M94.6 571.2h.9M94.5 577.2h.9M97.1 567.9h.9M73.5 568.2h.9M72.1 561.2h.9M85.4 552.7h.9M77.2 574.8h.9M87.2 554.3h.9M77.2 574.3h.9M94.3 559.1h.9M96.1 566.1h.9M72.4 567.5h.9M73.9 576.8h.9M85.9 581.3h.9M72.4 573.5h.9M76.2 574.9h.9M73.5 572.9h.9M93.2 578.7h.9M90.1 577.4h.9M73.4 576.2h.9M71.7 567.0h.9M80.2 578.8h.9M71.9 572.5h.9M72.8 574.0h.9M81.4 555.4h.9M95.8 561.2h.9M86.3 582.8h.9M83.2 579.5h.9M80.9 577.2h.9M98.2 566.2h.9M76.3 577.1h.9M73.2 573.6h.9M91.8 558.6h.9M95.7 568.3h.9M73.1 568.3h.9M96.2 566.9h.9M73.7 573.7h.9M72.2 568.9h.9M82.4 579.4h.9M73.0 562.6h.9M96.0 569.5h.9M70.3 562.8h.9M95.6 566.8h.9M72.1 569.2h.9M92.6 578.7h.9M71.0 570.8h.9M70.9 569.7h.9M90.7 557.0h.9M71.6 567.7h.9M96.5 571.3h.9M95.9 565.7h.9M72.8 562.6h.9M73.2 557.7h.9M80.6 553.9h.9M92.1 574.8h.9M80.2 577.6h.9M72.2 567.9h.9M91.0 581.1h.9M78.2 555.2h.9M90.8 578.5h.9M82.2 578.8h.9M96.4 573.0h.9M80.3 577.3h.9M91.4 580.4h.9M89.2 580.8h.9M93.4 573.4h.9M93.0 574.7h.9M87.0 583.3h.9M82.6 580.5h.9M93.2 580.6h.9M81.0 578.2h.9M86.5 578.8h.9M94.0 573.5h.9M92.3 579.4h.9M81.0 579.9h.9M88.1 582.3h.9M79.8 580.8h.9M95.5 575.2h.9M82.9 580.7h.9M96.5 570.6h.9M88.2 578.4h.9M91.4 575.6h.9M87.2 581.2h.9M77.8 576.0h.9M89.8 578.0h.9M94.3 572.1h.9M94.1 573.5h.9M88.1 580.9h.9M79.1 575.0h.9M72.9 573.8h.9M95.2 570.7h.9M94.2 576.8h.9M88.1 581.9h.9M83.8 579.5h.9M91.0 578.3h.9M86.5 581.5h.9M84.3 579.3h.9M80.8 577.1h.9M92.3 576.9h.9M87.1 582.9h.9M86.6 578.3h.9M77.7 576.3h.9M91.1 578.3h.9M88.5 578.5h.9M95.9 573.8h.9M96.3 570.4h.9M93.5 578.5h.9M95.0 572.5h.9M93.7 576.5h.9M88.0 578.1h.9M90.8 579.8h.9M87.9 579.6h.9M93.8 576.4h.9M80.8 577.6h.9M78.8 577.1h.9M80.9 581.1h.9M93.5 574.2h.9M86.4 580.7h.9M93.3 578.2h.9M87.5 582.5h.9M95.3 572.9h.9M95.4 569.5h.9M85.7 578.5h.9M91.7 577.3h.9M87.1 579.0h.9M94.8 577.0h.9M88.3 581.6h.9M80.6 578.9h.9M93.6 573.4h.9M88.6 581.5h.9M96.5 570.5h.9M90.9 557.0h.9" stroke="#2f4acc" stroke-width=".9" fill="none"/>
<path d="M80.1 558.0h.9M80.1 558.1h.9M84.4 554.8h.9M83.8 554.9h.9M80.0 558.4h.9M82.9 556.8h.9M93.7 567.7h.9M85.6 556.5h.9M79.0 572.1h.9M82.7 556.6h.9M91.1 559.9h.9M93.3 562.2h.9M76.2 566.1h.9M90.2 559.1h.9M78.5 557.9h.9M78.6 558.7h.9M76.9 561.8h.9M92.2 561.5h.9M78.4 559.5h.9M79.2 559.0h.9M86.1 556.5h.9M76.6 571.3h.9M93.0 562.3h.9M74.3 568.0h.9M85.4 555.8h.9M87.0 555.4h.9M75.1 564.1h.9M81.6 556.1h.9M92.3 560.3h.9M74.9 560.9h.9M85.6 574.1h.9M92.1 560.0h.9M78.9 559.1h.9M86.3 555.7h.9M92.3 562.0h.9M84.8 555.0h.9M92.9 565.2h.9M77.5 559.3h.9M94.0 563.5h.9M77.0 561.4h.9M93.9 563.6h.9M93.8 563.8h.9M76.5 569.0h.9M75.9 561.6h.9M93.9 564.6h.9M79.4 557.9h.9M80.9 558.0h.9M79.1 557.6h.9M92.0 563.1h.9M92.5 562.6h.9M95.3 565.9h.9M90.0 558.8h.9M81.7 574.8h.9M77.6 559.5h.9M92.1 559.9h.9M89.4 556.9h.9M76.6 562.0h.9M90.6 558.9h.9M85.3 556.2h.9M91.7 565.9h.9M91.4 568.2h.9M79.4 556.8h.9M89.1 557.9h.9M89.1 558.1h.9M94.8 569.0h.9M93.5 562.9h.9M76.2 560.6h.9M84.9 556.4h.9M89.1 557.0h.9M79.9 573.1h.9M88.0 557.0h.9M76.6 559.2h.9M85.1 555.6h.9M88.2 557.7h.9M82.1 556.3h.9M93.3 561.7h.9M79.4 558.0h.9M88.7 574.6h.9M92.4 565.7h.9M76.5 569.8h.9M92.6 563.1h.9M89.8 558.8h.9M93.8 568.2h.9M92.2 563.0h.9M74.1 567.9h.9M82.1 556.6h.9M91.0 560.0h.9M88.3 557.9h.9M85.4 555.2h.9M77.1 573.0h.9M91.6 569.4h.9M79.6 573.2h.9M75.4 563.6h.9M94.8 568.9h.9M92.4 571.4h.9M94.9 568.6h.9M91.8 563.0h.9M76.8 572.5h.9M81.5 576.7h.9M88.8 576.4h.9M83.1 576.7h.9M74.6 564.4h.9M76.2 566.6h.9M91.7 560.5h.9M80.9 556.8h.9M75.6 566.4h.9M94.3 570.4h.9M81.5 575.4h.9M85.4 577.3h.9M81.6 575.3h.9M84.6 556.4h.9M82.9 573.9h.9M92.5 570.8h.9M81.2 575.1h.9M76.4 559.6h.9M77.7 560.6h.9M86.3 576.7h.9M76.3 563.5h.9M85.0 556.3h.9M92.0 574.0h.9M79.7 558.5h.9M80.8 576.0h.9M89.4 574.4h.9M85.1 576.9h.9M93.4 567.9h.9M74.5 562.5h.9M94.2 564.7h.9M92.7 568.1h.9M75.8 566.6h.9M74.1 569.8h.9M83.6 577.1h.9M75.9 572.5h.9M76.1 560.3h.9M93.1 564.2h.9M74.2 568.6h.9M93.4 565.3h.9M85.1 578.0h.9M91.5 571.3h.9M79.7 572.5h.9M92.2 565.9h.9M76.4 563.1h.9M92.6 569.5h.9M82.7 576.8h.9M74.8 569.1h.9M92.9 572.4h.9M93.1 566.2h.9M80.1 572.5h.9M82.2 555.6h.9M91.4 567.8h.9M77.7 572.5h.9M92.2 567.7h.9M75.6 564.9h.9M84.0 574.8h.9M84.3 555.0h.9M76.2 570.8h.9M93.4 561.8h.9M82.9 575.6h.9M91.4 567.9h.9M89.4 574.4h.9M94.2 566.1h.9M88.6 574.2h.9M78.8 559.2h.9M83.2 576.3h.9M88.5 557.4h.9M74.4 568.7h.9M92.2 563.8h.9M76.1 570.1h.9M92.8 565.6h.9M77.7 558.2h.9M75.8 567.6h.9M76.6 562.8h.9M75.8 569.9h.9M77.0 560.5h.9M75.3 571.9h.9M90.1 574.4h.9M93.9 568.5h.9M76.2 568.5h.9M80.1 557.6h.9M90.4 572.5h.9M94.7 566.4h.9M83.6 576.7h.9M82.5 573.7h.9M91.7 568.6h.9M78.9 574.3h.9M75.4 571.2h.9M86.8 575.3h.9M76.4 562.4h.9M77.7 574.1h.9M75.2 561.1h.9M78.7 571.9h.9M82.8 578.0h.9M92.2 562.6h.9M93.5 562.5h.9M74.7 570.1h.9M82.9 575.7h.9M80.4 557.5h.9M74.1 571.4h.9M77.1 561.0h.9M74.8 567.4h.9M76.9 559.7h.9M92.2 567.4h.9M84.2 577.7h.9M81.6 574.0h.9M89.7 573.8h.9M87.3 574.9h.9M82.0 556.4h.9M93.1 564.0h.9M74.8 572.4h.9M76.0 561.9h.9M81.4 577.9h.9M86.8 577.7h.9M76.4 560.5h.9M92.9 570.4h.9M82.2 575.4h.9M81.8 577.1h.9M89.0 574.0h.9M84.8 574.4h.9M79.8 558.3h.9M94.6 567.6h.9M74.4 569.4h.9M88.2 576.8h.9M74.5 565.6h.9M77.0 572.3h.9M74.5 571.8h.9M92.7 562.5h.9M82.4 576.7h.9M75.6 571.5h.9M80.4 574.4h.9M89.9 575.5h.9M74.7 572.4h.9M91.7 560.1h.9M86.4 577.7h.9M76.2 563.0h.9M78.3 571.5h.9M87.4 556.4h.9M76.8 572.6h.9M74.7 565.6h.9M87.3 574.9h.9M89.3 577.7h.9M92.2 568.7h.9M75.6 572.4h.9M81.2 574.1h.9M82.1 574.7h.9M82.5 575.2h.9M94.5 568.3h.9M93.4 564.8h.9M79.4 572.9h.9M84.0 575.4h.9M82.7 556.4h.9M85.0 554.9h.9M76.1 568.8h.9M91.4 569.6h.9M83.5 556.4h.9M78.7 573.6h.9M83.3 573.9h.9M77.1 571.3h.9M76.7 570.7h.9M86.4 576.8h.9M92.5 563.6h.9M92.8 561.2h.9M95.2 564.9h.9M92.2 570.1h.9M87.5 577.8h.9M91.5 560.6h.9M75.1 570.2h.9M92.4 566.5h.9M74.7 571.4h.9M94.0 566.3h.9M92.8 568.5h.9M95.1 565.3h.9M82.7 575.3h.9M76.7 572.6h.9M94.5 571.5h.9M92.0 564.8h.9M74.1 570.1h.9M76.2 569.3h.9M77.8 572.8h.9M92.9 569.2h.9M81.2 557.8h.9M89.0 557.7h.9M81.7 574.0h.9M75.9 562.5h.9M82.9 575.3h.9M78.1 572.2h.9M76.1 568.9h.9M87.2 556.8h.9M90.7 575.6h.9M91.6 572.1h.9M75.1 569.4h.9M83.7 555.8h.9M91.4 572.3h.9M82.1 578.3h.9M75.1 569.0h.9M79.6 573.8h.9M84.2 577.5h.9M88.1 577.0h.9M74.5 565.1h.9M75.3 562.1h.9M76.3 566.2h.9M82.9 555.4h.9M90.0 576.9h.9M77.9 572.3h.9M77.2 571.1h.9M84.1 578.2h.9M76.3 573.2h.9M75.8 568.7h.9M90.0 575.7h.9M91.9 571.0h.9M76.7 573.3h.9M78.2 559.2h.9M92.7 572.2h.9M88.6 576.9h.9M81.6 573.2h.9M93.1 564.3h.9M76.0 568.2h.9M86.9 575.4h.9M84.6 576.9h.9M90.8 572.7h.9M83.1 577.6h.9M91.5 572.9h.9M89.0 577.7h.9M93.1 570.7h.9M86.1 576.4h.9M90.8 572.9h.9M83.8 577.0h.9M87.4 575.2h.9M88.7 574.7h.9M78.8 572.1h.9M85.4 575.8h.9M89.5 576.3h.9M78.5 572.0h.9M93.2 570.6h.9M86.8 575.1h.9M79.7 573.4h.9M90.0 574.7h.9M90.0 575.6h.9M86.5 574.8h.9M84.7 575.2h.9M94.0 571.4h.9M89.9 575.2h.9M90.3 576.8h.9M88.8 574.0h.9M82.3 577.7h.9M84.9 578.0h.9M85.3 578.2h.9M92.4 572.1h.9M91.3 572.9h.9M87.7 578.0h.9M92.7 571.4h.9M83.8 575.8h.9M85.0 576.1h.9M88.2 577.7h.9M88.9 574.9h.9M93.0 569.5h.9M77.1 573.0h.9M91.3 572.7h.9M82.5 577.5h.9M90.2 575.5h.9M93.6 570.2h.9M91.4 570.8h.9M89.8 577.0h.9M94.4 571.4h.9M84.4 576.0h.9M81.9 573.9h.9M86.6 577.7h.9M82.8 577.6h.9M91.2 572.2h.9M85.0 574.7h.9M90.0 573.5h.9M82.1 573.6h.9M76.0 571.7h.9M82.5 573.8h.9M83.9 574.7h.9M91.0 575.6h.9M88.5 574.6h.9M86.0 576.3h.9M91.9 569.3h.9M92.1 571.1h.9M91.6 572.1h.9M85.8 574.4h.9M92.4 573.0h.9M89.8 573.8h.9M87.1 576.5h.9" stroke="#1c38c4" stroke-width=".9" fill="none"/>
<path d="M79.5 559.8h.9M81.2 559.4h.9M89.9 565.8h.9M85.9 557.1h.9M78.6 561.1h.9M89.0 560.5h.9M80.0 570.6h.9M82.7 557.7h.9M89.9 561.7h.9M79.8 571.3h.9M85.0 556.5h.9M87.3 558.8h.9M88.1 558.3h.9M77.8 563.8h.9M80.2 559.5h.9M77.0 562.8h.9M91.0 562.5h.9M76.8 563.7h.9M89.2 567.4h.9M86.5 574.0h.9M89.2 571.4h.9M91.0 566.2h.9M84.0 572.2h.9M78.0 568.1h.9M88.4 558.5h.9M78.2 567.8h.9M79.8 559.5h.9M90.1 563.3h.9M88.6 569.3h.9M82.1 557.9h.9M76.7 563.8h.9M89.1 567.9h.9M86.1 556.8h.9M90.4 565.2h.9M81.0 572.5h.9M79.0 569.7h.9M76.7 568.0h.9M88.0 570.9h.9M91.3 564.0h.9M77.1 567.0h.9M90.0 569.5h.9M89.8 567.8h.9M90.4 561.4h.9M86.7 558.5h.9M83.4 557.2h.9M77.4 566.5h.9M79.1 559.8h.9M77.8 562.6h.9M90.3 561.2h.9M80.9 560.2h.9M89.4 560.6h.9M82.3 558.4h.9M80.4 571.3h.9M91.3 568.3h.9M84.9 573.5h.9M86.7 557.2h.9M83.7 557.3h.9M90.0 564.9h.9M82.7 558.6h.9M80.1 560.2h.9M84.2 557.0h.9M77.3 566.0h.9M90.7 567.7h.9M90.2 569.7h.9M90.2 561.4h.9M90.7 565.5h.9M77.1 564.5h.9M77.2 563.6h.9M77.7 561.9h.9M89.2 559.6h.9M84.0 557.6h.9M84.8 557.5h.9M78.6 568.3h.9M76.6 563.7h.9M77.5 570.4h.9M90.5 567.9h.9M78.2 561.4h.9M82.5 558.9h.9M77.2 564.1h.9M85.5 557.7h.9M88.6 570.4h.9M77.2 566.7h.9M91.8 564.2h.9M78.0 566.2h.9M88.3 558.5h.9M80.5 559.1h.9M90.1 572.3h.9M91.5 563.0h.9M77.6 564.5h.9M81.7 571.5h.9M83.2 556.8h.9M88.7 572.1h.9M90.1 568.1h.9M80.0 560.1h.9M79.0 560.2h.9M90.1 569.2h.9M77.5 566.7h.9M90.1 562.8h.9M88.2 572.5h.9M88.1 571.8h.9M85.4 573.0h.9M87.1 572.8h.9M77.9 567.6h.9M90.5 566.4h.9M77.1 569.4h.9M77.7 565.0h.9M88.4 570.4h.9M87.7 571.5h.9M78.1 570.1h.9M77.2 564.7h.9M79.8 570.8h.9M88.3 572.3h.9M78.4 568.0h.9M79.5 570.9h.9M90.1 566.0h.9M90.1 569.9h.9M78.0 565.1h.9M80.7 572.0h.9M84.3 572.9h.9M84.8 572.2h.9M90.6 563.2h.9M90.5 561.5h.9M91.2 561.7h.9M90.3 565.1h.9M79.8 561.1h.9M91.3 565.6h.9M91.0 561.3h.9M90.3 563.7h.9M87.8 572.2h.9M90.5 570.6h.9M89.0 559.1h.9M79.9 571.4h.9M84.4 573.6h.9M85.5 557.6h.9M88.3 558.5h.9M88.9 572.0h.9M89.2 572.4h.9M78.8 560.7h.9M77.2 564.8h.9M90.3 565.2h.9M76.5 563.7h.9M80.3 559.7h.9M90.0 560.9h.9M87.4 573.4h.9M77.2 568.4h.9M88.1 571.7h.9M87.5 558.3h.9M90.3 566.2h.9M83.5 572.4h.9M89.6 559.8h.9M89.8 561.8h.9M76.4 565.9h.9M85.9 558.0h.9M77.0 565.3h.9M80.0 560.0h.9M82.6 557.3h.9M90.4 571.6h.9M77.9 561.6h.9M77.6 561.8h.9M84.7 572.0h.9M77.6 569.9h.9M77.5 570.2h.9M83.0 557.2h.9M85.2 557.0h.9M78.8 561.1h.9M77.5 561.8h.9M91.0 564.5h.9M89.8 562.2h.9M90.1 569.7h.9M91.1 567.7h.9M87.5 572.8h.9M77.7 561.0h.9M78.1 560.6h.9M80.7 559.9h.9M77.7 569.1h.9M87.8 558.1h.9M84.5 557.8h.9M79.5 561.0h.9M77.9 570.5h.9M77.7 566.6h.9M79.4 570.9h.9M76.6 564.4h.9M77.7 565.2h.9M77.5 567.9h.9M83.7 572.3h.9M79.7 561.7h.9M82.1 558.3h.9M78.3 566.3h.9M88.5 572.1h.9M77.0 564.6h.9M90.8 561.9h.9M76.8 565.2h.9M78.8 560.9h.9M81.6 572.3h.9M78.2 561.6h.9M76.7 563.8h.9M89.6 569.1h.9M89.7 567.2h.9M79.9 559.1h.9M78.2 562.0h.9M84.7 573.6h.9M89.0 572.1h.9M83.2 557.9h.9M89.1 560.1h.9M77.6 562.9h.9M84.8 573.2h.9M78.6 560.3h.9M88.4 571.7h.9M82.3 571.8h.9M79.4 561.0h.9M77.0 567.8h.9M90.6 565.7h.9M77.4 561.4h.9M80.8 559.5h.9M78.2 567.7h.9M78.2 567.0h.9M89.0 568.6h.9M77.8 566.4h.9M89.6 566.5h.9M89.7 561.9h.9M77.1 565.9h.9M78.4 568.6h.9M79.7 559.6h.9M83.1 556.9h.9M81.5 572.6h.9M89.6 568.4h.9M90.7 568.8h.9M76.4 564.8h.9M87.9 571.8h.9M86.7 573.5h.9M91.6 566.1h.9M90.1 567.4h.9M89.2 567.6h.9M77.9 566.7h.9M78.3 570.8h.9M78.2 568.6h.9M77.3 569.2h.9M78.4 570.5h.9M86.3 572.9h.9M87.9 570.7h.9M91.1 563.9h.9M86.8 573.2h.9M89.6 566.8h.9M84.3 557.7h.9M86.5 572.1h.9M90.6 571.0h.9M87.4 557.5h.9M78.5 570.6h.9M89.7 571.7h.9M86.3 573.4h.9M86.9 571.9h.9M85.6 573.7h.9M90.5 569.5h.9M87.2 571.7h.9M82.2 572.6h.9M85.7 572.7h.9M90.0 570.7h.9M87.0 572.9h.9M87.3 572.9h.9M90.3 569.8h.9M86.7 573.7h.9M90.8 569.2h.9M86.3 572.1h.9M89.8 571.6h.9M90.0 570.4h.9M79.4 569.9h.9M88.8 569.2h.9M88.8 573.8h.9M87.2 572.2h.9M82.3 572.2h.9M81.4 572.5h.9M88.8 572.3h.9M79.0 569.4h.9M89.2 570.1h.9M88.8 572.2h.9M87.2 571.7h.9M89.4 571.9h.9M90.2 570.9h.9M87.0 571.5h.9M89.1 570.4h.9M79.0 569.1h.9M89.8 572.3h.9M86.2 572.6h.9M86.9 574.0h.9M87.5 573.8h.9M90.4 561.3h.9" stroke="#1a5ad0" stroke-width=".9" fill="none"/>
<path d="M89.2 566.8h.9M81.7 559.8h.9M88.8 565.2h.9M78.4 565.3h.9M84.7 559.0h.9M79.7 565.6h.9M89.1 563.6h.9M87.3 567.4h.9M80.2 564.0h.9M87.0 559.8h.9M81.7 560.6h.9M85.7 559.4h.9M86.5 568.4h.9M82.7 559.3h.9M88.6 564.0h.9M89.4 563.3h.9M87.9 568.0h.9M86.8 559.9h.9M87.7 569.0h.9M88.2 565.0h.9M81.3 560.9h.9M79.7 563.0h.9M84.4 558.8h.9M81.7 561.0h.9M79.0 563.5h.9M82.0 559.6h.9M87.2 566.6h.9M88.0 560.1h.9M86.2 571.5h.9M82.4 560.3h.9M79.1 565.1h.9M86.1 558.3h.9M83.6 571.4h.9M78.7 565.2h.9M87.0 569.7h.9M88.3 565.4h.9M89.4 561.5h.9M85.0 558.8h.9M85.5 558.2h.9M80.3 569.6h.9M88.4 560.6h.9M80.4 569.6h.9M88.6 560.3h.9M80.8 562.4h.9M82.2 560.1h.9M86.5 559.1h.9M89.1 562.1h.9M87.8 567.1h.9M78.3 566.2h.9M79.4 569.4h.9M80.2 569.6h.9M82.2 560.2h.9M79.4 565.9h.9M87.7 559.2h.9M81.3 561.8h.9M88.0 565.4h.9M86.8 569.5h.9M89.4 563.2h.9M88.4 561.1h.9M88.4 564.5h.9M84.2 558.4h.9M88.5 565.0h.9M83.4 559.6h.9M79.7 562.0h.9M84.1 571.3h.9M87.9 566.8h.9M86.2 559.3h.9M87.8 560.7h.9M88.7 561.1h.9M80.7 562.7h.9M79.4 569.0h.9M89.6 565.3h.9M88.8 565.5h.9M88.1 560.1h.9M87.9 568.5h.9M87.5 560.2h.9M83.1 558.8h.9M80.8 570.1h.9M88.3 560.9h.9M89.2 560.9h.9M81.4 560.5h.9M84.9 558.7h.9M88.3 567.5h.9M79.3 567.9h.9M87.7 559.7h.9M80.3 561.8h.9M80.5 568.7h.9M79.4 569.4h.9M84.1 571.2h.9M84.7 570.8h.9M88.0 568.9h.9M79.0 563.7h.9M87.6 566.0h.9M85.2 559.1h.9M88.6 561.6h.9M84.5 571.9h.9M87.2 568.9h.9M83.6 571.6h.9M88.3 564.8h.9M79.7 563.9h.9M85.7 570.7h.9M88.8 564.1h.9M86.8 568.4h.9M88.2 561.4h.9M88.9 567.2h.9M80.0 569.6h.9M81.8 561.0h.9M79.6 564.0h.9M85.4 570.9h.9M80.8 562.4h.9M78.2 565.6h.9M87.6 569.4h.9M81.0 570.8h.9M82.7 570.7h.9M86.0 558.9h.9M89.5 564.9h.9M80.0 563.7h.9M80.6 561.4h.9M88.5 565.6h.9M86.7 559.5h.9M88.5 564.2h.9M87.3 560.0h.9M79.5 566.9h.9M82.5 570.9h.9M86.7 571.3h.9M79.7 564.8h.9M89.1 565.3h.9M89.7 565.3h.9M79.6 566.7h.9M79.9 561.8h.9M83.6 571.1h.9M84.8 559.3h.9M79.1 563.8h.9M84.0 558.4h.9M84.9 559.4h.9M87.7 569.5h.9M88.7 568.0h.9M81.1 570.1h.9M80.4 569.7h.9M88.9 562.9h.9M79.6 568.4h.9M85.0 559.4h.9M84.6 558.6h.9M81.1 570.8h.9M87.7 567.8h.9M84.2 558.6h.9M87.4 569.3h.9M82.2 570.9h.9M88.3 559.9h.9M80.0 567.1h.9M84.6 558.2h.9M79.9 567.4h.9M79.0 565.5h.9M82.1 559.6h.9M85.5 570.3h.9M88.9 567.1h.9M85.5 558.4h.9M83.3 571.7h.9M89.6 563.1h.9M88.5 566.4h.9M87.7 567.1h.9M88.0 559.6h.9M81.0 561.0h.9M82.3 560.6h.9M84.4 571.5h.9M86.8 568.9h.9M89.4 561.4h.9M88.5 564.8h.9M79.7 562.8h.9M88.4 564.9h.9M81.9 570.8h.9M89.8 565.1h.9M86.2 569.0h.9M89.1 565.5h.9M79.1 565.0h.9M88.2 561.5h.9M87.5 566.5h.9M86.7 569.1h.9M82.0 560.7h.9M81.5 571.0h.9M89.4 566.5h.9M86.0 558.9h.9M78.6 564.9h.9M79.6 569.4h.9M87.2 568.7h.9M89.7 565.1h.9M87.1 569.1h.9M79.9 567.5h.9M83.9 571.3h.9M83.9 558.5h.9M87.1 559.7h.9M87.7 567.4h.9M80.9 569.7h.9M89.5 566.7h.9M81.1 569.8h.9M78.8 564.8h.9M82.5 570.5h.9M88.9 561.8h.9M79.5 564.7h.9M89.8 564.1h.9M82.4 571.2h.9M81.0 560.8h.9M84.0 571.2h.9M84.3 571.1h.9M85.5 570.2h.9M87.9 568.4h.9M84.1 558.7h.9M86.6 569.4h.9M81.7 560.7h.9M85.7 558.4h.9M83.1 570.8h.9M88.4 559.9h.9M78.6 565.8h.9M79.3 562.9h.9M89.9 563.8h.9M81.4 569.8h.9M87.0 571.4h.9M87.0 569.6h.9M82.6 571.2h.9M84.3 571.2h.9M84.9 570.8h.9M83.5 570.9h.9M86.2 570.5h.9M83.8 571.5h.9M79.9 570.0h.9M82.3 570.9h.9M87.2 570.0h.9M87.1 569.5h.9M87.4 569.2h.9M86.5 570.6h.9M84.7 571.3h.9M86.6 569.6h.9" stroke="#188ccc" stroke-width=".9" fill="none"/>
<path d="M81.1 564.2h.9M87.4 561.0h.9M81.2 565.9h.9M85.4 569.8h.9M88.0 561.9h.9M88.0 562.4h.9M83.3 561.3h.9M86.2 560.1h.9M80.5 565.7h.9M86.6 560.8h.9M84.4 560.2h.9M82.3 569.5h.9M81.5 562.0h.9M85.0 560.3h.9M86.7 565.6h.9M88.1 561.7h.9M87.4 566.1h.9M80.4 563.7h.9M86.6 567.2h.9M84.6 560.2h.9M87.1 564.3h.9M86.8 561.8h.9M87.3 561.0h.9M82.9 560.6h.9M81.9 561.8h.9M85.4 559.4h.9M83.5 560.1h.9M88.1 561.9h.9M82.3 570.0h.9M87.3 565.2h.9M81.6 568.0h.9M88.2 562.0h.9M86.9 564.7h.9M85.5 560.5h.9M85.0 569.1h.9M84.0 569.5h.9M85.4 567.2h.9M80.1 566.1h.9M87.8 563.2h.9M87.0 563.1h.9M81.6 569.5h.9M86.4 565.1h.9M80.5 567.8h.9M86.3 566.6h.9M88.0 562.8h.9M84.2 570.5h.9M85.1 568.8h.9M82.5 561.9h.9M80.4 567.8h.9M80.6 563.7h.9M87.6 563.9h.9M85.3 568.5h.9M88.3 563.6h.9M87.8 562.9h.9M85.4 559.5h.9M81.0 566.9h.9M86.5 566.5h.9M80.2 567.0h.9M81.1 563.8h.9M87.2 562.4h.9M82.7 561.2h.9M81.2 566.8h.9M83.0 560.3h.9M81.2 566.3h.9M87.2 563.1h.9M86.7 564.0h.9M86.1 565.9h.9M85.2 559.4h.9M81.1 567.3h.9M80.8 564.3h.9M80.8 564.6h.9M81.3 566.9h.9M85.9 566.9h.9M86.1 561.0h.9M86.3 568.0h.9M85.8 560.9h.9M83.4 561.0h.9M88.0 564.1h.9M86.3 565.2h.9M88.0 561.8h.9M83.5 560.3h.9M86.4 560.0h.9M81.1 566.5h.9M80.9 568.6h.9M86.1 566.4h.9M80.2 564.9h.9M80.3 567.6h.9M87.3 566.2h.9M82.7 561.3h.9M87.1 565.4h.9M86.0 567.2h.9M86.8 565.1h.9M85.9 565.7h.9M85.2 569.2h.9M80.9 565.9h.9M87.7 563.8h.9M83.8 560.9h.9M84.9 569.6h.9M82.0 561.7h.9M80.8 568.0h.9M83.5 570.6h.9M80.4 564.4h.9M83.6 569.5h.9M80.3 565.6h.9M87.2 561.4h.9M80.8 567.1h.9M80.6 568.4h.9M80.5 568.2h.9M81.2 567.8h.9M87.2 560.8h.9M85.9 567.0h.9M87.6 563.6h.9M85.2 568.6h.9M86.1 566.5h.9M84.9 568.9h.9M87.6 560.9h.9M81.2 563.9h.9M80.7 568.5h.9M87.7 564.5h.9M80.3 565.4h.9M80.6 567.5h.9M85.6 569.3h.9M87.6 562.2h.9M84.2 570.5h.9M83.2 561.0h.9M87.1 566.2h.9M81.5 569.4h.9M85.9 568.4h.9M81.1 568.1h.9M85.0 569.3h.9M81.1 568.6h.9M87.3 561.6h.9M85.6 559.8h.9M84.6 568.6h.9M80.7 568.2h.9M80.4 567.9h.9M80.3 568.1h.9M82.8 570.5h.9M81.0 563.0h.9M86.1 559.8h.9M86.9 564.7h.9M87.2 563.9h.9M84.3 559.8h.9M83.5 570.2h.9M88.1 562.1h.9M83.3 570.1h.9M84.0 569.8h.9M81.2 563.3h.9M81.2 566.7h.9M87.1 562.2h.9M80.3 564.2h.9M86.6 566.8h.9M86.1 559.9h.9M81.3 562.9h.9M81.8 562.4h.9M82.1 568.9h.9M86.0 559.8h.9M82.5 570.0h.9M80.5 565.4h.9M80.4 566.0h.9M81.4 568.1h.9M80.4 564.7h.9M86.4 566.3h.9M88.2 564.3h.9M84.1 560.3h.9M80.8 564.6h.9M82.3 561.1h.9M81.5 563.3h.9M81.3 563.7h.9M80.4 564.0h.9M83.6 569.7h.9M80.8 568.5h.9M83.4 570.3h.9M84.0 570.0h.9M83.2 569.5h.9M85.6 569.9h.9M82.2 569.8h.9M83.9 570.0h.9M83.2 569.5h.9M85.4 569.0h.9M84.1 570.0h.9" stroke="#18b4ac" stroke-width=".9" fill="none"/>
<path d="M82.9 567.5h.9M85.8 562.2h.9M85.9 564.2h.9M82.6 568.1h.9M84.4 566.0h.9M83.5 561.3h.9M82.1 563.1h.9M84.4 560.9h.9M84.0 567.0h.9M84.5 567.4h.9M82.0 567.1h.9M84.3 566.2h.9M84.4 568.7h.9M83.8 561.1h.9M83.0 566.3h.9M84.5 566.7h.9M83.4 567.8h.9M81.9 564.6h.9M84.6 567.6h.9M84.0 561.5h.9M85.0 566.5h.9M85.5 561.6h.9M83.0 568.6h.9M84.1 567.3h.9M86.4 562.1h.9M85.1 561.4h.9M84.9 562.0h.9M83.1 566.9h.9M82.2 566.7h.9M81.8 563.6h.9M86.0 563.5h.9M85.6 561.5h.9M85.6 562.7h.9M84.0 567.6h.9M85.9 563.6h.9M81.5 565.1h.9M86.0 562.5h.9M82.6 567.1h.9M84.7 566.5h.9M84.2 561.1h.9M83.0 566.6h.9M83.5 568.4h.9M86.0 561.2h.9M82.2 567.8h.9M82.0 567.3h.9M84.6 565.9h.9M84.7 568.1h.9M82.7 567.7h.9M85.8 563.1h.9M84.4 561.1h.9M82.0 562.9h.9M82.1 565.5h.9M83.7 568.1h.9M84.5 561.3h.9M83.1 569.3h.9M83.1 568.3h.9M81.3 565.0h.9M83.8 561.9h.9M81.9 567.2h.9M84.1 568.4h.9M83.3 567.2h.9M83.9 568.4h.9M85.1 565.5h.9M81.5 564.3h.9M84.1 567.3h.9M83.6 566.9h.9M84.5 568.1h.9M86.2 563.0h.9M83.7 567.8h.9M83.7 566.8h.9M83.5 561.6h.9M82.8 568.2h.9M83.0 568.6h.9M86.2 562.9h.9M84.3 566.8h.9M82.0 564.2h.9M82.1 567.1h.9M84.6 561.6h.9M85.9 564.8h.9M83.3 561.9h.9M85.5 560.9h.9M83.6 569.1h.9M83.8 567.5h.9M84.2 568.1h.9M81.2 564.4h.9M86.4 563.4h.9M85.9 562.4h.9M86.1 561.5h.9M81.8 564.4h.9M84.9 566.7h.9M81.9 563.4h.9M81.5 566.9h.9M86.4 564.6h.9M82.5 568.6h.9M84.0 567.2h.9M82.2 562.7h.9M86.2 564.6h.9M82.2 563.2h.9M82.0 564.1h.9M84.2 566.2h.9M85.5 565.2h.9M82.4 562.2h.9M82.2 567.1h.9M84.1 569.4h.9M83.7 569.4h.9" stroke="#28cc78" stroke-width=".9" fill="none"/>
<path d="M83.8 563.6h.9M83.3 562.8h.9M84.1 564.9h.9M83.3 565.5h.9M84.1 565.3h.9M84.6 564.7h.9M83.5 563.1h.9M84.7 563.0h.9M83.7 564.7h.9M84.5 564.8h.9M84.4 563.2h.9M83.2 563.1h.9M84.0 565.3h.9M83.5 564.0h.9M84.0 563.4h.9M83.7 564.0h.9M84.3 565.9h.9M83.3 565.0h.9M83.7 563.3h.9M84.4 562.9h.9M85.6 563.4h.9M84.3 565.3h.9M82.4 564.3h.9M84.1 565.7h.9M83.4 562.3h.9M84.1 563.4h.9M85.6 563.2h.9M83.9 562.2h.9M82.8 564.9h.9M83.7 565.3h.9M83.3 565.1h.9M84.9 563.8h.9M83.1 563.9h.9M82.3 564.5h.9M83.6 565.4h.9M83.6 565.3h.9M84.5 564.1h.9M84.1 562.8h.9M84.4 563.6h.9M84.3 564.2h.9M84.7 563.8h.9M84.2 563.5h.9M82.4 564.5h.9M84.4 563.2h.9M85.3 562.4h.9M84.3 564.6h.9M83.5 563.4h.9M83.3 565.7h.9M82.6 563.2h.9M85.2 562.5h.9M85.5 562.9h.9M82.5 565.3h.9M83.5 565.6h.9M85.2 563.7h.9M84.9 562.4h.9M83.1 564.4h.9M82.4 564.5h.9M84.9 563.7h.9M84.9 563.7h.9M83.3 565.8h.9M83.4 564.1h.9M85.1 562.6h.9M83.4 564.6h.9M84.4 563.1h.9M82.4 564.0h.9M82.7 563.4h.9M83.6 563.9h.9M84.1 564.6h.9M83.6 566.0h.9M84.3 562.2h.9M84.5 563.8h.9M84.9 562.3h.9M84.9 564.8h.9M84.2 562.5h.9M84.4 563.9h.9M82.6 564.1h.9M85.0 563.5h.9" stroke="#3ede50" stroke-width=".9" fill="none"/>
<rect x="79.8" y="592.0" width="1.2" height="0.9" fill="#e04030"/>
<rect x="114.6" y="592.0" width="1.2" height="0.9" fill="#3050d0"/>
<rect x="68.1" y="592.0" width="1.2" height="0.9" fill="#e04030"/>
<rect x="104.9" y="592.0" width="1.2" height="0.9" fill="#e04030"/>
<rect x="98.7" y="592.0" width="1.2" height="0.9" fill="#e0a020"/>
<rect x="90.8" y="592.0" width="1.2" height="0.9" fill="#e0a020"/>
<rect x="68.9" y="592.0" width="1.2" height="0.9" fill="#e04030"/>
<rect x="86.7" y="592.0" width="1.2" height="0.9" fill="#40c040"/>
<rect x="73.3" y="592.0" width="1.2" height="0.9" fill="#e04030"/>
<rect x="86.8" y="592.0" width="1.2" height="0.9" fill="#40c040"/>
<rect x="115.5" y="592.0" width="1.2" height="0.9" fill="#3050d0"/>
<rect x="112.1" y="592.0" width="1.2" height="0.9" fill="#e0a020"/>
<rect x="62.2" y="592.0" width="1.2" height="0.9" fill="#e04030"/>
<rect x="56.3" y="592.0" width="1.2" height="0.9" fill="#20a0c0"/>
<rect x="87.4" y="592.0" width="1.2" height="0.9" fill="#3050d0"/>
<rect x="86.5" y="592.0" width="1.2" height="0.9" fill="#3050d0"/>
<rect x="60.7" y="592.0" width="1.2" height="0.9" fill="#40c040"/>
<rect x="86.5" y="592.0" width="1.2" height="0.9" fill="#20a0c0"/>
<rect x="81.5" y="592.0" width="1.2" height="0.9" fill="#3050d0"/>
<rect x="99.6" y="592.0" width="1.2" height="0.9" fill="#20a0c0"/>
<rect x="62.7" y="592.0" width="1.2" height="0.9" fill="#3050d0"/>
<rect x="58.5" y="592.0" width="1.2" height="0.9" fill="#3050d0"/>
<rect x="71.6" y="592.0" width="1.2" height="0.9" fill="#e0a020"/>
<rect x="81.4" y="592.0" width="1.2" height="0.9" fill="#40c040"/>
<rect x="68.2" y="592.0" width="1.2" height="0.9" fill="#e0a020"/>
<rect x="57.9" y="592.0" width="1.2" height="0.9" fill="#3050d0"/>
<rect x="118.1" y="592.0" width="1.2" height="0.9" fill="#e0a020"/>
<rect x="75.0" y="592.0" width="1.2" height="0.9" fill="#e04030"/>
<rect x="95.8" y="592.0" width="1.2" height="0.9" fill="#20a0c0"/>
<rect x="112.6" y="592.0" width="1.2" height="0.9" fill="#e0a020"/>
<rect x="42.7" y="494" width="105.5" height="99.3" fill="none" stroke="#3a3a3a" stroke-width="0.9" />
<line x1="98.2" y1="494" x2="98.2" y2="593.3" stroke="#222" stroke-width="1.1" />
<line x1="42.7" y1="549.3" x2="148.2" y2="549.3" stroke="#222" stroke-width="1.1" />
<text x="45.5" y="503.3" font-size="4.6" font-weight="normal" text-anchor="start" fill="#333" >Q1</text>
<text x="45.5" y="510.4" font-size="4.6" font-weight="normal" text-anchor="start" fill="#333" >0.33</text>
<text x="139.4" y="503.3" font-size="4.6" font-weight="normal" text-anchor="end" fill="#333" >Q2</text>
<text x="139.4" y="510.4" font-size="4.6" font-weight="normal" text-anchor="end" fill="#333" >2.94</text>
<text x="45.5" y="581.1" font-size="4.6" font-weight="normal" text-anchor="start" fill="#333" >Q4</text>
<text x="45.5" y="588.3" font-size="4.6" font-weight="normal" text-anchor="start" fill="#333" >92.9</text>
<text x="139.4" y="581.1" font-size="4.6" font-weight="normal" text-anchor="end" fill="#333" >Q3</text>
<text x="139.4" y="588.3" font-size="4.6" font-weight="normal" text-anchor="end" fill="#333" >3.86</text>
<line x1="41.1" y1="591.8" x2="42.7" y2="591.8" stroke="#444" stroke-width="0.6" />
<text x="40.1" y="593.4" font-size="3.9" text-anchor="end" fill="#444">10<tspan font-size="2.9" dy="-1.6">0</tspan></text>
<line x1="41.1" y1="574" x2="42.7" y2="574" stroke="#444" stroke-width="0.6" />
<text x="40.1" y="575.6" font-size="3.9" text-anchor="end" fill="#444">10<tspan font-size="2.9" dy="-1.6">1</tspan></text>
<line x1="41.1" y1="556.2" x2="42.7" y2="556.2" stroke="#444" stroke-width="0.6" />
<text x="40.1" y="557.8" font-size="3.9" text-anchor="end" fill="#444">10<tspan font-size="2.9" dy="-1.6">2</tspan></text>
<line x1="41.1" y1="538.4" x2="42.7" y2="538.4" stroke="#444" stroke-width="0.6" />
<text x="40.1" y="540.0" font-size="3.9" text-anchor="end" fill="#444">10<tspan font-size="2.9" dy="-1.6">3</tspan></text>
<line x1="41.1" y1="520.6" x2="42.7" y2="520.6" stroke="#444" stroke-width="0.6" />
<text x="40.1" y="522.2" font-size="3.9" text-anchor="end" fill="#444">10<tspan font-size="2.9" dy="-1.6">4</tspan></text>
<line x1="41.1" y1="502.8" x2="42.7" y2="502.8" stroke="#444" stroke-width="0.6" />
<text x="40.1" y="504.4" font-size="3.9" text-anchor="end" fill="#444">10<tspan font-size="2.9" dy="-1.6">5</tspan></text>
<line x1="46.5" y1="593.3" x2="46.5" y2="594.9" stroke="#444" stroke-width="0.6" />
<text x="45.5" y="604.8" font-size="3.8" text-anchor="middle" fill="#444">10<tspan font-size="2.8" dy="-1.4">0</tspan></text>
<line x1="62.5" y1="593.3" x2="62.5" y2="594.9" stroke="#444" stroke-width="0.6" />
<text x="61.5" y="604.8" font-size="3.8" text-anchor="middle" fill="#444">10<tspan font-size="2.8" dy="-1.4">1</tspan></text>
<line x1="82.3" y1="593.3" x2="82.3" y2="594.9" stroke="#444" stroke-width="0.6" />
<text x="81.3" y="604.8" font-size="3.8" text-anchor="middle" fill="#444">10<tspan font-size="2.8" dy="-1.4">2</tspan></text>
<line x1="101.8" y1="593.3" x2="101.8" y2="594.9" stroke="#444" stroke-width="0.6" />
<text x="100.8" y="604.8" font-size="3.8" text-anchor="middle" fill="#444">10<tspan font-size="2.8" dy="-1.4">3</tspan></text>
<line x1="121.6" y1="593.3" x2="121.6" y2="594.9" stroke="#444" stroke-width="0.6" />
<text x="120.6" y="604.8" font-size="3.8" text-anchor="middle" fill="#444">10<tspan font-size="2.8" dy="-1.4">4</tspan></text>
<line x1="141" y1="593.3" x2="141" y2="594.9" stroke="#444" stroke-width="0.6" />
<text x="140.0" y="604.8" font-size="3.8" text-anchor="middle" fill="#444">10<tspan font-size="2.8" dy="-1.4">5</tspan></text>
<rect x="164.7" y="494" width="104.8" height="98.8" fill="#fff" stroke="none" stroke-width="1" />
<path d="M189.4 557.6h.9M195.5 550.0h.9M191.7 582.4h.9M196.2 552.0h.9M190.7 545.6h.9M227.5 564.0h.9M191.8 541.1h.9M227.9 572.3h.9M184.0 563.5h.9M228.6 558.2h.9M223.8 554.0h.9M210.6 588.1h.9M224.8 573.8h.9M181.2 564.2h.9M214.1 584.9h.9M197.2 545.7h.9M229.1 562.8h.9M198.7 547.3h.9M225.7 579.6h.9M220.0 580.9h.9M189.7 559.6h.9M185.3 565.1h.9M200.3 550.2h.9M201.2 552.5h.9M201.0 542.1h.9M227.0 558.6h.9M181.7 576.5h.9M224.3 552.8h.9M190.4 558.5h.9M199.1 587.7h.9M234.1 556.4h.9M218.0 550.1h.9M201.3 550.6h.9M186.6 566.4h.9M200.9 544.1h.9M197.4 583.3h.9M230.5 574.4h.9M192.1 577.7h.9M185.3 561.5h.9M190.5 556.3h.9M230.5 577.1h.9M195.2 548.6h.9M232.4 570.7h.9M183.8 566.2h.9M222.8 544.6h.9M199.0 545.7h.9M231.8 555.5h.9M236.2 552.8h.9M221.0 545.5h.9M187.1 553.6h.9M204.9 544.4h.9M224.6 575.0h.9M235.1 572.6h.9M189.1 567.4h.9M196.9 583.5h.9M227.6 562.5h.9M193.3 576.2h.9M210.0 548.0h.9M224.5 577.2h.9M229.3 570.8h.9M186.0 565.5h.9M209.6 547.0h.9M187.6 552.3h.9M192.1 586.5h.9M195.6 551.1h.9M221.2 583.9h.9M186.2 573.3h.9M231.9 561.8h.9M188.0 559.8h.9M230.0 566.2h.9M185.7 556.2h.9M189.4 553.0h.9M208.6 541.1h.9M183.3 572.7h.9M223.0 580.7h.9M233.6 566.1h.9M230.5 572.8h.9M240.1 564.9h.9M192.0 579.5h.9M224.6 561.7h.9M214.6 587.5h.9M212.2 547.5h.9M194.1 552.1h.9M233.5 569.5h.9M229.1 579.2h.9M181.7 550.6h.9M212.6 547.7h.9M229.0 564.4h.9M234.1 583.9h.9M226.7 570.2h.9M186.5 562.0h.9M185.9 587.9h.9M185.5 589.8h.9M191.6 573.2h.9M196.6 583.4h.9M225.9 552.6h.9M186.4 544.4h.9M216.2 544.3h.9M186.9 562.3h.9M185.3 573.2h.9M216.9 591.2h.9M186.4 576.9h.9M188.0 576.7h.9M237.3 584.2h.9M189.6 583.3h.9M236.4 566.0h.9M181.9 563.1h.9M183.6 563.3h.9M187.0 565.3h.9M183.5 576.7h.9M186.2 561.5h.9M218.0 584.9h.9M208.9 586.5h.9M201.1 588.0h.9M235.7 566.6h.9M191.0 580.5h.9M213.4 549.0h.9M188.0 577.6h.9M206.3 549.5h.9M198.8 586.3h.9M225.3 579.9h.9M222.9 590.8h.9M218.9 583.0h.9M183.2 560.8h.9M175.1 568.0h.9M184.2 559.6h.9M190.4 561.4h.9M203.4 545.1h.9M175.5 565.5h.9M201.4 585.1h.9M186.1 573.5h.9M218.0 589.9h.9M185.5 591.1h.9M235.5 564.9h.9M184.2 563.3h.9M172.9 575.9h.9M168.2 557.7h.9M215.1 588.6h.9M194.7 580.7h.9M228.2 582.8h.9M195.6 549.4h.9M181.8 562.8h.9M188.6 545.5h.9M229.8 576.3h.9M200.0 587.0h.9M168.4 570.5h.9M198.4 580.3h.9M183.1 571.7h.9M166.2 573.2h.9M231.6 569.5h.9M214.7 587.4h.9M192.2 536.9h.9M181.3 585.3h.9M180.0 547.5h.9M183.7 570.2h.9M218.2 549.5h.9M194.3 553.0h.9M231.5 559.3h.9M221.3 584.9h.9M190.1 579.0h.9M175.7 554.1h.9M190.2 580.7h.9M179.3 557.0h.9M197.4 580.5h.9M190.3 556.7h.9M208.8 588.8h.9M200.6 547.5h.9M187.3 581.9h.9M207.5 537.6h.9M180.0 579.3h.9M192.4 577.7h.9M232.1 575.9h.9M199.2 585.3h.9M180.4 582.4h.9M205.4 587.7h.9M192.1 582.6h.9M206.3 587.1h.9M206.0 590.9h.9M206.1 588.1h.9M217.9 584.8h.9M202.5 586.9h.9M201.6 587.2h.9M198.0 586.3h.9M216.9 589.1h.9M220.2 585.0h.9M219.0 590.2h.9M218.7 584.7h.9M219.4 587.8h.9M217.3 590.0h.9M224.2 535.9h.9M258.8 518.3h.9M258.0 528.7h.9M251.9 509.1h.9M245.7 505.0h.9M246.4 521.0h.9M247.3 522.4h.9M248.0 528.1h.9M262.8 520.0h.9M262.1 524.3h.9M240.6 515.4h.9M255.2 514.9h.9M255.6 528.6h.9M243.3 521.1h.9M252.1 527.2h.9M254.2 526.0h.9M243.8 530.0h.9M238.1 532.2h.9M248.5 517.8h.9M239.5 523.6h.9M232.9 536.2h.9M256.1 518.0h.9M247.1 538.5h.9M251.4 518.5h.9M230.0 513.9h.9M258.0 528.3h.9M245.0 521.1h.9M262.0 519.0h.9M244.6 535.9h.9M260.6 518.7h.9M265.3 534.2h.9M235.5 539.4h.9M235.6 531.1h.9M238.3 512.8h.9M255.2 529.1h.9M247.3 527.4h.9M247.1 524.1h.9M239.0 530.3h.9M248.2 524.2h.9M235.2 523.7h.9M239.7 535.6h.9M240.0 522.7h.9M248.1 531.9h.9M251.9 526.1h.9M266.2 525.9h.9M250.7 546.3h.9M240.5 533.2h.9M251.8 516.2h.9M242.8 532.2h.9M235.8 524.6h.9M255.9 524.2h.9M250.3 521.0h.9M242.7 521.4h.9M245.0 530.7h.9M248.6 540.7h.9M252.7 528.1h.9M267.0 525.2h.9M241.2 527.1h.9M238.8 529.8h.9M259.5 530.7h.9M252.1 534.8h.9M257.2 527.6h.9M250.9 529.6h.9M241.5 524.9h.9M257.0 524.8h.9M246.4 528.2h.9M251.3 544.9h.9M241.2 527.1h.9M265.1 526.3h.9M251.2 515.2h.9M256.3 532.5h.9M255.0 524.7h.9M251.2 525.5h.9M255.2 526.0h.9M254.7 516.1h.9M245.3 504.8h.9M246.8 531.8h.9M245.9 543.6h.9M239.7 523.5h.9M240.3 522.3h.9M244.1 515.1h.9M239.8 541.2h.9M245.8 532.8h.9M237.3 525.2h.9M252.6 524.8h.9M248.3 532.2h.9M258.2 516.2h.9M230.7 524.6h.9M248.1 531.4h.9M257.0 521.1h.9M265.4 527.9h.9M233.1 533.2h.9M250.4 528.2h.9M234.6 523.8h.9M249.4 524.9h.9M253.8 535.4h.9M260.9 535.4h.9M246.8 538.8h.9M250.2 532.4h.9M246.0 515.6h.9M228.9 527.4h.9M242.3 526.0h.9M221.6 535.9h.9M227.6 547.5h.9M225.1 535.7h.9M230.2 539.1h.9M222.4 547.5h.9M242.1 538.9h.9M215.0 538.5h.9M234.9 531.3h.9M231.7 551.7h.9M242.2 546.3h.9M231.5 545.3h.9M250.0 537.5h.9M233.4 550.4h.9M234.6 531.1h.9M245.8 515.4h.9M242.1 530.3h.9M224.8 528.6h.9M221.7 541.5h.9M234.3 536.6h.9M230.0 528.9h.9M222.1 552.8h.9M240.4 550.8h.9M225.5 537.6h.9M240.3 548.1h.9M237.0 541.2h.9M253.1 522.9h.9M243.9 553.3h.9M243.7 539.7h.9M224.8 546.0h.9M235.2 538.6h.9M235.6 526.3h.9M236.5 523.0h.9M241.3 526.0h.9M237.1 532.4h.9M238.1 532.1h.9M235.2 541.2h.9M224.4 549.2h.9M245.1 532.5h.9M244.5 532.3h.9M226.2 558.7h.9M227.9 538.4h.9M220.9 534.4h.9M231.0 526.5h.9M235.9 541.4h.9M234.8 527.2h.9M222.4 535.2h.9M228.6 539.3h.9M233.7 554.3h.9M234.1 534.0h.9M215.2 537.3h.9M241.7 564.9h.9M234.8 522.2h.9M227.1 562.3h.9M232.9 553.6h.9M238.5 534.6h.9M242.8 533.8h.9M245.6 529.7h.9M228.0 548.8h.9M222.1 537.9h.9M216.4 540.2h.9M239.0 529.5h.9M234.8 551.4h.9M238.1 519.2h.9M245.5 530.8h.9M239.4 536.8h.9M221.4 546.1h.9M248.0 535.8h.9M245.6 549.0h.9M248.7 535.3h.9M237.1 529.7h.9M232.0 539.6h.9M216.6 543.5h.9M235.4 549.8h.9M248.4 520.5h.9M236.1 537.1h.9M248.0 527.1h.9M223.4 548.6h.9M223.0 551.1h.9M221.0 543.5h.9M248.2 543.5h.9M222.7 549.6h.9M230.1 535.4h.9M243.4 536.1h.9M232.0 544.4h.9M242.3 533.2h.9M234.3 521.0h.9M248.5 535.7h.9M228.3 540.2h.9M219.3 548.2h.9M253.1 531.1h.9M230.1 555.1h.9M229.4 535.0h.9M240.3 546.2h.9M237.1 529.0h.9M226.2 543.0h.9M232.6 560.4h.9M240.7 549.2h.9M246.4 521.5h.9M227.5 545.8h.9M243.3 521.0h.9M234.7 567.3h.9M231.2 581.7h.9M249.9 572.7h.9M263.2 567.9h.9M257.0 560.4h.9M230.2 579.5h.9M231.1 562.4h.9M244.9 578.6h.9M256.5 574.9h.9M231.2 570.2h.9M230.1 584.7h.9M239.3 573.2h.9M252.9 571.7h.9M238.2 575.2h.9M249.0 566.5h.9M258.3 552.1h.9M249.2 556.6h.9M229.7 570.9h.9M241.4 562.8h.9M240.1 557.8h.9M230.3 583.2h.9M235.9 553.9h.9M240.5 555.8h.9M262.7 580.8h.9M250.4 559.2h.9M241.6 573.9h.9M253.0 572.3h.9M243.4 576.4h.9M248.4 558.7h.9M262.4 557.3h.9M241.0 579.2h.9M243.7 556.5h.9M248.7 570.5h.9M246.5 583.0h.9M253.6 559.0h.9M226.8 575.9h.9M236.7 580.2h.9M253.3 580.4h.9M252.1 568.4h.9M235.2 567.5h.9M251.8 577.3h.9M253.1 575.4h.9M254.0 562.9h.9M261.7 583.0h.9M238.5 568.6h.9M251.0 560.2h.9M259.6 565.0h.9M230.6 565.2h.9M262.8 568.4h.9M232.8 563.4h.9M248.0 567.1h.9M223.5 583.9h.9M225.9 584.6h.9M246.7 562.2h.9M239.5 559.7h.9M251.6 559.4h.9M229.7 568.0h.9M261.8 554.6h.9M244.3 567.6h.9M261.8 546.4h.9M252.0 556.0h.9M231.5 540.5h.9M179.7 588.3h.9M231.7 575.6h.9M260.0 573.2h.9M263.2 542.8h.9M259.6 562.3h.9M240.9 561.4h.9M202.4 585.7h.9" stroke="#a4aee6" stroke-width=".9" fill="none"/>
<path d="M219.1 554.7h.9M210.9 551.6h.9M217.0 552.1h.9M208.0 551.4h.9M216.3 553.4h.9M207.9 551.7h.9M204.4 550.3h.9M229.0 566.7h.9M195.9 572.8h.9M197.0 576.3h.9M197.8 576.6h.9M221.5 577.7h.9M189.8 569.7h.9M204.2 552.4h.9M196.7 576.8h.9M212.7 551.4h.9M204.8 551.3h.9M222.6 561.9h.9M224.7 570.1h.9M222.9 563.4h.9M192.8 571.5h.9M188.6 571.5h.9M220.3 576.8h.9M200.4 582.2h.9M204.4 580.1h.9M221.8 562.0h.9M192.0 567.9h.9M211.3 552.2h.9M203.5 550.6h.9M192.4 560.9h.9M222.2 575.6h.9M194.2 575.3h.9M198.7 553.9h.9M195.3 573.7h.9M191.7 561.9h.9M193.7 572.5h.9M213.2 583.9h.9M222.5 558.1h.9M223.0 570.3h.9M224.4 567.8h.9M217.5 579.6h.9M222.7 565.7h.9M223.2 565.7h.9M209.3 586.0h.9M197.6 555.0h.9M221.5 562.8h.9M192.2 563.7h.9M193.2 561.6h.9M201.9 579.5h.9M222.2 562.9h.9M197.0 553.5h.9M223.0 566.8h.9M194.5 572.9h.9M203.5 550.1h.9M196.5 576.1h.9M193.5 558.1h.9M222.7 558.9h.9M225.9 564.6h.9M192.3 568.1h.9M194.0 575.4h.9M217.4 580.3h.9M215.7 581.4h.9M197.2 554.0h.9M191.1 565.8h.9M219.7 551.6h.9M222.6 574.1h.9M214.9 581.6h.9M194.1 574.2h.9M226.9 568.0h.9M194.5 575.1h.9M200.5 579.0h.9M223.3 563.0h.9M194.8 557.4h.9M200.9 579.7h.9M194.0 571.8h.9M195.8 574.8h.9M198.7 554.2h.9M223.2 569.5h.9M195.0 573.6h.9M198.4 577.6h.9M191.0 567.7h.9M189.4 569.0h.9M211.4 552.1h.9M229.0 567.5h.9M229.0 568.3h.9M192.1 569.8h.9M221.9 553.5h.9M197.5 555.7h.9M195.6 577.4h.9M205.4 583.0h.9M197.4 555.7h.9M195.5 557.9h.9M203.9 584.0h.9M202.8 579.7h.9M202.9 581.2h.9M221.6 578.3h.9M203.6 553.6h.9M192.9 570.2h.9M222.6 571.4h.9M203.2 550.5h.9M187.3 571.0h.9M228.1 567.4h.9M190.6 561.2h.9M202.4 552.0h.9M224.4 565.6h.9M192.0 570.0h.9M225.2 567.2h.9M218.6 579.7h.9M199.3 576.7h.9M193.9 571.7h.9M204.7 552.6h.9M197.6 554.5h.9M187.4 571.1h.9M218.9 553.8h.9M199.4 580.4h.9M193.5 560.8h.9M191.5 568.5h.9M222.6 574.6h.9M222.1 555.8h.9M206.8 551.9h.9M198.7 583.7h.9M192.4 558.4h.9M189.2 571.0h.9M211.3 584.0h.9M207.2 583.5h.9M206.4 582.1h.9M194.7 570.4h.9M202.8 584.0h.9M191.9 559.0h.9M192.2 564.2h.9M187.7 571.6h.9M190.0 568.6h.9M192.5 564.3h.9M206.5 583.4h.9M195.5 558.1h.9M186.0 572.6h.9M192.4 570.2h.9M192.4 563.8h.9M193.7 570.6h.9M192.6 559.3h.9M218.5 551.1h.9M208.6 584.9h.9M207.1 550.2h.9M224.0 570.3h.9M199.4 584.1h.9M222.9 558.9h.9M222.7 573.4h.9M219.9 577.1h.9M225.1 565.8h.9M197.3 555.2h.9M200.5 580.8h.9M189.4 572.2h.9M192.3 565.9h.9M223.5 568.0h.9M195.9 552.4h.9M223.6 568.1h.9M185.5 571.9h.9M196.8 574.7h.9M210.6 584.1h.9M198.1 582.4h.9M189.6 572.2h.9M211.4 583.7h.9M195.0 558.9h.9M224.3 569.5h.9M192.6 568.7h.9M189.0 570.3h.9M197.2 554.0h.9M212.1 583.5h.9M210.0 550.6h.9M200.4 582.0h.9M223.0 572.9h.9M216.2 582.8h.9M216.0 583.9h.9M207.0 586.0h.9M206.9 582.7h.9M202.8 580.2h.9M215.4 582.1h.9M218.7 577.3h.9M206.8 582.4h.9M207.6 582.7h.9M210.5 585.6h.9M220.7 577.3h.9M216.5 580.1h.9M219.0 580.6h.9M204.8 584.8h.9M205.5 583.2h.9M213.6 584.5h.9M214.0 582.2h.9M221.4 577.2h.9M203.8 582.3h.9M211.6 582.7h.9M216.8 583.3h.9M210.6 583.2h.9M204.5 582.9h.9M209.2 584.9h.9M205.7 582.9h.9M216.8 584.7h.9M219.2 580.9h.9M244.0 524.7h.9M244.7 523.2h.9M237.1 531.2h.9M243.6 522.6h.9M243.2 523.9h.9M244.6 524.9h.9M244.6 522.9h.9M243.7 524.6h.9M244.5 523.0h.9M221.9 556.5h.9M236.2 531.5h.9M222.5 555.1h.9M219.7 552.6h.9M222.6 557.6h.9M220.3 553.1h.9M225.4 566.4h.9M219.4 554.6h.9M222.5 557.6h.9M218.7 553.2h.9M218.6 553.3h.9M226.1 565.7h.9M226.5 569.1h.9M219.9 551.0h.9M186.4 571.4h.9" stroke="#6e82dc" stroke-width=".9" fill="none"/>
<path d="M212.7 554.4h.9M204.6 555.8h.9M199.4 558.9h.9M215.5 555.5h.9M219.5 562.8h.9M198.3 556.1h.9M219.6 558.9h.9M209.4 552.3h.9M201.4 558.3h.9M207.7 554.1h.9M216.7 557.0h.9M199.5 559.5h.9M199.9 557.4h.9M217.2 559.4h.9M222.2 568.1h.9M195.1 561.9h.9M195.0 567.0h.9M213.7 555.0h.9M206.9 553.3h.9M204.4 556.6h.9M213.9 554.6h.9M211.4 554.6h.9M195.8 564.2h.9M220.4 559.9h.9M217.2 557.1h.9M218.7 558.3h.9M200.3 557.3h.9M197.4 567.0h.9M210.2 554.2h.9M219.2 562.5h.9M219.2 560.1h.9M213.9 554.6h.9M210.1 554.4h.9M217.1 559.0h.9M203.8 554.3h.9M203.0 557.8h.9M205.7 553.8h.9M221.4 558.8h.9M201.6 558.1h.9M219.9 570.5h.9M212.3 553.3h.9M219.7 559.7h.9M198.6 560.7h.9M219.8 556.7h.9M221.5 569.4h.9M196.3 569.7h.9M219.4 558.4h.9M215.8 554.0h.9M220.3 571.9h.9M219.3 572.9h.9M219.8 569.9h.9M201.6 575.7h.9M195.0 565.9h.9M200.0 558.7h.9M199.3 571.7h.9M207.5 552.8h.9M196.3 568.1h.9M220.3 565.6h.9M197.9 564.3h.9M195.7 567.5h.9M196.3 566.1h.9M204.3 578.8h.9M220.2 576.2h.9M216.1 555.5h.9M205.6 553.2h.9M198.5 572.7h.9M195.0 562.4h.9M219.5 559.3h.9M215.8 576.7h.9M195.5 564.8h.9M199.0 557.2h.9M195.0 566.0h.9M200.3 557.6h.9M196.5 563.1h.9M196.3 570.6h.9M195.0 565.1h.9M195.7 565.7h.9M198.5 571.3h.9M214.6 554.5h.9M210.1 553.6h.9M202.5 578.0h.9M202.3 577.9h.9M208.1 553.2h.9M213.3 579.0h.9M203.4 556.6h.9M197.4 557.8h.9M220.4 575.4h.9M197.9 559.8h.9M219.4 563.6h.9M197.8 563.2h.9M204.9 576.5h.9M220.3 572.0h.9M200.3 572.0h.9M199.9 576.7h.9M200.3 557.2h.9M219.7 569.6h.9M198.8 570.1h.9M218.2 560.6h.9M213.1 554.2h.9M218.2 557.3h.9M200.0 559.5h.9M209.9 552.0h.9M196.7 560.8h.9M197.9 567.8h.9M198.0 559.5h.9M207.2 552.7h.9M199.5 560.9h.9M199.2 560.2h.9M210.2 552.0h.9M207.4 554.3h.9M220.6 570.7h.9M219.9 574.2h.9M197.4 557.7h.9M220.1 557.3h.9M207.2 577.7h.9M219.9 568.8h.9M217.0 557.0h.9M199.0 562.2h.9M195.2 562.4h.9M220.6 565.7h.9M196.7 571.4h.9M194.8 561.5h.9M222.4 567.0h.9M194.4 563.7h.9M196.1 569.4h.9M218.6 573.2h.9M199.7 572.2h.9M199.2 569.4h.9M217.8 555.5h.9M194.5 564.0h.9M203.5 577.4h.9M197.8 573.5h.9M200.9 556.1h.9M212.8 554.1h.9M203.9 554.5h.9M221.4 573.7h.9M204.2 578.0h.9M205.5 553.4h.9M205.1 555.2h.9M221.0 573.8h.9M196.1 561.4h.9M196.6 565.8h.9M219.4 568.7h.9M192.9 566.7h.9M208.4 582.1h.9M219.8 557.2h.9M193.8 565.9h.9M219.5 575.6h.9M213.4 554.3h.9M194.4 562.3h.9M199.7 558.5h.9M212.9 580.5h.9M220.5 574.7h.9M208.5 553.7h.9M221.6 571.4h.9M196.6 567.3h.9M199.1 555.5h.9M204.2 574.9h.9M198.7 569.5h.9M201.2 575.8h.9M199.7 557.7h.9M219.8 564.2h.9M195.8 570.2h.9M207.3 553.7h.9M220.0 561.0h.9M210.0 552.9h.9M219.9 564.3h.9M201.3 577.1h.9M221.6 559.8h.9M209.5 554.2h.9M219.0 561.8h.9M219.9 565.1h.9M205.9 577.1h.9M199.7 559.8h.9M197.7 571.4h.9M220.5 568.5h.9M196.6 571.9h.9M202.9 576.4h.9M220.2 558.5h.9M202.6 576.7h.9M198.1 561.8h.9M219.9 560.9h.9M204.5 556.0h.9M201.1 556.2h.9M209.2 552.3h.9M215.4 555.8h.9M217.6 574.6h.9M214.2 553.7h.9M193.5 567.5h.9M199.0 557.3h.9M221.5 572.8h.9M198.4 558.0h.9M196.2 567.6h.9M218.8 568.3h.9M199.7 573.6h.9M193.9 568.8h.9M194.8 567.2h.9M218.4 557.7h.9M197.6 559.9h.9M199.1 573.3h.9M205.9 579.5h.9M206.9 554.6h.9M221.2 565.5h.9M198.3 559.9h.9M198.4 570.5h.9M196.9 566.2h.9M216.6 555.4h.9M220.0 565.9h.9M204.1 576.0h.9M218.0 555.2h.9M212.6 554.8h.9M200.1 558.2h.9M222.6 568.3h.9M221.7 567.5h.9M198.1 568.0h.9M194.6 561.9h.9M217.6 574.2h.9M193.9 565.7h.9M198.0 573.5h.9M220.2 559.3h.9M203.4 577.5h.9M195.7 565.2h.9M208.6 580.4h.9M196.7 570.7h.9M209.4 581.0h.9M219.0 560.7h.9M217.6 557.2h.9M207.0 577.5h.9M202.2 576.7h.9M199.4 572.5h.9M199.2 575.6h.9M198.3 574.6h.9M215.8 578.6h.9M222.4 567.1h.9M198.5 561.3h.9M195.0 560.2h.9M216.7 554.2h.9M195.5 566.7h.9M198.6 558.0h.9M197.2 572.0h.9M220.9 559.8h.9M201.3 555.9h.9M220.2 567.3h.9M197.8 572.4h.9M219.5 568.4h.9M199.8 576.1h.9M217.6 558.3h.9M207.3 580.9h.9M219.3 572.4h.9M216.4 579.7h.9M196.2 564.7h.9M195.1 563.9h.9M205.9 578.4h.9M214.9 554.7h.9M194.9 567.4h.9M215.8 577.9h.9M204.7 578.1h.9M201.7 577.8h.9M200.7 576.8h.9M201.3 576.8h.9M219.9 573.9h.9M200.1 572.8h.9M220.7 557.1h.9M203.2 574.4h.9M219.4 565.0h.9M200.1 570.6h.9M201.3 571.7h.9M204.4 577.7h.9M198.6 571.4h.9M194.1 567.9h.9M209.5 581.9h.9M197.3 561.2h.9M198.6 570.1h.9M198.4 572.3h.9M213.0 579.0h.9M212.0 580.1h.9M198.6 575.3h.9M195.0 561.1h.9M202.6 555.5h.9M206.4 555.1h.9M212.8 580.9h.9M200.3 573.7h.9M219.2 574.7h.9M200.1 556.9h.9M207.4 579.4h.9M200.3 573.3h.9M200.4 575.7h.9M196.8 563.0h.9M195.8 562.1h.9M197.3 567.5h.9M199.9 576.1h.9M216.7 576.7h.9M206.9 579.7h.9M196.3 559.8h.9M203.0 556.7h.9M219.4 574.4h.9M202.0 575.9h.9M202.6 573.2h.9M203.3 574.5h.9M195.1 564.3h.9M199.5 573.8h.9M203.3 555.4h.9M198.9 561.5h.9M220.2 568.7h.9M214.3 578.6h.9M208.6 579.1h.9M219.5 572.3h.9M194.0 567.7h.9M205.4 555.7h.9M212.0 580.2h.9M201.2 572.7h.9M195.4 560.7h.9M221.1 574.4h.9M196.5 564.8h.9M199.3 557.0h.9M217.0 555.7h.9M207.2 578.7h.9M198.5 559.3h.9M193.9 564.4h.9M201.0 574.1h.9M218.3 575.6h.9M218.2 574.0h.9M220.4 570.7h.9M219.9 573.0h.9M203.0 576.9h.9M210.4 582.0h.9M203.0 576.6h.9M209.2 582.7h.9M213.2 580.7h.9M219.4 571.3h.9M219.8 574.4h.9M209.8 580.8h.9M218.0 576.8h.9M208.1 579.0h.9M222.5 572.4h.9M219.1 570.5h.9M205.5 578.3h.9M207.2 581.6h.9M220.4 571.3h.9M220.2 573.4h.9M220.8 570.9h.9M214.3 579.0h.9M215.4 579.6h.9M219.6 569.8h.9M210.1 581.9h.9M216.5 575.4h.9M209.4 581.6h.9M214.8 579.7h.9M211.0 579.8h.9M220.1 571.9h.9M204.4 580.0h.9M219.5 570.9h.9M210.3 581.5h.9M205.1 578.2h.9M216.8 578.9h.9M209.9 581.9h.9M221.2 575.0h.9M218.4 573.6h.9M214.9 578.6h.9M205.1 578.3h.9M208.5 580.5h.9M213.2 580.3h.9M215.9 578.7h.9M204.5 576.1h.9M205.4 577.3h.9M214.7 578.8h.9M215.9 578.3h.9M207.4 579.0h.9M207.3 579.2h.9M219.0 571.4h.9M206.2 576.9h.9M216.9 575.2h.9M209.2 552.4h.9M218.3 554.2h.9M219.3 566.7h.9M221.4 559.8h.9M220.1 558.2h.9M216.7 556.4h.9M220.1 557.3h.9M217.7 557.6h.9M220.8 565.2h.9M217.5 555.0h.9M223.1 567.2h.9M220.0 568.2h.9M221.3 560.5h.9" stroke="#2f4acc" stroke-width=".9" fill="none"/>
<path d="M215.1 560.3h.9M216.8 562.1h.9M206.7 557.2h.9M201.5 562.7h.9M214.5 556.8h.9M200.3 563.1h.9M213.8 556.6h.9M200.2 564.0h.9M207.5 556.7h.9M216.9 564.4h.9M207.9 556.8h.9M208.0 556.2h.9M206.7 556.1h.9M215.6 573.8h.9M206.6 557.5h.9M199.4 562.2h.9M201.5 561.8h.9M203.7 558.8h.9M201.2 570.4h.9M211.7 556.1h.9M217.5 566.7h.9M205.5 556.0h.9M201.6 561.5h.9M203.7 559.4h.9M206.4 555.5h.9M211.0 578.4h.9M205.2 558.5h.9M217.0 570.6h.9M216.1 557.4h.9M198.0 565.0h.9M217.7 562.1h.9M212.1 556.9h.9M216.3 566.8h.9M209.6 556.0h.9M208.8 556.3h.9M209.8 557.2h.9M208.6 555.2h.9M201.6 570.5h.9M208.1 556.1h.9M201.4 561.0h.9M217.4 563.7h.9M199.6 562.4h.9M203.7 573.0h.9M212.6 555.7h.9M212.9 555.7h.9M214.3 559.2h.9M203.9 558.9h.9M213.2 555.6h.9M204.5 558.6h.9M202.2 560.0h.9M209.7 556.6h.9M211.8 555.5h.9M203.0 558.5h.9M212.8 557.4h.9M198.9 566.0h.9M216.8 559.0h.9M210.3 555.2h.9M217.7 562.7h.9M216.6 568.2h.9M213.5 556.3h.9M201.9 562.4h.9M209.9 556.8h.9M214.6 555.7h.9M205.2 557.6h.9M213.2 557.7h.9M213.3 557.2h.9M212.4 557.0h.9M217.6 561.1h.9M217.3 561.7h.9M216.4 568.3h.9M208.2 556.3h.9M205.6 558.3h.9M206.1 555.6h.9M203.4 559.3h.9M214.8 557.4h.9M215.0 556.4h.9M207.1 556.4h.9M210.4 556.6h.9M202.4 559.4h.9M205.8 557.6h.9M218.8 562.7h.9M217.4 563.9h.9M207.7 554.9h.9M208.3 554.9h.9M214.7 559.6h.9M201.5 562.6h.9M203.1 558.3h.9M216.1 558.4h.9M200.6 564.5h.9M202.7 560.0h.9M215.4 573.5h.9M214.5 559.0h.9M215.5 575.2h.9M214.3 556.5h.9M204.8 573.7h.9M211.5 577.1h.9M217.6 565.2h.9M212.5 555.7h.9M206.6 557.0h.9M217.0 562.0h.9M204.2 557.2h.9M205.7 573.0h.9M214.6 575.6h.9M199.3 567.7h.9M210.5 577.1h.9M201.9 560.6h.9M202.8 558.2h.9M216.3 568.3h.9M199.5 562.7h.9M198.0 564.6h.9M200.1 561.3h.9M216.9 566.5h.9M208.6 577.9h.9M197.7 565.4h.9M204.7 571.8h.9M206.0 557.7h.9M202.3 561.8h.9M197.5 565.7h.9M205.3 556.2h.9M213.2 557.4h.9M201.3 570.3h.9M199.8 564.6h.9M207.5 574.2h.9M218.0 562.3h.9M217.4 567.3h.9M217.2 573.9h.9M218.2 570.9h.9M214.5 575.5h.9M217.9 561.9h.9M217.0 566.5h.9M204.6 573.3h.9M198.4 565.8h.9M202.7 571.1h.9M213.2 558.0h.9M199.1 563.7h.9M204.0 573.9h.9M215.8 556.9h.9M211.9 556.7h.9M213.3 577.2h.9M218.0 562.7h.9M215.3 573.8h.9M211.0 556.9h.9M217.1 562.8h.9M218.5 565.0h.9M217.8 568.0h.9M215.1 573.6h.9M198.8 567.7h.9M205.7 556.9h.9M211.7 556.6h.9M212.9 555.8h.9M211.6 557.1h.9M218.0 571.6h.9M216.4 567.5h.9M216.8 561.3h.9M200.7 562.6h.9M216.2 557.7h.9M212.7 556.8h.9M218.5 565.3h.9M218.6 562.8h.9M200.8 568.6h.9M199.5 567.6h.9M199.8 564.9h.9M198.3 564.1h.9M204.4 571.7h.9M215.0 559.7h.9M199.0 567.5h.9M205.5 558.1h.9M218.0 569.8h.9M216.8 566.4h.9M219.3 565.3h.9M214.9 575.0h.9M207.0 556.0h.9M208.0 555.6h.9M205.6 573.1h.9M218.9 565.5h.9M216.9 565.1h.9M211.8 557.0h.9M217.7 566.7h.9M217.1 565.4h.9M217.5 566.9h.9M205.9 573.5h.9M203.2 571.7h.9M203.6 573.4h.9M215.2 560.1h.9M205.2 573.5h.9M209.0 575.8h.9M208.9 575.9h.9M217.3 563.9h.9M203.3 571.7h.9M199.5 564.4h.9M200.2 564.6h.9M215.7 561.0h.9M200.0 565.2h.9M215.9 558.7h.9M200.2 561.9h.9M218.5 563.9h.9M209.9 579.1h.9M215.4 571.9h.9M212.5 577.5h.9M217.9 567.4h.9M215.9 568.9h.9M206.9 574.9h.9M212.0 579.1h.9M205.9 558.0h.9M216.0 559.3h.9M209.8 557.1h.9M218.2 561.0h.9M200.9 559.8h.9M217.5 567.5h.9M197.5 565.6h.9M201.7 571.4h.9M217.2 562.3h.9M206.7 574.4h.9M199.8 569.6h.9M209.4 555.2h.9M200.3 564.4h.9M213.9 576.2h.9M199.6 561.7h.9M199.2 567.2h.9M202.2 561.2h.9M210.1 578.2h.9M200.9 569.2h.9M213.0 557.1h.9M205.0 574.7h.9M218.1 572.2h.9M203.2 570.7h.9M202.9 572.0h.9M204.9 574.7h.9M209.8 576.7h.9M205.2 575.7h.9M207.7 576.4h.9M204.1 572.2h.9M203.5 560.3h.9M214.2 559.1h.9M201.0 569.6h.9M218.2 562.9h.9M210.8 577.2h.9M202.6 561.5h.9M200.8 563.4h.9M202.2 559.7h.9M216.6 566.3h.9M218.7 564.2h.9M216.2 561.4h.9M207.3 577.7h.9M203.8 572.6h.9M209.0 575.5h.9M215.4 574.3h.9M214.9 557.0h.9M203.0 571.4h.9M218.3 563.9h.9M218.7 566.0h.9M207.6 575.5h.9M216.0 567.0h.9M206.4 573.3h.9M205.3 557.6h.9M206.6 575.6h.9M217.7 566.2h.9M201.8 559.7h.9M215.3 558.6h.9M206.7 576.4h.9M209.5 578.9h.9M200.5 568.2h.9M218.5 572.6h.9M199.9 567.5h.9M216.1 557.9h.9M201.1 570.0h.9M208.7 556.3h.9M202.2 560.8h.9M199.7 568.0h.9M197.9 565.5h.9M204.7 558.0h.9M218.4 568.2h.9M209.5 578.4h.9M201.9 561.6h.9M209.8 578.5h.9M215.2 560.0h.9M205.0 574.4h.9M201.0 561.8h.9M210.5 556.5h.9M199.0 566.7h.9M215.3 575.2h.9M207.9 578.1h.9M199.7 569.3h.9M210.9 555.5h.9M203.3 559.8h.9M206.3 576.2h.9M214.8 575.6h.9M217.0 573.2h.9M214.1 574.7h.9M202.8 560.6h.9M216.6 567.1h.9M198.4 566.8h.9M198.4 564.5h.9M217.6 573.6h.9M207.5 556.0h.9M211.4 576.4h.9M209.9 577.3h.9M210.2 576.8h.9M215.6 570.1h.9M215.4 573.8h.9M201.6 570.8h.9M211.3 578.4h.9M205.7 573.6h.9M211.0 576.3h.9M204.6 573.9h.9M216.9 573.5h.9M212.8 578.3h.9M210.4 579.3h.9M215.6 569.5h.9M214.9 576.0h.9M214.3 577.7h.9M213.0 578.9h.9M212.0 578.7h.9M217.8 569.5h.9M216.2 569.8h.9M210.9 576.2h.9M208.2 575.2h.9M208.4 575.9h.9M207.8 575.8h.9M205.6 573.9h.9M215.0 574.6h.9M211.7 577.6h.9M217.8 570.0h.9M212.3 576.3h.9M213.8 577.3h.9M216.3 569.1h.9M205.5 574.2h.9M215.8 571.6h.9M216.5 574.7h.9M211.5 576.5h.9M207.4 574.4h.9M209.6 576.6h.9M208.5 577.9h.9M217.0 572.8h.9M214.0 575.7h.9M211.7 576.8h.9M215.2 575.6h.9M209.0 577.4h.9M212.8 576.3h.9M208.0 574.1h.9M218.3 571.4h.9M215.6 570.8h.9M210.6 578.9h.9M213.7 578.0h.9M212.2 578.2h.9M212.0 577.1h.9M213.6 578.0h.9M212.1 577.4h.9M212.3 578.2h.9M216.8 570.6h.9M215.8 571.6h.9M205.5 573.5h.9M212.5 576.0h.9M208.6 576.7h.9M210.0 577.8h.9M217.1 572.7h.9M206.7 575.5h.9M213.3 575.2h.9M209.4 577.6h.9M208.8 575.0h.9M215.1 575.0h.9M215.1 572.1h.9M212.3 579.2h.9M213.8 575.8h.9M207.1 574.9h.9M215.6 575.8h.9M215.9 572.7h.9M217.3 573.2h.9M218.3 564.5h.9" stroke="#1c38c4" stroke-width=".9" fill="none"/>
<path d="M208.0 558.9h.9M205.7 558.8h.9M211.6 559.2h.9M215.9 566.1h.9M210.7 558.6h.9M214.4 565.2h.9M215.3 570.4h.9M201.1 566.4h.9M202.7 565.0h.9M215.7 564.8h.9M204.9 559.7h.9M212.0 558.8h.9M213.0 559.9h.9M215.6 566.1h.9M205.5 559.3h.9M205.4 571.3h.9M202.4 566.4h.9M205.2 559.3h.9M215.6 562.7h.9M203.2 562.5h.9M201.4 564.6h.9M212.2 558.4h.9M203.5 564.1h.9M210.0 558.0h.9M211.9 558.7h.9M213.9 570.1h.9M214.2 560.8h.9M213.0 559.8h.9M210.7 557.4h.9M216.6 564.0h.9M201.1 568.4h.9M209.8 557.5h.9M202.6 564.0h.9M209.9 575.3h.9M213.7 566.4h.9M215.4 563.3h.9M208.6 559.0h.9M206.2 559.7h.9M201.5 564.5h.9M206.3 559.9h.9M206.2 559.2h.9M210.9 559.2h.9M215.3 565.2h.9M202.7 563.0h.9M205.6 560.3h.9M215.5 564.7h.9M205.2 561.3h.9M214.2 568.4h.9M206.7 559.2h.9M213.7 568.5h.9M208.5 558.2h.9M210.6 557.3h.9M210.2 558.0h.9M202.7 568.8h.9M205.1 561.8h.9M202.1 565.1h.9M215.4 567.2h.9M205.1 560.5h.9M211.4 558.3h.9M214.5 567.2h.9M214.4 560.9h.9M207.2 559.8h.9M208.1 558.0h.9M210.4 557.6h.9M207.7 558.2h.9M215.6 565.0h.9M201.9 569.6h.9M201.1 567.5h.9M203.6 561.7h.9M202.6 569.7h.9M203.9 562.0h.9M208.4 573.2h.9M214.7 568.9h.9M206.8 558.6h.9M204.5 562.6h.9M205.5 561.1h.9M216.8 564.2h.9M209.5 573.1h.9M204.5 560.3h.9M205.2 560.1h.9M205.4 560.0h.9M215.0 568.6h.9M201.7 566.3h.9M204.3 560.9h.9M206.0 559.3h.9M212.5 559.2h.9M201.9 563.9h.9M214.6 561.1h.9M206.6 572.0h.9M211.5 573.9h.9M204.0 562.6h.9M201.7 563.7h.9M202.9 563.6h.9M215.3 568.9h.9M211.2 558.1h.9M201.5 566.4h.9M206.5 573.1h.9M205.9 570.6h.9M202.7 563.5h.9M202.9 568.7h.9M200.5 567.1h.9M209.1 558.5h.9M204.9 570.0h.9M215.5 567.1h.9M205.1 571.0h.9M204.9 561.9h.9M214.2 570.1h.9M214.0 573.1h.9M202.3 567.4h.9M214.0 566.2h.9M215.2 564.9h.9M210.6 558.1h.9M211.0 575.8h.9M215.3 570.6h.9M203.5 570.5h.9M203.8 569.9h.9M206.4 559.9h.9M205.0 561.1h.9M202.5 563.2h.9M215.5 562.5h.9M215.2 564.7h.9M212.3 572.7h.9M208.2 557.6h.9M214.4 570.6h.9M200.8 564.8h.9M213.8 572.3h.9M200.9 566.0h.9M205.0 559.2h.9M201.2 564.9h.9M206.3 559.1h.9M208.5 573.5h.9M215.7 563.8h.9M214.5 570.5h.9M210.8 575.9h.9M205.5 571.0h.9M213.6 567.6h.9M214.7 560.2h.9M213.9 568.8h.9M203.9 562.2h.9M214.9 566.4h.9M204.1 562.5h.9M200.9 566.1h.9M202.8 562.8h.9M215.4 561.3h.9M210.0 572.5h.9M213.7 567.8h.9M207.9 558.9h.9M204.6 571.1h.9M204.1 562.6h.9M204.6 570.6h.9M213.4 558.5h.9M209.9 575.4h.9M212.8 574.1h.9M212.9 572.5h.9M201.9 568.4h.9M204.3 570.5h.9M204.3 570.1h.9M208.6 558.6h.9M202.5 565.4h.9M210.2 574.4h.9M212.4 558.4h.9M202.6 566.0h.9M208.5 573.7h.9M209.2 558.8h.9M214.7 560.2h.9M213.6 558.8h.9M202.2 565.3h.9M201.0 565.7h.9M216.9 564.3h.9M210.9 558.1h.9M214.6 560.8h.9M211.6 576.2h.9M209.7 574.7h.9M203.0 565.6h.9M202.2 568.6h.9M207.2 571.4h.9M206.6 573.1h.9M201.9 567.0h.9M210.1 575.1h.9M209.6 574.3h.9M210.0 574.8h.9M216.0 563.4h.9M214.7 564.8h.9M211.2 574.6h.9M202.6 564.9h.9M201.1 567.2h.9M213.7 574.6h.9M213.5 571.2h.9M201.7 567.3h.9M201.9 566.0h.9M214.0 568.5h.9M204.1 562.9h.9M214.5 566.3h.9M201.7 566.8h.9M204.2 569.8h.9M201.8 564.5h.9M214.6 569.0h.9M211.9 574.5h.9M203.6 570.0h.9M215.9 562.5h.9M203.7 564.4h.9M214.0 569.7h.9M215.6 561.9h.9M202.3 569.6h.9M216.4 563.5h.9M201.0 565.5h.9M204.1 569.8h.9M213.5 574.3h.9M202.3 568.3h.9M211.8 574.4h.9M211.9 575.3h.9M203.3 565.3h.9M211.3 575.9h.9M210.0 573.7h.9M215.7 563.4h.9M204.5 561.2h.9M206.8 572.2h.9M213.3 559.6h.9M206.5 572.0h.9M203.2 568.8h.9M214.3 569.7h.9M203.0 565.8h.9M211.5 559.2h.9M202.0 566.9h.9M208.3 572.5h.9M206.6 571.5h.9M215.4 563.2h.9M202.6 562.6h.9M215.3 562.1h.9M206.8 559.2h.9M214.5 569.6h.9M202.3 568.5h.9M216.4 562.8h.9M208.4 558.9h.9M214.6 572.3h.9M206.4 572.1h.9M211.9 573.2h.9M210.7 572.7h.9M213.7 574.7h.9M210.1 574.1h.9M205.3 559.3h.9M207.9 573.8h.9M216.0 566.8h.9M207.5 559.4h.9M206.1 572.3h.9M201.2 566.2h.9M211.2 575.9h.9M212.6 573.5h.9M201.3 567.7h.9M201.1 565.5h.9M202.0 567.2h.9M201.5 567.6h.9M204.0 562.6h.9M206.8 559.7h.9M201.8 569.1h.9M213.0 573.0h.9M208.4 572.4h.9M216.0 566.7h.9M209.4 574.3h.9M205.8 558.7h.9M209.0 558.8h.9M213.9 573.1h.9M214.1 566.5h.9M213.2 573.8h.9M207.4 571.6h.9M206.9 571.5h.9M214.3 571.2h.9M209.6 574.1h.9M213.5 559.6h.9M202.2 567.6h.9M200.6 565.9h.9M203.6 569.4h.9M206.0 572.3h.9M202.7 568.5h.9M209.4 559.0h.9M206.5 571.6h.9M202.2 569.2h.9M213.5 572.3h.9M200.9 564.7h.9M204.2 571.1h.9M215.3 566.4h.9M206.7 571.3h.9M214.3 568.6h.9M214.9 561.5h.9M201.3 566.7h.9M200.7 564.9h.9M207.2 571.8h.9M213.5 573.2h.9M214.3 568.7h.9M215.5 568.8h.9M214.1 569.9h.9M212.6 574.8h.9M211.3 573.9h.9M213.6 572.1h.9M212.7 573.1h.9M210.1 575.1h.9M211.7 574.3h.9M215.3 570.1h.9M213.4 572.6h.9M207.0 573.3h.9M214.2 572.9h.9M210.1 572.9h.9M213.4 573.9h.9M208.3 573.2h.9M214.6 571.9h.9M211.6 575.7h.9M214.2 569.6h.9M213.8 573.1h.9M214.2 573.5h.9M215.2 570.6h.9M203.0 570.1h.9M214.5 573.9h.9M210.4 575.5h.9M213.9 571.2h.9M206.5 573.1h.9M213.2 573.1h.9M214.8 569.0h.9M212.2 575.7h.9M212.8 573.5h.9M213.5 571.3h.9M209.3 573.2h.9M210.4 558.6h.9M207.8 558.4h.9" stroke="#1a5ad0" stroke-width=".9" fill="none"/>
<path d="M207.5 560.2h.9M211.0 559.5h.9M213.5 561.5h.9M205.3 564.2h.9M206.8 562.4h.9M211.5 560.2h.9M204.0 568.0h.9M205.3 563.8h.9M205.3 564.2h.9M207.6 561.0h.9M214.1 562.0h.9M206.3 562.1h.9M211.9 559.7h.9M212.8 570.6h.9M205.3 563.1h.9M206.8 561.8h.9M208.0 560.0h.9M210.5 560.0h.9M213.0 560.3h.9M206.7 562.0h.9M213.1 569.8h.9M207.9 560.9h.9M213.7 565.6h.9M212.7 571.4h.9M212.0 568.1h.9M210.8 560.0h.9M203.0 567.9h.9M214.9 563.2h.9M205.7 563.7h.9M207.9 560.9h.9M205.2 563.4h.9M204.6 565.2h.9M208.1 571.0h.9M214.2 564.4h.9M214.0 564.2h.9M206.0 562.1h.9M211.2 560.1h.9M204.9 562.3h.9M208.8 560.2h.9M208.5 560.7h.9M212.7 572.0h.9M212.6 569.7h.9M205.4 565.5h.9M202.8 566.9h.9M210.8 559.9h.9M202.7 567.6h.9M205.3 565.7h.9M214.2 561.2h.9M204.3 567.4h.9M204.7 563.2h.9M204.4 563.2h.9M205.7 562.4h.9M210.8 572.5h.9M207.6 560.8h.9M203.3 568.6h.9M213.4 560.9h.9M203.5 565.5h.9M203.7 568.8h.9M209.9 560.0h.9M207.4 570.8h.9M208.1 560.2h.9M207.4 561.4h.9M204.5 568.5h.9M202.7 568.0h.9M205.0 562.4h.9M213.8 561.9h.9M204.3 565.5h.9M211.3 560.2h.9M203.0 567.4h.9M204.4 567.2h.9M204.0 567.2h.9M211.3 559.9h.9M208.5 561.2h.9M208.7 570.9h.9M212.4 567.4h.9M214.5 565.0h.9M213.0 569.9h.9M213.1 567.0h.9M205.6 567.9h.9M205.0 564.6h.9M205.3 568.0h.9M209.4 559.5h.9M209.8 571.5h.9M211.9 572.1h.9M205.6 569.0h.9M205.7 568.3h.9M210.9 571.3h.9M203.0 566.5h.9M212.4 572.0h.9M210.8 571.3h.9M206.8 562.3h.9M204.5 569.2h.9M205.4 564.7h.9M205.5 564.8h.9M205.0 563.5h.9M205.5 564.9h.9M204.0 567.9h.9M214.2 562.0h.9M213.1 571.1h.9M211.0 571.8h.9M211.6 572.2h.9M204.4 564.5h.9M204.8 564.5h.9M204.0 565.3h.9M212.2 568.6h.9M203.8 568.6h.9M205.4 562.0h.9M205.1 568.9h.9M214.0 564.6h.9M204.2 563.8h.9M206.8 560.7h.9M208.8 560.5h.9M204.6 566.9h.9M213.4 560.9h.9M212.4 566.5h.9M214.7 562.5h.9M212.8 568.3h.9M205.0 562.1h.9M206.2 563.0h.9M213.2 565.4h.9M212.1 572.3h.9M205.5 567.3h.9M204.5 564.4h.9M203.7 565.1h.9M204.5 566.6h.9M206.8 570.3h.9M212.0 569.6h.9M213.2 567.2h.9M205.3 567.8h.9M206.2 561.6h.9M208.5 559.7h.9M204.9 562.6h.9M205.1 567.3h.9M205.6 567.6h.9M205.7 568.6h.9M205.8 568.7h.9M207.0 569.4h.9M212.5 571.5h.9M214.8 563.5h.9M212.0 570.5h.9M206.7 562.4h.9M205.2 566.2h.9M211.5 571.3h.9M213.4 569.2h.9M205.2 569.3h.9M207.3 570.8h.9M207.9 570.8h.9M203.6 568.9h.9M205.9 568.8h.9M206.1 568.5h.9M204.2 565.7h.9M206.9 560.9h.9M214.4 562.6h.9M214.5 563.1h.9M206.0 570.2h.9M204.5 568.4h.9M205.4 568.5h.9M208.7 572.0h.9M203.3 567.5h.9M207.4 561.7h.9M202.6 567.4h.9M214.2 562.7h.9M209.9 559.8h.9M212.8 566.7h.9M207.3 570.5h.9M208.9 571.7h.9M205.4 567.1h.9M209.2 572.1h.9M205.2 569.4h.9M206.8 560.4h.9M204.9 566.3h.9M204.6 566.0h.9M203.1 567.6h.9M207.9 561.2h.9M212.1 571.2h.9M213.4 569.3h.9M214.0 563.2h.9M207.2 570.2h.9M213.2 566.8h.9M211.0 572.0h.9M214.6 564.6h.9M208.1 571.2h.9M213.6 564.6h.9M211.2 572.5h.9M206.4 570.2h.9M206.7 561.9h.9M204.2 569.2h.9M204.9 567.3h.9M204.7 568.6h.9M211.9 571.5h.9M211.0 571.3h.9M208.8 571.9h.9M211.5 571.4h.9M211.7 571.4h.9M212.9 569.4h.9M207.1 570.1h.9M206.1 569.1h.9M213.2 569.3h.9M211.0 572.5h.9M212.6 570.9h.9M209.0 571.4h.9M212.1 569.8h.9M207.8 570.0h.9M209.4 571.6h.9M212.7 572.3h.9M207.8 570.8h.9M211.9 570.7h.9M209.1 571.4h.9M209.0 571.6h.9M213.2 568.8h.9M210.3 571.3h.9M208.7 571.7h.9M212.2 571.2h.9M210.3 572.3h.9M208.8 570.5h.9M212.5 570.4h.9M206.3 568.9h.9M208.1 571.0h.9M212.2 569.8h.9M209.6 572.0h.9M205.4 568.6h.9M213.6 569.6h.9M210.7 572.1h.9M213.6 561.5h.9" stroke="#188ccc" stroke-width=".9" fill="none"/>
<path d="M207.1 564.5h.9M213.1 561.6h.9M212.6 561.2h.9M211.7 567.1h.9M212.1 565.2h.9M206.1 565.6h.9M208.9 561.6h.9M206.6 567.8h.9M206.9 563.9h.9M210.3 561.0h.9M206.7 565.2h.9M213.1 563.9h.9M206.5 564.2h.9M213.7 563.2h.9M206.4 565.6h.9M206.9 563.8h.9M206.9 565.6h.9M212.0 560.6h.9M207.6 564.0h.9M206.6 563.7h.9M207.4 563.3h.9M211.7 561.0h.9M206.8 564.0h.9M212.8 564.7h.9M211.2 560.3h.9M210.8 569.4h.9M206.8 563.1h.9M211.3 560.9h.9M207.4 567.3h.9M207.4 567.7h.9M210.1 560.8h.9M212.7 561.1h.9M211.9 567.2h.9M206.3 567.0h.9M209.2 561.6h.9M210.2 570.0h.9M208.2 569.1h.9M211.4 560.5h.9M210.2 560.9h.9M206.5 563.8h.9M211.0 567.8h.9M206.0 567.6h.9M213.8 562.8h.9M206.7 566.8h.9M206.2 568.4h.9M207.2 565.0h.9M213.4 564.7h.9M211.8 569.0h.9M213.6 563.6h.9M211.2 566.9h.9M207.7 568.0h.9M207.2 568.6h.9M212.7 564.9h.9M206.8 567.9h.9M211.7 569.1h.9M212.9 564.8h.9M211.4 566.4h.9M209.9 560.8h.9M206.6 565.3h.9M211.3 570.3h.9M206.5 564.2h.9M209.1 569.7h.9M210.6 569.1h.9M206.9 564.0h.9M211.3 566.9h.9M211.0 569.6h.9M211.7 560.6h.9M212.6 565.0h.9M207.0 564.2h.9M206.7 567.0h.9M208.7 569.3h.9M206.9 562.7h.9M207.1 568.1h.9M213.4 562.4h.9M211.5 566.0h.9M211.3 568.8h.9M211.7 568.3h.9M211.4 569.0h.9M206.5 565.0h.9M212.3 565.5h.9M206.2 566.6h.9M206.3 567.7h.9M206.7 562.9h.9M206.2 568.3h.9M210.8 560.7h.9M206.0 567.9h.9M211.3 570.5h.9M213.4 563.6h.9M207.1 568.7h.9M211.9 566.5h.9M206.9 568.9h.9M210.8 570.3h.9M208.5 569.8h.9M208.6 561.9h.9M206.3 568.3h.9M210.9 570.0h.9M207.8 569.1h.9M213.6 564.1h.9M212.1 566.5h.9M205.9 564.1h.9M207.4 564.4h.9M213.4 563.5h.9M209.5 569.5h.9M213.1 564.0h.9M208.8 562.0h.9M206.1 563.9h.9M210.9 570.5h.9M207.5 568.3h.9M211.2 567.3h.9M207.4 566.3h.9M207.8 568.2h.9M209.8 560.5h.9M206.0 564.2h.9M206.7 565.8h.9M207.3 562.5h.9M213.3 562.7h.9M207.2 562.3h.9M211.2 566.3h.9M209.6 570.3h.9M208.0 569.3h.9M206.7 565.4h.9M205.8 565.1h.9M213.6 562.3h.9M212.7 561.4h.9M209.9 570.7h.9M208.9 570.1h.9M209.7 569.7h.9M208.6 561.9h.9M209.4 560.7h.9M206.1 563.7h.9M208.9 562.0h.9M211.7 569.7h.9M210.7 569.7h.9M210.3 570.0h.9M211.6 569.5h.9M211.3 569.0h.9M209.3 569.7h.9M209.2 570.2h.9M210.8 570.3h.9M209.2 570.5h.9M208.9 569.7h.9" stroke="#18b4ac" stroke-width=".9" fill="none"/>
<path d="M209.2 568.5h.9M212.4 561.9h.9M208.2 565.5h.9M212.1 564.3h.9M207.7 565.9h.9M212.0 562.0h.9M208.1 565.3h.9M210.2 569.2h.9M210.0 567.3h.9M209.1 566.5h.9M211.9 564.9h.9M210.1 567.3h.9M211.8 564.9h.9M209.1 565.1h.9M210.5 566.9h.9M208.9 567.3h.9M210.3 565.3h.9M211.3 561.6h.9M208.8 562.3h.9M213.2 563.1h.9M210.7 568.2h.9M211.8 561.6h.9M207.8 564.8h.9M209.1 566.7h.9M208.4 563.5h.9M211.7 561.6h.9M207.9 565.8h.9M207.6 566.7h.9M208.0 565.0h.9M212.6 563.1h.9M209.5 567.1h.9M212.9 563.3h.9M208.4 564.6h.9M208.8 566.0h.9M210.7 568.3h.9M209.0 565.1h.9M208.3 568.1h.9M213.2 563.0h.9M207.4 565.2h.9M208.1 567.8h.9M208.0 564.8h.9M213.0 562.9h.9M208.7 566.2h.9M211.1 561.7h.9M211.3 565.5h.9M209.4 561.9h.9M212.7 564.2h.9M209.9 567.8h.9M212.5 563.7h.9M208.4 567.7h.9M211.3 561.6h.9M209.7 566.8h.9M212.2 564.7h.9M210.3 567.1h.9M210.3 567.1h.9M209.4 562.3h.9M210.3 561.4h.9M212.1 564.5h.9M208.8 568.7h.9M208.8 564.6h.9M208.9 562.4h.9M208.7 565.5h.9M208.2 566.7h.9M207.8 564.5h.9M211.4 565.1h.9M209.8 565.9h.9M208.2 565.2h.9M210.2 565.9h.9M207.6 565.6h.9M210.7 565.4h.9M210.8 565.1h.9M210.8 566.9h.9M209.5 562.5h.9M210.0 568.8h.9M209.5 568.5h.9M209.2 561.9h.9M208.3 567.1h.9M209.4 567.0h.9M208.1 565.9h.9M208.6 563.8h.9M212.6 561.8h.9M208.7 567.5h.9M209.5 568.9h.9M212.9 563.7h.9M210.7 566.8h.9M207.6 566.4h.9M210.1 568.7h.9M208.8 568.5h.9M212.5 564.5h.9M209.4 567.2h.9M210.1 567.9h.9M210.9 567.2h.9M208.8 563.1h.9M207.8 564.5h.9M210.3 567.1h.9M211.4 565.7h.9M208.6 568.4h.9M210.0 569.1h.9M211.4 561.7h.9M209.7 561.9h.9M208.8 568.2h.9M211.4 561.1h.9M212.9 562.7h.9M212.6 563.5h.9M210.2 567.5h.9M208.9 568.3h.9M208.9 568.2h.9M208.8 564.4h.9M207.7 565.3h.9M208.8 568.0h.9M212.8 563.0h.9M210.2 566.3h.9M210.6 567.5h.9M209.1 566.3h.9M212.8 562.4h.9M211.5 565.1h.9M210.7 567.3h.9M209.1 566.4h.9M213.1 563.0h.9M210.9 565.2h.9M208.0 565.8h.9M210.7 567.5h.9M210.7 567.4h.9M212.8 563.1h.9M208.6 566.2h.9M209.4 567.9h.9M210.8 566.4h.9M208.3 564.5h.9M208.2 567.6h.9M209.1 562.9h.9M210.4 561.7h.9M210.1 567.4h.9M208.2 567.5h.9M208.2 563.2h.9M209.8 569.0h.9M209.7 568.6h.9M208.8 569.0h.9M208.6 568.7h.9" stroke="#28cc78" stroke-width=".9" fill="none"/>
<path d="M211.8 562.3h.9M210.7 563.6h.9M211.3 562.1h.9M210.5 562.1h.9M210.9 564.5h.9M210.0 563.3h.9M210.6 562.9h.9M211.3 563.6h.9M210.7 561.9h.9M209.7 564.5h.9M211.5 562.4h.9M209.8 562.7h.9M210.5 564.9h.9M211.3 562.3h.9M209.9 562.3h.9M211.3 562.0h.9M210.6 562.4h.9M209.6 563.6h.9M210.8 564.4h.9M210.1 562.2h.9M210.8 563.8h.9M209.9 562.4h.9M211.5 564.0h.9M211.4 563.2h.9M211.8 564.0h.9M210.1 563.9h.9M211.3 562.0h.9M209.7 564.0h.9M210.6 561.9h.9M209.6 563.5h.9M210.1 562.7h.9M211.5 562.5h.9M209.4 563.4h.9M210.8 562.9h.9M211.7 562.1h.9M210.3 563.8h.9M211.9 563.9h.9M209.8 562.9h.9M210.0 563.5h.9M209.9 564.7h.9M211.6 562.5h.9M210.0 562.8h.9M211.9 562.3h.9M209.7 564.0h.9M212.0 563.6h.9M210.2 564.4h.9M210.0 564.1h.9M210.4 562.8h.9M210.0 563.4h.9M211.4 563.8h.9M211.0 564.4h.9M209.9 564.0h.9M210.5 562.1h.9M210.7 564.5h.9M210.0 563.4h.9M211.1 563.7h.9M211.3 563.2h.9M210.9 563.5h.9" stroke="#3ede50" stroke-width=".9" fill="none"/>
<rect x="195.5" y="591.5" width="1.2" height="0.9" fill="#40c040"/>
<rect x="183.4" y="591.5" width="1.2" height="0.9" fill="#e0a020"/>
<rect x="207.8" y="591.5" width="1.2" height="0.9" fill="#e04030"/>
<rect x="201.6" y="591.5" width="1.2" height="0.9" fill="#3050d0"/>
<rect x="235.3" y="591.5" width="1.2" height="0.9" fill="#3050d0"/>
<rect x="211.0" y="591.5" width="1.2" height="0.9" fill="#3050d0"/>
<rect x="201.4" y="591.5" width="1.2" height="0.9" fill="#20a0c0"/>
<rect x="219.8" y="591.5" width="1.2" height="0.9" fill="#3050d0"/>
<rect x="222.6" y="591.5" width="1.2" height="0.9" fill="#40c040"/>
<rect x="201.9" y="591.5" width="1.2" height="0.9" fill="#e0a020"/>
<rect x="191.4" y="591.5" width="1.2" height="0.9" fill="#e0a020"/>
<rect x="196.0" y="591.5" width="1.2" height="0.9" fill="#e04030"/>
<rect x="192.9" y="591.5" width="1.2" height="0.9" fill="#20a0c0"/>
<rect x="206.6" y="591.5" width="1.2" height="0.9" fill="#e0a020"/>
<rect x="200.6" y="591.5" width="1.2" height="0.9" fill="#20a0c0"/>
<rect x="192.8" y="591.5" width="1.2" height="0.9" fill="#3050d0"/>
<rect x="221.3" y="591.5" width="1.2" height="0.9" fill="#40c040"/>
<rect x="207.9" y="591.5" width="1.2" height="0.9" fill="#20a0c0"/>
<rect x="227.0" y="591.5" width="1.2" height="0.9" fill="#20a0c0"/>
<rect x="193.0" y="591.5" width="1.2" height="0.9" fill="#e04030"/>
<rect x="182.1" y="591.5" width="1.2" height="0.9" fill="#40c040"/>
<rect x="200.4" y="591.5" width="1.2" height="0.9" fill="#40c040"/>
<rect x="206.8" y="591.5" width="1.2" height="0.9" fill="#3050d0"/>
<rect x="178.9" y="591.5" width="1.2" height="0.9" fill="#e0a020"/>
<rect x="224.1" y="591.5" width="1.2" height="0.9" fill="#40c040"/>
<rect x="188.6" y="591.5" width="1.2" height="0.9" fill="#20a0c0"/>
<rect x="222.8" y="591.5" width="1.2" height="0.9" fill="#40c040"/>
<rect x="223.0" y="591.5" width="1.2" height="0.9" fill="#e0a020"/>
<rect x="214.2" y="591.5" width="1.2" height="0.9" fill="#40c040"/>
<rect x="238.5" y="591.5" width="1.2" height="0.9" fill="#3050d0"/>
<rect x="164.7" y="494" width="104.8" height="98.8" fill="none" stroke="#3a3a3a" stroke-width="0.9" />
<line x1="219.1" y1="494" x2="219.1" y2="592.8" stroke="#222" stroke-width="1.1" />
<line x1="164.7" y1="549.1" x2="269.5" y2="549.1" stroke="#222" stroke-width="1.1" />
<text x="167.5" y="503.3" font-size="4.6" font-weight="normal" text-anchor="start" fill="#333" >Q1</text>
<text x="167.5" y="510.4" font-size="4.6" font-weight="normal" text-anchor="start" fill="#333" >0.38</text>
<text x="260.7" y="503.3" font-size="4.6" font-weight="normal" text-anchor="end" fill="#333" >Q2</text>
<text x="260.7" y="510.4" font-size="4.6" font-weight="normal" text-anchor="end" fill="#333" >2.92</text>
<text x="167.5" y="580.6" font-size="4.6" font-weight="normal" text-anchor="start" fill="#333" >Q4</text>
<text x="167.5" y="587.8" font-size="4.6" font-weight="normal" text-anchor="start" fill="#333" >89.4</text>
<text x="260.7" y="580.6" font-size="4.6" font-weight="normal" text-anchor="end" fill="#333" >Q3</text>
<text x="260.7" y="587.8" font-size="4.6" font-weight="normal" text-anchor="end" fill="#333" >7.32</text>
<line x1="163.1" y1="591.3" x2="164.7" y2="591.3" stroke="#444" stroke-width="0.6" />
<text x="162.1" y="592.9" font-size="3.9" text-anchor="end" fill="#444">10<tspan font-size="2.9" dy="-1.6">0</tspan></text>
<line x1="163.1" y1="573.5" x2="164.7" y2="573.5" stroke="#444" stroke-width="0.6" />
<text x="162.1" y="575.1" font-size="3.9" text-anchor="end" fill="#444">10<tspan font-size="2.9" dy="-1.6">1</tspan></text>
<line x1="163.1" y1="555.7" x2="164.7" y2="555.7" stroke="#444" stroke-width="0.6" />
<text x="162.1" y="557.3" font-size="3.9" text-anchor="end" fill="#444">10<tspan font-size="2.9" dy="-1.6">2</tspan></text>
<line x1="163.1" y1="537.9" x2="164.7" y2="537.9" stroke="#444" stroke-width="0.6" />
<text x="162.1" y="539.5" font-size="3.9" text-anchor="end" fill="#444">10<tspan font-size="2.9" dy="-1.6">3</tspan></text>
<line x1="163.1" y1="520.1" x2="164.7" y2="520.1" stroke="#444" stroke-width="0.6" />
<text x="162.1" y="521.7" font-size="3.9" text-anchor="end" fill="#444">10<tspan font-size="2.9" dy="-1.6">4</tspan></text>
<line x1="163.1" y1="502.3" x2="164.7" y2="502.3" stroke="#444" stroke-width="0.6" />
<text x="162.1" y="503.9" font-size="3.9" text-anchor="end" fill="#444">10<tspan font-size="2.9" dy="-1.6">5</tspan></text>
<line x1="168.5" y1="592.8" x2="168.5" y2="594.4" stroke="#444" stroke-width="0.6" />
<text x="167.5" y="604.3" font-size="3.8" text-anchor="middle" fill="#444">10<tspan font-size="2.8" dy="-1.4">0</tspan></text>
<line x1="184.5" y1="592.8" x2="184.5" y2="594.4" stroke="#444" stroke-width="0.6" />
<text x="183.5" y="604.3" font-size="3.8" text-anchor="middle" fill="#444">10<tspan font-size="2.8" dy="-1.4">1</tspan></text>
<line x1="204.3" y1="592.8" x2="204.3" y2="594.4" stroke="#444" stroke-width="0.6" />
<text x="203.3" y="604.3" font-size="3.8" text-anchor="middle" fill="#444">10<tspan font-size="2.8" dy="-1.4">2</tspan></text>
<line x1="223.8" y1="592.8" x2="223.8" y2="594.4" stroke="#444" stroke-width="0.6" />
<text x="222.8" y="604.3" font-size="3.8" text-anchor="middle" fill="#444">10<tspan font-size="2.8" dy="-1.4">3</tspan></text>
<line x1="243.6" y1="592.8" x2="243.6" y2="594.4" stroke="#444" stroke-width="0.6" />
<text x="242.6" y="604.3" font-size="3.8" text-anchor="middle" fill="#444">10<tspan font-size="2.8" dy="-1.4">4</tspan></text>
<line x1="263" y1="592.8" x2="263" y2="594.4" stroke="#444" stroke-width="0.6" />
<text x="262.0" y="604.3" font-size="3.8" text-anchor="middle" fill="#444">10<tspan font-size="2.8" dy="-1.4">5</tspan></text>
<rect x="284.5" y="494" width="106.2" height="98.8" fill="#fff" stroke="none" stroke-width="1" />
<path d="M314.3 553.9h.9M319.0 550.6h.9M348.9 575.5h.9M337.5 544.7h.9M348.2 587.9h.9M348.9 578.7h.9M346.2 576.9h.9M307.4 573.7h.9M348.6 555.1h.9M310.4 559.3h.9M350.7 555.4h.9M323.3 549.7h.9M354.4 568.0h.9M312.4 582.5h.9M318.9 579.0h.9M309.7 570.2h.9M330.1 542.0h.9M354.2 567.5h.9M305.5 561.9h.9M339.4 543.2h.9M313.7 584.5h.9M339.2 545.4h.9M329.2 547.0h.9M328.9 548.8h.9M322.3 584.6h.9M318.6 578.7h.9M338.4 546.5h.9M312.9 558.9h.9M318.8 548.4h.9M348.6 549.7h.9M348.7 574.8h.9M311.8 583.9h.9M315.8 557.7h.9M335.1 548.6h.9M310.2 558.3h.9M349.3 581.7h.9M341.9 584.0h.9M312.8 550.1h.9M309.7 561.0h.9M351.8 557.6h.9M310.7 567.5h.9M319.8 582.6h.9M311.8 571.1h.9M322.1 583.3h.9M330.8 547.1h.9M332.9 549.0h.9M312.7 573.9h.9M314.7 570.3h.9M329.3 548.4h.9M349.7 561.9h.9M339.2 546.9h.9M313.0 563.2h.9M309.1 559.7h.9M313.9 556.9h.9M310.0 567.2h.9M352.7 561.0h.9M308.6 572.6h.9M348.5 552.5h.9M313.0 560.2h.9M315.7 553.5h.9M311.5 560.8h.9M346.6 552.9h.9M348.4 559.3h.9M319.2 549.3h.9M298.2 570.0h.9M313.1 559.9h.9M312.7 578.2h.9M312.2 566.5h.9M314.9 559.9h.9M354.0 567.1h.9M319.4 581.3h.9M350.5 570.7h.9M342.6 548.1h.9M317.2 583.8h.9M327.4 590.0h.9M305.8 561.9h.9M313.2 554.9h.9M373.1 588.3h.9M306.3 567.2h.9M357.6 568.0h.9M311.3 562.9h.9M308.8 569.1h.9M350.2 574.8h.9M351.0 582.4h.9M311.1 582.6h.9M309.3 577.6h.9M358.3 582.0h.9M362.7 565.1h.9M358.7 563.9h.9M350.6 562.5h.9M318.7 543.8h.9M321.7 548.7h.9M310.3 585.0h.9M350.6 562.7h.9M355.0 566.9h.9M315.8 551.0h.9M320.9 549.3h.9M312.0 574.3h.9M323.9 589.0h.9M298.5 578.0h.9M319.5 552.7h.9M305.8 555.1h.9M308.4 575.3h.9M299.7 553.6h.9M306.6 571.6h.9M356.1 580.4h.9M312.5 549.5h.9M313.8 548.5h.9M313.2 568.8h.9M306.1 590.6h.9M309.3 569.7h.9M304.1 577.9h.9M356.4 571.7h.9M353.8 570.6h.9M307.1 560.9h.9M330.8 588.7h.9M316.1 552.7h.9M308.0 590.0h.9M307.7 562.7h.9M313.0 576.8h.9M306.1 554.1h.9M329.4 541.8h.9M345.3 586.2h.9M352.2 576.4h.9M305.1 575.2h.9M305.7 570.0h.9M325.3 584.6h.9M342.1 588.0h.9M347.7 553.9h.9M358.1 565.0h.9M332.7 544.8h.9M313.6 578.0h.9M305.3 578.3h.9M313.6 556.1h.9M302.1 573.0h.9M310.9 564.4h.9M313.1 547.0h.9M330.1 540.6h.9M318.7 585.5h.9M308.8 580.6h.9M317.0 583.0h.9M346.9 580.2h.9M347.5 582.0h.9M310.1 554.8h.9M316.4 578.9h.9M295.3 587.6h.9M311.9 578.2h.9M325.3 584.9h.9M342.9 547.8h.9M306.9 555.4h.9M314.0 554.4h.9M328.3 587.6h.9M327.0 588.3h.9M331.6 588.8h.9M332.0 588.8h.9M325.3 587.5h.9M335.4 591.0h.9M345.6 586.1h.9M346.6 578.4h.9M323.4 588.5h.9M344.5 589.0h.9M329.0 589.4h.9M334.2 588.9h.9M380.0 524.8h.9M376.8 528.0h.9M362.9 539.4h.9M374.5 525.2h.9M349.3 532.2h.9M362.7 520.9h.9M366.3 537.6h.9M361.7 538.1h.9M355.7 537.2h.9M366.5 534.9h.9M366.1 517.5h.9M350.5 524.7h.9M380.8 519.3h.9M367.6 535.9h.9M365.0 545.4h.9M372.7 517.3h.9M362.0 517.7h.9M361.2 521.1h.9M355.0 538.4h.9M366.9 531.2h.9M373.2 537.6h.9M366.3 513.3h.9M372.7 530.7h.9M346.7 524.0h.9M353.7 517.8h.9M370.5 521.4h.9M360.9 521.0h.9M372.2 515.4h.9M361.6 519.9h.9M348.5 535.1h.9M367.1 515.0h.9M374.2 508.4h.9M368.0 538.4h.9M366.3 537.8h.9M360.2 528.0h.9M360.1 523.2h.9M368.5 525.4h.9M370.7 530.7h.9M342.2 523.4h.9M356.5 518.0h.9M364.0 536.4h.9M368.9 528.7h.9M351.6 530.4h.9M357.6 522.3h.9M365.1 520.8h.9M356.1 529.1h.9M351.2 532.3h.9M367.3 519.2h.9M366.3 532.2h.9M368.6 527.6h.9M364.2 541.3h.9M366.5 533.2h.9M365.3 516.4h.9M368.7 526.1h.9M356.5 522.9h.9M356.7 530.7h.9M358.0 524.0h.9M360.3 526.8h.9M366.4 520.3h.9M380.5 528.0h.9M361.0 529.3h.9M360.2 516.0h.9M364.8 504.8h.9M364.1 523.4h.9M362.6 514.1h.9M356.5 518.8h.9M371.9 530.2h.9M357.0 512.7h.9M362.6 529.9h.9M352.6 526.6h.9M359.9 529.9h.9M363.3 522.6h.9M359.9 537.1h.9M369.2 536.3h.9M375.2 523.5h.9M364.0 528.7h.9M351.6 542.6h.9M348.1 515.7h.9M354.7 528.1h.9M369.7 539.4h.9M368.3 521.1h.9M366.8 514.4h.9M375.6 525.6h.9M342.0 525.9h.9M366.1 516.9h.9M357.2 523.3h.9M362.0 516.5h.9M367.5 523.6h.9M342.3 517.5h.9M372.9 538.9h.9M367.7 526.5h.9M357.6 514.5h.9M349.5 537.4h.9M341.3 527.8h.9M377.8 530.7h.9M350.6 524.3h.9M367.8 519.1h.9M353.7 526.4h.9M372.0 537.1h.9M375.1 531.6h.9M358.7 521.0h.9M371.1 523.0h.9M351.3 526.8h.9M356.5 525.3h.9M348.4 522.3h.9M372.3 527.6h.9M348.4 541.7h.9M358.3 523.3h.9M352.0 535.6h.9M360.8 564.1h.9M377.3 527.0h.9M350.6 538.7h.9M339.3 534.7h.9M348.8 561.4h.9M364.5 534.9h.9M348.6 535.8h.9M350.8 529.4h.9M345.5 541.7h.9M346.8 544.4h.9M361.0 537.3h.9M346.9 532.7h.9M349.2 535.8h.9M331.9 544.0h.9M357.6 557.4h.9M353.1 550.3h.9M352.2 538.9h.9M356.2 545.6h.9M363.7 521.9h.9M364.3 542.2h.9M348.1 544.1h.9M358.7 540.0h.9M361.7 539.0h.9M343.0 548.5h.9M350.1 555.9h.9M367.7 539.4h.9M358.4 553.7h.9M348.8 534.9h.9M366.8 532.2h.9M367.0 509.5h.9M353.9 522.0h.9M352.6 547.0h.9M357.1 528.5h.9M348.7 527.7h.9M354.3 537.8h.9M366.9 540.8h.9M365.3 540.0h.9M342.9 545.1h.9M374.5 527.7h.9M351.2 539.1h.9M351.2 548.6h.9M338.8 537.8h.9M357.0 550.2h.9M350.6 548.7h.9M345.5 526.6h.9M371.6 534.1h.9M349.2 547.2h.9M352.1 550.4h.9M353.7 524.5h.9M362.5 538.9h.9M357.7 538.3h.9M346.5 528.2h.9M350.7 545.6h.9M342.1 542.5h.9M356.9 537.8h.9M345.5 540.1h.9M346.1 530.6h.9M335.8 534.7h.9M356.6 528.4h.9M344.2 544.0h.9M352.9 545.0h.9M344.9 544.8h.9M336.8 547.0h.9M357.9 538.7h.9M340.8 543.7h.9M355.4 521.8h.9M333.7 540.7h.9M351.6 549.3h.9M347.9 551.8h.9M370.1 539.3h.9M351.2 540.8h.9M342.6 550.9h.9M351.1 544.4h.9M340.1 534.7h.9M351.3 545.2h.9M341.3 543.4h.9M348.4 547.2h.9M337.7 537.0h.9M338.3 541.9h.9M369.3 513.6h.9M340.9 548.0h.9M346.1 551.1h.9M341.6 546.5h.9M345.3 550.4h.9M370.5 535.7h.9M357.2 543.3h.9M341.7 545.2h.9M349.5 540.1h.9M365.3 535.9h.9M348.2 548.4h.9M346.5 530.7h.9M349.3 550.8h.9M347.3 546.5h.9M348.2 531.3h.9M375.5 561.6h.9M356.9 564.3h.9M384.5 575.2h.9M365.5 565.3h.9M361.7 573.1h.9M370.4 553.5h.9M380.2 579.4h.9M377.6 560.7h.9M381.9 569.3h.9M361.9 581.3h.9M374.3 583.1h.9M352.4 576.7h.9M365.0 572.7h.9M352.0 562.3h.9M358.0 578.0h.9M364.4 582.2h.9M362.2 565.8h.9M380.1 562.4h.9M374.3 582.0h.9M359.5 564.4h.9M360.2 572.7h.9M355.1 564.7h.9M365.9 552.6h.9M384.2 566.2h.9M362.8 565.6h.9M362.1 555.2h.9M367.0 572.7h.9M378.1 581.4h.9M378.3 574.2h.9M358.1 575.4h.9M354.6 554.7h.9M355.9 566.3h.9M355.0 571.1h.9M360.7 556.8h.9M357.3 557.0h.9M384.3 570.1h.9M374.4 575.7h.9M353.6 574.9h.9M358.6 554.0h.9M359.4 579.1h.9M361.7 580.8h.9M367.0 584.2h.9M380.7 556.0h.9M380.1 558.5h.9M366.2 565.9h.9M363.1 573.0h.9M379.4 554.9h.9M361.8 574.2h.9M358.4 558.2h.9M370.6 557.2h.9M377.4 553.5h.9M358.8 566.0h.9M354.8 552.3h.9M383.1 569.7h.9M380.4 575.4h.9M379.3 576.3h.9M363.6 568.7h.9M365.4 553.7h.9M374.0 552.7h.9M363.9 581.2h.9M370.1 579.4h.9M377.7 565.0h.9M375.6 559.3h.9M362.9 571.2h.9M368.4 575.1h.9M356.3 540.1h.9M311.5 557.1h.9M291.8 587.1h.9M297.9 549.4h.9M361.4 574.0h.9M295.1 561.9h.9M353.6 547.6h.9M302.3 566.9h.9M371.5 567.9h.9M363.3 573.1h.9" stroke="#a4aee6" stroke-width=".9" fill="none"/>
<path d="M317.2 569.5h.9M346.3 569.5h.9M318.4 555.5h.9M332.9 551.4h.9M316.1 571.8h.9M345.1 559.2h.9M319.2 574.0h.9M349.0 568.3h.9M320.6 555.2h.9M313.6 566.6h.9M327.7 583.4h.9M317.1 566.6h.9M318.0 560.8h.9M339.4 551.2h.9M328.1 550.7h.9M330.3 550.0h.9M350.0 570.3h.9M316.1 569.5h.9M331.0 583.4h.9M349.1 570.0h.9M316.4 576.6h.9M321.1 552.3h.9M343.0 579.2h.9M317.8 556.9h.9M332.0 549.2h.9M338.2 551.4h.9M316.3 564.0h.9M338.1 551.6h.9M347.4 574.3h.9M319.7 574.3h.9M344.4 553.4h.9M346.6 572.0h.9M323.2 552.1h.9M339.9 552.7h.9M345.6 562.3h.9M316.3 572.4h.9M343.6 552.2h.9M335.1 551.5h.9M328.4 551.2h.9M317.8 576.6h.9M347.3 563.5h.9M347.4 563.7h.9M350.2 566.1h.9M325.9 551.1h.9M327.3 550.8h.9M319.5 575.3h.9M317.3 573.0h.9M339.9 549.8h.9M324.0 553.1h.9M333.3 550.4h.9M313.1 565.6h.9M316.5 557.8h.9M316.6 566.3h.9M318.8 556.5h.9M315.3 563.2h.9M349.4 566.7h.9M320.6 554.1h.9M316.5 572.1h.9M318.8 556.4h.9M345.5 565.5h.9M343.9 575.2h.9M318.2 574.6h.9M327.2 583.1h.9M349.3 565.7h.9M342.8 583.0h.9M321.1 580.6h.9M318.1 571.2h.9M324.2 552.3h.9M343.3 576.9h.9M314.6 574.8h.9M341.4 553.3h.9M322.2 553.7h.9M315.2 563.0h.9M345.8 579.6h.9M316.1 560.8h.9M337.1 551.1h.9M315.3 574.9h.9M344.6 557.2h.9M316.5 555.1h.9M337.2 550.8h.9M318.9 556.7h.9M327.6 585.4h.9M347.9 567.1h.9M345.7 563.6h.9M343.8 578.0h.9M323.6 580.8h.9M336.1 550.8h.9M316.5 573.3h.9M314.2 566.8h.9M348.6 567.7h.9M315.5 564.7h.9M314.6 570.6h.9M345.3 579.9h.9M345.8 574.8h.9M349.6 566.7h.9M347.2 559.7h.9M314.6 572.9h.9M337.4 584.2h.9M319.0 556.0h.9M343.1 580.0h.9M343.3 554.6h.9M326.9 583.3h.9M317.2 561.9h.9M315.5 574.7h.9M346.5 571.2h.9M314.9 575.3h.9M332.4 583.6h.9M324.4 552.2h.9M323.3 580.4h.9M346.9 566.8h.9M333.2 587.4h.9M315.4 566.0h.9M331.0 584.1h.9M313.6 575.5h.9M316.3 573.7h.9M342.9 579.7h.9M318.2 578.0h.9M335.4 585.8h.9M320.2 577.4h.9M316.6 573.0h.9M315.3 574.9h.9M344.6 554.8h.9M327.4 583.1h.9M332.8 586.4h.9M344.3 582.1h.9M316.6 565.0h.9M321.3 554.8h.9M319.6 555.8h.9M321.9 579.4h.9M321.3 579.3h.9M316.8 574.8h.9M320.0 573.6h.9M349.1 569.8h.9M314.0 564.5h.9M344.3 556.7h.9M316.0 573.7h.9M317.0 575.1h.9M333.1 586.5h.9M347.1 566.1h.9M344.3 575.5h.9M337.8 583.8h.9M329.7 584.8h.9M336.1 585.7h.9M348.1 573.7h.9M336.0 584.4h.9M342.8 578.1h.9M336.1 585.4h.9M344.2 580.9h.9M320.9 575.6h.9M328.6 585.7h.9M323.2 580.2h.9M335.6 585.6h.9M335.3 586.2h.9M327.9 583.5h.9M346.9 569.9h.9M343.5 581.6h.9M347.6 570.5h.9M334.7 586.5h.9M323.0 579.8h.9M331.5 587.4h.9M331.6 585.5h.9M335.2 584.6h.9M343.5 581.8h.9M322.2 581.2h.9M342.5 582.2h.9M341.9 581.5h.9M361.9 523.4h.9M361.9 525.4h.9M367.0 528.8h.9M353.3 532.7h.9M363.3 526.3h.9M364.8 532.0h.9M365.6 531.4h.9M360.1 532.1h.9M361.0 533.0h.9M367.3 529.0h.9M362.0 532.3h.9M361.7 533.8h.9M353.2 533.5h.9M357.3 532.8h.9M368.1 527.9h.9M354.1 533.1h.9M356.7 535.1h.9M364.2 526.0h.9M353.1 534.6h.9M363.1 532.1h.9M360.6 523.8h.9M363.4 525.7h.9M364.7 529.1h.9M359.9 533.8h.9M366.4 527.9h.9M363.6 532.8h.9M353.2 533.3h.9M330.7 550.4h.9M346.4 562.7h.9M345.5 559.8h.9M361.7 533.7h.9M355.4 534.7h.9M359.2 532.6h.9M355.9 534.2h.9M355.7 532.5h.9M362.0 526.9h.9M357.6 534.7h.9M360.6 530.8h.9M340.4 549.9h.9M343.6 554.1h.9M359.1 533.5h.9M353.3 533.2h.9M354.5 532.3h.9M336.5 549.3h.9M361.6 532.2h.9M361.7 525.3h.9M363.0 525.0h.9M353.4 533.1h.9M335.0 551.3h.9M362.3 534.1h.9M343.6 551.5h.9M356.5 531.3h.9M365.5 527.9h.9M357.4 533.0h.9M345.7 559.0h.9M347.2 574.3h.9M346.4 552.6h.9M346.5 572.0h.9M344.2 581.3h.9M339.4 584.1h.9M344.4 582.9h.9M349.9 567.6h.9M349.4 568.7h.9M347.8 560.5h.9" stroke="#6e82dc" stroke-width=".9" fill="none"/>
<path d="M340.1 557.2h.9M330.0 554.0h.9M324.3 554.2h.9M321.1 559.7h.9M345.1 559.8h.9M321.4 556.8h.9M328.4 552.0h.9M326.4 552.6h.9M323.6 556.9h.9M339.6 557.5h.9M341.6 556.7h.9M335.9 552.3h.9M341.0 558.9h.9M342.7 564.4h.9M330.9 553.0h.9M320.1 566.8h.9M332.7 552.8h.9M336.7 551.8h.9M318.7 563.9h.9M340.3 558.9h.9M320.8 559.3h.9M339.6 558.1h.9M320.3 563.3h.9M320.5 568.9h.9M342.0 556.0h.9M319.3 563.9h.9M341.5 560.3h.9M344.2 574.2h.9M338.9 555.9h.9M324.3 556.6h.9M341.0 564.0h.9M341.9 564.2h.9M337.8 555.6h.9M342.0 562.0h.9M332.4 553.4h.9M320.5 563.4h.9M331.2 552.8h.9M343.8 564.7h.9M324.5 556.5h.9M325.2 556.1h.9M325.1 578.3h.9M318.6 564.1h.9M342.0 576.9h.9M341.6 575.2h.9M326.5 582.4h.9M337.5 552.7h.9M320.4 561.3h.9M320.5 558.2h.9M318.6 563.9h.9M338.4 579.6h.9M340.7 559.9h.9M337.7 578.7h.9M339.0 575.2h.9M341.0 565.7h.9M321.6 572.3h.9M319.8 559.1h.9M327.6 580.9h.9M344.7 565.8h.9M338.6 579.1h.9M327.6 553.3h.9M323.1 555.5h.9M322.2 573.8h.9M323.4 575.7h.9M324.9 554.2h.9M327.8 580.1h.9M319.7 568.9h.9M323.8 554.1h.9M343.3 561.8h.9M322.1 557.5h.9M344.8 568.3h.9M326.0 577.5h.9M334.8 580.6h.9M344.8 566.4h.9M327.6 579.3h.9M321.2 557.1h.9M323.8 575.3h.9M340.8 557.8h.9M342.0 569.1h.9M344.0 562.8h.9M341.8 559.2h.9M343.8 562.7h.9M341.4 554.8h.9M338.8 557.2h.9M320.7 564.3h.9M321.4 560.5h.9M340.6 575.4h.9M342.3 555.5h.9M332.9 552.7h.9M344.7 569.8h.9M340.0 578.6h.9M321.6 571.1h.9M341.5 563.2h.9M328.5 579.8h.9M342.2 556.1h.9M345.5 572.2h.9M338.8 574.6h.9M342.6 561.1h.9M319.3 565.1h.9M326.7 579.7h.9M344.5 572.8h.9M343.5 573.5h.9M326.9 553.9h.9M318.2 562.9h.9M341.9 567.3h.9M340.8 559.8h.9M340.9 577.2h.9M332.5 583.5h.9M324.8 576.6h.9M343.5 565.8h.9M340.5 554.8h.9M345.5 568.3h.9M332.8 580.9h.9M327.3 553.4h.9M320.1 567.3h.9M337.4 553.4h.9M335.6 582.6h.9M330.9 580.6h.9M343.1 573.0h.9M323.8 576.2h.9M341.6 557.4h.9M339.9 559.1h.9M341.1 565.0h.9M343.8 570.8h.9M343.7 557.0h.9M343.4 569.5h.9M330.5 583.0h.9M342.3 565.8h.9M342.7 554.5h.9M324.3 577.5h.9M325.7 579.4h.9M318.3 566.5h.9M320.4 566.6h.9M324.7 578.3h.9M329.6 553.8h.9M341.7 559.3h.9M323.0 554.4h.9M316.9 564.2h.9M338.4 579.3h.9M330.8 581.3h.9M328.1 552.3h.9M328.2 578.9h.9M329.4 580.9h.9M320.7 568.6h.9M319.0 569.8h.9M322.9 576.0h.9M343.6 558.6h.9M324.0 576.4h.9M341.5 565.6h.9M327.5 579.5h.9M338.5 581.9h.9M325.8 552.3h.9M319.9 555.7h.9M320.5 562.1h.9M319.8 562.0h.9M319.3 561.8h.9M342.8 563.1h.9M342.6 565.7h.9M319.4 559.9h.9M321.5 573.6h.9M321.5 558.2h.9M341.1 578.9h.9M330.7 552.1h.9M322.0 557.9h.9M325.2 578.6h.9M319.7 567.4h.9M319.1 560.4h.9M337.6 576.9h.9M338.6 554.9h.9M341.4 561.5h.9M337.7 577.3h.9M344.8 564.1h.9M319.4 557.4h.9M325.9 577.1h.9M338.6 576.4h.9M324.9 581.0h.9M324.1 576.9h.9M341.4 567.0h.9M343.5 560.9h.9M326.1 553.7h.9M345.2 569.1h.9M338.5 581.6h.9M327.0 579.6h.9M320.4 572.5h.9M336.3 579.3h.9M320.4 565.6h.9M323.7 576.0h.9M337.6 577.4h.9M332.4 581.1h.9M318.9 561.3h.9M343.8 555.7h.9M344.3 564.0h.9M341.2 566.1h.9M343.6 560.0h.9M342.0 561.9h.9M341.7 558.8h.9M344.7 562.2h.9M321.6 570.9h.9M345.2 561.5h.9M321.5 561.7h.9M341.4 573.7h.9M320.1 560.2h.9M324.0 556.0h.9M344.5 559.2h.9M338.5 555.6h.9M327.7 553.4h.9M340.8 576.4h.9M341.6 556.6h.9M339.6 556.6h.9M339.6 577.0h.9M321.7 559.1h.9M343.0 567.2h.9M342.9 564.3h.9M341.3 553.9h.9M327.6 580.4h.9M322.2 574.6h.9M322.6 557.5h.9M323.4 574.9h.9M340.5 573.3h.9M337.5 581.0h.9M319.3 568.9h.9M333.1 582.9h.9M334.2 553.1h.9M323.0 577.5h.9M340.6 564.4h.9M344.0 558.2h.9M319.4 557.5h.9M338.5 553.0h.9M344.3 566.0h.9M341.0 557.5h.9M318.5 565.5h.9M339.8 554.2h.9M344.3 571.8h.9M321.6 576.1h.9M317.6 563.2h.9M319.0 565.9h.9M319.7 568.9h.9M342.9 569.0h.9M340.8 575.5h.9M341.8 564.3h.9M335.8 582.4h.9M319.8 564.0h.9M321.5 559.1h.9M341.5 578.9h.9M338.3 554.5h.9M337.4 554.3h.9M322.3 575.7h.9M325.9 552.4h.9M317.4 564.5h.9M320.6 570.3h.9M323.1 557.4h.9M340.9 575.1h.9M344.8 560.2h.9M342.7 569.5h.9M342.0 568.5h.9M329.4 553.7h.9M321.5 570.9h.9M322.7 578.2h.9M344.1 572.6h.9M333.5 580.6h.9M344.8 567.9h.9M343.2 571.4h.9M319.9 558.0h.9M332.3 553.3h.9M325.4 580.1h.9M320.6 567.9h.9M327.6 552.2h.9M319.8 559.9h.9M342.0 576.3h.9M318.2 567.9h.9M340.9 564.5h.9M321.8 577.2h.9M341.6 577.9h.9M321.3 572.3h.9M344.5 562.3h.9M342.1 572.6h.9M321.9 577.1h.9M339.5 580.9h.9M341.2 565.5h.9M335.8 583.2h.9M319.4 563.3h.9M344.1 573.5h.9M326.8 580.1h.9M325.2 553.7h.9M334.8 580.8h.9M345.0 572.7h.9M327.4 580.2h.9M345.3 571.2h.9M337.7 580.5h.9M342.6 565.8h.9M317.6 564.4h.9M344.1 559.1h.9M327.7 581.9h.9M324.1 580.3h.9M320.9 557.7h.9M330.5 551.8h.9M334.6 582.3h.9M319.6 566.7h.9M320.0 564.7h.9M320.5 569.3h.9M345.7 571.4h.9M328.5 582.7h.9M332.9 582.9h.9M332.3 580.8h.9M321.3 556.3h.9M324.1 553.5h.9M324.7 579.6h.9M338.3 578.0h.9M344.6 567.8h.9M323.4 557.5h.9M337.2 582.3h.9M328.0 553.0h.9M343.3 560.8h.9M344.3 570.2h.9M344.1 568.7h.9M330.0 581.7h.9M340.2 557.7h.9M323.0 554.8h.9M342.6 556.0h.9M339.6 577.5h.9M338.5 556.0h.9M325.3 578.4h.9M335.0 552.0h.9M335.7 580.8h.9M337.6 577.7h.9M338.5 583.2h.9M340.1 578.8h.9M339.5 580.7h.9M340.9 581.2h.9M329.0 581.0h.9M337.0 577.8h.9M339.8 579.6h.9M335.8 583.5h.9M336.1 580.5h.9M343.0 574.3h.9M326.5 580.2h.9M331.7 580.1h.9M335.3 582.9h.9M339.9 579.1h.9M337.3 580.6h.9M332.5 582.9h.9M338.4 580.2h.9M331.1 582.7h.9M337.9 580.4h.9M343.1 572.0h.9M341.1 578.4h.9M333.9 582.5h.9M338.8 582.1h.9M327.5 580.2h.9M343.3 572.5h.9M336.7 581.8h.9M338.9 581.9h.9M339.0 579.9h.9M341.0 573.8h.9M339.5 582.0h.9M339.2 578.6h.9M339.9 580.0h.9M329.0 580.4h.9M321.7 576.4h.9M338.4 581.8h.9M333.9 579.9h.9M343.4 569.9h.9M341.4 578.6h.9M339.2 574.1h.9M334.4 582.8h.9M338.0 583.1h.9M338.8 575.5h.9M343.8 574.6h.9M327.5 582.1h.9M339.8 575.5h.9M337.7 578.9h.9M332.6 582.2h.9M326.3 582.2h.9M338.2 556.4h.9M343.1 555.4h.9M342.9 561.7h.9M335.5 553.4h.9M328.4 553.1h.9M336.9 553.9h.9M341.4 554.8h.9M338.9 556.9h.9M341.8 554.1h.9M337.1 553.9h.9M340.9 554.9h.9M334.5 553.4h.9M345.0 567.9h.9M344.0 557.4h.9M341.2 573.0h.9M342.0 573.5h.9M343.5 563.0h.9M342.9 560.5h.9M340.3 576.0h.9M344.3 567.8h.9M342.5 575.3h.9" stroke="#2f4acc" stroke-width=".9" fill="none"/>
<path d="M328.9 556.7h.9M322.4 563.1h.9M335.8 555.5h.9M329.3 556.6h.9M337.5 572.4h.9M324.2 558.6h.9M336.0 554.8h.9M335.0 555.8h.9M337.9 560.6h.9M335.7 556.2h.9M327.7 556.0h.9M323.7 558.6h.9M340.2 561.9h.9M324.8 561.2h.9M323.6 571.7h.9M338.3 566.0h.9M329.1 554.5h.9M332.3 554.0h.9M339.6 565.6h.9M334.1 554.6h.9M327.5 557.1h.9M327.2 574.5h.9M339.0 567.1h.9M325.0 571.9h.9M332.4 554.2h.9M339.9 565.2h.9M321.3 568.3h.9M338.2 559.1h.9M329.8 555.5h.9M338.7 562.0h.9M333.0 554.5h.9M336.0 556.5h.9M330.1 555.5h.9M329.0 554.3h.9M337.6 557.7h.9M336.8 572.7h.9M325.9 560.7h.9M337.2 558.7h.9M326.7 555.3h.9M326.5 558.3h.9M332.8 554.4h.9M339.0 561.8h.9M341.0 563.0h.9M338.8 563.2h.9M330.6 554.4h.9M324.3 571.1h.9M339.7 562.8h.9M323.8 557.5h.9M339.3 560.3h.9M327.0 555.4h.9M322.3 563.9h.9M333.8 555.1h.9M337.4 557.2h.9M321.9 569.9h.9M323.9 559.8h.9M322.3 560.0h.9M338.1 561.0h.9M334.7 555.4h.9M325.7 572.9h.9M329.0 555.3h.9M324.0 561.6h.9M323.9 559.7h.9M323.8 568.6h.9M331.7 555.6h.9M336.2 557.2h.9M334.4 555.7h.9M328.2 556.8h.9M324.0 558.9h.9M335.4 555.3h.9M336.5 555.2h.9M323.8 562.9h.9M323.3 570.3h.9M333.9 555.8h.9M335.8 555.3h.9M331.2 577.8h.9M328.4 575.0h.9M331.8 579.4h.9M335.1 574.5h.9M323.3 566.3h.9M321.1 565.3h.9M323.4 562.6h.9M336.6 573.5h.9M328.9 574.4h.9M323.3 570.7h.9M328.3 555.7h.9M325.1 575.7h.9M330.4 577.0h.9M323.9 573.6h.9M323.3 570.2h.9M322.6 566.7h.9M328.2 575.3h.9M324.9 573.7h.9M339.3 564.3h.9M332.8 554.4h.9M322.8 560.8h.9M322.5 567.3h.9M340.3 570.1h.9M341.1 562.3h.9M341.3 569.5h.9M336.9 576.5h.9M323.9 560.5h.9M322.4 565.9h.9M328.2 556.6h.9M322.4 564.0h.9M325.2 574.6h.9M330.4 577.3h.9M327.8 573.2h.9M322.0 570.4h.9M339.2 568.3h.9M323.4 562.7h.9M326.4 557.9h.9M325.1 573.8h.9M324.1 561.2h.9M323.3 569.2h.9M341.1 571.8h.9M328.8 575.4h.9M327.9 554.5h.9M327.4 557.1h.9M334.8 576.1h.9M334.2 577.0h.9M323.5 571.7h.9M330.1 576.4h.9M324.2 571.5h.9M329.3 577.0h.9M322.9 570.5h.9M323.2 561.3h.9M334.9 576.0h.9M322.8 562.7h.9M326.7 573.1h.9M327.0 576.8h.9M325.4 557.9h.9M325.2 572.6h.9M332.0 555.6h.9M322.1 559.4h.9M321.0 565.1h.9M324.5 561.6h.9M323.0 560.9h.9M326.3 557.6h.9M341.4 571.3h.9M335.1 577.1h.9M327.0 555.3h.9M329.1 554.6h.9M336.0 554.7h.9M336.7 557.9h.9M335.9 574.7h.9M340.9 562.0h.9M324.8 557.0h.9M336.5 577.2h.9M335.5 555.2h.9M325.9 557.0h.9M326.0 576.5h.9M333.5 578.4h.9M335.4 554.9h.9M324.2 574.9h.9M323.6 564.7h.9M339.3 566.7h.9M321.4 567.3h.9M342.3 570.1h.9M340.6 561.9h.9M326.5 572.8h.9M337.9 558.8h.9M322.8 571.8h.9M324.1 562.5h.9M338.6 563.0h.9M320.9 567.1h.9M327.9 556.1h.9M334.4 578.4h.9M323.8 560.8h.9M326.7 558.0h.9M329.1 554.7h.9M339.5 566.4h.9M322.4 560.5h.9M323.7 564.7h.9M320.8 565.4h.9M327.0 573.5h.9M332.6 555.4h.9M338.3 563.3h.9M330.6 578.1h.9M322.4 566.3h.9M341.1 568.4h.9M325.5 574.3h.9M340.8 561.4h.9M333.4 577.0h.9M322.2 569.6h.9M328.8 577.2h.9M323.1 568.2h.9M330.2 576.9h.9M336.7 573.6h.9M328.2 575.7h.9M339.1 562.7h.9M325.4 556.6h.9M337.0 575.0h.9M326.2 572.4h.9M333.6 555.0h.9M338.5 562.7h.9M334.9 578.2h.9M339.7 569.6h.9M324.3 562.3h.9M338.1 561.2h.9M339.4 572.0h.9M333.3 579.3h.9M339.3 564.3h.9M322.6 571.3h.9M340.8 571.4h.9M323.5 565.9h.9M331.4 555.2h.9M323.6 573.1h.9M337.9 573.6h.9M330.7 577.5h.9M324.8 558.8h.9M341.2 562.8h.9M339.4 570.4h.9M322.3 561.4h.9M321.9 564.0h.9M325.4 558.8h.9M322.3 562.1h.9M324.5 576.3h.9M323.0 558.8h.9M338.0 561.1h.9M322.5 570.5h.9M341.5 570.0h.9M320.7 566.3h.9M325.2 557.9h.9M327.8 556.5h.9M335.9 578.4h.9M334.9 576.9h.9M331.2 576.1h.9M325.6 561.2h.9M326.3 573.2h.9M338.7 558.0h.9M333.2 578.2h.9M322.9 569.2h.9M326.5 559.8h.9M323.2 572.2h.9M320.8 567.5h.9M322.3 562.6h.9M326.5 557.2h.9M325.6 576.7h.9M326.4 573.8h.9M327.0 575.1h.9M325.6 576.3h.9M327.5 557.3h.9M331.7 577.7h.9M325.0 573.2h.9M324.9 561.9h.9M335.2 576.2h.9M339.7 563.1h.9M338.4 566.3h.9M330.4 575.0h.9M322.3 570.5h.9M329.9 577.5h.9M329.2 574.3h.9M325.8 556.2h.9M325.6 576.2h.9M325.2 572.3h.9M331.5 554.0h.9M324.5 559.7h.9M321.3 565.4h.9M340.8 572.0h.9M331.6 579.3h.9M320.7 566.4h.9M339.5 573.4h.9M321.9 559.4h.9M330.3 555.0h.9M340.3 569.7h.9M339.0 566.9h.9M336.2 555.3h.9M335.1 575.2h.9M323.3 570.7h.9M337.9 559.9h.9M322.5 561.2h.9M325.9 557.1h.9M322.9 568.3h.9M326.1 575.8h.9M324.3 573.0h.9M331.1 578.9h.9M325.9 573.7h.9M322.8 571.1h.9M325.3 561.5h.9M340.8 569.6h.9M339.4 561.8h.9M325.2 571.9h.9M337.8 572.9h.9M334.1 579.2h.9M334.8 576.9h.9M329.5 575.7h.9M331.1 554.7h.9M323.7 562.2h.9M322.2 566.1h.9M323.2 565.2h.9M325.8 576.5h.9M338.5 572.2h.9M326.5 558.4h.9M330.1 577.0h.9M328.7 576.8h.9M333.8 577.0h.9M324.8 559.6h.9M326.0 575.4h.9M327.8 557.1h.9M338.4 572.7h.9M337.8 558.5h.9M333.3 577.9h.9M327.6 556.0h.9M326.0 557.1h.9M327.7 556.6h.9M322.6 564.9h.9M338.6 560.4h.9M341.0 562.1h.9M322.7 565.6h.9M329.5 577.2h.9M331.8 579.9h.9M337.1 575.6h.9M321.8 566.5h.9M326.5 557.9h.9M341.6 572.0h.9M341.5 569.9h.9M322.1 559.7h.9M324.0 574.9h.9M335.4 579.1h.9M331.7 577.4h.9M321.1 568.6h.9M326.0 575.8h.9M324.3 561.0h.9M335.1 576.8h.9M338.2 563.3h.9M338.7 561.5h.9M328.9 556.7h.9M335.5 577.4h.9M328.0 577.7h.9M333.6 576.1h.9M333.7 577.7h.9M341.1 570.1h.9M339.8 569.2h.9M323.1 559.5h.9M340.4 569.7h.9M330.7 578.5h.9M341.9 570.9h.9M325.9 573.9h.9M335.6 575.5h.9M330.3 554.2h.9M339.0 572.4h.9M329.8 574.4h.9M340.0 570.3h.9M324.6 557.1h.9M322.7 567.3h.9M341.8 570.3h.9M332.0 555.6h.9M322.5 561.1h.9M332.1 554.1h.9M339.6 571.0h.9M321.3 569.8h.9M332.3 579.3h.9M332.8 578.4h.9M336.1 575.0h.9M326.4 573.4h.9M339.7 571.3h.9M340.0 571.5h.9M327.7 578.0h.9M330.7 577.8h.9M331.7 579.4h.9M335.2 578.5h.9M330.6 578.2h.9M334.0 578.0h.9M338.8 572.7h.9M329.2 578.3h.9M340.2 570.8h.9M340.3 570.8h.9M323.1 569.3h.9M332.8 578.2h.9M330.1 575.2h.9M335.4 578.2h.9M337.5 573.4h.9M330.2 574.6h.9M333.4 577.6h.9M328.7 576.4h.9M335.3 577.1h.9M336.3 578.1h.9M336.6 575.2h.9M333.0 576.6h.9M326.6 576.0h.9M336.9 574.7h.9M330.3 577.8h.9M329.7 578.1h.9M330.7 579.1h.9M330.6 577.0h.9M340.2 570.7h.9M328.7 574.3h.9M338.5 573.4h.9M331.4 579.8h.9M324.0 574.2h.9M337.0 575.0h.9M329.9 578.1h.9M329.2 578.7h.9M337.9 574.6h.9M329.4 575.1h.9M325.6 574.5h.9M322.8 570.4h.9M334.7 575.1h.9M324.3 572.2h.9M333.6 577.0h.9M334.6 578.3h.9M334.1 579.4h.9M339.6 568.7h.9M338.2 574.4h.9M337.5 572.8h.9M341.1 572.0h.9M342.0 569.3h.9M328.4 578.2h.9M338.2 571.4h.9M332.4 576.4h.9M334.9 555.1h.9M335.9 555.9h.9M339.1 560.1h.9M341.9 570.7h.9M338.4 558.0h.9" stroke="#1c38c4" stroke-width=".9" fill="none"/>
<path d="M327.5 570.3h.9M336.1 559.7h.9M336.8 561.9h.9M336.9 560.1h.9M338.2 569.6h.9M338.1 563.5h.9M335.1 557.7h.9M336.9 562.8h.9M324.1 568.4h.9M329.0 556.9h.9M337.3 564.5h.9M334.0 557.5h.9M326.3 562.8h.9M337.5 566.1h.9M337.4 561.5h.9M327.6 561.2h.9M325.3 567.6h.9M329.5 558.6h.9M331.7 556.9h.9M337.6 564.2h.9M332.9 556.0h.9M336.9 563.1h.9M337.8 562.4h.9M337.0 563.4h.9M325.4 567.9h.9M325.7 564.0h.9M329.1 558.9h.9M325.9 566.7h.9M334.8 558.1h.9M328.4 558.4h.9M327.3 572.6h.9M330.1 556.9h.9M325.6 563.8h.9M325.6 562.1h.9M334.1 557.6h.9M328.8 557.9h.9M337.2 561.7h.9M336.6 572.0h.9M336.7 559.9h.9M336.3 559.0h.9M327.8 559.0h.9M338.9 569.1h.9M325.7 565.1h.9M326.1 562.3h.9M329.8 556.8h.9M326.7 562.2h.9M331.3 557.1h.9M334.2 556.2h.9M329.4 557.0h.9M325.2 563.8h.9M335.2 558.4h.9M327.7 560.1h.9M325.1 565.0h.9M337.5 571.4h.9M327.3 560.2h.9M336.9 563.8h.9M328.9 559.5h.9M330.2 558.0h.9M333.1 573.7h.9M336.9 562.1h.9M336.6 559.1h.9M335.2 558.6h.9M331.6 572.8h.9M327.8 570.8h.9M336.5 559.8h.9M336.6 558.7h.9M326.5 571.2h.9M327.3 560.1h.9M329.8 558.3h.9M329.7 558.6h.9M331.9 573.2h.9M332.5 575.7h.9M330.6 574.5h.9M328.9 572.5h.9M337.9 568.6h.9M334.9 572.1h.9M329.5 572.2h.9M335.8 571.8h.9M325.7 568.4h.9M326.0 569.6h.9M338.4 568.5h.9M329.6 573.0h.9M334.1 556.6h.9M328.6 571.3h.9M333.0 573.1h.9M333.9 575.4h.9M326.8 572.2h.9M330.3 574.3h.9M325.5 565.0h.9M327.1 559.2h.9M333.6 572.9h.9M338.2 569.7h.9M335.4 557.6h.9M337.4 565.2h.9M331.8 575.2h.9M324.9 566.1h.9M324.4 565.7h.9M334.0 557.4h.9M324.7 565.3h.9M325.2 567.3h.9M326.0 569.0h.9M334.2 572.7h.9M325.5 569.7h.9M328.4 572.2h.9M326.7 571.5h.9M334.1 556.7h.9M330.5 572.8h.9M335.7 558.3h.9M324.5 569.3h.9M335.3 572.8h.9M336.0 558.7h.9M326.2 570.1h.9M325.6 569.4h.9M325.8 566.0h.9M327.0 572.4h.9M328.4 558.2h.9M337.1 566.1h.9M325.3 569.7h.9M335.4 573.3h.9M336.9 559.8h.9M325.8 569.6h.9M329.0 558.5h.9M327.4 571.3h.9M336.7 559.7h.9M337.1 571.1h.9M329.6 572.3h.9M333.8 556.7h.9M330.1 573.0h.9M332.9 573.2h.9M326.0 561.2h.9M338.1 570.4h.9M333.0 575.5h.9M324.5 570.1h.9M333.0 574.0h.9M326.1 569.3h.9M324.0 567.4h.9M332.4 575.5h.9M325.8 570.5h.9M324.3 569.1h.9M326.2 569.6h.9M337.3 565.8h.9M325.5 563.2h.9M325.4 570.1h.9M337.2 564.6h.9M331.7 572.8h.9M325.9 570.7h.9M329.8 558.6h.9M333.6 572.9h.9M334.7 574.5h.9M329.1 573.1h.9M334.4 557.2h.9M335.4 558.2h.9M325.1 565.0h.9M324.9 568.7h.9M328.9 571.9h.9M336.3 571.8h.9M337.5 570.9h.9M338.0 561.8h.9M325.4 570.3h.9M331.6 557.2h.9M326.7 560.1h.9M328.4 573.1h.9M325.1 570.3h.9M326.8 572.5h.9M332.1 557.5h.9M326.5 560.2h.9M324.0 564.7h.9M326.3 568.7h.9M337.6 570.4h.9M328.1 559.2h.9M331.6 557.4h.9M325.5 569.0h.9M325.5 564.1h.9M333.9 556.7h.9M337.0 558.8h.9M331.3 557.7h.9M325.8 567.5h.9M330.3 574.1h.9M324.1 568.1h.9M328.5 559.4h.9M324.4 568.5h.9M332.3 556.8h.9M337.2 563.0h.9M337.2 566.7h.9M324.2 563.9h.9M324.4 563.6h.9M337.7 563.9h.9M331.6 557.4h.9M332.6 575.6h.9M333.4 556.8h.9M336.3 558.7h.9M329.6 557.5h.9M336.4 559.5h.9M325.3 568.2h.9M326.1 567.8h.9M336.6 571.3h.9M338.4 568.4h.9M337.1 561.1h.9M325.8 568.2h.9M325.6 570.8h.9M325.3 567.5h.9M329.2 557.5h.9M328.0 560.0h.9M324.6 565.2h.9M325.8 565.5h.9M328.8 573.2h.9M325.0 565.0h.9M335.9 558.3h.9M324.0 564.9h.9M331.7 557.4h.9M324.9 567.8h.9M325.2 562.3h.9M326.8 569.7h.9M328.1 560.2h.9M325.6 566.3h.9M326.7 572.6h.9M325.6 569.9h.9M333.8 557.6h.9M337.9 569.6h.9M324.0 566.0h.9M324.1 565.0h.9M333.7 573.0h.9M331.1 574.1h.9M325.0 568.5h.9M332.5 574.6h.9M325.1 566.1h.9M324.6 566.5h.9M325.4 567.1h.9M338.3 567.3h.9M324.0 565.0h.9M334.8 556.3h.9M324.5 566.2h.9M336.6 559.2h.9M329.9 573.3h.9M335.2 572.3h.9M331.2 574.6h.9M333.0 575.9h.9M335.5 572.6h.9M326.6 569.1h.9M332.3 576.0h.9M329.0 573.2h.9M336.9 570.7h.9M331.5 573.3h.9M334.9 574.1h.9M331.8 574.5h.9M338.9 568.7h.9M333.9 573.3h.9M329.7 572.3h.9M339.0 568.9h.9M334.0 574.3h.9M325.3 571.4h.9M332.8 576.0h.9M331.7 574.8h.9M326.7 569.3h.9M326.4 571.0h.9M338.2 568.7h.9M332.2 575.8h.9M333.1 575.0h.9M332.0 576.1h.9M333.2 576.2h.9M335.0 574.3h.9M333.4 573.5h.9M333.9 574.2h.9M338.2 568.5h.9M331.3 575.2h.9M338.2 571.2h.9M332.9 574.4h.9M331.6 573.1h.9M337.7 569.0h.9M335.1 572.8h.9M335.0 572.2h.9M333.7 573.8h.9M338.5 569.7h.9M335.5 572.3h.9M334.0 557.2h.9" stroke="#1a5ad0" stroke-width=".9" fill="none"/>
<path d="M336.4 566.7h.9M329.0 559.9h.9M330.6 559.3h.9M337.4 567.6h.9M335.0 558.5h.9M326.1 563.5h.9M328.1 561.3h.9M334.7 571.6h.9M331.7 557.9h.9M336.4 565.8h.9M326.2 563.9h.9M330.1 558.5h.9M326.9 562.9h.9M328.1 561.2h.9M334.7 559.2h.9M330.8 559.2h.9M331.0 558.4h.9M333.6 571.5h.9M336.5 563.1h.9M336.6 565.1h.9M336.0 565.7h.9M336.3 566.2h.9M328.7 560.3h.9M328.0 562.5h.9M326.9 566.9h.9M329.0 560.6h.9M328.5 561.1h.9M326.7 563.7h.9M336.1 561.7h.9M331.8 558.1h.9M336.0 565.6h.9M333.5 558.4h.9M335.9 563.5h.9M336.3 562.4h.9M335.9 561.7h.9M333.3 557.8h.9M333.5 558.8h.9M333.0 571.6h.9M332.3 558.5h.9M335.9 560.9h.9M331.6 558.2h.9M327.2 564.5h.9M327.4 561.9h.9M332.3 558.4h.9M327.6 561.3h.9M327.2 566.1h.9M336.6 563.1h.9M326.8 566.9h.9M328.6 567.9h.9M328.2 561.2h.9M336.2 561.3h.9M332.1 572.3h.9M326.3 565.8h.9M333.2 558.7h.9M335.7 562.4h.9M334.5 558.6h.9M333.4 558.8h.9M334.9 559.9h.9M330.0 559.5h.9M332.0 558.3h.9M328.7 570.9h.9M328.7 561.2h.9M336.3 564.9h.9M334.7 559.4h.9M336.0 564.6h.9M331.6 558.5h.9M328.5 567.8h.9M329.4 571.0h.9M327.4 562.9h.9M336.1 562.5h.9M326.9 566.0h.9M336.7 568.7h.9M332.9 557.9h.9M327.8 569.8h.9M326.6 566.0h.9M328.1 566.9h.9M327.1 567.2h.9M329.4 570.4h.9M330.2 558.6h.9M335.4 559.8h.9M326.4 565.1h.9M329.1 570.1h.9M331.5 572.0h.9M326.9 564.6h.9M327.2 566.3h.9M336.5 566.3h.9M326.9 563.8h.9M329.1 561.0h.9M328.4 570.8h.9M327.4 564.0h.9M336.3 565.4h.9M336.8 570.6h.9M326.2 563.4h.9M333.6 572.2h.9M332.1 572.0h.9M336.8 567.9h.9M337.6 568.6h.9M329.2 560.7h.9M328.1 568.3h.9M328.0 569.5h.9M334.6 572.1h.9M326.7 565.8h.9M334.6 571.0h.9M336.1 561.8h.9M327.0 564.3h.9M326.1 564.6h.9M327.4 565.8h.9M330.9 571.4h.9M329.6 558.9h.9M328.9 570.4h.9M327.0 563.9h.9M327.8 561.2h.9M337.4 568.9h.9M333.3 557.8h.9M328.2 567.3h.9M329.3 570.6h.9M333.8 572.3h.9M337.2 569.9h.9M336.1 565.7h.9M330.3 559.4h.9M332.6 557.9h.9M328.0 566.3h.9M329.1 570.9h.9M336.4 570.8h.9M331.4 571.6h.9M330.2 571.3h.9M335.0 571.0h.9M336.2 562.5h.9M327.0 563.9h.9M327.7 569.2h.9M329.1 560.3h.9M336.6 567.4h.9M327.7 561.5h.9M337.0 569.3h.9M328.3 566.9h.9M336.2 565.1h.9M336.1 563.5h.9M328.1 567.0h.9M335.1 559.2h.9M337.3 567.2h.9M327.6 562.2h.9M335.2 558.8h.9M328.7 570.0h.9M327.7 568.1h.9M327.3 566.4h.9M336.5 563.2h.9M333.8 558.8h.9M332.4 557.8h.9M337.4 567.7h.9M337.6 568.4h.9M330.0 571.7h.9M328.5 570.0h.9M327.5 568.6h.9M326.7 563.1h.9M326.1 564.3h.9M335.7 570.8h.9M328.3 571.0h.9M336.7 569.1h.9M328.6 568.5h.9M336.5 569.5h.9M327.5 566.3h.9M329.1 560.9h.9M327.4 563.4h.9M335.3 570.5h.9M326.9 562.6h.9M336.7 566.4h.9M335.6 571.5h.9M330.3 572.0h.9M330.3 558.3h.9M332.9 572.6h.9M333.0 571.4h.9M330.5 572.2h.9M334.2 571.1h.9M329.3 571.0h.9M333.8 571.3h.9M330.3 571.6h.9M332.8 571.3h.9M336.6 569.8h.9M332.5 571.3h.9M334.5 572.2h.9M332.8 572.5h.9M330.3 571.2h.9M333.5 572.5h.9M333.3 572.6h.9M336.7 570.6h.9M334.0 571.3h.9M330.9 572.3h.9M328.6 568.6h.9M337.2 569.5h.9M331.5 571.5h.9M328.2 570.0h.9M329.2 570.7h.9M332.4 557.7h.9" stroke="#188ccc" stroke-width=".9" fill="none"/>
<path d="M335.7 565.7h.9M335.3 561.0h.9M329.5 562.0h.9M332.5 570.5h.9M334.0 560.0h.9M335.0 565.2h.9M335.3 565.7h.9M335.0 566.0h.9M328.3 564.5h.9M332.9 559.4h.9M329.4 562.0h.9M334.9 565.4h.9M328.6 565.2h.9M331.0 568.2h.9M335.4 566.2h.9M327.9 562.8h.9M329.1 569.2h.9M328.7 567.6h.9M331.2 559.8h.9M334.3 570.6h.9M329.2 569.5h.9M333.5 560.0h.9M336.3 567.0h.9M334.9 561.4h.9M336.0 568.6h.9M335.4 569.9h.9M327.7 563.4h.9M335.9 567.2h.9M328.1 563.4h.9M330.2 567.4h.9M329.8 569.7h.9M331.4 559.9h.9M329.2 566.6h.9M330.1 569.2h.9M332.1 559.5h.9M334.2 569.7h.9M335.7 566.2h.9M333.0 569.2h.9M329.1 561.1h.9M331.0 570.6h.9M331.2 566.9h.9M328.8 561.7h.9M328.3 565.4h.9M334.5 560.1h.9M327.9 565.3h.9M335.0 564.3h.9M332.2 570.9h.9M334.7 561.3h.9M329.0 562.4h.9M329.2 569.8h.9M334.9 561.2h.9M330.7 568.4h.9M329.0 568.6h.9M331.3 569.2h.9M331.0 568.3h.9M331.7 559.2h.9M333.7 559.2h.9M329.4 569.1h.9M329.4 561.8h.9M328.1 564.1h.9M335.9 566.4h.9M335.6 566.6h.9M330.8 568.5h.9M327.6 564.5h.9M333.3 570.1h.9M335.5 563.4h.9M331.4 559.6h.9M329.7 567.5h.9M328.5 563.9h.9M329.6 560.9h.9M332.9 559.1h.9M328.9 566.1h.9M328.7 566.7h.9M330.7 567.5h.9M328.0 565.3h.9M335.0 561.8h.9M332.4 568.3h.9M330.0 569.1h.9M333.3 569.3h.9M335.3 567.2h.9M330.3 570.8h.9M328.4 563.6h.9M329.9 568.9h.9M329.6 565.9h.9M335.2 564.9h.9M334.9 561.8h.9M329.6 569.3h.9M328.6 563.1h.9M331.2 560.1h.9M333.1 559.6h.9M330.1 567.4h.9M334.9 570.2h.9M334.5 569.8h.9M329.0 567.0h.9M336.2 567.6h.9M328.8 567.1h.9M335.3 561.2h.9M328.9 568.5h.9M328.0 564.5h.9M329.3 569.0h.9M328.4 564.7h.9M327.7 564.4h.9M335.7 568.3h.9M334.4 560.9h.9M330.8 568.4h.9M328.0 564.2h.9M335.4 563.4h.9M330.6 566.9h.9M334.0 560.1h.9M332.6 569.0h.9M328.8 562.8h.9M327.6 563.7h.9M336.6 568.2h.9M329.8 561.0h.9M332.1 567.8h.9M331.8 559.9h.9M329.7 561.3h.9M327.5 564.3h.9M328.8 565.4h.9M330.4 570.7h.9M332.2 571.1h.9M336.5 568.5h.9M334.2 569.9h.9M332.1 568.8h.9M331.2 568.4h.9M329.2 568.1h.9M329.8 569.3h.9M328.8 566.2h.9M330.4 567.8h.9M331.3 568.1h.9M335.0 569.8h.9M333.0 569.4h.9M333.4 570.6h.9M336.1 567.7h.9M332.0 570.3h.9M335.7 563.3h.9M329.7 566.6h.9M331.4 570.5h.9M330.8 567.3h.9M334.1 559.3h.9M330.3 570.7h.9M328.6 568.5h.9M331.2 570.7h.9M335.9 569.4h.9M330.0 567.7h.9M336.6 568.6h.9M335.4 568.0h.9M335.3 566.6h.9M331.5 570.1h.9M333.9 569.7h.9M328.7 568.7h.9M335.6 565.8h.9M334.1 570.2h.9M333.1 558.9h.9M330.5 570.0h.9M330.1 567.3h.9M336.5 569.1h.9M331.0 559.8h.9M331.5 568.3h.9M335.8 564.7h.9M328.2 563.7h.9M329.4 562.2h.9M330.0 566.2h.9M330.9 569.9h.9M330.9 570.5h.9M335.3 561.3h.9M336.0 568.5h.9M335.6 568.0h.9M328.3 565.7h.9M329.8 560.7h.9M336.0 568.0h.9M335.5 563.1h.9M331.8 558.9h.9M329.1 569.4h.9M332.0 569.3h.9M335.0 564.5h.9M336.1 569.7h.9M329.3 565.9h.9M330.3 569.0h.9M329.3 567.9h.9M331.7 559.5h.9M334.0 569.6h.9M333.4 569.8h.9M335.5 567.4h.9M334.2 571.0h.9M332.0 570.8h.9M329.2 570.0h.9M336.3 568.8h.9M330.8 569.3h.9M331.3 570.6h.9M331.3 569.5h.9M332.3 568.5h.9M333.5 569.9h.9M333.6 570.7h.9M334.0 570.4h.9M331.3 569.0h.9M330.2 568.6h.9M331.3 570.4h.9M330.2 568.5h.9M332.3 569.6h.9M334.3 570.0h.9M335.2 570.4h.9M332.7 569.5h.9M336.1 569.0h.9M330.3 569.5h.9M333.1 571.2h.9M335.5 569.8h.9M335.4 570.0h.9M335.2 569.6h.9M336.4 569.1h.9M329.6 569.6h.9M332.6 559.1h.9" stroke="#18b4ac" stroke-width=".9" fill="none"/>
<path d="M332.0 567.1h.9M331.5 566.9h.9M331.7 565.2h.9M333.0 560.2h.9M330.3 564.9h.9M330.1 564.4h.9M330.4 561.7h.9M331.8 565.5h.9M330.4 561.9h.9M332.2 567.0h.9M330.3 564.8h.9M335.3 568.4h.9M334.2 561.7h.9M333.3 560.8h.9M330.5 562.0h.9M333.1 566.1h.9M333.7 566.7h.9M330.6 562.1h.9M331.6 566.4h.9M334.1 560.9h.9M334.6 565.2h.9M335.1 568.3h.9M331.4 561.0h.9M329.4 563.2h.9M333.2 569.1h.9M333.3 560.1h.9M333.0 566.4h.9M334.5 563.5h.9M332.8 566.1h.9M329.9 563.4h.9M330.3 565.3h.9M333.6 566.0h.9M330.6 562.0h.9M329.2 564.0h.9M333.7 566.9h.9M334.5 564.5h.9M335.1 568.9h.9M334.2 566.9h.9M331.3 561.3h.9M329.7 563.6h.9M333.9 561.1h.9M334.6 563.5h.9M334.1 560.7h.9M330.4 561.4h.9M334.5 563.1h.9M334.4 569.1h.9M332.0 560.0h.9M329.0 563.2h.9M334.3 567.8h.9M329.7 565.1h.9M331.7 560.1h.9M331.3 561.3h.9M330.1 564.8h.9M333.1 565.7h.9M335.2 567.9h.9M333.6 568.7h.9M329.2 562.8h.9M330.2 562.6h.9M331.9 560.1h.9M334.8 565.2h.9M333.5 560.4h.9M333.7 561.5h.9M329.7 565.1h.9M332.2 560.4h.9M334.5 561.9h.9M329.7 565.1h.9M333.6 566.9h.9M334.1 560.7h.9M333.9 561.2h.9M329.7 563.0h.9M330.7 565.9h.9M330.6 561.7h.9M334.8 564.1h.9M332.1 566.3h.9M334.2 567.0h.9M331.3 560.3h.9M335.4 568.2h.9M331.3 560.9h.9M332.4 565.5h.9M333.5 565.5h.9M334.0 566.9h.9M329.3 563.4h.9M332.8 568.2h.9M333.1 567.0h.9M333.0 567.1h.9M328.8 564.3h.9M335.3 568.5h.9M332.8 568.4h.9M329.8 565.2h.9M331.1 565.5h.9M329.6 563.1h.9M333.9 560.7h.9M331.2 560.7h.9M334.9 563.3h.9M333.9 565.8h.9M332.9 568.1h.9M334.4 561.7h.9M333.5 567.1h.9M329.2 563.8h.9M330.0 564.6h.9M332.0 567.0h.9M334.9 564.9h.9M332.4 565.7h.9M333.4 566.9h.9M332.5 566.0h.9M332.8 565.9h.9M333.0 565.5h.9M333.0 567.9h.9M330.3 564.3h.9M331.3 565.6h.9M330.3 565.9h.9M331.7 566.5h.9M335.3 567.9h.9M330.1 564.3h.9M331.1 560.8h.9M330.5 564.5h.9M331.7 565.5h.9M333.5 567.0h.9M334.4 568.3h.9M331.1 561.0h.9M329.6 563.6h.9M332.5 568.2h.9M334.8 567.2h.9M334.5 568.0h.9M335.2 567.7h.9M333.6 565.9h.9M334.5 562.6h.9M330.8 565.8h.9M334.4 562.1h.9M334.5 569.1h.9M332.6 568.7h.9M334.8 569.2h.9M333.1 569.0h.9M334.8 568.5h.9M331.0 564.8h.9" stroke="#28cc78" stroke-width=".9" fill="none"/>
<path d="M331.9 564.7h.9M331.3 561.4h.9M332.9 562.5h.9M333.9 564.6h.9M330.8 563.7h.9M331.9 561.4h.9M333.5 564.2h.9M333.6 563.9h.9M331.8 564.3h.9M333.3 563.6h.9M332.5 563.0h.9M331.9 561.1h.9M334.0 562.8h.9M330.9 562.4h.9M330.3 563.0h.9M330.9 562.5h.9M332.1 564.6h.9M332.7 562.7h.9M333.1 561.9h.9M331.5 564.0h.9M333.8 562.2h.9M333.4 564.4h.9M331.8 561.9h.9M333.6 564.3h.9M331.7 561.4h.9M332.2 564.7h.9M331.7 561.4h.9M333.3 563.4h.9M333.1 564.9h.9M333.2 564.0h.9M332.3 564.0h.9M333.9 564.1h.9M331.3 562.7h.9M333.5 562.6h.9M332.5 561.7h.9M333.5 563.2h.9M333.6 563.9h.9M331.9 562.7h.9M332.6 561.7h.9M332.7 562.1h.9M332.6 562.5h.9M332.8 561.7h.9M333.4 563.0h.9M331.9 563.0h.9M332.6 562.0h.9M333.4 565.2h.9M333.4 564.0h.9M333.4 563.0h.9M333.9 563.7h.9M334.0 563.5h.9M331.9 563.1h.9M332.4 564.1h.9M331.2 564.3h.9M330.8 564.0h.9M330.4 563.4h.9M333.3 565.1h.9M333.7 562.9h.9M333.8 562.1h.9M333.1 561.5h.9M333.1 562.9h.9M330.5 563.9h.9M332.2 564.5h.9M332.3 564.8h.9M330.8 563.7h.9M331.9 564.6h.9M333.0 563.8h.9M330.7 563.6h.9M332.7 561.0h.9M332.3 562.3h.9M331.4 563.3h.9M333.3 562.8h.9M331.8 561.5h.9M333.8 562.0h.9M333.1 561.2h.9M331.8 564.7h.9M334.0 564.6h.9M333.6 561.6h.9M333.3 563.1h.9M333.2 562.4h.9M331.1 562.2h.9M332.0 564.9h.9M333.1 564.6h.9M331.0 562.9h.9" stroke="#3ede50" stroke-width=".9" fill="none"/>
<rect x="333.3" y="591.5" width="1.2" height="0.9" fill="#40c040"/>
<rect x="332.8" y="591.5" width="1.2" height="0.9" fill="#3050d0"/>
<rect x="346.4" y="591.5" width="1.2" height="0.9" fill="#e04030"/>
<rect x="359.9" y="591.5" width="1.2" height="0.9" fill="#e0a020"/>
<rect x="339.6" y="591.5" width="1.2" height="0.9" fill="#e0a020"/>
<rect x="340.9" y="591.5" width="1.2" height="0.9" fill="#3050d0"/>
<rect x="355.9" y="591.5" width="1.2" height="0.9" fill="#e04030"/>
<rect x="305.8" y="591.5" width="1.2" height="0.9" fill="#20a0c0"/>
<rect x="347.9" y="591.5" width="1.2" height="0.9" fill="#3050d0"/>
<rect x="310.3" y="591.5" width="1.2" height="0.9" fill="#e04030"/>
<rect x="322.7" y="591.5" width="1.2" height="0.9" fill="#20a0c0"/>
<rect x="358.6" y="591.5" width="1.2" height="0.9" fill="#40c040"/>
<rect x="306.7" y="591.5" width="1.2" height="0.9" fill="#20a0c0"/>
<rect x="352.9" y="591.5" width="1.2" height="0.9" fill="#e0a020"/>
<rect x="354.6" y="591.5" width="1.2" height="0.9" fill="#e04030"/>
<rect x="339.6" y="591.5" width="1.2" height="0.9" fill="#e04030"/>
<rect x="336.8" y="591.5" width="1.2" height="0.9" fill="#3050d0"/>
<rect x="353.8" y="591.5" width="1.2" height="0.9" fill="#20a0c0"/>
<rect x="300.5" y="591.5" width="1.2" height="0.9" fill="#3050d0"/>
<rect x="324.6" y="591.5" width="1.2" height="0.9" fill="#3050d0"/>
<rect x="351.0" y="591.5" width="1.2" height="0.9" fill="#e04030"/>
<rect x="357.1" y="591.5" width="1.2" height="0.9" fill="#3050d0"/>
<rect x="355.1" y="591.5" width="1.2" height="0.9" fill="#40c040"/>
<rect x="352.9" y="591.5" width="1.2" height="0.9" fill="#40c040"/>
<rect x="339.6" y="591.5" width="1.2" height="0.9" fill="#40c040"/>
<rect x="298.1" y="591.5" width="1.2" height="0.9" fill="#40c040"/>
<rect x="304.9" y="591.5" width="1.2" height="0.9" fill="#40c040"/>
<rect x="304.3" y="591.5" width="1.2" height="0.9" fill="#20a0c0"/>
<rect x="318.6" y="591.5" width="1.2" height="0.9" fill="#e04030"/>
<rect x="354.5" y="591.5" width="1.2" height="0.9" fill="#3050d0"/>
<rect x="284.5" y="494" width="106.2" height="98.8" fill="none" stroke="#3a3a3a" stroke-width="0.9" />
<line x1="340.4" y1="494" x2="340.4" y2="592.8" stroke="#222" stroke-width="1.1" />
<line x1="284.5" y1="549.1" x2="390.7" y2="549.1" stroke="#222" stroke-width="1.1" />
<text x="287.3" y="503.3" font-size="4.6" font-weight="normal" text-anchor="start" fill="#333" >Q1</text>
<text x="287.3" y="510.4" font-size="4.6" font-weight="normal" text-anchor="start" fill="#333" >0.66</text>
<text x="381.9" y="503.3" font-size="4.6" font-weight="normal" text-anchor="end" fill="#333" >Q2</text>
<text x="381.9" y="510.4" font-size="4.6" font-weight="normal" text-anchor="end" fill="#333" >3.97</text>
<text x="287.3" y="580.6" font-size="4.6" font-weight="normal" text-anchor="start" fill="#333" >Q4</text>
<text x="287.3" y="587.8" font-size="4.6" font-weight="normal" text-anchor="start" fill="#333" >86.8</text>
<text x="381.9" y="580.6" font-size="4.6" font-weight="normal" text-anchor="end" fill="#333" >Q3</text>
<text x="381.9" y="587.8" font-size="4.6" font-weight="normal" text-anchor="end" fill="#333" >8.54</text>
<line x1="282.9" y1="591.3" x2="284.5" y2="591.3" stroke="#444" stroke-width="0.6" />
<text x="281.9" y="592.9" font-size="3.9" text-anchor="end" fill="#444">10<tspan font-size="2.9" dy="-1.6">0</tspan></text>
<line x1="282.9" y1="573.5" x2="284.5" y2="573.5" stroke="#444" stroke-width="0.6" />
<text x="281.9" y="575.1" font-size="3.9" text-anchor="end" fill="#444">10<tspan font-size="2.9" dy="-1.6">1</tspan></text>
<line x1="282.9" y1="555.7" x2="284.5" y2="555.7" stroke="#444" stroke-width="0.6" />
<text x="281.9" y="557.3" font-size="3.9" text-anchor="end" fill="#444">10<tspan font-size="2.9" dy="-1.6">2</tspan></text>
<line x1="282.9" y1="537.9" x2="284.5" y2="537.9" stroke="#444" stroke-width="0.6" />
<text x="281.9" y="539.5" font-size="3.9" text-anchor="end" fill="#444">10<tspan font-size="2.9" dy="-1.6">3</tspan></text>
<line x1="282.9" y1="520.1" x2="284.5" y2="520.1" stroke="#444" stroke-width="0.6" />
<text x="281.9" y="521.7" font-size="3.9" text-anchor="end" fill="#444">10<tspan font-size="2.9" dy="-1.6">4</tspan></text>
<line x1="282.9" y1="502.3" x2="284.5" y2="502.3" stroke="#444" stroke-width="0.6" />
<text x="281.9" y="503.9" font-size="3.9" text-anchor="end" fill="#444">10<tspan font-size="2.9" dy="-1.6">5</tspan></text>
<line x1="288.3" y1="592.8" x2="288.3" y2="594.4" stroke="#444" stroke-width="0.6" />
<text x="287.3" y="604.3" font-size="3.8" text-anchor="middle" fill="#444">10<tspan font-size="2.8" dy="-1.4">0</tspan></text>
<line x1="304.3" y1="592.8" x2="304.3" y2="594.4" stroke="#444" stroke-width="0.6" />
<text x="303.3" y="604.3" font-size="3.8" text-anchor="middle" fill="#444">10<tspan font-size="2.8" dy="-1.4">1</tspan></text>
<line x1="324.1" y1="592.8" x2="324.1" y2="594.4" stroke="#444" stroke-width="0.6" />
<text x="323.1" y="604.3" font-size="3.8" text-anchor="middle" fill="#444">10<tspan font-size="2.8" dy="-1.4">2</tspan></text>
<line x1="343.6" y1="592.8" x2="343.6" y2="594.4" stroke="#444" stroke-width="0.6" />
<text x="342.6" y="604.3" font-size="3.8" text-anchor="middle" fill="#444">10<tspan font-size="2.8" dy="-1.4">3</tspan></text>
<line x1="363.4" y1="592.8" x2="363.4" y2="594.4" stroke="#444" stroke-width="0.6" />
<text x="362.4" y="604.3" font-size="3.8" text-anchor="middle" fill="#444">10<tspan font-size="2.8" dy="-1.4">4</tspan></text>
<line x1="382.8" y1="592.8" x2="382.8" y2="594.4" stroke="#444" stroke-width="0.6" />
<text x="381.8" y="604.3" font-size="3.8" text-anchor="middle" fill="#444">10<tspan font-size="2.8" dy="-1.4">5</tspan></text>
<line x1="453.6" y1="472.2" x2="453.6" y2="607.1" stroke="#000" stroke-width="1.4" />
<line x1="452.9" y1="606.4" x2="539.2" y2="606.4" stroke="#000" stroke-width="1.5" />
<line x1="450.1" y1="606.4" x2="453.6" y2="606.4" stroke="#000" stroke-width="1.2" />
<text x="449.3" y="609.7" font-size="9.3" font-weight="bold" text-anchor="end" fill="#000" >0</text>
<line x1="450.1" y1="561.9" x2="453.6" y2="561.9" stroke="#000" stroke-width="1.2" />
<text x="449.3" y="565.2" font-size="9.3" font-weight="bold" text-anchor="end" fill="#000" >5</text>
<line x1="450.1" y1="517.4" x2="453.6" y2="517.4" stroke="#000" stroke-width="1.2" />
<text x="449.3" y="520.7" font-size="9.3" font-weight="bold" text-anchor="end" fill="#000" >10</text>
<line x1="450.1" y1="472.9" x2="453.6" y2="472.9" stroke="#000" stroke-width="1.2" />
<text x="449.3" y="476.2" font-size="9.3" font-weight="bold" text-anchor="end" fill="#000" >15</text>
<line x1="469" y1="606.4" x2="469" y2="609.6" stroke="#000" stroke-width="1.2" />
<line x1="497.4" y1="606.4" x2="497.4" y2="609.6" stroke="#000" stroke-width="1.2" />
<line x1="527.8" y1="606.4" x2="527.8" y2="609.6" stroke="#000" stroke-width="1.2" />
<line x1="468.5" y1="545.88" x2="468.5" y2="544.1" stroke="#000" stroke-width="1.8" />
<line x1="463.8" y1="544.1" x2="473.2" y2="544.1" stroke="#000" stroke-width="1.9" />
<rect x="459.2" y="545.88" width="18.9" height="60.52" fill="#fff" stroke="#000" stroke-width="1.7" />
<line x1="498.4" y1="511.17" x2="498.4" y2="507.34" stroke="#000" stroke-width="1.8" />
<line x1="493.4" y1="507.34" x2="503.4" y2="507.34" stroke="#000" stroke-width="1.9" />
<rect x="489.1" y="511.17" width="18.8" height="95.23" fill="url(#hatchF2)" stroke="#000" stroke-width="1.7" />
<line x1="527.8" y1="494.26" x2="527.8" y2="493.19" stroke="#000" stroke-width="1.8" />
<line x1="522.6" y1="493.19" x2="532.8" y2="493.19" stroke="#000" stroke-width="1.9" />
<rect x="518.5" y="494.26" width="18.8" height="112.14" fill="url(#hatchB2)" stroke="#000" stroke-width="1.7" />
<line x1="464.2" y1="486.8" x2="528.2" y2="486.8" stroke="#000" stroke-width="1.9" />
<line x1="464.2" y1="502.4" x2="497.6" y2="502.4" stroke="#000" stroke-width="1.9" />
<text x="491.8" y="486.31" font-size="11" font-weight="bold" text-anchor="middle" fill="#000" >*</text>
<text x="496.55" y="486.31" font-size="11" font-weight="bold" text-anchor="middle" fill="#000" >*</text>
<text x="501.3" y="486.31" font-size="11" font-weight="bold" text-anchor="middle" fill="#000" >*</text>
<text x="480.2" y="502.61" font-size="11" font-weight="bold" text-anchor="middle" fill="#000" >*</text>
<text x="484.9" y="502.61" font-size="11" font-weight="bold" text-anchor="middle" fill="#000" >*</text>
<text transform="translate(434.4,543.8) rotate(-90)" font-size="10.3" font-weight="bold" text-anchor="middle" fill="#000">Apoptotic cells (%)</text>
<text x="399.4" y="622.2" font-size="10.8" font-weight="bold" text-anchor="start" fill="#000" >siATP1A1:</text>
<text x="470.4" y="622.2" font-size="10.8" font-weight="bold" text-anchor="middle" fill="#000" >-</text>
<text x="498.2" y="622.2" font-size="10.8" font-weight="bold" text-anchor="middle" fill="#000" >#1</text>
<text x="527.6" y="622.2" font-size="10.8" font-weight="bold" text-anchor="middle" fill="#000" >#2</text>
</svg></body></html>
